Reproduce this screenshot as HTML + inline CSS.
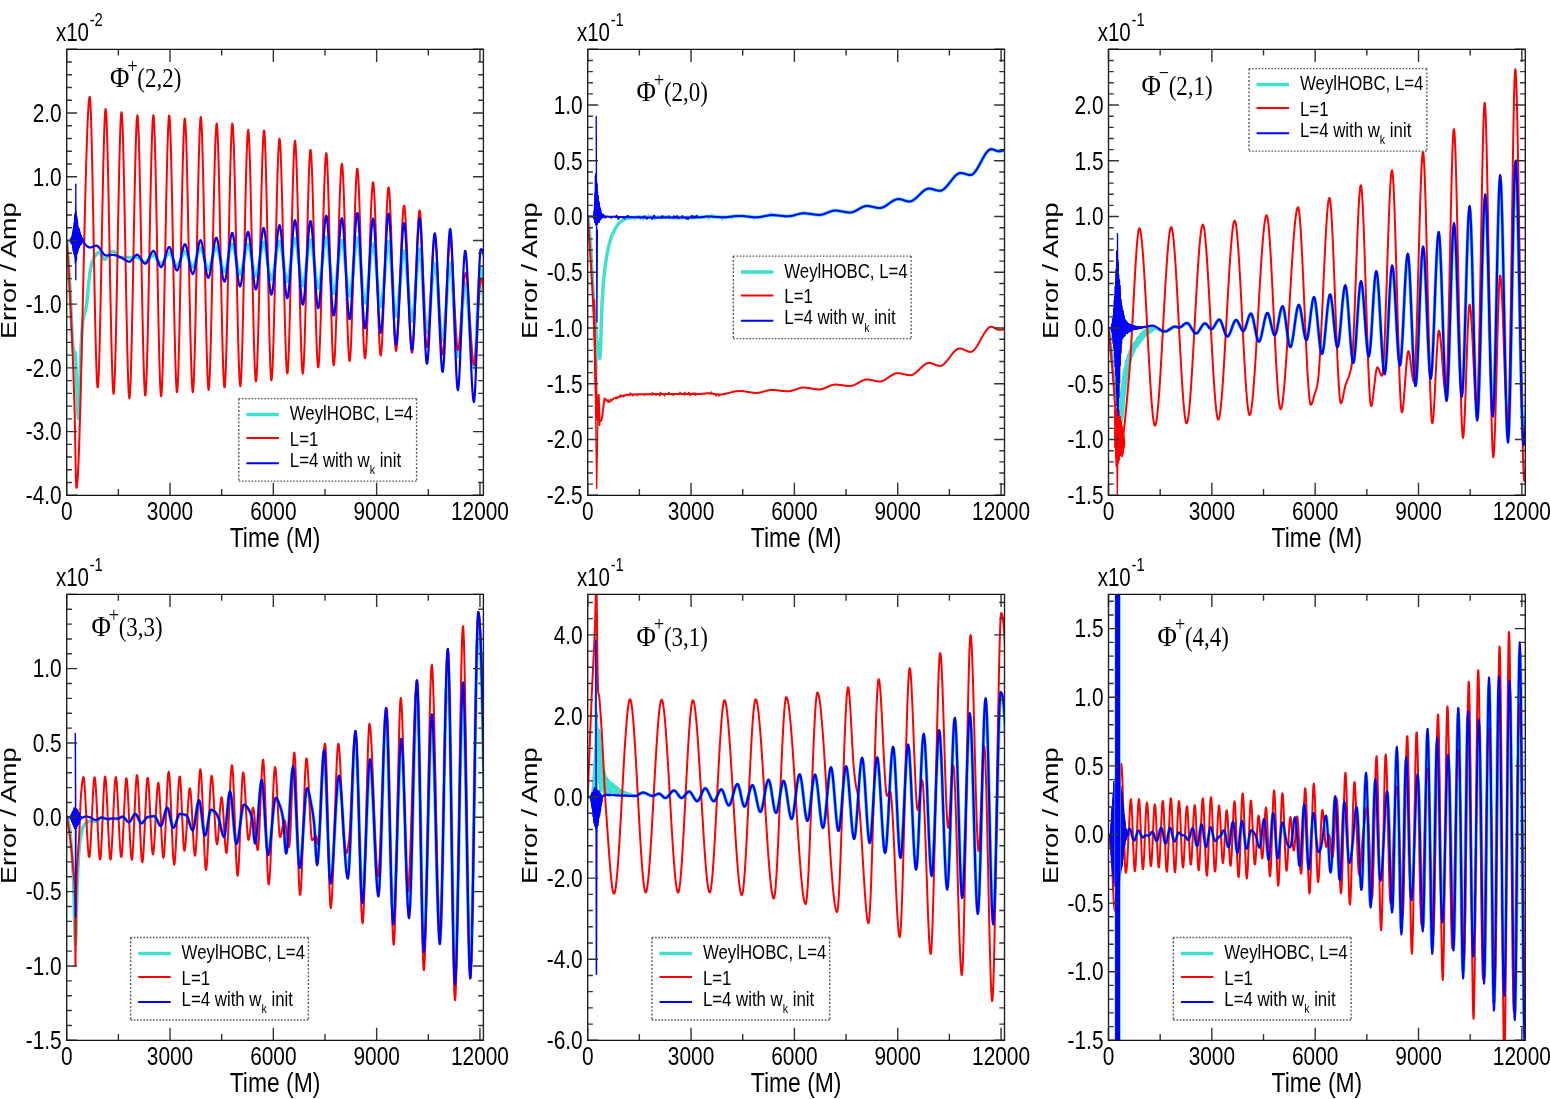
<!DOCTYPE html><html><head><meta charset="utf-8"><title>Error / Amp plots</title><style>html,body{margin:0;padding:0;background:#fff;width:1550px;height:1099px;overflow:hidden}svg{display:block}</style></head><body><svg width="1550" height="1099" viewBox="0 0 1550 1099">
<rect width="1550" height="1099" fill="#fff"/>
<clipPath id="c0"><rect x="66.7" y="49.3" width="416.7" height="446"/></clipPath>
<clipPath id="c1"><rect x="587.7" y="49.3" width="416.8" height="446"/></clipPath>
<clipPath id="c2"><rect x="1108.5" y="49.3" width="416.8" height="446"/></clipPath>
<clipPath id="c3"><rect x="66.7" y="594.35" width="416.7" height="445.95"/></clipPath>
<clipPath id="c4"><rect x="587.7" y="594.35" width="416.8" height="445.95"/></clipPath>
<clipPath id="c5"><rect x="1108.5" y="594.35" width="416.8" height="445.95"/></clipPath>
<g clip-path="url(#c0)" fill="none" stroke-linejoin="round" stroke-linecap="round"><path d="M66.7 240.4L67.1 245.4L67.5 250.8L67.9 256.4L68.3 262.4L68.7 268.5L69.1 274.9L69.5 281.5L69.9 288.3L70.3 295.6L70.7 303.9L71.1 312.8L71.5 321.7L71.9 329.9L72.3 337L72.7 342.8L73.1 348.6L73.5 353.4L73.9 355.9L74.3 355.4L74.7 353.5L75.1 352.1L75.5 354.7L75.9 364L76.3 375.3L76.7 384.4L77.1 394.5L77.5 404.6L77.9 413.2L78.3 418.3L78.7 417.7L79.1 409.2L79.5 396.1L79.9 382.8L80.3 371.3L80.7 358.7L81.1 346.9L81.5 338L81.9 331.7L82.3 326.5L82.7 322.3L83.1 319.4L83.5 317.2L83.9 315.5L84.3 314.1L84.7 312.8L85.1 311.5L85.5 310.1L85.9 308.3L86.3 306.1L86.7 303.2L87.1 299.8L87.5 295.9L87.9 291.8L88.3 287.5L88.7 283.3L89.1 279.3L89.5 275.7L89.9 272.5L90.3 270L90.7 268.1L91.1 266.5L91.5 265L91.9 263.5L92.3 262.2L92.7 260.9L93.1 259.8L93.5 258.8L93.9 257.9L94.3 257.1L94.7 256.4L95.1 255.9L95.5 255.3L95.9 254.8L96.3 254.4L96.7 253.9L97.1 253.5L97.5 253.2L97.9 252.9L98.3 252.6L98.7 252.5L99.1 252.4L99.5 252.5L99.9 252.7L100.3 253.1L100.7 253.7L101.1 254.3L101.5 255L101.9 255.8L102.3 256.6L102.7 257.3L103.1 258L103.5 258.5L103.9 259L104.3 259.3L104.7 259.4L105.1 259.3L105.5 259.1L105.9 258.7L106.3 258.2L106.7 257.6L107.1 257L107.5 256.4L107.9 255.7L108.3 255L108.7 254.4L109.1 253.9L109.5 253.4L109.9 253.1L110.3 252.8L110.7 252.6L111.1 252.3L111.5 252.1L111.9 251.9L112.3 251.8L112.7 251.7L113.1 251.6L113.5 251.6L113.9 251.8L114.3 252L114.7 252.3L115.1 252.7L115.5 253.2L115.9 253.7L116.3 254.2L116.7 254.7L117.1 255.2L117.5 255.7L117.9 256.2L118.3 256.6L118.7 256.9L119.1 257.2L119.5 257.4L119.9 257.5L120.3 257.5L120.7 257.5L121.1 257.5L121.5 257.5L121.9 257.5L122.3 257.5L122.7 257.5L123.1 257.5L123.5 257.5L123.9 257.5L124.3 257.5L124.7 257.5L125.1 257.5L125.5 257.5L125.9 257.5L126.3 257.5L126.7 257.5L127.1 257.5L127.5 257.5L127.9 257.5L128.3 257.5L128.7 257.5L129.1 257.5L129.5 257.5L129.9 257.5L130.3 257.5L130.7 257.5L131.1 257.5L131.5 257.5L131.9 257.5L132.3 257.5L132.7 257.5L133.1 257.5L133.5 257.5L133.9 257.5L134.3 257.5L134.7 257.5L135.1 257.5L135.5 257.5L135.9 257.5L136.3 257.5L136.7 257.5L137.1 257.5L137.5 257.5L137.9 257.7L138.3 257.8L138.7 258L139.1 258.3L139.5 258.5L139.9 258.8L140.3 259.2L140.7 259.5L141.1 259.8L141.5 260.2L141.9 260.5L142.3 260.8L142.7 261.1L143.1 261.4L143.5 261.7L143.9 261.9L144.3 262.1L144.7 262.2L145.1 262.2L145.5 262.2L145.9 262.1L146.3 262L146.7 261.7L147.1 261.4L147.5 261L147.9 260.5L148.3 260.1L148.7 259.6L149.1 259L149.5 258.5L149.9 258L150.3 257.5L150.7 257L151.1 256.6L151.5 256.1L151.9 255.8L152.3 255.5L152.7 255.3L153.1 255.2L153.5 255.2L153.9 255.3L154.3 255.5L154.7 255.8L155.1 256.3L155.5 256.8L155.9 257.4L156.3 258L156.7 258.6L157.1 259.3L157.5 260L157.9 260.7L158.3 261.4L158.7 262L159.1 262.5L159.5 263L159.9 263.4L160.3 263.7L160.7 263.9L161.1 264L161.5 263.9L161.9 263.7L162.3 263.4L162.7 262.9L163.1 262.4L163.5 261.7L163.9 261L164.3 260.3L164.7 259.5L165.1 258.7L165.5 257.9L165.9 257.1L166.3 256.3L166.7 255.5L167.1 254.9L167.5 254.3L167.9 253.8L168.3 253.4L168.7 253.1L169.1 252.9L169.5 252.9L169.9 253.1L170.3 253.5L170.7 254L171.1 254.7L171.5 255.5L171.9 256.3L172.3 257.3L172.7 258.3L173.1 259.3L173.5 260.3L173.9 261.3L174.3 262.2L174.7 263.1L175.1 263.9L175.5 264.6L175.9 265.2L176.3 265.6L176.7 265.8L177.1 265.9L177.5 265.7L177.9 265.4L178.3 264.9L178.7 264.2L179.1 263.4L179.5 262.6L179.9 261.6L180.3 260.6L180.7 259.5L181.1 258.4L181.5 257.4L181.9 256.3L182.3 255.3L182.7 254.4L183.1 253.6L183.5 252.8L183.9 252.3L184.3 251.8L184.7 251.6L185.1 251.5L185.5 251.7L185.9 252.1L186.3 252.7L186.7 253.4L187.1 254.3L187.5 255.3L187.9 256.3L188.3 257.5L188.7 258.6L189.1 259.8L189.5 261L189.9 262.1L190.3 263.2L190.7 264.2L191.1 265L191.5 265.8L191.9 266.3L192.3 266.7L192.7 266.9L193.1 266.8L193.5 266.5L193.9 265.9L194.3 265.1L194.7 264.1L195.1 262.9L195.5 261.6L195.9 260.2L196.3 258.8L196.7 257.4L197.1 255.9L197.5 254.5L197.9 253.1L198.3 251.9L198.7 250.8L199.1 249.8L199.5 249L199.9 248.5L200.3 248.2L200.7 248.2L201.1 248.5L201.5 249.1L201.9 250L202.3 251L202.7 252.2L203.1 253.6L203.5 255.1L203.9 256.6L204.3 258.2L204.7 259.9L205.1 261.4L205.5 263L205.9 264.4L206.3 265.7L206.7 266.8L207.1 267.8L207.5 268.5L207.9 269L208.3 269.1L208.7 269L209.1 268.5L209.5 267.8L209.9 266.8L210.3 265.7L210.7 264.4L211.1 262.9L211.5 261.4L211.9 259.8L212.3 258.2L212.7 256.5L213.1 254.9L213.5 253.4L213.9 251.9L214.3 250.6L214.7 249.5L215.1 248.5L215.5 247.8L215.9 247.3L216.3 247.2L216.7 247.4L217.1 247.8L217.5 248.6L217.9 249.6L218.3 250.8L218.7 252.2L219.1 253.7L219.5 255.3L219.9 257.1L220.3 258.8L220.7 260.6L221.1 262.3L221.5 264L221.9 265.6L222.3 267L222.7 268.3L223.1 269.5L223.5 270.3L223.9 271L224.3 271.3L224.7 271.3L225.1 270.9L225.5 270.1L225.9 269L226.3 267.6L226.7 266L227.1 264.2L227.5 262.2L227.9 260.2L228.3 258.1L228.7 256L229.1 253.9L229.5 252L229.9 250.1L230.3 248.5L230.7 247L231.1 245.8L231.5 245L231.9 244.5L232.3 244.4L232.7 244.7L233.1 245.4L233.5 246.6L233.9 248L234.3 249.7L234.7 251.6L235.1 253.7L235.5 255.9L235.9 258.1L236.3 260.4L236.7 262.7L237.1 264.9L237.5 267L237.9 268.9L238.3 270.6L238.7 272L239.1 273.1L239.5 273.9L239.9 274.2L240.3 274.1L240.7 273.6L241.1 272.7L241.5 271.5L241.9 270L242.3 268.3L242.7 266.4L243.1 264.3L243.5 262.1L243.9 259.9L244.3 257.7L244.7 255.5L245.1 253.4L245.5 251.4L245.9 249.6L246.3 248L246.7 246.6L247.1 245.6L247.5 244.8L247.9 244.5L248.3 244.6L248.7 245.2L249.1 246.2L249.5 247.5L249.9 249.1L250.3 251L250.7 253.1L251.1 255.3L251.5 257.6L251.9 260L252.3 262.4L252.7 264.8L253.1 267L253.5 269.1L253.9 271.1L254.3 272.7L254.7 274.1L255.1 275.2L255.5 275.9L255.9 276.1L256.3 275.8L256.7 275.1L257.1 273.9L257.5 272.3L257.9 270.5L258.3 268.3L258.7 266L259.1 263.5L259.5 260.9L259.9 258.3L260.3 255.7L260.7 253.1L261.1 250.8L261.5 248.6L261.9 246.6L262.3 245L262.7 243.7L263.1 242.8L263.5 242.4L263.9 242.6L264.3 243.2L264.7 244.4L265.1 246L265.5 247.9L265.9 250.1L266.3 252.6L266.7 255.3L267.1 258L267.5 260.9L267.9 263.7L268.3 266.5L268.7 269.1L269.1 271.6L269.5 273.8L269.9 275.7L270.3 277.3L270.7 278.5L271.1 279.1L271.5 279.3L271.9 278.9L272.3 278L272.7 276.7L273.1 275L273.5 273L273.9 270.7L274.3 268.2L274.7 265.5L275.1 262.7L275.5 259.9L275.9 257.1L276.3 254.4L276.7 251.7L277.1 249.3L277.5 247L277.9 245.1L278.3 243.5L278.7 242.3L279.1 241.5L279.5 241.2L279.9 241.5L280.3 242.4L280.7 243.8L281.1 245.6L281.5 247.8L281.9 250.3L282.3 253L282.7 255.9L283.1 258.9L283.5 262L283.9 265.1L284.3 268.1L284.7 270.9L285.1 273.5L285.5 275.9L285.9 277.9L286.3 279.5L286.7 280.6L287.1 281.2L287.5 281.2L287.9 280.5L288.3 279.3L288.7 277.5L289.1 275.3L289.5 272.8L289.9 269.9L290.3 266.8L290.7 263.6L291.1 260.3L291.5 256.9L291.9 253.7L292.3 250.5L292.7 247.6L293.1 245L293.5 242.7L293.9 240.8L294.3 239.4L294.7 238.6L295.1 238.4L295.5 239L295.9 240.2L296.3 241.9L296.7 244.2L297.1 246.9L297.5 249.9L297.9 253.2L298.3 256.7L298.7 260.3L299.1 263.9L299.5 267.5L299.9 271L300.3 274.3L300.7 277.3L301.1 280L301.5 282.2L301.9 284L302.3 285.2L302.7 285.7L303.1 285.5L303.5 284.7L303.9 283.2L304.3 281.2L304.7 278.8L305.1 276L305.5 272.8L305.9 269.5L306.3 266L306.7 262.5L307.1 258.9L307.5 255.5L307.9 252.2L308.3 249.1L308.7 246.4L309.1 244.1L309.5 242.2L309.9 240.9L310.3 240.2L310.7 240.2L311.1 240.9L311.5 242.3L311.9 244.3L312.3 246.7L312.7 249.6L313.1 252.8L313.5 256.2L313.9 259.9L314.3 263.6L314.7 267.3L315.1 271L315.5 274.5L315.9 277.8L316.3 280.7L316.7 283.3L317.1 285.4L317.5 286.9L317.9 287.8L318.3 288L318.7 287.5L319.1 286.3L319.5 284.5L319.9 282.3L320.3 279.6L320.7 276.5L321.1 273.2L321.5 269.7L321.9 266L322.3 262.2L322.7 258.5L323.1 254.8L323.5 251.3L323.9 248.1L324.3 245.1L324.7 242.5L325.1 240.4L325.5 238.7L325.9 237.7L326.3 237.4L326.7 237.8L327.1 239.2L327.5 241.3L327.9 244.1L328.3 247.4L328.7 251.2L329.1 255.4L329.5 259.7L329.9 264.2L330.3 268.8L330.7 273.2L331.1 277.5L331.5 281.5L331.9 285.1L332.3 288.1L332.7 290.6L333.1 292.4L333.5 293.3L333.9 293.3L334.3 292.6L334.7 291.2L335.1 289.3L335.5 286.9L335.9 284L336.3 280.8L336.7 277.3L337.1 273.7L337.5 269.9L337.9 266L338.3 262.1L338.7 258.4L339.1 254.8L339.5 251.5L339.9 248.4L340.3 245.8L340.7 243.6L341.1 241.9L341.5 240.9L341.9 240.5L342.3 241L342.7 242.2L343.1 244.1L343.5 246.7L343.9 249.8L344.3 253.3L344.7 257.2L345.1 261.3L345.5 265.5L345.9 269.8L346.3 274.1L346.7 278.2L347.1 282.2L347.5 285.8L347.9 289L348.3 291.7L348.7 293.8L349.1 295.2L349.5 295.8L349.9 295.6L350.3 294.5L350.7 292.6L351.1 290.1L351.5 287L351.9 283.4L352.3 279.4L352.7 275.2L353.1 270.8L353.5 266.2L353.9 261.7L354.3 257.4L354.7 253.2L355.1 249.3L355.5 245.8L355.9 242.8L356.3 240.4L356.7 238.8L357.1 237.9L357.5 237.9L357.9 238.9L358.3 240.8L358.7 243.4L359.1 246.8L359.5 250.7L359.9 255L360.3 259.7L360.7 264.7L361.1 269.7L361.5 274.8L361.9 279.8L362.3 284.5L362.7 289L363.1 293L363.5 296.5L363.9 299.4L364.3 301.4L364.7 302.7L365.1 302.9L365.5 302.3L365.9 300.9L366.3 298.9L366.7 296.2L367.1 293.1L367.5 289.5L367.9 285.6L368.3 281.5L368.7 277.2L369.1 272.8L369.5 268.5L369.9 264.2L370.3 260.1L370.7 256.3L371.1 252.8L371.5 249.8L371.9 247.3L372.3 245.4L372.7 244.2L373.1 243.8L373.5 244.3L373.9 245.7L374.3 248L374.7 251L375.1 254.6L375.5 258.6L375.9 263.1L376.3 267.8L376.7 272.7L377.1 277.7L377.5 282.6L377.9 287.3L378.3 291.8L378.7 295.8L379.1 299.4L379.5 302.4L379.9 304.7L380.3 306.1L380.7 306.6L381.1 306.1L381.5 304.7L381.9 302.6L382.3 299.7L382.7 296.2L383.1 292.3L383.5 287.9L383.9 283.3L384.3 278.5L384.7 273.5L385.1 268.6L385.5 263.8L385.9 259.3L386.3 255L386.7 251.2L387.1 247.8L387.5 245.1L387.9 243.1L388.3 242L388.7 241.7L389.1 242.7L389.5 244.7L389.9 247.8L390.3 251.7L390.7 256.3L391.1 261.5L391.5 267.1L391.9 272.9L392.3 279L392.7 285L393.1 290.9L393.5 296.5L393.9 301.6L394.3 306.3L394.7 310.2L395.1 313.2L395.5 315.3L395.9 316.2L396.3 316L396.7 314.9L397.1 313L397.5 310.4L397.9 307.2L398.3 303.5L398.7 299.3L399.1 294.9L399.5 290.2L399.9 285.4L400.3 280.6L400.7 275.8L401.1 271.2L401.5 266.9L401.9 262.8L402.3 259.2L402.7 256.2L403.1 253.7L403.5 252L403.9 251.1L404.3 251.1L404.7 252.2L405.1 254.1L405.5 256.8L405.9 260.2L406.3 264.3L406.7 268.8L407.1 273.6L407.5 278.7L407.9 284L408.3 289.3L408.7 294.6L409.1 299.6L409.5 304.4L409.9 308.8L410.3 312.7L410.7 315.9L411.1 318.5L411.5 320.2L411.9 321L412.3 320.7L412.7 319.3L413.1 316.9L413.5 313.7L413.9 309.8L414.3 305.3L414.7 300.3L415.1 294.9L415.5 289.3L415.9 283.7L416.3 278.1L416.7 272.6L417.1 267.4L417.5 262.6L417.9 258.4L418.3 254.8L418.7 252L419.1 250.1L419.5 249.2L419.9 249.6L420.3 251.4L420.7 254.3L421.1 258.3L421.5 263.2L421.9 268.8L422.3 275L422.7 281.6L423.1 288.4L423.5 295.2L423.9 302L424.3 308.5L424.7 314.5L425.1 320L425.5 324.7L425.9 328.4L426.3 331.1L426.7 332.5L427.1 332.6L427.5 331.6L427.9 329.6L428.3 326.9L428.7 323.6L429.1 319.6L429.5 315.1L429.9 310.3L430.3 305.3L430.7 300.1L431.1 294.8L431.5 289.6L431.9 284.6L432.3 279.9L432.7 275.6L433.1 271.7L433.5 268.5L433.9 266L434.3 264.3L434.7 263.5L435.1 263.8L435.5 265.3L435.9 267.7L436.3 270.9L436.7 275L437.1 279.6L437.5 284.7L437.9 290.2L438.3 296L438.7 301.9L439.1 307.8L439.5 313.5L439.9 319L440.3 324.2L440.7 328.8L441.1 332.8L441.5 336.1L441.9 338.5L442.3 339.9L442.7 340.2L443.1 339.3L443.5 337.3L443.9 334.3L444.3 330.4L444.7 325.8L445.1 320.7L445.5 315.1L445.9 309.2L446.3 303.2L446.7 297.1L447.1 291.1L447.5 285.4L447.9 280L448.3 275.1L448.7 270.9L449.1 267.5L449.5 264.9L449.9 263.4L450.3 263.1L450.7 264.2L451.1 266.6L451.5 270.1L451.9 274.7L452.3 280.1L452.7 286.2L453.1 292.8L453.5 299.8L453.9 307L454.3 314.2L454.7 321.4L455.1 328.3L455.5 334.8L455.9 340.7L456.3 345.9L456.7 350.3L457.1 353.5L457.5 355.6L457.9 356.3L458.3 355.7L458.7 353.9L459.1 351.1L459.5 347.4L459.9 342.9L460.3 337.9L460.7 332.4L461.1 326.6L461.5 320.6L461.9 314.7L462.3 308.8L462.7 303.2L463.1 298L463.5 293.4L463.9 289.5L464.3 286.5L464.7 284.4L465.1 283.5L465.5 283.7L465.9 285L466.3 287.1L466.7 290.1L467.1 293.7L467.5 298L467.9 302.8L468.3 307.9L468.7 313.4L469.1 319.1L469.5 324.9L469.9 330.7L470.3 336.4L470.7 341.9L471.1 347.2L471.5 352.1L471.9 356.5L472.3 360.3L472.7 363.4L473.1 365.8L473.5 367.3L473.9 367.8L474.3 366.8L474.7 364.1L475.1 359.8L475.5 354.2L475.9 347.5L476.3 339.9L476.7 331.8L477.1 323.2L477.5 314.6L477.9 306L478.3 297.7L478.7 290L479.1 283L479.5 277.1L479.9 272.5L480.3 269.3L480.7 267.9L481.1 268.3L481.5 270.2L481.9 273.6L482.3 278.4L482.7 284.2L483.1 291.2L483.5 299.1L483.9 307.7L484.3 317.1L484.5 322" stroke="#40e0d0" stroke-width="3.5"/><path d="M66.7 240.4L67.1 245.4L67.5 250.9L67.9 256.8L68.3 263.2L68.7 270L69.1 277.2L69.5 284.8L69.9 292.7L70.3 300.9L70.7 309.3L71.1 318L71.5 326.9L71.9 336L72.3 345.3L72.7 354.8L73.1 364.8L73.5 375.7L73.9 387.3L74.3 399.9L74.7 413.8L75.1 433.8L75.5 457L75.9 477L76.3 487.8L76.7 487.7L77.1 485.2L77.5 480.7L77.9 474.5L78.3 466.6L78.7 457.2L79.1 446.4L79.5 434.4L79.9 421.2L80.3 407L80.7 391.9L81.1 376.1L81.5 359.7L81.9 342.7L82.3 325.4L82.7 307.9L83.1 290.2L83.5 272.6L83.9 255.1L84.3 237.9L84.7 221.1L85.1 204.8L85.5 189.1L85.9 174.3L86.3 160.3L86.7 147.4L87.1 135.7L87.5 125.2L87.9 116.2L88.3 108.7L88.7 102.9L89.1 98.9L89.5 96.9L89.9 97.1L90.3 101.3L90.7 109.1L91.1 120.2L91.5 134.2L91.9 150.5L92.3 168.9L92.7 188.7L93.1 209.6L93.5 231.2L93.9 253.1L94.3 274.7L94.7 295.6L95.1 315.4L95.5 333.8L95.9 350.1L96.3 364.1L96.7 375.2L97.1 383L97.5 387.2L97.9 387.2L98.3 383.1L98.7 375.4L99.1 364.5L99.5 350.9L99.9 334.9L100.3 317L100.7 297.7L101.1 277.3L101.5 256.3L101.9 235.1L102.3 214.3L102.7 194.1L103.1 175.1L103.5 157.6L103.9 142.2L104.3 129.2L104.7 119L105.1 112.2L105.5 109.1L105.9 110.2L106.3 115.2L106.7 123.7L107.1 135.3L107.5 149.6L107.9 166.1L108.3 184.5L108.7 204.2L109.1 224.9L109.5 246.1L109.9 267.4L110.3 288.5L110.7 308.7L111.1 327.8L111.5 345.3L111.9 360.8L112.3 373.8L112.7 383.9L113.1 390.7L113.5 393.8L113.9 392.7L114.3 387.7L114.7 379L115.1 367.3L115.5 352.9L115.9 336.2L116.3 317.7L116.7 297.8L117.1 277L117.5 255.7L117.9 234.4L118.3 213.4L118.7 193.3L119.1 174.4L119.5 157.2L119.9 142.2L120.3 129.7L120.7 120.3L121.1 114.3L121.5 112.2L121.9 114.3L122.3 120.4L122.7 130L123.1 142.7L123.5 158L123.9 175.4L124.3 194.6L124.7 215.1L125.1 236.4L125.5 258.1L125.9 279.7L126.3 300.8L126.7 321L127.1 339.8L127.5 356.8L127.9 371.5L128.3 383.4L128.7 392.2L129.1 397.3L129.5 398.4L129.9 395.3L130.3 388.6L130.7 378.5L131.1 365.6L131.5 350.2L131.9 332.8L132.3 313.8L132.7 293.7L133.1 272.8L133.5 251.6L133.9 230.5L134.3 209.9L134.7 190.3L135.1 172.1L135.5 155.6L135.9 141.4L136.3 129.9L136.7 121.4L137.1 116.5L137.5 115.4L137.9 118.5L138.3 125.4L138.7 135.6L139.1 148.7L139.5 164.2L139.9 181.8L140.3 200.9L140.7 221.2L141.1 242.3L141.5 263.5L141.9 284.7L142.3 305.2L142.7 324.7L143.1 342.7L143.5 358.7L143.9 372.5L144.3 383.5L144.7 391.2L145.1 395.3L145.5 395.3L145.9 391.4L146.3 384L146.7 373.5L147.1 360.4L147.5 344.9L147.9 327.6L148.3 308.8L148.7 288.9L149.1 268.4L149.5 247.7L149.9 227L150.3 207L150.7 187.9L151.1 170.1L151.5 154.2L151.9 140.4L152.3 129.2L152.7 121L153.1 116.2L153.5 115.2L153.9 118.5L154.3 125.7L154.7 136.4L155.1 150.2L155.5 166.4L155.9 184.8L156.3 204.7L156.7 225.7L157.1 247.4L157.5 269.3L157.9 290.9L158.3 311.7L158.7 331.3L159.1 349.2L159.5 364.8L159.9 377.8L160.3 387.7L160.7 394L161.1 396.2L161.5 394.2L161.9 388.5L162.3 379.5L162.7 367.6L163.1 353.3L163.5 336.8L163.9 318.7L164.3 299.3L164.7 279.1L165.1 258.4L165.5 237.6L165.9 217.2L166.3 197.5L166.7 179.1L167.1 162.2L167.5 147.2L167.9 134.7L168.3 124.9L168.7 118.4L169.1 115.4L169.5 116.5L169.9 121.6L170.3 130.3L170.7 142.1L171.1 156.6L171.5 173.4L171.9 191.9L172.3 211.8L172.7 232.6L173.1 253.8L173.5 275L173.9 295.8L174.3 315.7L174.7 334.2L175.1 351L175.5 365.5L175.9 377.3L176.3 386L176.7 391.1L177.1 392.2L177.5 389.1L177.9 382.2L178.3 372L178.7 358.9L179.1 343.4L179.5 325.9L179.9 306.8L180.3 286.7L180.7 265.8L181.1 244.8L181.5 223.9L181.9 203.8L182.3 184.7L182.7 167.2L183.1 151.7L183.5 138.6L183.9 128.4L184.3 121.5L184.7 118.4L185.1 119.4L185.5 124.2L185.9 132.4L186.3 143.6L186.7 157.3L187.1 173.2L187.5 190.9L187.9 209.8L188.3 229.7L188.7 250.2L189.1 270.7L189.5 290.9L189.9 310.4L190.3 328.8L190.7 345.6L191.1 360.4L191.5 372.9L191.9 382.7L192.3 389.2L192.7 392.2L193.1 391.2L193.5 386.3L193.9 378.1L194.3 366.9L194.7 353.1L195.1 337.1L195.5 319.4L195.9 300.3L196.3 280.3L196.7 259.8L197.1 239.1L197.5 218.8L197.9 199.2L198.3 180.8L198.7 163.9L199.1 148.9L199.5 136.4L199.9 126.6L200.3 120L200.7 117L201.1 118.1L201.5 123.1L201.9 131.7L202.3 143.3L202.7 157.6L203.1 174.1L203.5 192.4L203.9 212L204.3 232.5L204.7 253.5L205.1 274.4L205.5 294.9L205.9 314.5L206.3 332.8L206.7 349.3L207.1 363.6L207.5 375.2L207.9 383.8L208.3 388.8L208.7 389.9L209.1 387.1L209.5 380.9L209.9 371.6L210.3 359.7L210.7 345.5L211.1 329.5L211.5 312L211.9 293.3L212.3 273.9L212.7 254.2L213.1 234.6L213.5 215.4L213.9 196.9L214.3 179.7L214.7 164.1L215.1 150.5L215.5 139.2L215.9 130.7L216.3 125.3L216.7 123.4L217.1 125.4L217.5 131.2L217.9 140.2L218.3 152.2L218.7 166.6L219.1 183.1L219.5 201.1L219.9 220.4L220.3 240.3L220.7 260.6L221.1 280.8L221.5 300.5L221.9 319.2L222.3 336.5L222.7 352L223.1 365.2L223.5 375.8L223.9 383.2L224.3 387.2L224.7 387.2L225.1 383.4L225.5 376.1L225.9 365.7L226.3 352.8L226.7 337.6L227.1 320.7L227.5 302.3L227.9 283L228.3 263.1L228.7 243L229.1 223.2L229.5 204.1L229.9 186.1L230.3 169.5L230.7 154.8L231.1 142.5L231.5 132.9L231.9 126.4L232.3 123.5L232.7 124.5L233.1 129.2L233.5 137.3L233.9 148.2L234.3 161.7L234.7 177.3L235.1 194.5L235.5 213L235.9 232.4L236.3 252.3L236.7 272.2L237.1 291.8L237.5 310.6L237.9 328.2L238.3 344.2L238.7 358.2L239.1 369.9L239.5 378.7L239.9 384.2L240.3 386.2L240.7 384.3L241.1 378.8L241.5 370.2L241.9 358.9L242.3 345.2L242.7 329.6L243.1 312.4L243.5 294.1L243.9 275L244.3 255.6L244.7 236.2L245.1 217.3L245.5 199.2L245.9 182.3L246.3 167.2L246.7 154L247.1 143.3L247.5 135.5L247.9 130.9L248.3 129.9L248.7 132.8L249.1 139.3L249.5 148.9L249.9 161.2L250.3 175.8L250.7 192.2L251.1 210L251.5 228.9L251.9 248.3L252.3 267.9L252.7 287.2L253.1 305.9L253.5 323.4L253.9 339.4L254.3 353.4L254.7 365.1L255.1 373.9L255.5 379.5L255.9 381.5L256.3 379.8L256.7 374.8L257.1 366.9L257.5 356.5L257.9 343.9L258.3 329.5L258.7 313.6L259.1 296.6L259.5 278.7L259.9 260.4L260.3 242.1L260.7 224L261.1 206.5L261.5 190L261.9 174.8L262.3 161.2L262.7 149.7L263.1 140.5L263.5 134L263.9 130.6L264.3 130.8L264.7 135L265.1 143L265.5 154.3L265.9 168.3L266.3 184.7L266.7 202.8L267.1 222.3L267.5 242.5L267.9 263.1L268.3 283.4L268.7 303.1L269.1 321.6L269.5 338.5L269.9 353.1L270.3 365.2L270.7 374L271.1 379.3L271.5 380.4L271.9 377.8L272.3 372.2L272.7 363.8L273.1 353L273.5 340.2L273.9 325.6L274.3 309.7L274.7 292.8L275.1 275.2L275.5 257.3L275.9 239.5L276.3 222L276.7 205.3L277.1 189.7L277.5 175.6L277.9 163.2L278.3 153L278.7 145.2L279.1 140.3L279.5 138.6L279.9 140.4L280.3 145.5L280.7 153.6L281.1 164.2L281.5 177.1L281.9 191.7L282.3 207.8L282.7 224.9L283.1 242.7L283.5 260.7L283.9 278.7L284.3 296.2L284.7 312.8L285.1 328.2L285.5 342L285.9 353.8L286.3 363.2L286.7 369.8L287.1 373.3L287.5 373.3L287.9 369.8L288.3 363L288.7 353.5L289.1 341.6L289.5 327.6L289.9 312L290.3 295.3L290.7 277.6L291.1 259.6L291.5 241.5L291.9 223.7L292.3 206.7L292.7 190.7L293.1 176.4L293.5 163.9L293.9 153.7L294.3 146.2L294.7 141.8L295.1 140.9L295.5 143.5L295.9 149.4L296.3 158.1L296.7 169.2L297.1 182.4L297.5 197.3L297.9 213.5L298.3 230.6L298.7 248.3L299.1 266.3L299.5 284L299.9 301.1L300.3 317.3L300.7 332.2L301.1 345.4L301.5 356.5L301.9 365.2L302.3 371.1L302.7 373.7L303.1 372.8L303.5 368.6L303.9 361.4L304.3 351.6L304.7 339.6L305.1 325.7L305.5 310.4L305.9 294L306.3 276.9L306.7 259.5L307.1 242.1L307.5 225.1L307.9 209L308.3 194L308.7 180.5L309.1 169L309.5 159.9L309.9 153.4L310.3 149.9L310.7 149.9L311.1 153.3L311.5 159.6L311.9 168.5L312.3 179.7L312.7 192.7L313.1 207.3L313.5 223L313.9 239.5L314.3 256.4L314.7 273.3L315.1 289.9L315.5 305.9L315.9 320.8L316.3 334.2L316.7 345.9L317.1 355.4L317.5 362.4L317.9 366.5L318.3 367.4L318.7 365.2L319.1 360.1L319.5 352.7L319.9 343.1L320.3 331.7L320.7 318.8L321.1 304.7L321.5 289.7L321.9 274.2L322.3 258.3L322.7 242.5L323.1 227L323.5 212.2L323.9 198.4L324.3 185.9L324.7 174.9L325.1 165.8L325.5 159L325.9 154.6L326.3 153.1L326.7 154.9L327.1 160L327.5 168.1L327.9 178.6L328.3 191.3L328.7 205.7L329.1 221.3L329.5 237.9L329.9 255L330.3 272.2L330.7 289.1L331.1 305.3L331.5 320.4L331.9 334L332.3 345.7L332.7 355L333.1 361.6L333.5 365.1L333.9 365.2L334.3 362.5L334.7 357.3L335.1 350L335.5 340.7L335.9 329.8L336.3 317.6L336.7 304.3L337.1 290.3L337.5 275.8L337.9 261L338.3 246.3L338.7 232L339.1 218.3L339.5 205.5L339.9 194L340.3 183.9L340.7 175.5L341.1 169.2L341.5 165.2L341.9 163.8L342.3 165.3L342.7 169.7L343.1 176.7L343.5 185.8L343.9 196.8L344.3 209.4L344.7 223.1L345.1 237.7L345.5 252.9L345.9 268.2L346.3 283.4L346.7 298.2L347.1 312.2L347.5 325.1L347.9 336.5L348.3 346.1L348.7 353.6L349.1 358.7L349.5 361L349.9 360.2L350.3 356.6L350.7 350.4L351.1 342L351.5 331.7L351.9 319.8L352.3 306.6L352.7 292.5L353.1 277.9L353.5 262.9L353.9 247.9L354.3 233.4L354.7 219.5L355.1 206.6L355.5 195.1L355.9 185.2L356.3 177.3L356.7 171.7L357.1 168.8L357.5 168.8L357.9 171.7L358.3 177.2L358.7 185L359.1 194.7L359.5 206.1L359.9 218.8L360.3 232.5L360.7 246.8L361.1 261.5L361.5 276.3L361.9 290.8L362.3 304.7L362.7 317.7L363.1 329.4L363.5 339.6L363.9 347.9L364.3 354L364.7 357.6L365.1 358.3L365.5 356.5L365.9 352.4L366.3 346.2L366.7 338.4L367.1 329L367.5 318.4L367.9 306.8L368.3 294.5L368.7 281.7L369.1 268.7L369.5 255.7L369.9 243L370.3 230.8L370.7 219.4L371.1 209.1L371.5 200.1L371.9 192.7L372.3 187L372.7 183.4L373.1 182.2L373.5 183.6L373.9 187.6L374.3 193.8L374.7 202L375.1 211.9L375.5 223.2L375.9 235.5L376.3 248.5L376.7 262.1L377.1 275.7L377.5 289.3L377.9 302.3L378.3 314.6L378.7 325.9L379.1 335.8L379.5 344L379.9 350.2L380.3 354.2L380.7 355.6L381.1 354.3L381.5 350.8L381.9 345.1L382.3 337.7L382.7 328.7L383.1 318.4L383.5 307.2L383.9 295.1L384.3 282.6L384.7 269.9L385.1 257.1L385.5 244.7L385.9 232.8L386.3 221.8L386.7 211.8L387.1 203.2L387.5 196.2L387.9 191L388.3 188L388.7 187.4L389.1 189.4L389.5 194L389.9 200.7L390.3 209.3L390.7 219.4L391.1 230.8L391.5 243.1L391.9 256L392.3 269.2L392.7 282.4L393.1 295.3L393.5 307.6L393.9 319L394.3 329.1L394.7 337.7L395.1 344.4L395.5 349L395.9 351L396.3 350.5L396.7 348L397.1 343.8L397.5 338L397.9 330.8L398.3 322.5L398.7 313.4L399.1 303.4L399.5 293L399.9 282.3L400.3 271.6L400.7 260.9L401.1 250.6L401.5 240.9L401.9 231.9L402.3 223.9L402.7 217L403.1 211.6L403.5 207.8L403.9 205.8L404.3 205.8L404.7 207.9L405.1 212L405.5 217.7L405.9 225L406.3 233.4L406.7 242.9L407.1 253.1L407.5 263.9L407.9 275L408.3 286.2L408.7 297.2L409.1 307.9L409.5 318L409.9 327.2L410.3 335.4L410.7 342.2L411.1 347.6L411.5 351.2L411.9 352.8L412.3 352.3L412.7 349.5L413.1 344.8L413.5 338.4L413.9 330.6L414.3 321.6L414.7 311.7L415.1 301.1L415.5 290L415.9 278.8L416.3 267.6L416.7 256.7L417.1 246.4L417.5 236.9L417.9 228.5L418.3 221.4L418.7 215.8L419.1 212.1L419.5 210.4L419.9 211L420.3 213.8L420.7 218.7L421.1 225.3L421.5 233.3L421.9 242.6L422.3 252.7L422.7 263.5L423.1 274.6L423.5 285.9L423.9 297L424.3 307.6L424.7 317.5L425.1 326.5L425.5 334.2L425.9 340.4L426.3 344.8L426.7 347.1L427.1 347.2L427.5 345.6L427.9 342.6L428.3 338.3L428.7 332.9L429.1 326.5L429.5 319.5L429.9 311.8L430.3 303.8L430.7 295.5L431.1 287.1L431.5 278.9L431.9 270.9L432.3 263.4L432.7 256.5L433.1 250.4L433.5 245.3L433.9 241.3L434.3 238.6L434.7 237.4L435.1 237.8L435.5 240L435.9 243.6L436.3 248.7L436.7 254.8L437.1 261.9L437.5 269.8L437.9 278.2L438.3 287L438.7 296L439.1 305L439.5 313.8L439.9 322.2L440.3 330.1L440.7 337.2L441.1 343.3L441.5 348.4L441.9 352L442.3 354.2L442.7 354.6L443.1 353.3L443.5 350.3L443.9 345.8L444.3 340.1L444.7 333.3L445.1 325.6L445.5 317.3L445.9 308.6L446.3 299.6L446.7 290.6L447.1 281.7L447.5 273.1L447.9 265.2L448.3 257.9L448.7 251.6L449.1 246.5L449.5 242.7L449.9 240.5L450.3 240.1L450.7 241.3L451.1 244.2L451.5 248.4L451.9 253.7L452.3 260.1L452.7 267.3L453.1 275.1L453.5 283.4L453.9 291.9L454.3 300.5L454.7 308.9L455.1 317.1L455.5 324.8L455.9 331.8L456.3 337.9L456.7 343L457.1 346.9L457.5 349.3L457.9 350.2L458.3 349.6L458.7 347.9L459.1 345.3L459.5 341.8L459.9 337.5L460.3 332.7L460.7 327.4L461.1 321.8L461.5 316L461.9 310L462.3 304.1L462.7 298.3L463.1 292.9L463.5 287.8L463.9 283.3L464.3 279.4L464.7 276.3L465.1 274.1L465.5 273L465.9 273L466.3 274.2L466.7 276.6L467.1 279.9L467.5 284.1L467.9 289.1L468.3 294.7L468.7 300.7L469.1 307.1L469.5 313.7L469.9 320.4L470.3 327.1L470.7 333.6L471.1 339.9L471.5 345.7L471.9 351L472.3 355.6L472.7 359.4L473.1 362.2L473.5 364.1L473.9 364.7L474.3 364L474.7 361.8L475.1 358.5L475.5 354.1L475.9 348.8L476.3 342.8L476.7 336.3L477.1 329.4L477.5 322.4L477.9 315.3L478.3 308.4L478.7 301.8L479.1 295.6L479.5 290.2L479.9 285.5L480.3 281.9L480.7 279.5L481.1 278.3L481.5 278.5L481.9 279.4L482.3 280.9L482.7 283.1L483.1 285.9L483.5 289.3L483.9 293.2L484.3 297.6L484.5 300" stroke="#ff0000" stroke-width="2.0"/><path d="M83.5 242L83.9 242.6L84.3 243.1L84.7 243.6L85.1 244.1L85.5 244.6L85.9 245L86.3 245.5L86.7 245.8L87.1 246.2L87.5 246.5L87.9 246.8L88.3 247L88.7 247.2L89.1 247.4L89.5 247.5L89.9 247.5L90.3 247.5L90.7 247.4L91.1 247.4L91.5 247.3L91.9 247.1L92.3 247L92.7 246.8L93.1 246.7L93.5 246.5L93.9 246.3L94.3 246.2L94.7 246L95.1 245.9L95.5 245.8L95.9 245.7L96.3 245.7L96.7 245.7L97.1 245.8L97.5 246L97.9 246.3L98.3 246.6L98.7 247L99.1 247.5L99.5 248L99.9 248.6L100.3 249.1L100.7 249.8L101.1 250.4L101.5 251L101.9 251.6L102.3 252.2L102.7 252.8L103.1 253.3L103.5 253.8L103.9 254.3L104.3 254.7L104.7 255L105.1 255.3L105.5 255.4L105.9 255.5L106.3 255.5L106.7 255.5L107.1 255.5L107.5 255.4L107.9 255.4L108.3 255.4L108.7 255.3L109.1 255.3L109.5 255.2L109.9 255.2L110.3 255.2L110.7 255.1L111.1 255.1L111.5 255.1L111.9 255L112.3 255L112.7 255L113.1 255L113.5 255L113.9 255.1L114.3 255.1L114.7 255.2L115.1 255.3L115.5 255.4L115.9 255.5L116.3 255.6L116.7 255.8L117.1 255.9L117.5 256L117.9 256.2L118.3 256.4L118.7 256.5L119.1 256.7L119.5 256.8L119.9 257L120.3 257.1L120.7 257.3L121.1 257.5L121.5 257.7L121.9 257.9L122.3 258.2L122.7 258.4L123.1 258.7L123.5 259L123.9 259.2L124.3 259.5L124.7 259.8L125.1 260L125.5 260.3L125.9 260.5L126.3 260.7L126.7 261L127.1 261.1L127.5 261.3L127.9 261.5L128.3 261.6L128.7 261.6L129.1 261.7L129.5 261.7L129.9 261.6L130.3 261.4L130.7 261.2L131.1 260.8L131.5 260.4L131.9 259.9L132.3 259.4L132.7 258.9L133.1 258.3L133.5 257.8L133.9 257.2L134.3 256.7L134.7 256.2L135.1 255.8L135.5 255.4L135.9 255.1L136.3 254.9L136.7 254.7L137.1 254.7L137.5 254.8L137.9 255L138.3 255.3L138.7 255.7L139.1 256.1L139.5 256.7L139.9 257.2L140.3 257.8L140.7 258.5L141.1 259.1L141.5 259.8L141.9 260.4L142.3 261L142.7 261.6L143.1 262.1L143.5 262.6L143.9 263L144.3 263.3L144.7 263.6L145.1 263.7L145.5 263.7L145.9 263.5L146.3 263.2L146.7 262.7L147.1 262.1L147.5 261.4L147.9 260.6L148.3 259.7L148.7 258.8L149.1 257.9L149.5 256.9L149.9 256L150.3 255.1L150.7 254.2L151.1 253.4L151.5 252.7L151.9 252.1L152.3 251.5L152.7 251.2L153.1 251L153.5 250.9L153.9 251.1L154.3 251.5L154.7 252.1L155.1 252.9L155.5 253.9L155.9 254.9L156.3 256.1L156.7 257.3L157.1 258.5L157.5 259.8L157.9 261L158.3 262.2L158.7 263.4L159.1 264.4L159.5 265.3L159.9 266L160.3 266.6L160.7 267L161.1 267.1L161.5 267L161.9 266.6L162.3 265.9L162.7 265.1L163.1 264.1L163.5 262.9L163.9 261.7L164.3 260.3L164.7 258.9L165.1 257.4L165.5 255.9L165.9 254.5L166.3 253.1L166.7 251.8L167.1 250.6L167.5 249.5L167.9 248.6L168.3 247.8L168.7 247.3L169.1 247L169.5 247L169.9 247.4L170.3 248.1L170.7 249L171.1 250.3L171.5 251.7L171.9 253.2L172.3 254.9L172.7 256.7L173.1 258.5L173.5 260.3L173.9 262.1L174.3 263.9L174.7 265.5L175.1 266.9L175.5 268.2L175.9 269.2L176.3 270L176.7 270.4L177.1 270.5L177.5 270.2L177.9 269.6L178.3 268.6L178.7 267.4L179.1 266L179.5 264.4L179.9 262.6L180.3 260.8L180.7 258.8L181.1 256.9L181.5 254.9L181.9 253L182.3 251.2L182.7 249.5L183.1 247.9L183.5 246.6L183.9 245.6L184.3 244.8L184.7 244.3L185.1 244.2L185.5 244.6L185.9 245.3L186.3 246.4L186.7 247.8L187.1 249.5L187.5 251.4L187.9 253.5L188.3 255.7L188.7 258L189.1 260.3L189.5 262.6L189.9 264.8L190.3 266.9L190.7 268.8L191.1 270.5L191.5 271.9L191.9 273L192.3 273.7L192.7 274.1L193.1 273.9L193.5 273.3L193.9 272.2L194.3 270.7L194.7 268.9L195.1 266.8L195.5 264.5L195.9 262L196.3 259.4L196.7 256.8L197.1 254.1L197.5 251.6L197.9 249.1L198.3 246.8L198.7 244.8L199.1 243.1L199.5 241.7L199.9 240.7L200.3 240.2L200.7 240.2L201.1 240.7L201.5 241.8L201.9 243.3L202.3 245.2L202.7 247.4L203.1 249.9L203.5 252.6L203.9 255.4L204.3 258.3L204.7 261.2L205.1 264L205.5 266.8L205.9 269.4L206.3 271.7L206.7 273.8L207.1 275.5L207.5 276.8L207.9 277.6L208.3 277.9L208.7 277.6L209.1 276.8L209.5 275.5L209.9 273.7L210.3 271.6L210.7 269.2L211.1 266.6L211.5 263.7L211.9 260.8L212.3 257.8L212.7 254.8L213.1 251.9L213.5 249L213.9 246.4L214.3 244L214.7 241.9L215.1 240.1L215.5 238.8L215.9 238L216.3 237.7L216.7 238L217.1 238.9L217.5 240.3L217.9 242.1L218.3 244.3L218.7 246.8L219.1 249.6L219.5 252.6L219.9 255.7L220.3 258.9L220.7 262.2L221.1 265.3L221.5 268.4L221.9 271.3L222.3 274L222.7 276.4L223.1 278.4L223.5 280L223.9 281.1L224.3 281.7L224.7 281.7L225.1 281L225.5 279.5L225.9 277.5L226.3 275L226.7 272.1L227.1 268.8L227.5 265.3L227.9 261.6L228.3 257.8L228.7 254L229.1 250.2L229.5 246.6L229.9 243.3L230.3 240.3L230.7 237.7L231.1 235.5L231.5 233.9L231.9 233L232.3 232.8L232.7 233.4L233.1 234.8L233.5 236.8L233.9 239.3L234.3 242.4L234.7 245.8L235.1 249.5L235.5 253.5L235.9 257.5L236.3 261.7L236.7 265.7L237.1 269.7L237.5 273.4L237.9 276.8L238.3 279.9L238.7 282.4L239.1 284.4L239.5 285.8L239.9 286.4L240.3 286.2L240.7 285.2L241.1 283.6L241.5 281.4L241.9 278.6L242.3 275.5L242.7 272L243.1 268.2L243.5 264.2L243.9 260.2L244.3 256.1L244.7 252.1L245.1 248.2L245.5 244.5L245.9 241.2L246.3 238.2L246.7 235.7L247.1 233.8L247.5 232.5L247.9 231.9L248.3 232.1L248.7 233.2L249.1 234.9L249.5 237.3L249.9 240.3L250.3 243.7L250.7 247.5L251.1 251.5L251.5 255.8L251.9 260.2L252.3 264.5L252.7 268.8L253.1 272.9L253.5 276.8L253.9 280.3L254.3 283.4L254.7 285.9L255.1 287.8L255.5 289.1L255.9 289.5L256.3 289L256.7 287.6L257.1 285.5L257.5 282.6L257.9 279.2L258.3 275.3L258.7 271L259.1 266.5L259.5 261.7L259.9 257L260.3 252.2L260.7 247.6L261.1 243.2L261.5 239.2L261.9 235.7L262.3 232.7L262.7 230.3L263.1 228.7L263.5 228L263.9 228.3L264.3 229.5L264.7 231.6L265.1 234.4L265.5 237.9L265.9 242L266.3 246.4L266.7 251.2L267.1 256.2L267.5 261.3L267.9 266.4L268.3 271.4L268.7 276.2L269.1 280.6L269.5 284.7L269.9 288.2L270.3 291L270.7 293.1L271.1 294.3L271.5 294.6L271.9 293.8L272.3 292.2L272.7 289.8L273.1 286.7L273.5 283L273.9 278.8L274.3 274.3L274.7 269.4L275.1 264.4L275.5 259.3L275.9 254.1L276.3 249.1L276.7 244.3L277.1 239.9L277.5 235.8L277.9 232.3L278.3 229.3L278.7 227.1L279.1 225.7L279.5 225.2L279.9 225.8L280.3 227.3L280.7 229.9L281.1 233.2L281.5 237.2L281.9 241.7L282.3 246.7L282.7 252L283.1 257.5L283.5 263.2L283.9 268.7L284.3 274.2L284.7 279.3L285.1 284.1L285.5 288.4L285.9 292.1L286.3 295L286.7 297.1L287.1 298.2L287.5 298.1L287.9 296.9L288.3 294.7L288.7 291.5L289.1 287.5L289.5 282.8L289.9 277.6L290.3 271.9L290.7 266L291.1 260L291.5 253.9L291.9 247.9L292.3 242.2L292.7 236.9L293.1 232L293.5 227.8L293.9 224.4L294.3 221.9L294.7 220.4L295.1 220.1L295.5 221.1L295.9 223.2L296.3 226.4L296.7 230.4L297.1 235.2L297.5 240.6L297.9 246.5L298.3 252.7L298.7 259.1L299.1 265.7L299.5 272.1L299.9 278.3L300.3 284.2L300.7 289.6L301.1 294.4L301.5 298.4L301.9 301.6L302.3 303.7L302.7 304.7L303.1 304.3L303.5 302.7L303.9 300.1L304.3 296.4L304.7 291.9L305.1 286.7L305.5 281L305.9 274.9L306.3 268.5L306.7 261.9L307.1 255.4L307.5 249.1L307.9 243L308.3 237.4L308.7 232.4L309.1 228.1L309.5 224.7L309.9 222.2L310.3 221L310.7 221L311.1 222.3L311.5 224.8L311.9 228.4L312.3 232.9L312.7 238.1L313.1 244L313.5 250.3L313.9 256.9L314.3 263.7L314.7 270.5L315.1 277.2L315.5 283.6L315.9 289.5L316.3 294.9L316.7 299.6L317.1 303.5L317.5 306.3L317.9 307.9L318.3 308.3L318.7 307.3L319.1 305.1L319.5 301.9L319.9 297.8L320.3 292.9L320.7 287.3L321.1 281.2L321.5 274.7L321.9 268L322.3 261.1L322.7 254.3L323.1 247.6L323.5 241.2L323.9 235.3L324.3 229.8L324.7 225.1L325.1 221.2L325.5 218.2L325.9 216.4L326.3 215.7L326.7 216.5L327.1 219L327.5 222.7L327.9 227.7L328.3 233.6L328.7 240.4L329.1 247.8L329.5 255.6L329.9 263.6L330.3 271.7L330.7 279.7L331.1 287.3L331.5 294.4L331.9 300.7L332.3 306.2L332.7 310.6L333.1 313.7L333.5 315.4L333.9 315.4L334.3 314.1L334.7 311.6L335.1 308.1L335.5 303.6L335.9 298.3L336.3 292.4L336.7 286L337.1 279.3L337.5 272.2L337.9 265.1L338.3 258L338.7 251.1L339.1 244.5L339.5 238.3L339.9 232.8L340.3 227.9L340.7 223.8L341.1 220.8L341.5 218.9L341.9 218.2L342.3 219L342.7 221.2L343.1 224.8L343.5 229.5L343.9 235.1L344.3 241.5L344.7 248.6L345.1 256L345.5 263.8L345.9 271.6L346.3 279.4L346.7 287L347.1 294.2L347.5 300.8L347.9 306.6L348.3 311.5L348.7 315.4L349.1 318L349.5 319.1L349.9 318.7L350.3 316.7L350.7 313.3L351.1 308.7L351.5 303L351.9 296.4L352.3 289.1L352.7 281.3L353.1 273.2L353.5 265L353.9 256.7L354.3 248.7L354.7 241L355.1 233.9L355.5 227.5L355.9 222.1L356.3 217.7L356.7 214.6L357.1 213L357.5 213L357.9 214.8L358.3 218.1L358.7 222.9L359.1 228.8L359.5 235.7L359.9 243.4L360.3 251.7L360.7 260.5L361.1 269.4L361.5 278.4L361.9 287.2L362.3 295.7L362.7 303.5L363.1 310.7L363.5 316.9L363.9 321.9L364.3 325.6L364.7 327.8L365.1 328.3L365.5 327.1L365.9 324.5L366.3 320.7L366.7 315.8L367.1 310L367.5 303.4L367.9 296.2L368.3 288.5L368.7 280.5L369.1 272.4L369.5 264.3L369.9 256.4L370.3 248.9L370.7 241.8L371.1 235.4L371.5 229.7L371.9 225.1L372.3 221.6L372.7 219.4L373.1 218.6L373.5 219.5L373.9 222.1L374.3 226.2L374.7 231.7L375.1 238.2L375.5 245.6L375.9 253.7L376.3 262.3L376.7 271.2L377.1 280.3L377.5 289.2L377.9 297.8L378.3 305.9L378.7 313.3L379.1 319.8L379.5 325.3L379.9 329.4L380.3 332L380.7 332.9L381.1 332L381.5 329.5L381.9 325.5L382.3 320.2L382.7 313.8L383.1 306.5L383.5 298.5L383.9 290L384.3 281.1L384.7 272.1L385.1 263L385.5 254.2L385.9 245.8L386.3 238L386.7 230.9L387.1 224.8L387.5 219.8L387.9 216.1L388.3 214L388.7 213.6L389.1 215.2L389.5 218.9L389.9 224.2L390.3 231.1L390.7 239.2L391.1 248.3L391.5 258.2L391.9 268.5L392.3 279.1L392.7 289.7L393.1 300L393.5 309.9L393.9 319L394.3 327.1L394.7 334L395.1 339.3L395.5 343L395.9 344.6L396.3 344.2L396.7 342.1L397.1 338.6L397.5 333.7L397.9 327.8L398.3 320.8L398.7 313.1L399.1 304.9L399.5 296.2L399.9 287.2L400.3 278.2L400.7 269.3L401.1 260.7L401.5 252.6L401.9 245.1L402.3 238.4L402.7 232.7L403.1 228.1L403.5 224.9L403.9 223.2L404.3 223.2L404.7 225.1L405.1 228.6L405.5 233.6L405.9 239.8L406.3 247.1L406.7 255.3L407.1 264.1L407.5 273.4L407.9 283L408.3 292.6L408.7 302.2L409.1 311.4L409.5 320L409.9 328L410.3 335.1L410.7 341L411.1 345.6L411.5 348.7L411.9 350.1L412.3 349.6L412.7 347L413.1 342.7L413.5 336.8L413.9 329.5L414.3 321.2L414.7 312L415.1 302.1L415.5 291.9L415.9 281.4L416.3 271.1L416.7 261L417.1 251.4L417.5 242.6L417.9 234.8L418.3 228.2L418.7 223L419.1 219.5L419.5 218L419.9 218.6L420.3 221.7L420.7 226.8L421.1 233.8L421.5 242.4L421.9 252.2L422.3 263L422.7 274.5L423.1 286.4L423.5 298.3L423.9 310.1L424.3 321.5L424.7 332L425.1 341.6L425.5 349.8L425.9 356.3L426.3 361L426.7 363.5L427.1 363.6L427.5 361.7L427.9 358.1L428.3 352.9L428.7 346.5L429.1 339.1L429.5 330.7L429.9 321.6L430.3 312.1L430.7 302.2L431.1 292.3L431.5 282.5L431.9 273.1L432.3 264.2L432.7 256L433.1 248.7L433.5 242.6L433.9 237.9L434.3 234.7L434.7 233.3L435.1 233.8L435.5 236.4L435.9 240.7L436.3 246.6L436.7 253.9L437.1 262.3L437.5 271.6L437.9 281.5L438.3 292L438.7 302.6L439.1 313.2L439.5 323.7L439.9 333.6L440.3 342.9L440.7 351.3L441.1 358.6L441.5 364.5L441.9 368.8L442.3 371.4L442.7 371.9L443.1 370.2L443.5 366.5L443.9 360.9L444.3 353.7L444.7 345.2L445.1 335.7L445.5 325.4L445.9 314.5L446.3 303.2L446.7 291.9L447.1 280.8L447.5 270.2L447.9 260.2L448.3 251.2L448.7 243.3L449.1 236.9L449.5 232.2L449.9 229.5L450.3 228.9L450.7 230.8L451.1 234.9L451.5 241L451.9 248.9L452.3 258.3L452.7 268.8L453.1 280.2L453.5 292.3L453.9 304.8L454.3 317.3L454.7 329.7L455.1 341.7L455.5 352.9L455.9 363.2L456.3 372.2L456.7 379.7L457.1 385.3L457.5 388.9L457.9 390.2L458.3 389L458.7 385.5L459.1 380.1L459.5 373L459.9 364.5L460.3 354.9L460.7 344.4L461.1 333.3L461.5 321.9L461.9 310.4L462.3 299.3L462.7 288.6L463.1 278.7L463.5 269.9L463.9 262.4L464.3 256.5L464.7 252.6L465.1 250.8L465.5 251.2L465.9 253.5L466.3 257.3L466.7 262.6L467.1 269.2L467.5 276.8L467.9 285.4L468.3 294.6L468.7 304.5L469.1 314.7L469.5 325L469.9 335.5L470.3 345.7L470.7 355.7L471.1 365.1L471.5 373.8L471.9 381.7L472.3 388.5L472.7 394.2L473.1 398.4L473.5 401.1L473.9 402L474.3 400.5L474.7 396.3L475.1 389.7L475.5 381.2L475.9 370.9L476.3 359.4L476.7 346.9L477.1 333.9L477.5 320.6L477.9 307.5L478.3 294.8L478.7 283L479.1 272.5L479.5 263.4L479.9 256.3L480.3 251.5L480.7 249.3L481.1 249.2L481.5 249.3L481.9 249.5L482.3 250.1L482.7 250.9L483.1 252.3L483.5 254.2L483.9 256.7L484.3 260L484.5 262" stroke="#0000ff" stroke-width="2.2"/><path d="M70 239.5L70.2 239.1L70.5 238.6L70.8 238.2L71 237.8L71.2 237.3L71.5 236.9L71.8 236.4L72 236L72.2 234.2L72.5 232.5L72.8 230.8L73 229L73.2 227.2L73.5 225.5L73.8 223.8L74 222L74.2 219.8L74.5 217.7L74.8 215.5L75 213.3L75.2 211.2L75.5 209L75.8 210.2L76 211.5L76.2 212.8L76.5 214L76.8 215.8L77 217.7L77.2 219.5L77.5 221.3L77.8 223.2L78 225L78.2 225.9L78.5 226.8L78.8 227.6L79 228.5L79.2 229.4L79.5 230.2L79.8 231.1L80 232L80.2 232.6L80.5 233.2L80.8 233.9L81 234.5L81.2 235.1L81.5 235.8L81.8 236.4L82 237L82.2 237.4L82.5 237.8L82.8 238.1L83 238.5L83.2 238.9L83.5 239.2L83.8 239.6L83.8 241.2L83.5 241.5L83.2 241.8L83 242L82.8 242.2L82.5 242.5L82.2 242.8L82 243L81.8 243.4L81.5 243.8L81.2 244.1L81 244.5L80.8 244.9L80.5 245.2L80.2 245.6L80 246L79.8 246.5L79.5 247L79.2 247.5L79 248L78.8 248.5L78.5 249L78.2 249.5L78 250L77.8 251.3L77.5 252.7L77.2 254L77 255.3L76.8 256.7L76.5 258L76.2 258.8L76 259.5L75.8 260.2L75.5 261L75.2 260L75 259L74.8 258L74.5 257L74.2 256L74 255L73.8 253.8L73.5 252.5L73.2 251.2L73 250L72.8 248.8L72.5 247.5L72.2 246.2L72 245L71.8 244.6L71.5 244.1L71.2 243.7L71 243.2L70.8 242.8L70.5 242.4L70.2 241.9L70 241.5Z" fill="#0000ff" stroke="none"/><path d="M70 239.5L70.2 242.1L70.5 238.9L70.7 243L70.9 238.1L71.1 243.4L71.4 236.8L71.6 244.2L71.8 236.3L72 244.6L72.3 233.6L72.5 247.6L72.7 231.4L73 250.7L73.2 228.4L73.4 251.9L73.6 226.1L73.9 253.9L74.1 222.7L74.3 255L74.5 215.8L74.8 256.7L75 213.4L75.2 263.4L75.5 205.8L75.7 262.2L75.9 210.7L76.1 257.5L76.4 215.6L76.6 260.5L76.8 216.2L77 253L77.3 219L77.5 254L77.7 222.5L78 251.8L78.2 227.3L78.4 249.3L78.6 227.4L78.9 246.9L79.1 228.4L79.3 248.3L79.5 230.2L79.8 245.9L80 231.3L80.2 245.7L80.5 233.1L80.7 245.4L80.9 234.8L81.1 244.7L81.4 235.2L81.6 243.9L81.8 236.9L82 243.2L82.3 237.7L82.5 242.2L82.7 237.9L83 242.2L83.2 238.6L83.4 241.6L83.6 239.5L83.9 241" stroke="#0000ff" stroke-width="0.9"/><path d="M75.8 184.2V279.7" stroke="#0000ff" stroke-width="1.4"/></g>
<g clip-path="url(#c1)" fill="none" stroke-linejoin="round" stroke-linecap="round"><path d="M587.7 216.6L588.1 219.2L588.5 222.3L588.9 226L589.3 230.1L589.7 234.5L590.1 239.2L590.5 245L590.9 251.7L591.3 259L591.7 266.7L592.1 274.4L592.5 281.8L592.9 288.5L593.3 294.5L593.7 300.5L594.1 306.5L594.5 312.2L594.9 317.8L595.3 323L595.7 327.8L596.1 332.1L596.5 335.9L596.9 339.7L597.3 343.5L597.7 347.1L598.1 350.5L598.5 353.5L598.9 355.9L599.3 357.6L599.7 358.4L600.1 356.4L600.5 348.7L600.9 337.3L601.3 324.2L601.7 311.6L602.1 301.8L602.5 295.3L602.9 289.6L603.3 284.4L603.7 279.8L604.1 275.7L604.5 272L604.9 268.6L605.3 265.5L605.7 262.6L606.1 259.9L606.5 257.4L606.9 255.1L607.3 252.9L607.7 251L608.1 249.2L608.5 247.4L608.9 245.7L609.3 244.1L609.7 242.6L610.1 241.1L610.5 239.7L610.9 238.4L611.3 237.1L611.7 236L612.1 234.9L612.5 233.9L612.9 233L613.3 232.2L613.7 231.4L614.1 230.6L614.5 229.8L614.9 229.1L615.3 228.4L615.7 227.7L616.1 227.1L616.5 226.5L616.9 225.9L617.3 225.3L617.7 224.8L618.1 224.3L618.5 223.8L618.9 223.4L619.3 223L619.7 222.6L620.1 222.2L620.5 221.9L620.9 221.6L621.3 221.3L621.7 221.1L622.1 220.8L622.5 220.5L622.9 220.3L623.3 220L623.7 219.8L624.1 219.6L624.5 219.4L624.9 219.2L625.3 219L625.7 218.9L626.1 218.7L626.5 218.6L626.9 218.5L627.3 218.4L627.7 218.3L628.1 218.2L628.5 218.2L628.9 218.1L629.3 218.1L629.7 218L630.1 217.9L630.5 217.9L630.9 217.8L631.3 217.8L631.7 217.7L632.1 217.7L632.5 217.6L632.9 217.6L633.3 217.6L633.7 217.5L634.1 217.5L634.5 217.4L634.9 217.4L635.3 217.4L635.7 217.4L636.1 217.3L636.5 217.3L636.9 217.3L637.3 217.3L637.7 217.2L638.1 217.2L638.5 217.2L638.9 217.2L639.3 217.2L639.7 217.2L640.1 217.2L640.5 217.2L640.9 217.2L641.3 217.2L641.7 217.2L642.1 217.2L642.5 217.2L642.9 217.2L643.3 217.2L643.7 217.2L644.1 217.2L644.5 217.2L644.9 217.2L645.3 217.2L645.7 217.2L646.1 217.2L646.5 217.2L646.9 217.2L647.3 217.2L647.7 217.2L648.1 217.2L648.5 217.2L648.9 217.2L649.3 217.2L649.7 217.2L650.1 217.2L650.5 217.2L650.9 217.2L651.3 217.2L651.7 217.2L652.1 217.3L652.5 217.3L652.9 217.3L653.3 217.3L653.7 217.3L654.1 217.3L654.5 217.3L654.9 217.3L655.3 217.3L655.7 217.3L656.1 217.3L656.5 217.3L656.9 217.3L657.3 217.3L657.7 217.3L658.1 217.3L658.5 217.3L658.9 217.3L659.3 217.3L659.7 217.3L660.1 217.3L660.5 217.3L660.9 217.3L661.3 217.3L661.7 217.3L662.1 217.3L662.5 217.3L662.9 217.3L663.3 217.3L663.7 217.3L664.1 217.3L664.5 217.3L664.9 217.3L665.3 217.3L665.7 217.3L666.1 217.3L666.5 217.3L666.9 217.3L667.3 217.3L667.7 217.3L668.1 217.4L668.5 217.4L668.9 217.4L669.3 217.4L669.7 217.4L670.1 217.4L670.5 217.4L670.9 217.4L671.3 217.4L671.7 217.4L672.1 217.4L672.5 217.4L672.9 217.4L673.3 217.4L673.7 217.4L674.1 217.4L674.5 217.4L674.9 217.4L675.3 217.4L675.7 217.4L676.1 217.4L676.5 217.4L676.9 217.4L677.3 217.4L677.7 217.4L678.1 217.4L678.5 217.4L678.9 217.4L679.3 217.4L679.7 217.4L680.1 217.4L680.5 217.4L680.9 217.4L681.3 217.4L681.7 217.4L682.1 217.4L682.5 217.4L682.9 217.4L683.3 217.4L683.7 217.4L684.1 217.4L684.5 217.4L684.9 217.4L685.3 217.4L685.7 217.4L686.1 217.4L686.5 217.4L686.9 217.4L687.3 217.4L687.7 217.4L688.1 217.4L688.5 217.4L688.9 217.4L689.3 217.4L689.7 217.4L690.1 217.4L690.5 217.4L690.9 217.4L691.3 217.4L691.7 217.4L692.1 217.4L692.5 217.4L692.9 217.4L693.3 217.4L693.7 217.4L694.1 217.4L694.5 217.4L694.9 217.3L695.3 217.3L695.7 217.3L696.1 217.3L696.5 217.3L696.9 217.3L697.3 217.3L697.7 217.3L698.1 217.3L698.5 217.3L698.9 217.3L699.3 217.3L699.7 217.3L700.1 217.3L700.5 217.3L700.9 217.3L701.3 217.2L701.7 217.2L702.1 217.1L702.5 217.1L702.9 217L703.3 217L703.7 216.9L704.1 216.9L704.5 216.8L704.9 216.8L705.3 216.7L705.7 216.6L706.1 216.6L706.5 216.6L706.9 216.5L707.3 216.5L707.7 216.5L708.1 216.5L708.5 216.5L708.9 216.5L709.3 216.5L709.7 216.5L710.1 216.5L710.5 216.6L710.9 216.6L711.3 216.6L711.7 216.6L712.1 216.6L712.5 216.7L712.9 216.7L713.3 216.7L713.7 216.7L714.1 216.8L714.5 216.8L714.9 216.8L715.3 216.9L715.7 216.9L716.1 216.9L716.5 217L716.9 217L717.3 217L717.7 217L718.1 217.1L718.5 217.1L718.9 217.1L719.3 217.1L719.7 217.2L720.1 217.2L720.5 217.2L720.9 217.2L721.3 217.3L721.7 217.3L722.1 217.3L722.5 217.3L722.9 217.3L723.3 217.3L723.7 217.3L724.1 217.3L724.5 217.3L724.9 217.3L725.3 217.3L725.7 217.2L726.1 217.2L726.5 217.2L726.9 217.2L727.3 217.1L727.7 217.1L728.1 217L728.5 217L728.9 216.9L729.3 216.9L729.7 216.8L730.1 216.8L730.5 216.7L730.9 216.7L731.3 216.6L731.7 216.6L732.1 216.5L732.5 216.5L732.9 216.4L733.3 216.4L733.7 216.3L734.1 216.3L734.5 216.2L734.9 216.2L735.3 216.1L735.7 216.1L736.1 216.1L736.5 216L736.9 216L737.3 216L737.7 216L738.1 215.9L738.5 215.9L738.9 215.9L739.3 215.9L739.7 215.9L740.1 215.9L740.5 215.9L740.9 215.9L741.3 215.9L741.7 216L742.1 216L742.5 216L742.9 216L743.3 216.1L743.7 216.1L744.1 216.2L744.5 216.2L744.9 216.2L745.3 216.3L745.7 216.3L746.1 216.4L746.5 216.4L746.9 216.5L747.3 216.5L747.7 216.6L748.1 216.6L748.5 216.7L748.9 216.7L749.3 216.8L749.7 216.8L750.1 216.9L750.5 216.9L750.9 217L751.3 217L751.7 217L752.1 217.1L752.5 217.1L752.9 217.2L753.3 217.2L753.7 217.2L754.1 217.2L754.5 217.3L754.9 217.3L755.3 217.3L755.7 217.3L756.1 217.3L756.5 217.3L756.9 217.3L757.3 217.3L757.7 217.3L758.1 217.2L758.5 217.2L758.9 217.1L759.3 217.1L759.7 217L760.1 217L760.5 216.9L760.9 216.8L761.3 216.8L761.7 216.7L762.1 216.6L762.5 216.5L762.9 216.5L763.3 216.4L763.7 216.3L764.1 216.2L764.5 216.1L764.9 216.1L765.3 216L765.7 215.9L766.1 215.8L766.5 215.7L766.9 215.7L767.3 215.6L767.7 215.5L768.1 215.5L768.5 215.4L768.9 215.3L769.3 215.3L769.7 215.2L770.1 215.2L770.5 215.2L770.9 215.1L771.3 215.1L771.7 215.1L772.1 215.1L772.5 215.1L772.9 215.1L773.3 215.1L773.7 215.1L774.1 215.2L774.5 215.2L774.9 215.2L775.3 215.2L775.7 215.3L776.1 215.3L776.5 215.3L776.9 215.4L777.3 215.4L777.7 215.4L778.1 215.5L778.5 215.5L778.9 215.6L779.3 215.6L779.7 215.7L780.1 215.7L780.5 215.8L780.9 215.8L781.3 215.8L781.7 215.9L782.1 215.9L782.5 216L782.9 216L783.3 216.1L783.7 216.1L784.1 216.1L784.5 216.2L784.9 216.2L785.3 216.2L785.7 216.2L786.1 216.3L786.5 216.3L786.9 216.3L787.3 216.3L787.7 216.3L788.1 216.3L788.5 216.3L788.9 216.3L789.3 216.2L789.7 216.2L790.1 216.1L790.5 216.1L790.9 216L791.3 215.9L791.7 215.9L792.1 215.8L792.5 215.7L792.9 215.6L793.3 215.5L793.7 215.4L794.1 215.3L794.5 215.2L794.9 215.1L795.3 214.9L795.7 214.8L796.1 214.7L796.5 214.6L796.9 214.5L797.3 214.4L797.7 214.3L798.1 214.2L798.5 214.1L798.9 214L799.3 213.9L799.7 213.8L800.1 213.7L800.5 213.6L800.9 213.5L801.3 213.5L801.7 213.4L802.1 213.4L802.5 213.3L802.9 213.3L803.3 213.3L803.7 213.3L804.1 213.3L804.5 213.3L804.9 213.3L805.3 213.3L805.7 213.4L806.1 213.4L806.5 213.4L806.9 213.5L807.3 213.5L807.7 213.6L808.1 213.6L808.5 213.7L808.9 213.7L809.3 213.8L809.7 213.8L810.1 213.9L810.5 213.9L810.9 214L811.3 214.1L811.7 214.1L812.1 214.2L812.5 214.2L812.9 214.3L813.3 214.4L813.7 214.4L814.1 214.5L814.5 214.5L814.9 214.6L815.3 214.6L815.7 214.7L816.1 214.7L816.5 214.8L816.9 214.8L817.3 214.8L817.7 214.8L818.1 214.9L818.5 214.9L818.9 214.9L819.3 214.9L819.7 214.9L820.1 214.9L820.5 214.8L820.9 214.8L821.3 214.7L821.7 214.7L822.1 214.6L822.5 214.5L822.9 214.4L823.3 214.2L823.7 214.1L824.1 214L824.5 213.8L824.9 213.7L825.3 213.5L825.7 213.4L826.1 213.2L826.5 213.1L826.9 212.9L827.3 212.8L827.7 212.6L828.1 212.4L828.5 212.3L828.9 212.1L829.3 212L829.7 211.8L830.1 211.7L830.5 211.5L830.9 211.4L831.3 211.3L831.7 211.1L832.1 211L832.5 210.9L832.9 210.8L833.3 210.8L833.7 210.7L834.1 210.7L834.5 210.6L834.9 210.6L835.3 210.6L835.7 210.6L836.1 210.6L836.5 210.6L836.9 210.7L837.3 210.7L837.7 210.7L838.1 210.8L838.5 210.8L838.9 210.9L839.3 211L839.7 211L840.1 211.1L840.5 211.2L840.9 211.2L841.3 211.3L841.7 211.4L842.1 211.4L842.5 211.5L842.9 211.6L843.3 211.7L843.7 211.7L844.1 211.8L844.5 211.9L844.9 212L845.3 212L845.7 212.1L846.1 212.2L846.5 212.2L846.9 212.3L847.3 212.3L847.7 212.4L848.1 212.4L848.5 212.4L848.9 212.5L849.3 212.5L849.7 212.5L850.1 212.5L850.5 212.5L850.9 212.5L851.3 212.4L851.7 212.3L852.1 212.2L852.5 212.1L852.9 212L853.3 211.9L853.7 211.7L854.1 211.6L854.5 211.4L854.9 211.2L855.3 211L855.7 210.8L856.1 210.6L856.5 210.4L856.9 210.1L857.3 209.9L857.7 209.7L858.1 209.5L858.5 209.2L858.9 209L859.3 208.8L859.7 208.5L860.1 208.3L860.5 208.1L860.9 207.9L861.3 207.7L861.7 207.4L862.1 207.3L862.5 207.1L862.9 206.9L863.3 206.7L863.7 206.6L864.1 206.5L864.5 206.3L864.9 206.2L865.3 206.1L865.7 206.1L866.1 206L866.5 206L866.9 206L867.3 206L867.7 206L868.1 206.1L868.5 206.1L868.9 206.1L869.3 206.2L869.7 206.3L870.1 206.3L870.5 206.4L870.9 206.5L871.3 206.6L871.7 206.6L872.1 206.7L872.5 206.8L872.9 206.9L873.3 207L873.7 207.1L874.1 207.2L874.5 207.3L874.9 207.4L875.3 207.5L875.7 207.5L876.1 207.6L876.5 207.7L876.9 207.8L877.3 207.8L877.7 207.9L878.1 207.9L878.5 208L878.9 208L879.3 208L879.7 208L880.1 208L880.5 208L880.9 207.9L881.3 207.8L881.7 207.7L882.1 207.6L882.5 207.5L882.9 207.3L883.3 207.1L883.7 207L884.1 206.8L884.5 206.5L884.9 206.3L885.3 206.1L885.7 205.8L886.1 205.6L886.5 205.3L886.9 205.1L887.3 204.8L887.7 204.5L888.1 204.2L888.5 203.9L888.9 203.7L889.3 203.4L889.7 203.1L890.1 202.8L890.5 202.5L890.9 202.2L891.3 202L891.7 201.7L892.1 201.4L892.5 201.2L892.9 201L893.3 200.7L893.7 200.5L894.1 200.3L894.5 200.1L894.9 199.9L895.3 199.8L895.7 199.6L896.1 199.5L896.5 199.4L896.9 199.3L897.3 199.2L897.7 199.1L898.1 199.1L898.5 199.1L898.9 199.1L899.3 199.1L899.7 199.2L900.1 199.3L900.5 199.3L900.9 199.4L901.3 199.5L901.7 199.6L902.1 199.7L902.5 199.9L902.9 200L903.3 200.1L903.7 200.3L904.1 200.4L904.5 200.5L904.9 200.6L905.3 200.8L905.7 200.9L906.1 201L906.5 201.1L906.9 201.2L907.3 201.3L907.7 201.4L908.1 201.4L908.5 201.5L908.9 201.5L909.3 201.5L909.7 201.5L910.1 201.4L910.5 201.4L910.9 201.3L911.3 201.1L911.7 201L912.1 200.8L912.5 200.6L912.9 200.4L913.3 200.1L913.7 199.9L914.1 199.6L914.5 199.3L914.9 199L915.3 198.6L915.7 198.3L916.1 198L916.5 197.6L916.9 197.2L917.3 196.8L917.7 196.5L918.1 196.1L918.5 195.7L918.9 195.3L919.3 194.9L919.7 194.5L920.1 194.1L920.5 193.7L920.9 193.3L921.3 193L921.7 192.6L922.1 192.2L922.5 191.9L922.9 191.5L923.3 191.2L923.7 190.9L924.1 190.6L924.5 190.3L924.9 190L925.3 189.8L925.7 189.6L926.1 189.4L926.5 189.2L926.9 189L927.3 188.9L927.7 188.8L928.1 188.7L928.5 188.6L928.9 188.6L929.3 188.6L929.7 188.6L930.1 188.7L930.5 188.7L930.9 188.8L931.3 188.9L931.7 188.9L932.1 189L932.5 189.1L932.9 189.2L933.3 189.4L933.7 189.5L934.1 189.6L934.5 189.7L934.9 189.8L935.3 190L935.7 190.1L936.1 190.2L936.5 190.3L936.9 190.4L937.3 190.5L937.7 190.6L938.1 190.6L938.5 190.7L938.9 190.7L939.3 190.8L939.7 190.8L940.1 190.8L940.5 190.8L940.9 190.7L941.3 190.6L941.7 190.4L942.1 190.2L942.5 190L942.9 189.8L943.3 189.5L943.7 189.2L944.1 188.9L944.5 188.6L944.9 188.2L945.3 187.8L945.7 187.4L946.1 187L946.5 186.5L946.9 186.1L947.3 185.6L947.7 185.1L948.1 184.6L948.5 184.1L948.9 183.6L949.3 183.1L949.7 182.6L950.1 182.1L950.5 181.6L950.9 181.1L951.3 180.6L951.7 180L952.1 179.5L952.5 179L952.9 178.6L953.3 178.1L953.7 177.6L954.1 177.2L954.5 176.7L954.9 176.3L955.3 175.9L955.7 175.5L956.1 175.2L956.5 174.8L956.9 174.5L957.3 174.2L957.7 174L958.1 173.7L958.5 173.5L958.9 173.3L959.3 173.2L959.7 173.1L960.1 173L960.5 173L960.9 173L961.3 173L961.7 173.1L962.1 173.1L962.5 173.2L962.9 173.3L963.3 173.4L963.7 173.5L964.1 173.6L964.5 173.7L964.9 173.8L965.3 173.9L965.7 174L966.1 174.2L966.5 174.3L966.9 174.4L967.3 174.5L967.7 174.6L968.1 174.7L968.5 174.8L968.9 174.9L969.3 174.9L969.7 175L970.1 175L970.5 175L970.9 175L971.3 174.9L971.7 174.7L972.1 174.6L972.5 174.3L972.9 174L973.3 173.7L973.7 173.3L974.1 172.9L974.5 172.5L974.9 172L975.3 171.5L975.7 170.9L976.1 170.4L976.5 169.8L976.9 169.1L977.3 168.5L977.7 167.8L978.1 167.1L978.5 166.4L978.9 165.7L979.3 165L979.7 164.2L980.1 163.5L980.5 162.8L980.9 162L981.3 161.3L981.7 160.5L982.1 159.8L982.5 159L982.9 158.3L983.3 157.6L983.7 156.9L984.1 156.2L984.5 155.6L984.9 154.9L985.3 154.3L985.7 153.7L986.1 153.1L986.5 152.6L986.9 152.1L987.3 151.6L987.7 151.2L988.1 150.8L988.5 150.4L988.9 150.1L989.3 149.8L989.7 149.6L990.1 149.4L990.5 149.3L990.9 149.2L991.3 149.2L991.7 149.2L992.1 149.3L992.5 149.4L992.9 149.4L993.3 149.6L993.7 149.7L994.1 149.8L994.5 150L994.9 150.2L995.3 150.3L995.7 150.5L996.1 150.6L996.5 150.8L996.9 150.9L997.3 151L997.7 151.1L998.1 151.2L998.5 151.3L998.9 151.3L999.3 151.3L999.7 151.3L1000.1 151.2L1000.5 151.2L1000.9 151.1L1001.3 151L1001.7 150.9L1002.1 150.8L1002.5 150.7L1002.9 150.6L1003.3 150.4L1003.7 150.2L1004.1 150L1004.5 149.8L1004.9 149.6L1005.3 149.4L1005.7 149.2L1006 149" stroke="#40e0d0" stroke-width="3.5"/><path d="M587.7 216.6L588.1 219.2L588.5 222.3L588.9 226L589.3 230.1L589.7 234.5L590.1 239.2L590.5 245L590.9 251.7L591.3 259L591.7 266.7L592.1 274.4L592.5 281.8L592.9 288.5L593.3 294.5L593.7 300.5L594.1 306.5L594.5 312.2L594.9 317.8L595.3 323L595.7 327.8L596.1 332.1L596.5 335.9L596.9 339.7L597.3 343.5L597.7 347.1L598.1 350.5L598.5 353.5L598.9 355.9L599.3 357.6L599.7 358.4L600.1 356.4L600.5 348.7L600.9 337.3L601.3 324.2L601.7 311.6L602.1 301.8L602.5 295.3L602.9 289.6L603.3 284.4L603.7 279.8L604.1 275.7L604.5 272L604.9 268.6L605.3 265.5L605.7 262.6L606.1 259.9L606.5 257.4L606.9 255.1L607.3 252.9L607.7 251L608.1 249.2L608.5 247.4L608.9 245.7L609.3 244.1L609.7 242.6L610.1 241.1L610.5 239.7L610.9 238.4L611.3 237.1L611.7 236L612.1 234.9L612.5 233.9L612.9 233L613.3 232.2L613.7 231.4L614.1 230.6L614.5 229.8L614.9 229.1L615.3 228.4L615.7 227.7L616.1 227.1L616.5 226.5L616.9 225.9L617.3 225.3L617.7 224.8L618.1 224.3L618.5 223.8L618.9 223.4L619.3 224.5L619.7 222.6L620.1 222.2L620.5 221.9L620.9 221.6L621.3 221.3L621.7 221.1L622.1 220.8L622.5 220.5L622.9 220.3L623.3 217.1L623.7 219.8L624.1 219.6L624.5 219.4L624.9 219.2L625.3 219L625.7 218.9L626.1 218.7L626.5 215.9L626.9 218.5L627.3 218.4L627.7 218.3L628.1 218.2L628.5 218.2L628.9 215.5L629.3 218.1L629.7 218L630.1 216L630.5 217.9L630.9 217.8L631.3 217.8L631.7 217.7L632.1 217.7L632.5 217.6L632.9 217.6L633.3 217.6L633.7 217.7L634.1 217.5L634.5 217.4L634.9 220.2L635.3 217.4L635.7 217.4L636.1 217.3L636.5 217.3L636.9 217.3L637.3 217.3L637.7 217.2L638.1 217.2L638.5 217.2L638.9 217.2L639.3 217.2L639.7 217.2L640.1 217.2L640.5 217.2L640.9 219.6L641.3 217.2L641.7 217.2L642.1 217.2L642.5 217.2L642.9 217.2L643.3 220.2L643.7 217.2L644.1 217.2L644.5 217.2L644.9 217.2L645.3 218.9L645.7 217.2L646.1 217.2L646.5 217.2L646.9 217.2L647.3 217.2L647.7 218.9L648.1 217.2L648.5 217.2L648.9 214.5L649.3 217.2L649.7 217.2L650.1 217.2L650.5 217.2L650.9 217.2L651.3 217.2L651.7 217.2L652.1 217.3L652.5 217.3L652.9 217.3L653.3 216.5L653.7 217.3L654.1 217.3L654.5 220L654.9 215.5L655.3 219.5L655.7 217.3L656.1 217.3L656.5 217.3L656.9 217.3L657.3 217.3L657.7 217.3L658.1 217.3L658.5 217.3L658.9 217.3L659.3 217.3L659.7 217.3L660.1 217.3L660.5 219.2L660.9 217.3L661.3 217.3L661.7 217.3L662.1 217.3L662.5 217.3L662.9 217.3L663.3 217.3L663.7 217.3L664.1 217.3L664.5 217.3L664.9 217.3L665.3 217.3L665.7 217.3L666.1 217.3L666.5 217.3L666.9 217.3L667.3 217.3L667.7 217.3L668.1 217.4L668.5 217.4L668.9 217.4L669.3 218.6L669.7 217.4L670.1 217.4L670.5 217.4L670.9 217.4L671.3 217.4L671.7 217.4L672.1 217.4L672.5 217.4L672.9 217.4L673.3 217.4L673.7 217.4L674.1 217.4L674.5 217.4L674.9 217.4L675.3 217.4L675.7 217.4L676.1 217.4L676.5 217.4L676.9 217.4L677.3 219.6L677.7 217.4L678.1 217.4L678.5 217.4L678.9 217.4L679.3 217.4L679.7 218.4L680.1 217.4L680.5 218.2L680.9 217.4L681.3 217.4L681.7 217.4L682.1 217.4L682.5 218.3L682.9 218.4L683.3 216.4L683.7 217.4L684.1 217.4L684.5 217.4L684.9 217.4L685.3 217.4L685.7 217.4L686.1 217.4L686.5 217.4L686.9 217.4L687.3 217.4L687.7 217.4L688.1 217.4L688.5 217.4L688.9 217.4L689.3 217.4L689.7 217.4L690.1 217.4L690.5 217.4L690.9 217.4L691.3 217.4L691.7 217.4L692.1 217.4L692.5 217.4L692.9 217.4L693.3 217.4L693.7 217.4L694.1 217.4L694.5 217.5L694.9 217.3L695.3 217.3L695.7 216.2L696.1 217.3L696.5 217.3L696.9 217.3L697.3 217.3L697.7 214.3L698.1 217.3L698.5 217.3L698.9 217.3L699.3 217.3L699.7 217.3L700.1 217.3L700.5 217.8L700.9 217.3L701.3 217.2L701.7 217.2L702.1 217.1L702.5 217.8L702.9 217L703.3 217L703.7 216.9L704.1 216.9L704.5 216.8L704.9 216.8L705.3 216.7L705.7 216.6L706.1 216.6L706.5 216.6L706.9 216.5L707.3 216.5L707.7 216.5L708.1 216.5L708.5 219.6L708.9 218.1L709.3 216.5L709.7 218.3L710.1 216.5L710.5 216.6L710.9 216.6L711.3 215.9L711.7 216.6L712.1 213.8L712.5 216.7L712.9 216.7L713.3 216.7L713.7 216.7L714.1 216.8L714.5 216.8L714.9 216.8L715.3 216.9L715.7 216.9L716.1 216.9L716.5 217L716.9 217L717.3 217L717.7 217L718.1 217.1L718.5 217.1L718.9 217.1L719.3 217.1L719.7 217.2L720.1 217.2L720.5 217.2L720.9 217.2L721.3 217.3L721.7 217.3L722.1 217.3L722.5 220.3L722.9 217.3L723.3 217.3L723.7 217.3L724.1 217.3L724.5 217.3L724.9 217.3L725.3 217.3L725.7 217.2L726.1 217.2L726.5 217.2L726.9 217.2L727.3 217.1L727.7 217.1L728.1 217L728.5 217L728.9 216.9L729.3 216.9L729.7 216.8L730.1 216.8L730.5 216.7L730.9 215.5L731.3 216.6L731.7 219.1L732.1 216.5L732.5 215L732.9 216.4L733.3 216.4L733.7 216.3L734.1 216.3L734.5 216.2L734.9 216.2L735.3 216.1L735.7 216.1L736.1 216.1L736.5 218.1L736.9 216L737.3 216L737.7 216L738.1 215.9L738.5 215.9L738.9 215.9L739.3 215.9L739.7 215.9L740.1 215.9L740.5 214.8L740.9 215.9L741.3 215.9L741.7 216L742.1 216L742.5 216L742.9 216L743.3 216.1L743.7 216.1L744.1 216.2L744.5 216.2L744.9 216.2L745.3 216.3L745.7 216.3L746.1 216.4L746.5 216.4L746.9 216.5L747.3 216.5L747.7 216.6L748.1 216.6L748.5 216.7L748.9 215.3L749.3 216.8L749.7 216.8L750.1 214.5L750.5 216.9L750.9 217L751.3 217L751.7 217L752.1 217.1L752.5 217.1L752.9 217.2L753.3 217.2L753.7 219.6L754.1 217.2L754.5 217.3L754.9 217.3L755.3 217.3L755.7 217.3L756.1 217.3L756.5 217.3L756.9 217.3L757.3 217.3L757.7 217.3L758.1 217.2L758.5 218.7L758.9 217.1L759.3 217.1L759.7 217L760.1 217L760.5 216.9L760.9 216.8L761.3 216.8L761.7 216.7L762.1 216.6L762.5 216.5L762.9 218.2L763.3 215.3L763.7 216.3L764.1 216.2L764.5 216.1L764.9 216.1L765.3 216L765.7 216.4L766.1 215.8L766.5 215.7L766.9 215.7L767.3 215.6L767.7 215.5L768.1 215.5L768.5 215.4L768.9 215.3L769.3 215.3L769.7 215.2L770.1 215.2L770.5 215.2L770.9 212.3L771.3 215.1L771.7 214L772.1 215.1L772.5 217.2L772.9 215.1L773.3 215.1L773.7 215.1L774.1 215.2L774.5 214.1L774.9 215.2L775.3 215.2L775.7 215.3L776.1 215.3L776.5 215.3L776.9 215.4L777.3 215.4L777.7 215.4L778.1 215.5L778.5 215.5L778.9 215.6L779.3 215.6L779.7 215.7L780.1 215.7L780.5 215.8L780.9 215.8L781.3 215.8L781.7 215.9L782.1 215.9L782.5 216L782.9 216L783.3 216.1L783.7 216.1L784.1 216.1L784.5 216.2L784.9 216.2L785.3 216.2L785.7 216.2L786.1 216.3L786.5 216.3L786.9 216.3L787.3 216.3L787.7 216.3L788.1 216.3L788.5 216.3L788.9 216.3L789.3 216.2L789.7 216.2L790.1 216.1L790.5 216.1L790.9 216L791.3 215.9L791.7 215.9L792.1 215.8L792.5 215.7L792.9 215.6L793.3 215.5L793.7 215.4L794.1 215.3L794.5 215.2L794.9 215.1L795.3 214.9L795.7 214.8L796.1 214.7L796.5 214.6L796.9 214.5L797.3 214.4L797.7 214.3L798.1 214.2L798.5 214.1L798.9 214L799.3 213.9L799.7 213.8L800.1 213.7L800.5 213.6L800.9 213.5L801.3 213.5L801.7 213.4L802.1 213.4L802.5 213.3L802.9 213.3L803.3 213.3L803.7 213.3L804.1 213.3L804.5 213.3L804.9 213.3L805.3 213.3L805.7 213.4L806.1 213.4L806.5 213.4L806.9 213.5L807.3 213.5L807.7 213.6L808.1 213.6L808.5 213.7L808.9 213.7L809.3 213.8L809.7 213.8L810.1 213.9L810.5 213.9L810.9 214L811.3 214.1L811.7 214.1L812.1 214.2L812.5 214.2L812.9 214.3L813.3 214.4L813.7 214.4L814.1 214.5L814.5 214.5L814.9 214.6L815.3 214.6L815.7 214.7L816.1 214.7L816.5 214.8L816.9 214.8L817.3 214.8L817.7 214.8L818.1 214.9L818.5 214.9L818.9 214.9L819.3 214.9L819.7 214.9L820.1 214.9L820.5 214.8L820.9 214.8L821.3 214.7L821.7 214.7L822.1 214.6L822.5 214.5L822.9 214.4L823.3 214.2L823.7 214.1L824.1 214L824.5 213.8L824.9 213.7L825.3 213.5L825.7 213.4L826.1 213.2L826.5 213.1L826.9 212.9L827.3 212.8L827.7 212.6L828.1 212.4L828.5 212.3L828.9 212.1L829.3 212L829.7 211.8L830.1 211.7L830.5 211.5L830.9 211.4L831.3 211.3L831.7 211.1L832.1 211L832.5 210.9L832.9 210.8L833.3 210.8L833.7 210.7L834.1 210.7L834.5 210.6L834.9 210.6L835.3 210.6L835.7 210.6L836.1 210.6L836.5 210.6L836.9 210.7L837.3 210.7L837.7 210.7L838.1 210.8L838.5 210.8L838.9 210.9L839.3 211L839.7 211L840.1 211.1L840.5 211.2L840.9 211.2L841.3 211.3L841.7 211.4L842.1 211.4L842.5 211.5L842.9 211.6L843.3 211.7L843.7 211.7L844.1 211.8L844.5 211.9L844.9 212L845.3 212L845.7 212.1L846.1 212.2L846.5 212.2L846.9 212.3L847.3 212.3L847.7 212.4L848.1 212.4L848.5 212.4L848.9 212.5L849.3 212.5L849.7 212.5L850.1 212.5L850.5 212.5L850.9 212.5L851.3 212.4L851.7 212.3L852.1 212.2L852.5 212.1L852.9 212L853.3 211.9L853.7 211.7L854.1 211.6L854.5 211.4L854.9 211.2L855.3 211L855.7 210.8L856.1 210.6L856.5 210.4L856.9 210.1L857.3 209.9L857.7 209.7L858.1 209.5L858.5 209.2L858.9 209L859.3 208.8L859.7 208.5L860.1 208.3L860.5 208.1L860.9 207.9L861.3 207.7L861.7 207.4L862.1 207.3L862.5 207.1L862.9 206.9L863.3 206.7L863.7 206.6L864.1 206.5L864.5 206.3L864.9 206.2L865.3 206.1L865.7 206.1L866.1 206L866.5 206L866.9 206L867.3 206L867.7 206L868.1 206.1L868.5 206.1L868.9 206.1L869.3 206.2L869.7 206.3L870.1 206.3L870.5 206.4L870.9 206.5L871.3 206.6L871.7 206.6L872.1 206.7L872.5 206.8L872.9 206.9L873.3 207L873.7 207.1L874.1 207.2L874.5 207.3L874.9 207.4L875.3 207.5L875.7 207.5L876.1 207.6L876.5 207.7L876.9 207.8L877.3 207.8L877.7 207.9L878.1 207.9L878.5 208L878.9 208L879.3 208L879.7 208L880.1 208L880.5 208L880.9 207.9L881.3 207.8L881.7 207.7L882.1 207.6L882.5 207.5L882.9 207.3L883.3 207.1L883.7 207L884.1 206.8L884.5 206.5L884.9 206.3L885.3 206.1L885.7 205.8L886.1 205.6L886.5 205.3L886.9 205.1L887.3 204.8L887.7 204.5L888.1 204.2L888.5 203.9L888.9 203.7L889.3 203.4L889.7 203.1L890.1 202.8L890.5 202.5L890.9 202.2L891.3 202L891.7 201.7L892.1 201.4L892.5 201.2L892.9 201L893.3 200.7L893.7 200.5L894.1 200.3L894.5 200.1L894.9 199.9L895.3 199.8L895.7 199.6L896.1 199.5L896.5 199.4L896.9 199.3L897.3 199.2L897.7 199.1L898.1 199.1L898.5 199.1L898.9 199.1L899.3 199.1L899.7 199.2L900.1 199.3L900.5 199.3L900.9 199.4L901.3 199.5L901.7 199.6L902.1 199.7L902.5 199.9L902.9 200L903.3 200.1L903.7 200.3L904.1 200.4L904.5 200.5L904.9 200.6L905.3 200.8L905.7 200.9L906.1 201L906.5 201.1L906.9 201.2L907.3 201.3L907.7 201.4L908.1 201.4L908.5 201.5L908.9 201.5L909.3 201.5L909.7 201.5L910.1 201.4L910.5 201.4L910.9 201.3L911.3 201.1L911.7 201L912.1 200.8L912.5 200.6L912.9 200.4L913.3 200.1L913.7 199.9L914.1 199.6L914.5 199.3L914.9 199L915.3 198.6L915.7 198.3L916.1 198L916.5 197.6L916.9 197.2L917.3 196.8L917.7 196.5L918.1 196.1L918.5 195.7L918.9 195.3L919.3 194.9L919.7 194.5L920.1 194.1L920.5 193.7L920.9 193.3L921.3 193L921.7 192.6L922.1 192.2L922.5 191.9L922.9 191.5L923.3 191.2L923.7 190.9L924.1 190.6L924.5 190.3L924.9 190L925.3 189.8L925.7 189.6L926.1 189.4L926.5 189.2L926.9 189L927.3 188.9L927.7 188.8L928.1 188.7L928.5 188.6L928.9 188.6L929.3 188.6L929.7 188.6L930.1 188.7L930.5 188.7L930.9 188.8L931.3 188.9L931.7 188.9L932.1 189L932.5 189.1L932.9 189.2L933.3 189.4L933.7 189.5L934.1 189.6L934.5 189.7L934.9 189.8L935.3 190L935.7 190.1L936.1 190.2L936.5 190.3L936.9 190.4L937.3 190.5L937.7 190.6L938.1 190.6L938.5 190.7L938.9 190.7L939.3 190.8L939.7 190.8L940.1 190.8L940.5 190.8L940.9 190.7L941.3 190.6L941.7 190.4L942.1 190.2L942.5 190L942.9 189.8L943.3 189.5L943.7 189.2L944.1 188.9L944.5 188.6L944.9 188.2L945.3 187.8L945.7 187.4L946.1 187L946.5 186.5L946.9 186.1L947.3 185.6L947.7 185.1L948.1 184.6L948.5 184.1L948.9 183.6L949.3 183.1L949.7 182.6L950.1 182.1L950.5 181.6L950.9 181.1L951.3 180.6L951.7 180L952.1 179.5L952.5 179L952.9 178.6L953.3 178.1L953.7 177.6L954.1 177.2L954.5 176.7L954.9 176.3L955.3 175.9L955.7 175.5L956.1 175.2L956.5 174.8L956.9 174.5L957.3 174.2L957.7 174L958.1 173.7L958.5 173.5L958.9 173.3L959.3 173.2L959.7 173.1L960.1 173L960.5 173L960.9 173L961.3 173L961.7 173.1L962.1 173.1L962.5 173.2L962.9 173.3L963.3 173.4L963.7 173.5L964.1 173.6L964.5 173.7L964.9 173.8L965.3 173.9L965.7 174L966.1 174.2L966.5 174.3L966.9 174.4L967.3 174.5L967.7 174.6L968.1 174.7L968.5 174.8L968.9 174.9L969.3 174.9L969.7 175L970.1 175L970.5 175L970.9 175L971.3 174.9L971.7 174.7L972.1 174.6L972.5 174.3L972.9 174L973.3 173.7L973.7 173.3L974.1 172.9L974.5 172.5L974.9 172L975.3 171.5L975.7 170.9L976.1 170.4L976.5 169.8L976.9 169.1L977.3 168.5L977.7 167.8L978.1 167.1L978.5 166.4L978.9 165.7L979.3 165L979.7 164.2L980.1 163.5L980.5 162.8L980.9 162L981.3 161.3L981.7 160.5L982.1 159.8L982.5 159L982.9 158.3L983.3 157.6L983.7 156.9L984.1 156.2L984.5 155.6L984.9 154.9L985.3 154.3L985.7 153.7L986.1 153.1L986.5 152.6L986.9 152.1L987.3 151.6L987.7 151.2L988.1 150.8L988.5 150.4L988.9 150.1L989.3 149.8L989.7 149.6L990.1 149.4L990.5 149.3L990.9 149.2L991.3 149.2L991.7 149.2L992.1 149.3L992.5 149.4L992.9 149.4L993.3 149.6L993.7 149.7L994.1 149.8L994.5 150L994.9 150.2L995.3 150.3L995.7 150.5L996.1 150.6L996.5 150.8L996.9 150.9L997.3 151L997.7 151.1L998.1 151.2L998.5 151.3L998.9 151.3L999.3 151.3L999.7 151.3L1000.1 151.2L1000.5 151.2L1000.9 151.1L1001.3 151L1001.7 150.9L1002.1 150.8L1002.5 150.7L1002.9 150.6L1003.3 150.4L1003.7 150.2L1004.1 150L1004.5 149.8L1004.9 149.6L1005.3 149.4L1005.7 149.2L1006 149" stroke="#40e0d0" stroke-width="1.2"/><path d="M595.6 330L596.4 460L597.2 340" stroke="#40e0d0" stroke-width="1.3"/><path d="M587.7 216.6L588.1 222.1L588.5 227.7L588.9 233.5L589.3 239.4L589.7 245.4L590.1 251.5L590.5 257.6L590.9 263.7L591.3 269.9L591.7 276.3L592.1 283L592.5 290.2L592.9 298L593.3 306.6L593.7 316.4L594.1 327L594.5 338.1L594.9 349.3L595.3 360.6L595.7 373.2L596.1 385.8L596.5 396.2L596.9 403.2L597.3 409.3L597.7 414.5L598.1 418.3L598.5 420L598.9 420.5L599.3 420.8L599.7 421L600.1 421L600.5 420.8L600.9 420.5L601.3 420.1L601.7 419.1L602.1 417L602.5 414.2L602.9 410.9L603.3 407.5L603.7 404.4L604.1 401.7L604.5 398.4L604.9 399.2L605.3 399.3L605.7 399.5L606.1 399.9L606.5 400.3L606.9 400.7L607.3 401.1L607.7 401.5L608.1 400.3L608.5 401.9L608.9 401.9L609.3 401.8L609.7 401.6L610.1 401.4L610.5 401.1L610.9 399.6L611.3 400.5L611.7 400.1L612.1 399.8L612.5 399.5L612.9 399.2L613.3 398.7L613.7 398.6L614.1 398.5L614.5 398.3L614.9 398.1L615.3 398L615.7 397.8L616.1 397.7L616.5 397.6L616.9 398.3L617.3 397.3L617.7 397.2L618.1 397.1L618.5 397L618.9 396.9L619.3 396.8L619.7 396.7L620.1 396.6L620.5 395.2L620.9 396.4L621.3 396.3L621.7 396.2L622.1 396.1L622.5 395.9L622.9 395.8L623.3 395.7L623.7 396.4L624.1 395.5L624.5 395.4L624.9 395.3L625.3 395.2L625.7 395.2L626.1 395.1L626.5 395L626.9 394.9L627.3 394.8L627.7 394.8L628.1 394.7L628.5 394.7L628.9 395.2L629.3 394.6L629.7 394.6L630.1 394.6L630.5 393.4L630.9 394.5L631.3 394.5L631.7 394.5L632.1 394.5L632.5 394.5L632.9 395.5L633.3 394.4L633.7 394.4L634.1 394.4L634.5 394.4L634.9 394.4L635.3 394.4L635.7 394.4L636.1 394.3L636.5 394.3L636.9 394.3L637.3 395.3L637.7 394.3L638.1 394.3L638.5 394.3L638.9 394.3L639.3 394.3L639.7 394.3L640.1 394.3L640.5 394.3L640.9 394.3L641.3 394.3L641.7 394.3L642.1 394.2L642.5 394.2L642.9 394.2L643.3 394.2L643.7 394.2L644.1 394.2L644.5 395.1L644.9 394.2L645.3 394L645.7 394.2L646.1 394.2L646.5 394.2L646.9 394.2L647.3 394.2L647.7 394.2L648.1 394.2L648.5 394.2L648.9 394.2L649.3 394.2L649.7 394.2L650.1 394.2L650.5 394.2L650.9 394.2L651.3 394.2L651.7 394.1L652.1 394.7L652.5 393.1L652.9 394.1L653.3 394.1L653.7 394.1L654.1 394.1L654.5 394.1L654.9 394.1L655.3 394.1L655.7 394.1L656.1 395L656.5 394.1L656.9 394.1L657.3 394.1L657.7 394.1L658.1 394.1L658.5 394.1L658.9 394.1L659.3 394.1L659.7 395.6L660.1 394.1L660.5 392.7L660.9 394.1L661.3 393.6L661.7 394.1L662.1 394.1L662.5 394.1L662.9 394.1L663.3 394L663.7 394.1L664.1 394.1L664.5 395.4L664.9 394.1L665.3 394.1L665.7 394.1L666.1 394.1L666.5 394.1L666.9 394.1L667.3 394.1L667.7 394.1L668.1 394.1L668.5 394L668.9 392.7L669.3 394L669.7 393.8L670.1 394L670.5 394L670.9 394L671.3 394L671.7 394L672.1 394L672.5 394L672.9 394L673.3 394.9L673.7 394L674.1 394.3L674.5 394L674.9 394L675.3 394L675.7 394L676.1 394L676.5 394L676.9 394L677.3 394L677.7 394L678.1 394L678.5 394L678.9 394L679.3 394L679.7 394L680.1 392.6L680.5 394L680.9 394L681.3 394L681.7 394L682.1 394L682.5 394L682.9 394L683.3 394L683.7 394L684.1 394L684.5 394.7L684.9 392.7L685.3 394L685.7 394L686.1 394L686.5 394L686.9 394L687.3 394L687.7 394L688.1 394L688.5 394L688.9 392.7L689.3 394L689.7 394L690.1 395.2L690.5 394L690.9 393.7L691.3 394L691.7 394L692.1 394L692.5 394L692.9 393.3L693.3 394L693.7 393.9L694.1 394.3L694.5 393.9L694.9 393.4L695.3 393.9L695.7 394.9L696.1 393.9L696.5 394.3L696.9 393.9L697.3 393.9L697.7 393.9L698.1 393.9L698.5 393.9L698.9 393.9L699.3 393.9L699.7 393.9L700.1 393.9L700.5 393.9L700.9 393.9L701.3 393.8L701.7 393.8L702.1 393.8L702.5 393.7L702.9 393.7L703.3 393.7L703.7 393.6L704.1 393.6L704.5 393.9L704.9 393.5L705.3 393.4L705.7 393.4L706.1 393.4L706.5 393.3L706.9 393.3L707.3 393.3L707.7 393.3L708.1 393.3L708.5 393.3L708.9 393.3L709.3 393.3L709.7 393.4L710.1 393.4L710.5 393.4L710.9 393.5L711.3 392.4L711.7 393.6L712.1 393.6L712.5 393.7L712.9 393.8L713.3 393.8L713.7 393.9L714.1 393.9L714.5 394L714.9 394.1L715.3 394.1L715.7 394.2L716.1 395.5L716.5 394.3L716.9 394.3L717.3 394.4L717.7 394.4L718.1 394.4L718.5 394.5L718.9 395.6L719.3 394.5L719.7 394.5L720.1 394.5L720.5 394.5L720.9 394.5L721.3 394.4L721.7 394.4L722.1 394.4L722.5 394.3L722.9 394.3L723.3 394.2L723.7 394.1L724.1 394.1L724.5 394L724.9 393.9L725.3 393.8L725.7 393.7L726.1 393.6L726.5 393.5L726.9 393.4L727.3 393.3L727.7 393.2L728.1 393.1L728.5 393L728.9 392.9L729.3 392.8L729.7 392.7L730.1 392.6L730.5 392.5L730.9 392.4L731.3 392.3L731.7 392.2L732.1 392.1L732.5 392L732.9 391.9L733.3 391.8L733.7 391.7L734.1 391.6L734.5 391.6L734.9 391.5L735.3 391.4L735.7 391.3L736.1 391.3L736.5 391.2L736.9 391.2L737.3 391.1L737.7 391.1L738.1 391.1L738.5 391L738.9 391L739.3 391L739.7 391L740.1 391L740.5 391L740.9 391L741.3 391.1L741.7 391.1L742.1 391.1L742.5 391.2L742.9 391.2L743.3 391.2L743.7 391.3L744.1 391.3L744.5 391.4L744.9 391.5L745.3 391.5L745.7 391.6L746.1 391.6L746.5 391.7L746.9 391.8L747.3 391.8L747.7 391.9L748.1 392L748.5 392.1L748.9 392.1L749.3 392.2L749.7 392.3L750.1 392.3L750.5 392.4L750.9 392.4L751.3 392.5L751.7 392.6L752.1 392.6L752.5 392.7L752.9 392.7L753.3 392.7L753.7 392.8L754.1 392.8L754.5 392.8L754.9 392.9L755.3 392.9L755.7 392.9L756.1 392.9L756.5 392.9L756.9 392.9L757.3 392.9L757.7 392.8L758.1 392.8L758.5 392.7L758.9 392.7L759.3 392.6L759.7 392.6L760.1 392.5L760.5 392.4L760.9 392.3L761.3 392.2L761.7 392.1L762.1 392L762.5 391.9L762.9 391.8L763.3 391.7L763.7 391.6L764.1 391.5L764.5 391.4L764.9 391.3L765.3 391.1L765.7 391L766.1 390.9L766.5 390.8L766.9 390.7L767.3 390.6L767.7 390.5L768.1 390.5L768.5 390.4L768.9 390.3L769.3 390.2L769.7 390.2L770.1 390.1L770.5 390.1L770.9 390L771.3 390L771.7 390L772.1 390L772.5 390L772.9 390L773.3 390L773.7 390L774.1 390.1L774.5 390.1L774.9 390.1L775.3 390.1L775.7 390.2L776.1 390.2L776.5 390.2L776.9 390.3L777.3 390.3L777.7 390.4L778.1 390.4L778.5 390.5L778.9 390.5L779.3 390.6L779.7 390.6L780.1 390.7L780.5 390.7L780.9 390.8L781.3 390.8L781.7 390.9L782.1 390.9L782.5 390.9L782.9 391L783.3 391L783.7 391.1L784.1 391.1L784.5 391.1L784.9 391.2L785.3 391.2L785.7 391.2L786.1 391.3L786.5 391.3L786.9 391.3L787.3 391.3L787.7 391.3L788.1 391.3L788.5 391.3L788.9 391.3L789.3 391.2L789.7 391.2L790.1 391.1L790.5 391L790.9 391L791.3 390.9L791.7 390.8L792.1 390.7L792.5 390.5L792.9 390.4L793.3 390.3L793.7 390.2L794.1 390L794.5 389.9L794.9 389.8L795.3 389.6L795.7 389.5L796.1 389.3L796.5 389.2L796.9 389.1L797.3 388.9L797.7 388.8L798.1 388.7L798.5 388.5L798.9 388.4L799.3 388.3L799.7 388.2L800.1 388.1L800.5 388L800.9 387.9L801.3 387.8L801.7 387.8L802.1 387.7L802.5 387.7L802.9 387.6L803.3 387.6L803.7 387.6L804.1 387.6L804.5 387.6L804.9 387.6L805.3 387.7L805.7 387.7L806.1 387.7L806.5 387.8L806.9 387.8L807.3 387.8L807.7 387.9L808.1 387.9L808.5 388L808.9 388.1L809.3 388.1L809.7 388.2L810.1 388.3L810.5 388.3L810.9 388.4L811.3 388.5L811.7 388.5L812.1 388.6L812.5 388.7L812.9 388.7L813.3 388.8L813.7 388.9L814.1 388.9L814.5 389L814.9 389L815.3 389.1L815.7 389.1L816.1 389.2L816.5 389.2L816.9 389.3L817.3 389.3L817.7 389.3L818.1 389.4L818.5 389.4L818.9 389.4L819.3 389.4L819.7 389.4L820.1 389.4L820.5 389.3L820.9 389.3L821.3 389.2L821.7 389.1L822.1 389L822.5 388.9L822.9 388.8L823.3 388.7L823.7 388.5L824.1 388.4L824.5 388.2L824.9 388.1L825.3 387.9L825.7 387.7L826.1 387.5L826.5 387.4L826.9 387.2L827.3 387L827.7 386.8L828.1 386.6L828.5 386.5L828.9 386.3L829.3 386.1L829.7 385.9L830.1 385.8L830.5 385.6L830.9 385.5L831.3 385.3L831.7 385.2L832.1 385.1L832.5 385L832.9 384.9L833.3 384.8L833.7 384.7L834.1 384.7L834.5 384.6L834.9 384.6L835.3 384.6L835.7 384.6L836.1 384.6L836.5 384.6L836.9 384.7L837.3 384.7L837.7 384.7L838.1 384.7L838.5 384.8L838.9 384.8L839.3 384.9L839.7 384.9L840.1 385L840.5 385L840.9 385.1L841.3 385.1L841.7 385.2L842.1 385.2L842.5 385.3L842.9 385.3L843.3 385.4L843.7 385.4L844.1 385.5L844.5 385.6L844.9 385.6L845.3 385.7L845.7 385.7L846.1 385.8L846.5 385.8L846.9 385.8L847.3 385.9L847.7 385.9L848.1 385.9L848.5 386L848.9 386L849.3 386L849.7 386L850.1 386L850.5 386L850.9 386L851.3 385.9L851.7 385.8L852.1 385.7L852.5 385.6L852.9 385.5L853.3 385.4L853.7 385.2L854.1 385.1L854.5 384.9L854.9 384.7L855.3 384.5L855.7 384.3L856.1 384.1L856.5 383.9L856.9 383.6L857.3 383.4L857.7 383.2L858.1 383L858.5 382.7L858.9 382.5L859.3 382.3L859.7 382L860.1 381.8L860.5 381.6L860.9 381.4L861.3 381.2L861.7 380.9L862.1 380.8L862.5 380.6L862.9 380.4L863.3 380.2L863.7 380.1L864.1 380L864.5 379.8L864.9 379.7L865.3 379.6L865.7 379.6L866.1 379.5L866.5 379.5L866.9 379.5L867.3 379.5L867.7 379.5L868.1 379.6L868.5 379.6L868.9 379.6L869.3 379.7L869.7 379.8L870.1 379.8L870.5 379.9L870.9 380L871.3 380.1L871.7 380.1L872.1 380.2L872.5 380.3L872.9 380.4L873.3 380.5L873.7 380.6L874.1 380.7L874.5 380.8L874.9 380.9L875.3 381L875.7 381L876.1 381.1L876.5 381.2L876.9 381.3L877.3 381.3L877.7 381.4L878.1 381.4L878.5 381.5L878.9 381.5L879.3 381.5L879.7 381.5L880.1 381.5L880.5 381.5L880.9 381.4L881.3 381.3L881.7 381.2L882.1 381.1L882.5 380.9L882.9 380.8L883.3 380.6L883.7 380.4L884.1 380.2L884.5 380L884.9 379.8L885.3 379.5L885.7 379.3L886.1 379L886.5 378.8L886.9 378.5L887.3 378.2L887.7 377.9L888.1 377.7L888.5 377.4L888.9 377.1L889.3 376.8L889.7 376.5L890.1 376.3L890.5 376L890.9 375.7L891.3 375.5L891.7 375.2L892.1 375L892.5 374.8L892.9 374.5L893.3 374.3L893.7 374.1L894.1 374L894.5 373.8L894.9 373.6L895.3 373.5L895.7 373.4L896.1 373.3L896.5 373.3L896.9 373.2L897.3 373.2L897.7 373.2L898.1 373.2L898.5 373.2L898.9 373.3L899.3 373.3L899.7 373.4L900.1 373.4L900.5 373.5L900.9 373.6L901.3 373.6L901.7 373.7L902.1 373.8L902.5 373.9L902.9 374L903.3 374.1L903.7 374.2L904.1 374.3L904.5 374.4L904.9 374.4L905.3 374.5L905.7 374.6L906.1 374.7L906.5 374.8L906.9 374.9L907.3 374.9L907.7 375L908.1 375L908.5 375.1L908.9 375.1L909.3 375.2L909.7 375.2L910.1 375.2L910.5 375.2L910.9 375.2L911.3 375.1L911.7 375L912.1 374.9L912.5 374.7L912.9 374.6L913.3 374.4L913.7 374.1L914.1 373.9L914.5 373.6L914.9 373.3L915.3 373L915.7 372.7L916.1 372.4L916.5 372L916.9 371.7L917.3 371.3L917.7 370.9L918.1 370.6L918.5 370.2L918.9 369.8L919.3 369.4L919.7 369L920.1 368.6L920.5 368.2L920.9 367.8L921.3 367.4L921.7 367.1L922.1 366.7L922.5 366.3L922.9 366L923.3 365.6L923.7 365.3L924.1 365L924.5 364.7L924.9 364.4L925.3 364.2L925.7 363.9L926.1 363.7L926.5 363.5L926.9 363.3L927.3 363.2L927.7 363.1L928.1 363L928.5 362.9L928.9 362.9L929.3 362.9L929.7 362.9L930.1 363L930.5 363.1L930.9 363.1L931.3 363.2L931.7 363.4L932.1 363.5L932.5 363.6L932.9 363.8L933.3 363.9L933.7 364.1L934.1 364.3L934.5 364.4L934.9 364.6L935.3 364.7L935.7 364.9L936.1 365.1L936.5 365.2L936.9 365.3L937.3 365.5L937.7 365.6L938.1 365.7L938.5 365.8L938.9 365.8L939.3 365.9L939.7 365.9L940.1 365.9L940.5 365.9L940.9 365.8L941.3 365.6L941.7 365.5L942.1 365.3L942.5 365.1L942.9 364.8L943.3 364.5L943.7 364.2L944.1 363.9L944.5 363.5L944.9 363.1L945.3 362.7L945.7 362.3L946.1 361.8L946.5 361.3L946.9 360.9L947.3 360.4L947.7 359.9L948.1 359.4L948.5 358.8L948.9 358.3L949.3 357.8L949.7 357.3L950.1 356.7L950.5 356.2L950.9 355.7L951.3 355.2L951.7 354.7L952.1 354.1L952.5 353.7L952.9 353.2L953.3 352.7L953.7 352.2L954.1 351.8L954.5 351.4L954.9 351L955.3 350.6L955.7 350.3L956.1 350L956.5 349.7L956.9 349.4L957.3 349.2L957.7 349L958.1 348.8L958.5 348.7L958.9 348.6L959.3 348.5L959.7 348.5L960.1 348.5L960.5 348.6L960.9 348.6L961.3 348.7L961.7 348.8L962.1 349L962.5 349.1L962.9 349.2L963.3 349.4L963.7 349.6L964.1 349.8L964.5 349.9L964.9 350.1L965.3 350.3L965.7 350.5L966.1 350.7L966.5 350.9L966.9 351L967.3 351.2L967.7 351.3L968.1 351.5L968.5 351.6L968.9 351.7L969.3 351.8L969.7 351.8L970.1 351.9L970.5 351.9L970.9 351.9L971.3 351.8L971.7 351.7L972.1 351.5L972.5 351.2L972.9 351L973.3 350.6L973.7 350.3L974.1 349.9L974.5 349.5L974.9 349L975.3 348.5L975.7 347.9L976.1 347.4L976.5 346.8L976.9 346.2L977.3 345.6L977.7 344.9L978.1 344.2L978.5 343.6L978.9 342.9L979.3 342.1L979.7 341.4L980.1 340.7L980.5 340L980.9 339.3L981.3 338.5L981.7 337.8L982.1 337.1L982.5 336.4L982.9 335.7L983.3 335L983.7 334.3L984.1 333.6L984.5 333L984.9 332.4L985.3 331.8L985.7 331.2L986.1 330.6L986.5 330.1L986.9 329.6L987.3 329.1L987.7 328.7L988.1 328.3L988.5 328L988.9 327.7L989.3 327.4L989.7 327.2L990.1 327L990.5 326.9L990.9 326.8L991.3 326.8L991.7 326.8L992.1 326.9L992.5 327L992.9 327.1L993.3 327.3L993.7 327.5L994.1 327.7L994.5 327.9L994.9 328.1L995.3 328.3L995.7 328.6L996.1 328.8L996.5 329L996.9 329.2L997.3 329.3L997.7 329.5L998.1 329.6L998.5 329.7L998.9 329.7L999.3 329.7L999.7 329.7L1000.1 329.7L1000.5 329.7L1000.9 329.7L1001.3 329.7L1001.7 329.7L1002.1 329.6L1002.5 329.6L1002.9 329.6L1003.3 329.5L1003.7 329.5L1004.1 329.4L1004.5 329.4L1004.9 329.3L1005.3 329.2L1005.7 329.1L1006 329" stroke="#ff0000" stroke-width="2.0"/><path d="M594.5 330L596.7 488.4L598.2 400" stroke="#ff0000" stroke-width="1.3"/><path d="M594 300L595.5 380L597 420L598.6 395L599.5 425" stroke="#ff0000" stroke-width="2.2"/><path d="M587.7 216.6L588.1 216.6L588.5 216.6L588.9 216.6L589.3 216.6L589.7 216.6L590.1 216.6L590.5 216.6L590.9 216.6L591.3 216.6L591.7 216.6L592.1 216.6L592.5 216.6L592.9 216.6L593.3 216.6L593.7 216.6L594.1 216.6L594.5 216.6L594.9 216.6L595.3 216.6L595.7 216.6L596.1 216.6L596.5 216.6L596.9 216.6L597.3 216.6L597.7 216.6L598.1 216.6L598.5 216.6L598.9 216.6L599.3 216.6L599.7 216.6L600.1 216.6L600.5 216.6L600.9 216.6L601.3 216.6L601.7 216.6L602.1 216.6L602.5 216.6L602.9 216.6L603.3 214.8L603.7 216.6L604.1 216.6L604.5 216.6L604.9 216.6L605.3 217.5L605.7 216.6L606.1 216.9L606.5 216.6L606.9 216.6L607.3 216.6L607.7 216.6L608.1 216.6L608.5 216.7L608.9 216.7L609.3 216.7L609.7 216.7L610.1 216.7L610.5 216.7L610.9 216.7L611.3 217.8L611.7 216.8L612.1 216.8L612.5 216.8L612.9 216.8L613.3 216.8L613.7 216.8L614.1 216.8L614.5 216.8L614.9 216.9L615.3 216.9L615.7 216.9L616.1 216.7L616.5 215.6L616.9 216.9L617.3 216.9L617.7 217.9L618.1 217L618.5 218.7L618.9 217.9L619.3 217L619.7 217L620.1 217L620.5 217L620.9 217L621.3 217L621.7 217L622.1 217L622.5 217L622.9 217.1L623.3 217.1L623.7 217.7L624.1 217.1L624.5 218.4L624.9 217.1L625.3 217.1L625.7 217.1L626.1 217.1L626.5 217.1L626.9 217.1L627.3 217.1L627.7 215.9L628.1 217.1L628.5 216.5L628.9 217.1L629.3 217.1L629.7 217.2L630.1 217.2L630.5 217.2L630.9 217.2L631.3 217.2L631.7 216.8L632.1 217.2L632.5 217.2L632.9 217.2L633.3 217.2L633.7 217.2L634.1 217.2L634.5 217.2L634.9 217.2L635.3 217.2L635.7 217.2L636.1 217.2L636.5 217.2L636.9 217.3L637.3 217.3L637.7 217.3L638.1 217.3L638.5 217.3L638.9 216.6L639.3 217.3L639.7 217.3L640.1 217.8L640.5 217.3L640.9 217.3L641.3 217.3L641.7 217.5L642.1 217.3L642.5 217.3L642.9 217.3L643.3 217.4L643.7 217.4L644.1 217.4L644.5 216.3L644.9 217.4L645.3 217.4L645.7 217.4L646.1 217.4L646.5 217.4L646.9 218.7L647.3 217.4L647.7 217.4L648.1 217.5L648.5 217.5L648.9 217.5L649.3 217.5L649.7 217.5L650.1 217.5L650.5 217.5L650.9 217.5L651.3 217.5L651.7 217.5L652.1 219L652.5 217.5L652.9 217.5L653.3 217.4L653.7 217.5L654.1 215.8L654.5 217.6L654.9 217.6L655.3 217.6L655.7 217.6L656.1 217.7L656.5 217.6L656.9 217.6L657.3 217.6L657.7 217.6L658.1 217.6L658.5 217.6L658.9 217.6L659.3 217.6L659.7 217.6L660.1 217.6L660.5 217.6L660.9 217.6L661.3 217.6L661.7 216.7L662.1 217.6L662.5 216.1L662.9 217.6L663.3 217.6L663.7 217.6L664.1 217.6L664.5 217.6L664.9 217.6L665.3 217.6L665.7 216.8L666.1 217.6L666.5 217.6L666.9 217.6L667.3 217.6L667.7 217.6L668.1 217.6L668.5 217.6L668.9 216.3L669.3 217.6L669.7 217.6L670.1 217.6L670.5 217.6L670.9 217.6L671.3 217.6L671.7 217.6L672.1 217.6L672.5 217.6L672.9 217.5L673.3 217.5L673.7 217.9L674.1 216.3L674.5 217.5L674.9 217.5L675.3 217.5L675.7 217L676.1 217.5L676.5 217.5L676.9 217.5L677.3 216.1L677.7 217.5L678.1 217.5L678.5 217.5L678.9 218.1L679.3 217.5L679.7 217.5L680.1 217.5L680.5 217.5L680.9 217.5L681.3 217.5L681.7 217.5L682.1 217.5L682.5 216.1L682.9 217.5L683.3 217.5L683.7 217.5L684.1 217.5L684.5 217.5L684.9 217.5L685.3 217.5L685.7 217.5L686.1 217.5L686.5 218.8L686.9 217.5L687.3 217.5L687.7 217.5L688.1 219L688.5 217.4L688.9 217.4L689.3 217.4L689.7 217.4L690.1 217.4L690.5 217.4L690.9 217.4L691.3 217.4L691.7 215.7L692.1 216.4L692.5 217.4L692.9 217.4L693.3 217.4L693.7 216.5L694.1 217.4L694.5 216.8L694.9 217.8L695.3 217.4L695.7 217.4L696.1 217.4L696.5 215.9L696.9 217.4L697.3 217.3L697.7 217.1L698.1 217.3L698.5 217.3L698.9 217.3L699.3 217.3L699.7 217.3L700.1 217.3L700.5 217.3L700.9 217.3L701.3 217.2L701.7 217.2L702.1 217.1L702.5 217.1L702.9 217L703.3 217L703.7 216.9L704.1 216.9L704.5 216.8L704.9 216.7L705.3 216.7L705.7 216.6L706.1 216.6L706.5 216.6L706.9 216.5L707.3 216.5L707.7 216.5L708.1 216.5L708.5 216.5L708.9 216.5L709.3 216.5L709.7 216.5L710.1 216.5L710.5 216.6L710.9 216.6L711.3 216.6L711.7 216.6L712.1 216.6L712.5 216.7L712.9 216.7L713.3 216.7L713.7 216.7L714.1 216.8L714.5 216.8L714.9 216.8L715.3 216.9L715.7 216.9L716.1 216.9L716.5 217L716.9 217L717.3 217L717.7 217L718.1 217.1L718.5 217.1L718.9 217.1L719.3 217.1L719.7 217.2L720.1 217.2L720.5 217.2L720.9 217.2L721.3 217.3L721.7 217.3L722.1 217.3L722.5 217.3L722.9 217.3L723.3 217.3L723.7 217.3L724.1 217.3L724.5 217.3L724.9 217.3L725.3 217.3L725.7 217.2L726.1 217.2L726.5 217.2L726.9 217.2L727.3 217.1L727.7 217.1L728.1 217L728.5 217L728.9 216.9L729.3 216.9L729.7 216.8L730.1 216.8L730.5 216.7L730.9 216.7L731.3 216.6L731.7 216.6L732.1 216.5L732.5 216.5L732.9 216.4L733.3 216.4L733.7 216.3L734.1 216.3L734.5 216.2L734.9 216.2L735.3 216.1L735.7 216.1L736.1 216.1L736.5 216L736.9 216L737.3 216L737.7 216L738.1 215.9L738.5 215.9L738.9 215.9L739.3 215.9L739.7 215.9L740.1 215.9L740.5 215.9L740.9 215.9L741.3 215.9L741.7 216L742.1 216L742.5 216L742.9 216L743.3 216.1L743.7 216.1L744.1 216.2L744.5 216.2L744.9 216.2L745.3 216.3L745.7 216.3L746.1 216.4L746.5 216.4L746.9 216.5L747.3 216.5L747.7 216.6L748.1 216.6L748.5 216.7L748.9 216.7L749.3 216.8L749.7 216.8L750.1 216.9L750.5 216.9L750.9 217L751.3 217L751.7 217L752.1 217.1L752.5 217.1L752.9 217.2L753.3 217.2L753.7 217.2L754.1 217.2L754.5 217.3L754.9 217.3L755.3 217.3L755.7 217.3L756.1 217.3L756.5 217.3L756.9 217.3L757.3 217.3L757.7 217.3L758.1 217.2L758.5 217.2L758.9 217.1L759.3 217.1L759.7 217L760.1 217L760.5 216.9L760.9 216.8L761.3 216.8L761.7 216.7L762.1 216.6L762.5 216.5L762.9 216.5L763.3 216.4L763.7 216.3L764.1 216.2L764.5 216.1L764.9 216.1L765.3 216L765.7 215.9L766.1 215.8L766.5 215.7L766.9 215.7L767.3 215.6L767.7 215.5L768.1 215.5L768.5 215.4L768.9 215.3L769.3 215.3L769.7 215.2L770.1 215.2L770.5 215.2L770.9 215.1L771.3 215.1L771.7 215.1L772.1 215.1L772.5 215.1L772.9 215.1L773.3 215.1L773.7 215.1L774.1 215.2L774.5 215.2L774.9 215.2L775.3 215.2L775.7 215.3L776.1 215.3L776.5 215.3L776.9 215.4L777.3 215.4L777.7 215.4L778.1 215.5L778.5 215.5L778.9 215.6L779.3 215.6L779.7 215.7L780.1 215.7L780.5 215.8L780.9 215.8L781.3 215.8L781.7 215.9L782.1 215.9L782.5 216L782.9 216L783.3 216.1L783.7 216.1L784.1 216.1L784.5 216.2L784.9 216.2L785.3 216.2L785.7 216.2L786.1 216.3L786.5 216.3L786.9 216.3L787.3 216.3L787.7 216.3L788.1 216.3L788.5 216.3L788.9 216.3L789.3 216.2L789.7 216.2L790.1 216.1L790.5 216.1L790.9 216L791.3 215.9L791.7 215.9L792.1 215.8L792.5 215.7L792.9 215.6L793.3 215.5L793.7 215.4L794.1 215.3L794.5 215.2L794.9 215.1L795.3 214.9L795.7 214.8L796.1 214.7L796.5 214.6L796.9 214.5L797.3 214.4L797.7 214.3L798.1 214.2L798.5 214.1L798.9 214L799.3 213.9L799.7 213.8L800.1 213.7L800.5 213.6L800.9 213.5L801.3 213.5L801.7 213.4L802.1 213.4L802.5 213.3L802.9 213.3L803.3 213.3L803.7 213.3L804.1 213.3L804.5 213.3L804.9 213.3L805.3 213.3L805.7 213.4L806.1 213.4L806.5 213.4L806.9 213.5L807.3 213.5L807.7 213.6L808.1 213.6L808.5 213.7L808.9 213.7L809.3 213.8L809.7 213.8L810.1 213.9L810.5 213.9L810.9 214L811.3 214.1L811.7 214.1L812.1 214.2L812.5 214.2L812.9 214.3L813.3 214.4L813.7 214.4L814.1 214.5L814.5 214.5L814.9 214.6L815.3 214.6L815.7 214.7L816.1 214.7L816.5 214.8L816.9 214.8L817.3 214.8L817.7 214.8L818.1 214.9L818.5 214.9L818.9 214.9L819.3 214.9L819.7 214.9L820.1 214.9L820.5 214.8L820.9 214.8L821.3 214.7L821.7 214.7L822.1 214.6L822.5 214.5L822.9 214.4L823.3 214.2L823.7 214.1L824.1 214L824.5 213.8L824.9 213.7L825.3 213.5L825.7 213.4L826.1 213.2L826.5 213.1L826.9 212.9L827.3 212.8L827.7 212.6L828.1 212.4L828.5 212.3L828.9 212.1L829.3 212L829.7 211.8L830.1 211.7L830.5 211.5L830.9 211.4L831.3 211.3L831.7 211.1L832.1 211L832.5 210.9L832.9 210.8L833.3 210.8L833.7 210.7L834.1 210.7L834.5 210.6L834.9 210.6L835.3 210.6L835.7 210.6L836.1 210.6L836.5 210.6L836.9 210.7L837.3 210.7L837.7 210.7L838.1 210.8L838.5 210.8L838.9 210.9L839.3 211L839.7 211L840.1 211.1L840.5 211.2L840.9 211.2L841.3 211.3L841.7 211.4L842.1 211.4L842.5 211.5L842.9 211.6L843.3 211.7L843.7 211.7L844.1 211.8L844.5 211.9L844.9 212L845.3 212L845.7 212.1L846.1 212.2L846.5 212.2L846.9 212.3L847.3 212.3L847.7 212.4L848.1 212.4L848.5 212.4L848.9 212.5L849.3 212.5L849.7 212.5L850.1 212.5L850.5 212.5L850.9 212.5L851.3 212.4L851.7 212.3L852.1 212.2L852.5 212.1L852.9 212L853.3 211.9L853.7 211.7L854.1 211.6L854.5 211.4L854.9 211.2L855.3 211L855.7 210.8L856.1 210.6L856.5 210.4L856.9 210.1L857.3 209.9L857.7 209.7L858.1 209.5L858.5 209.2L858.9 209L859.3 208.8L859.7 208.5L860.1 208.3L860.5 208.1L860.9 207.9L861.3 207.7L861.7 207.4L862.1 207.3L862.5 207.1L862.9 206.9L863.3 206.7L863.7 206.6L864.1 206.5L864.5 206.3L864.9 206.2L865.3 206.1L865.7 206.1L866.1 206L866.5 206L866.9 206L867.3 206L867.7 206L868.1 206.1L868.5 206.1L868.9 206.1L869.3 206.2L869.7 206.3L870.1 206.3L870.5 206.4L870.9 206.5L871.3 206.6L871.7 206.6L872.1 206.7L872.5 206.8L872.9 206.9L873.3 207L873.7 207.1L874.1 207.2L874.5 207.3L874.9 207.4L875.3 207.5L875.7 207.5L876.1 207.6L876.5 207.7L876.9 207.8L877.3 207.8L877.7 207.9L878.1 207.9L878.5 208L878.9 208L879.3 208L879.7 208L880.1 208L880.5 208L880.9 207.9L881.3 207.8L881.7 207.7L882.1 207.6L882.5 207.5L882.9 207.3L883.3 207.1L883.7 207L884.1 206.8L884.5 206.5L884.9 206.3L885.3 206.1L885.7 205.8L886.1 205.6L886.5 205.3L886.9 205.1L887.3 204.8L887.7 204.5L888.1 204.2L888.5 203.9L888.9 203.7L889.3 203.4L889.7 203.1L890.1 202.8L890.5 202.5L890.9 202.2L891.3 202L891.7 201.7L892.1 201.4L892.5 201.2L892.9 201L893.3 200.7L893.7 200.5L894.1 200.3L894.5 200.1L894.9 199.9L895.3 199.8L895.7 199.6L896.1 199.5L896.5 199.4L896.9 199.3L897.3 199.2L897.7 199.1L898.1 199.1L898.5 199.1L898.9 199.1L899.3 199.1L899.7 199.2L900.1 199.3L900.5 199.3L900.9 199.4L901.3 199.5L901.7 199.6L902.1 199.7L902.5 199.9L902.9 200L903.3 200.1L903.7 200.3L904.1 200.4L904.5 200.5L904.9 200.6L905.3 200.8L905.7 200.9L906.1 201L906.5 201.1L906.9 201.2L907.3 201.3L907.7 201.4L908.1 201.4L908.5 201.5L908.9 201.5L909.3 201.5L909.7 201.5L910.1 201.4L910.5 201.4L910.9 201.3L911.3 201.1L911.7 201L912.1 200.8L912.5 200.6L912.9 200.4L913.3 200.1L913.7 199.9L914.1 199.6L914.5 199.3L914.9 199L915.3 198.6L915.7 198.3L916.1 198L916.5 197.6L916.9 197.2L917.3 196.8L917.7 196.5L918.1 196.1L918.5 195.7L918.9 195.3L919.3 194.9L919.7 194.5L920.1 194.1L920.5 193.7L920.9 193.3L921.3 193L921.7 192.6L922.1 192.2L922.5 191.9L922.9 191.5L923.3 191.2L923.7 190.9L924.1 190.6L924.5 190.3L924.9 190L925.3 189.8L925.7 189.6L926.1 189.4L926.5 189.2L926.9 189L927.3 188.9L927.7 188.8L928.1 188.7L928.5 188.6L928.9 188.6L929.3 188.6L929.7 188.6L930.1 188.7L930.5 188.7L930.9 188.8L931.3 188.9L931.7 188.9L932.1 189L932.5 189.1L932.9 189.2L933.3 189.4L933.7 189.5L934.1 189.6L934.5 189.7L934.9 189.8L935.3 190L935.7 190.1L936.1 190.2L936.5 190.3L936.9 190.4L937.3 190.5L937.7 190.6L938.1 190.6L938.5 190.7L938.9 190.7L939.3 190.8L939.7 190.8L940.1 190.8L940.5 190.8L940.9 190.7L941.3 190.6L941.7 190.4L942.1 190.2L942.5 190L942.9 189.8L943.3 189.5L943.7 189.2L944.1 188.9L944.5 188.6L944.9 188.2L945.3 187.8L945.7 187.4L946.1 187L946.5 186.5L946.9 186.1L947.3 185.6L947.7 185.1L948.1 184.6L948.5 184.1L948.9 183.6L949.3 183.1L949.7 182.6L950.1 182.1L950.5 181.6L950.9 181.1L951.3 180.6L951.7 180L952.1 179.5L952.5 179L952.9 178.6L953.3 178.1L953.7 177.6L954.1 177.2L954.5 176.7L954.9 176.3L955.3 175.9L955.7 175.5L956.1 175.2L956.5 174.8L956.9 174.5L957.3 174.2L957.7 174L958.1 173.7L958.5 173.5L958.9 173.3L959.3 173.2L959.7 173.1L960.1 173L960.5 173L960.9 173L961.3 173L961.7 173.1L962.1 173.1L962.5 173.2L962.9 173.3L963.3 173.4L963.7 173.5L964.1 173.6L964.5 173.7L964.9 173.8L965.3 173.9L965.7 174L966.1 174.2L966.5 174.3L966.9 174.4L967.3 174.5L967.7 174.6L968.1 174.7L968.5 174.8L968.9 174.9L969.3 174.9L969.7 175L970.1 175L970.5 175L970.9 175L971.3 174.9L971.7 174.7L972.1 174.6L972.5 174.3L972.9 174L973.3 173.7L973.7 173.3L974.1 172.9L974.5 172.5L974.9 172L975.3 171.5L975.7 170.9L976.1 170.4L976.5 169.8L976.9 169.1L977.3 168.5L977.7 167.8L978.1 167.1L978.5 166.4L978.9 165.7L979.3 165L979.7 164.2L980.1 163.5L980.5 162.8L980.9 162L981.3 161.3L981.7 160.5L982.1 159.8L982.5 159L982.9 158.3L983.3 157.6L983.7 156.9L984.1 156.2L984.5 155.6L984.9 154.9L985.3 154.3L985.7 153.7L986.1 153.1L986.5 152.6L986.9 152.1L987.3 151.6L987.7 151.2L988.1 150.8L988.5 150.4L988.9 150.1L989.3 149.8L989.7 149.6L990.1 149.4L990.5 149.3L990.9 149.2L991.3 149.2L991.7 149.2L992.1 149.3L992.5 149.4L992.9 149.4L993.3 149.6L993.7 149.7L994.1 149.8L994.5 150L994.9 150.2L995.3 150.3L995.7 150.5L996.1 150.6L996.5 150.8L996.9 150.9L997.3 151L997.7 151.1L998.1 151.2L998.5 151.3L998.9 151.3L999.3 151.3L999.7 151.3L1000.1 151.2L1000.5 151.2L1000.9 151.1L1001.3 151L1001.7 150.9L1002.1 150.8L1002.5 150.7L1002.9 150.6L1003.3 150.4L1003.7 150.2L1004.1 150L1004.5 149.8L1004.9 149.6L1005.3 149.4L1005.7 149.2L1006 149" stroke="#0000ff" stroke-width="2.0"/><path d="M593.5 216L593.8 213.2L594 210.5L594.2 207.8L594.5 205L594.8 195.6L595 186.1L595.2 176.7L595.5 171.8L595.8 173.9L596 175.9L596.2 178L596.5 180L596.8 182.5L597 185L597.2 187.5L597.5 190L597.8 192L598 194L598.2 196L598.5 198L598.8 199.5L599 201L599.2 202.5L599.5 204L599.8 205.2L600 206.5L600.2 207.8L600.5 209L600.8 210L601 211L601.2 212L601.5 213L601.8 213.4L602 213.8L602.2 214.2L602.5 214.7L602.8 215.1L603 215.5L603.2 215.6L603.5 215.6L603.8 215.7L604 215.8L604.2 215.8L604.5 215.9L604.8 215.9L604.8 217.1L604.5 217.1L604.2 217.2L604 217.2L603.8 217.3L603.5 217.4L603.2 217.4L603 217.5L602.8 217.7L602.5 217.9L602.2 218.1L602 218.2L601.8 218.4L601.5 218.6L601.2 218.8L601 219L600.8 219.3L600.5 219.6L600.2 219.9L600 220.2L599.8 220.6L599.5 220.9L599.2 221.2L599 221.5L598.8 221.8L598.5 222.1L598.2 222.4L598 222.8L597.8 223.1L597.5 223.4L597.2 223.7L597 224L596.8 224L596.5 224L596.2 224L596 224L595.8 224L595.5 224L595.2 223.5L595 223L594.8 222.5L594.5 222L594.2 220.9L594 219.8L593.8 218.6L593.5 217.5Z" fill="#0000ff" stroke="none"/><path d="M593.5 216.1L593.7 218.4L594 210.6L594.2 219.8L594.4 205.8L594.6 223L594.9 192.7L595.1 220.5L595.3 175.8L595.5 225.2L595.8 173.6L596 221.5L596.2 178.2L596.5 225.1L596.7 182.3L596.9 224.8L597.1 183.7L597.4 224.5L597.6 191.3L597.8 221.5L598 195L598.3 222.5L598.5 196.6L598.7 222.8L599 201.3L599.2 222.5L599.4 203.5L599.6 221.2L599.9 206.7L600.1 219.4L600.3 208.6L600.5 220.2L600.8 209.8L601 219.4L601.2 211.8L601.5 218.6L601.7 213.3L601.9 218.4L602.1 213.8L602.4 217.9L602.6 214.6L602.8 217.7L603 215.4L603.3 217.4L603.5 215.6L603.7 217.3L604 215.7L604.2 217.1L604.4 215.9L604.6 217L604.9 215.9" stroke="#0000ff" stroke-width="0.9"/><path d="M596.2 116.4L596.5 200L596.9 322L597.3 230" stroke="#0000ff" stroke-width="1.4"/></g>
<g clip-path="url(#c2)" fill="none" stroke-linejoin="round" stroke-linecap="round"><path d="M1108.5 328.1L1108.9 331.6L1109.3 335.1L1109.7 338.7L1110.1 342.3L1110.5 346L1110.9 349.7L1111.3 353.4L1111.7 357.1L1112.1 361L1112.5 365L1112.9 369.2L1113.3 373.5L1113.7 377.8L1114.1 382.2L1114.5 386.4L1114.9 390.4L1115.3 394.2L1115.7 397.7L1116.1 400.7L1116.5 403.8L1116.9 407L1117.3 410.1L1117.7 413.1L1118.1 415.8L1118.5 418.1L1118.9 419.9L1119.3 421.1L1119.7 421.5L1120.1 420.7L1120.5 418.6L1120.9 415.3L1121.3 411.4L1121.7 407L1122.1 402.5L1122.5 398.3L1122.9 394.5L1123.3 391.3L1123.7 388L1124.1 384.6L1124.5 381.3L1124.9 378.1L1125.3 375.1L1125.7 372.4L1126.1 370.1L1126.5 368.2L1126.9 366.4L1127.3 364.7L1127.7 363.2L1128.1 361.7L1128.5 360.3L1128.9 359L1129.3 357.8L1129.7 356.6L1130.1 355.5L1130.5 354.5L1130.9 353.5L1131.3 352.6L1131.7 351.7L1132.1 350.8L1132.5 350L1132.9 349.2L1133.3 348.4L1133.7 347.7L1134.1 346.9L1134.5 346.3L1134.9 345.6L1135.3 344.9L1135.7 344.3L1136.1 343.7L1136.5 343.1L1136.9 342.5L1137.3 342L1137.7 341.4L1138.1 340.9L1138.5 340.4L1138.9 339.8L1139.3 339.3L1139.7 338.8L1140.1 338.3L1140.5 337.8L1140.9 337.3L1141.3 336.8L1141.7 336.3L1142.1 335.9L1142.5 335.5L1142.9 335L1143.3 334.6L1143.7 334.2L1144.1 333.8L1144.5 333.5L1144.9 333.1L1145.3 332.8L1145.7 332.5L1146.1 332.2L1146.5 332L1146.9 331.7L1147.3 331.4L1147.7 331.1L1148.1 330.8L1148.5 330.5L1148.9 330.3L1149.3 330L1149.7 329.8L1150.1 329.5L1150.5 329.3L1150.9 329.1L1151.3 328.9L1151.7 328.7L1152.1 328.6L1152.5 328.4L1152.9 328.3L1153.3 328.3L1153.7 328.2L1154.1 328.2L1154.5 328.2L1154.9 328.3L1155.3 328.3L1155.7 328.4L1156.1 328.5L1156.5 328.6L1156.9 328.7L1157.3 328.9L1157.7 329L1158.1 329.2L1158.5 329.4L1158.9 329.6L1159.3 329.7L1159.7 329.9L1160.1 330.1L1160.5 330.3L1160.9 330.4L1161.3 330.6L1161.7 330.8L1162.1 330.9L1162.5 331L1162.9 331.1L1163.3 331.2L1163.7 331.3L1164.1 331.4L1164.5 331.4L1164.9 331.4L1165.3 331.4L1165.7 331.3L1166.1 331.2L1166.5 331.1L1166.9 330.9L1167.3 330.7L1167.7 330.5L1168.1 330.3L1168.5 330.1L1168.9 329.8L1169.3 329.6L1169.7 329.3L1170.1 329L1170.5 328.8L1170.9 328.5L1171.3 328.2L1171.7 328L1172.1 327.8L1172.5 327.5L1172.9 327.3L1173.3 327.1L1173.7 327L1174.1 326.9L1174.5 326.8L1174.9 326.7L1175.3 326.7L1175.7 326.7L1176.1 326.8L1176.5 326.9L1176.9 327L1177.3 327.2L1177.7 327.3L1178.1 327.4L1178.5 327.5L1178.9 327.5L1179.3 327.5L1179.7 327.4L1180.1 327.3L1180.5 327.1L1180.9 326.9L1181.3 326.6L1181.7 326.3L1182.1 326L1182.5 325.7L1182.9 325.4L1183.3 325.1L1183.7 324.7L1184.1 324.4L1184.5 324.1L1184.9 323.9L1185.3 323.7L1185.7 323.5L1186.1 323.3L1186.5 323.2L1186.9 323.2L1187.3 323.2L1187.7 323.3L1188.1 323.6L1188.5 323.9L1188.9 324.3L1189.3 324.8L1189.7 325.3L1190.1 325.9L1190.5 326.6L1190.9 327.2L1191.3 327.9L1191.7 328.6L1192.1 329.2L1192.5 329.9L1192.9 330.5L1193.3 331.1L1193.7 331.6L1194.1 332.1L1194.5 332.5L1194.9 332.9L1195.3 333.1L1195.7 333.3L1196.1 333.3L1196.5 333.2L1196.9 333L1197.3 332.7L1197.7 332.4L1198.1 332L1198.5 331.5L1198.9 330.9L1199.3 330.3L1199.7 329.7L1200.1 329.1L1200.5 328.4L1200.9 327.8L1201.3 327.1L1201.7 326.5L1202.1 325.9L1202.5 325.4L1202.9 324.9L1203.3 324.5L1203.7 324.1L1204.1 323.8L1204.5 323.6L1204.9 323.6L1205.3 323.6L1205.7 323.7L1206.1 324L1206.5 324.3L1206.9 324.7L1207.3 325.2L1207.7 325.7L1208.1 326.2L1208.5 326.7L1208.9 327.2L1209.3 327.7L1209.7 328.1L1210.1 328.5L1210.5 328.8L1210.9 328.9L1211.3 329L1211.7 329L1212.1 328.8L1212.5 328.6L1212.9 328.2L1213.3 327.7L1213.7 327.1L1214.1 326.5L1214.5 325.9L1214.9 325.2L1215.3 324.5L1215.7 323.8L1216.1 323.1L1216.5 322.4L1216.9 321.8L1217.3 321.3L1217.7 320.8L1218.1 320.3L1218.5 320L1218.9 319.8L1219.3 319.8L1219.7 319.9L1220.1 320.2L1220.5 320.7L1220.9 321.4L1221.3 322.3L1221.7 323.3L1222.1 324.3L1222.5 325.5L1222.9 326.6L1223.3 327.9L1223.7 329.1L1224.1 330.3L1224.5 331.4L1224.9 332.5L1225.3 333.5L1225.7 334.4L1226.1 335.1L1226.5 335.7L1226.9 336.1L1227.3 336.3L1227.7 336.2L1228.1 336L1228.5 335.6L1228.9 335L1229.3 334.3L1229.7 333.5L1230.1 332.6L1230.5 331.6L1230.9 330.6L1231.3 329.5L1231.7 328.4L1232.1 327.3L1232.5 326.2L1232.9 325.2L1233.3 324.2L1233.7 323.3L1234.1 322.4L1234.5 321.7L1234.9 321.1L1235.3 320.7L1235.7 320.4L1236.1 320.3L1236.5 320.4L1236.9 320.6L1237.3 321L1237.7 321.6L1238.1 322.2L1238.5 323L1238.9 323.8L1239.3 324.6L1239.7 325.5L1240.1 326.4L1240.5 327.2L1240.9 328L1241.3 328.7L1241.7 329.4L1242.1 329.9L1242.5 330.4L1242.9 330.6L1243.3 330.7L1243.7 330.6L1244.1 330.2L1244.5 329.6L1244.9 328.8L1245.3 327.8L1245.7 326.8L1246.1 325.6L1246.5 324.3L1246.9 323L1247.3 321.7L1247.7 320.4L1248.1 319.1L1248.5 317.9L1248.9 316.8L1249.3 315.9L1249.7 315.1L1250.1 314.5L1250.5 314.1L1250.9 314L1251.3 314.2L1251.7 314.7L1252.1 315.6L1252.5 316.8L1252.9 318.2L1253.3 319.8L1253.7 321.6L1254.1 323.6L1254.5 325.6L1254.9 327.6L1255.3 329.6L1255.7 331.6L1256.1 333.5L1256.5 335.3L1256.9 337L1257.3 338.4L1257.7 339.6L1258.1 340.5L1258.5 341L1258.9 341.2L1259.3 341L1259.7 340.5L1260.1 339.7L1260.5 338.6L1260.9 337.3L1261.3 335.8L1261.7 334.2L1262.1 332.4L1262.5 330.5L1262.9 328.5L1263.3 326.6L1263.7 324.6L1264.1 322.7L1264.5 320.9L1264.9 319.2L1265.3 317.7L1265.7 316.3L1266.1 315.2L1266.5 314.3L1266.9 313.7L1267.3 313.4L1267.7 313.5L1268.1 314L1268.5 314.7L1268.9 315.7L1269.3 317L1269.7 318.4L1270.1 320L1270.5 321.7L1270.9 323.4L1271.3 325.2L1271.7 326.9L1272.1 328.6L1272.5 330.1L1272.9 331.5L1273.3 332.7L1273.7 333.7L1274.1 334.4L1274.5 334.7L1274.9 334.7L1275.3 334.3L1275.7 333.6L1276.1 332.5L1276.5 331.1L1276.9 329.5L1277.3 327.7L1277.7 325.8L1278.1 323.7L1278.5 321.6L1278.9 319.5L1279.3 317.4L1279.7 315.4L1280.1 313.5L1280.5 311.8L1280.9 310.2L1281.3 308.9L1281.7 307.9L1282.1 307.2L1282.5 306.9L1282.9 307.1L1283.3 307.8L1283.7 309.1L1284.1 310.8L1284.5 312.9L1284.9 315.4L1285.3 318.1L1285.7 321L1286.1 324L1286.5 327.1L1286.9 330.1L1287.3 333.1L1287.7 336L1288.1 338.6L1288.5 341L1288.9 343L1289.3 344.6L1289.7 345.8L1290.1 346.4L1290.5 346.4L1290.9 345.9L1291.3 344.9L1291.7 343.5L1292.1 341.7L1292.5 339.6L1292.9 337.3L1293.3 334.8L1293.7 332L1294.1 329.2L1294.5 326.3L1294.9 323.4L1295.3 320.6L1295.7 317.9L1296.1 315.3L1296.5 312.9L1296.9 310.7L1297.3 308.9L1297.7 307.4L1298.1 306.3L1298.5 305.6L1298.9 305.5L1299.3 305.9L1299.7 306.8L1300.1 308.1L1300.5 309.8L1300.9 311.8L1301.3 314.1L1301.7 316.6L1302.1 319.2L1302.5 321.8L1302.9 324.5L1303.3 327.1L1303.7 329.7L1304.1 332L1304.5 334.2L1304.9 336.1L1305.3 337.6L1305.7 338.7L1306.1 339.4L1306.5 339.5L1306.9 339L1307.3 337.9L1307.7 336.3L1308.1 334.2L1308.5 331.8L1308.9 329L1309.3 326L1309.7 322.8L1310.1 319.6L1310.5 316.3L1310.9 313.1L1311.3 310L1311.7 307.1L1312.1 304.5L1312.5 302.2L1312.9 300.4L1313.3 299L1313.7 298.2L1314.1 298L1314.5 298.6L1314.9 300L1315.3 302L1315.7 304.6L1316.1 307.6L1316.5 311L1316.9 314.8L1317.3 318.8L1317.7 322.9L1318.1 327.1L1318.5 331.2L1318.9 335.3L1319.3 339.1L1319.7 342.6L1320.1 345.8L1320.5 348.5L1320.9 350.6L1321.3 352.1L1321.7 352.9L1322.1 352.9L1322.5 352.1L1322.9 350.7L1323.3 348.6L1323.7 345.9L1324.1 342.8L1324.5 339.3L1324.9 335.5L1325.3 331.5L1325.7 327.4L1326.1 323.2L1326.5 319L1326.9 314.9L1327.3 311L1327.7 307.3L1328.1 304L1328.5 301.2L1328.9 298.8L1329.3 297L1329.7 295.8L1330.1 295.4L1330.5 295.9L1330.9 297.1L1331.3 299.1L1331.7 301.7L1332.1 304.8L1332.5 308.3L1332.9 312.1L1333.3 316.1L1333.7 320.3L1334.1 324.4L1334.5 328.5L1334.9 332.4L1335.3 336L1335.7 339.2L1336.1 341.9L1336.5 344L1336.9 345.5L1337.3 346.1L1337.7 345.9L1338.1 344.8L1338.5 343L1338.9 340.5L1339.3 337.5L1339.7 333.9L1340.1 330L1340.5 325.8L1340.9 321.4L1341.3 316.9L1341.7 312.4L1342.1 308L1342.5 303.7L1342.9 299.7L1343.3 296.1L1343.7 292.9L1344.1 290.3L1344.5 288.3L1344.9 287L1345.3 286.6L1345.7 287.1L1346.1 288.7L1346.5 291.1L1346.9 294.4L1347.3 298.3L1347.7 302.8L1348.1 307.7L1348.5 312.9L1348.9 318.4L1349.3 324L1349.7 329.6L1350.1 335.1L1350.5 340.3L1350.9 345.2L1351.3 349.7L1351.7 353.6L1352.1 356.9L1352.5 359.3L1352.9 360.9L1353.3 361.4L1353.7 360.8L1354.1 359L1354.5 356.3L1354.9 352.6L1355.3 348.2L1355.7 343.2L1356.1 337.7L1356.5 331.9L1356.9 325.9L1357.3 319.7L1357.7 313.7L1358.1 307.8L1358.5 302.2L1358.9 297L1359.3 292.5L1359.7 288.6L1360.1 285.6L1360.5 283.6L1360.9 282.7L1361.3 283L1361.7 284.3L1362.1 286.6L1362.5 289.7L1362.9 293.4L1363.3 297.8L1363.7 302.6L1364.1 307.8L1364.5 313.2L1364.9 318.8L1365.3 324.3L1365.7 329.7L1366.1 334.9L1366.5 339.8L1366.9 344.1L1367.3 347.9L1367.7 351L1368.1 353.2L1368.5 354.6L1368.9 354.8L1369.3 353.8L1369.7 351.6L1370.1 348.3L1370.5 344.1L1370.9 339.2L1371.3 333.6L1371.7 327.5L1372.1 321.2L1372.5 314.6L1372.9 308.1L1373.3 301.6L1373.7 295.5L1374.1 289.8L1374.5 284.6L1374.9 280.2L1375.3 276.7L1375.7 274.2L1376.1 272.9L1376.5 272.9L1376.9 274.2L1377.3 276.7L1377.7 280.2L1378.1 284.7L1378.5 290L1378.9 295.9L1379.3 302.3L1379.7 309.1L1380.1 316.2L1380.5 323.3L1380.9 330.5L1381.3 337.5L1381.7 344.2L1382.1 350.5L1382.5 356.3L1382.9 361.4L1383.3 365.6L1383.7 368.9L1384.1 371.1L1384.5 372.1L1384.9 371.7L1385.3 369.7L1385.7 366.2L1386.1 361.6L1386.5 355.8L1386.9 349.2L1387.3 341.9L1387.7 334.1L1388.1 326L1388.5 317.8L1388.9 309.6L1389.3 301.6L1389.7 294L1390.1 287.1L1390.5 280.9L1390.9 275.6L1391.3 271.6L1391.7 268.8L1392.1 267.5L1392.5 267.9L1392.9 269.7L1393.3 272.8L1393.7 277L1394.1 282.2L1394.5 288.1L1394.9 294.7L1395.3 301.7L1395.7 309.1L1396.1 316.6L1396.5 324L1396.9 331.3L1397.3 338.3L1397.7 344.7L1398.1 350.4L1398.5 355.4L1398.9 359.3L1399.3 362.1L1399.7 363.6L1400.1 363.6L1400.5 362L1400.9 359L1401.3 354.8L1401.7 349.5L1402.1 343.3L1402.5 336.4L1402.9 328.9L1403.3 321L1403.7 312.9L1404.1 304.8L1404.5 296.7L1404.9 288.9L1405.3 281.5L1405.7 274.8L1406.1 268.8L1406.5 263.7L1406.9 259.8L1407.3 257.2L1407.7 256L1408.1 256.5L1408.5 258.9L1408.9 263L1409.3 268.6L1409.7 275.4L1410.1 283.3L1410.5 292L1410.9 301.4L1411.3 311.1L1411.7 321L1412.1 330.9L1412.5 340.6L1412.9 349.7L1413.3 358.3L1413.7 365.9L1414.1 372.4L1414.5 377.7L1414.9 381.4L1415.3 383.3L1415.7 383.3L1416.1 381.2L1416.5 377.2L1416.9 371.6L1417.3 364.5L1417.7 356.3L1418.1 347.1L1418.5 337.2L1418.9 326.9L1419.3 316.3L1419.7 305.7L1420.1 295.4L1420.5 285.5L1420.9 276.3L1421.3 268.1L1421.7 261L1422.1 255.4L1422.5 251.4L1422.9 249.3L1423.3 249.3L1423.7 251.3L1424.1 255.1L1424.5 260.4L1424.9 267L1425.3 274.8L1425.7 283.5L1426.1 292.8L1426.5 302.6L1426.9 312.6L1427.3 322.6L1427.7 332.4L1428.1 341.7L1428.5 350.4L1428.9 358.2L1429.3 364.8L1429.7 370.2L1430.1 373.9L1430.5 375.9L1430.9 375.9L1431.3 373.9L1431.7 370.1L1432.1 364.7L1432.5 358L1432.9 350L1433.3 341.1L1433.7 331.5L1434.1 321.3L1434.5 310.8L1434.9 300.2L1435.3 289.8L1435.7 279.6L1436.1 269.9L1436.5 261.1L1436.9 253.1L1437.3 246.3L1437.7 240.9L1438.1 237.1L1438.5 235.1L1438.9 235.2L1439.3 237.5L1439.7 242L1440.1 248.4L1440.5 256.4L1440.9 265.7L1441.3 276.2L1441.7 287.5L1442.1 299.4L1442.5 311.6L1442.9 324L1443.3 336.2L1443.7 347.9L1444.1 359L1444.5 369.2L1444.9 378.3L1445.3 385.9L1445.7 391.8L1446.1 395.8L1446.5 397.5L1446.9 396.8L1447.3 393.3L1447.7 387.4L1448.1 379.4L1448.5 369.6L1448.9 358.3L1449.3 345.9L1449.7 332.7L1450.1 319L1450.5 305.1L1450.9 291.4L1451.3 278.2L1451.7 265.8L1452.1 254.6L1452.5 244.8L1452.9 236.7L1453.3 230.8L1453.7 227.3L1454.1 226.6L1454.5 228.5L1454.9 232.7L1455.3 238.9L1455.7 246.8L1456.1 256.3L1456.5 266.9L1456.9 278.6L1457.3 290.8L1457.7 303.5L1458.1 316.3L1458.5 329L1458.9 341.3L1459.3 352.9L1459.7 363.6L1460.1 373L1460.5 381L1460.9 387.2L1461.3 391.4L1461.7 393.3L1462.1 392.6L1462.5 389.2L1462.9 383.4L1463.3 375.6L1463.7 366L1464.1 354.9L1464.5 342.6L1464.9 329.5L1465.3 315.7L1465.7 301.7L1466.1 287.6L1466.5 273.8L1466.9 260.7L1467.3 248.4L1467.7 237.3L1468.1 227.7L1468.5 219.9L1468.9 214.1L1469.3 210.8L1469.7 210.1L1470.1 212.5L1470.5 218L1470.9 226L1471.3 236.3L1471.7 248.5L1472.1 262.2L1472.5 277.2L1472.9 292.9L1473.3 309.1L1473.7 325.3L1474.1 341.3L1474.5 356.7L1474.9 371L1475.3 384L1475.7 395.3L1476.1 404.6L1476.5 411.4L1476.9 415.3L1477.3 416.2L1477.7 413.8L1478.1 408.7L1478.5 400.9L1478.9 391L1479.3 379.2L1479.7 365.9L1480.1 351.3L1480.5 335.8L1480.9 319.8L1481.3 303.5L1481.7 287.3L1482.1 271.5L1482.5 256.5L1482.9 242.5L1483.3 229.8L1483.7 218.9L1484.1 210.1L1484.5 203.6L1484.9 199.8L1485.3 199L1485.7 201.5L1486.1 207.1L1486.5 215.5L1486.9 226.1L1487.3 238.7L1487.7 252.9L1488.1 268.3L1488.5 284.5L1488.9 301.2L1489.3 318L1489.7 334.5L1490.1 350.4L1490.5 365.2L1490.9 378.7L1491.3 390.3L1491.7 399.9L1492.1 406.9L1492.5 411L1492.9 411.8L1493.3 408.9L1493.7 402.5L1494.1 393L1494.5 380.9L1494.9 366.5L1495.3 350.5L1495.7 333L1496.1 314.8L1496.5 296L1496.9 277.3L1497.3 259L1497.7 241.6L1498.1 225.5L1498.5 211.2L1498.9 199L1499.3 189.5L1499.7 183.1L1500.1 180.2L1500.5 181.2L1500.9 185.9L1501.3 194L1501.7 205L1502.1 218.4L1502.5 234L1502.9 251.2L1503.3 269.7L1503.7 289L1504.1 308.7L1504.5 328.4L1504.9 347.7L1505.3 366.2L1505.7 383.4L1506.1 398.9L1506.5 412.4L1506.9 423.4L1507.3 431.5L1507.7 436.2L1508.1 437.2L1508.5 433.9L1508.9 426.8L1509.3 416.2L1509.7 402.7L1510.1 386.6L1510.5 368.6L1510.9 349L1511.3 328.3L1511.7 307.1L1512.1 285.7L1512.5 264.7L1512.9 244.5L1513.3 225.6L1513.7 208.5L1514.1 193.7L1514.5 181.6L1514.9 172.6L1515.3 167.4L1515.7 166.3L1516.1 169.3L1516.5 175.8L1516.9 185.6L1517.3 198.2L1517.7 213.1L1518.1 230L1518.5 248.5L1518.9 268.1L1519.3 288.4L1519.7 309L1520.1 329.5L1520.5 349.5L1520.9 368.6L1521.3 386.3L1521.7 402.3L1522.1 416.1L1522.5 427.3L1522.9 435.5L1523.3 440.4L1523.7 441.4L1524.1 440.1L1524.5 436.9L1524.9 432L1525.3 425.5L1525.7 417.5L1526.1 407.9L1526.5 396.9L1526.9 384.6L1527 381.3" stroke="#40e0d0" stroke-width="3.5"/><path d="M1118.1 415.2L1118.5 419.2L1118.9 419.1L1119.3 420.3L1119.7 421.1L1120.1 420L1120.5 419L1120.9 414.4L1121.3 412.4L1121.7 407.9L1122.1 401.3L1122.5 398.4L1122.9 393.5L1123.3 390.7L1123.7 387.8L1124.1 384.5L1124.5 381.2L1124.9 379.2L1125.3 374.5L1125.7 371.7L1126.1 370.5L1126.5 369.3L1126.9 367.5L1127.3 365.7L1127.7 362.1L1128.1 362.8L1128.5 360.7L1128.9 359.9L1129.3 357.5L1129.7 355.9L1130.1 356.3L1130.5 354.9L1130.9 354.2L1131.3 351.8L1131.7 350.8L1132.1 351.5L1132.5 348.8L1132.9 350.3L1133.3 347.5L1133.7 347.9L1134.1 346.7L1134.5 345.8L1134.9 344.8L1135.3 345.6L1135.7 345.4L1136.1 344.3L1136.5 343.4L1136.9 343.1L1137.3 342.1L1137.7 341.6L1138.1 341.9L1138.5 339.8L1138.9 339.1L1139.3 340.4L1139.7 339.9L1140.1 338.2L1140.5 338.5L1140.9 337.9L1141.3 337.9L1141.7 335.3L1142.1 336.9L1142.5 335.5L1142.9 334.9L1143.3 335.1L1143.7 334.5L1144.1 333.7L1144.5 333L1144.9 334.2L1145.3 333.6L1145.7 331.5L1146.1 332L1146.5 332.6L1146.9 332.6L1147.3 332.5L1147.7 330.5L1148.1 331.8L1148.5 331L1148.9 329.2L1149.3 329.3L1149.7 329L1150.1 328.5L1150.5 329.8L1150.9 328.6L1151.3 329.4L1151.7 327.7" stroke="#40e0d0" stroke-width="6.0"/><path d="M1108.5 328.1L1108.9 331.6L1109.3 335.2L1109.7 339.1L1110.1 343.2L1110.5 347.3L1110.9 351.7L1111.3 356.1L1111.7 360.7L1112.1 365.4L1112.5 370.2L1112.9 375.2L1113.3 380.4L1113.7 385.8L1114.1 391.5L1114.5 397.4L1114.9 403.5L1115.3 410.7L1115.7 418.7L1116.1 426.6L1116.5 433.6L1116.9 439L1117.3 442.7L1117.7 446.1L1118.1 449.3L1118.5 451.9L1118.9 453.8L1119.3 454.9L1119.7 454.9L1120.1 454.1L1120.5 452.8L1120.9 450.9L1121.3 448.9L1121.7 446.6L1122.1 444.4L1122.5 441.9L1122.9 439L1123.3 435.8L1123.7 432.2L1124.1 428.5L1124.5 424.8L1124.9 420.9L1125.3 417.1L1125.7 413.2L1126.1 409.1L1126.5 404.9L1126.9 400.6L1127.3 396.2L1127.7 391.6L1128.1 387L1128.5 382.3L1128.9 377.5L1129.3 372.7L1129.7 367.7L1130.1 362.4L1130.5 356.5L1130.9 350.2L1131.3 343.5L1131.7 336.4L1132.1 329.1L1132.5 321.6L1132.9 314L1133.3 306.3L1133.7 298.6L1134.1 291L1134.5 283.6L1134.9 276.3L1135.3 269.3L1135.7 262.6L1136.1 256.3L1136.5 250.5L1136.9 245.2L1137.3 240.6L1137.7 236.5L1138.1 233.2L1138.5 230.7L1138.9 229.1L1139.3 228.3L1139.7 228.5L1140.1 229.5L1140.5 231.1L1140.9 233.4L1141.3 236.4L1141.7 239.9L1142.1 244L1142.5 248.6L1142.9 253.6L1143.3 259.1L1143.7 265L1144.1 271.2L1144.5 277.8L1144.9 284.6L1145.3 291.6L1145.7 298.8L1146.1 306.2L1146.5 313.7L1146.9 321.3L1147.3 328.8L1147.7 336.4L1148.1 343.9L1148.5 351.4L1148.9 358.7L1149.3 365.8L1149.7 372.8L1150.1 379.4L1150.5 385.8L1150.9 391.9L1151.3 397.6L1151.7 402.8L1152.1 407.7L1152.5 412L1152.9 415.8L1153.3 419.1L1153.7 421.7L1154.1 423.7L1154.5 425L1154.9 425.6L1155.3 425.4L1155.7 424.5L1156.1 423L1156.5 420.8L1156.9 418L1157.3 414.7L1157.7 410.9L1158.1 406.6L1158.5 401.8L1158.9 396.6L1159.3 391.1L1159.7 385.2L1160.1 379L1160.5 372.5L1160.9 365.8L1161.3 358.9L1161.7 351.8L1162.1 344.6L1162.5 337.4L1162.9 330L1163.3 322.7L1163.7 315.3L1164.1 308.1L1164.5 300.9L1164.9 293.8L1165.3 286.9L1165.7 280.2L1166.1 273.7L1166.5 267.5L1166.9 261.6L1167.3 256.1L1167.7 250.9L1168.1 246.1L1168.5 241.8L1168.9 238L1169.3 234.7L1169.7 231.9L1170.1 229.7L1170.5 228.2L1170.9 227.3L1171.3 227.1L1171.7 227.7L1172.1 229L1172.5 231.1L1172.9 233.7L1173.3 237L1173.7 240.9L1174.1 245.3L1174.5 250.3L1174.9 255.6L1175.3 261.4L1175.7 267.5L1176.1 274L1176.5 280.8L1176.9 287.8L1177.3 295L1177.7 302.4L1178.1 309.9L1178.5 317.5L1178.9 325.2L1179.3 332.8L1179.7 340.4L1180.1 347.9L1180.5 355.3L1180.9 362.5L1181.3 369.5L1181.7 376.3L1182.1 382.8L1182.5 388.9L1182.9 394.7L1183.3 400L1183.7 405L1184.1 409.4L1184.5 413.3L1184.9 416.6L1185.3 419.2L1185.7 421.3L1186.1 422.6L1186.5 423.2L1186.9 423L1187.3 422.1L1187.7 420.6L1188.1 418.4L1188.5 415.6L1188.9 412.3L1189.3 408.5L1189.7 404.2L1190.1 399.4L1190.5 394.2L1190.9 388.7L1191.3 382.8L1191.7 376.5L1192.1 370.1L1192.5 363.4L1192.9 356.5L1193.3 349.4L1193.7 342.2L1194.1 334.9L1194.5 327.6L1194.9 320.2L1195.3 312.9L1195.7 305.6L1196.1 298.4L1196.5 291.3L1196.9 284.4L1197.3 277.7L1197.7 271.3L1198.1 265L1198.5 259.1L1198.9 253.6L1199.3 248.4L1199.7 243.6L1200.1 239.3L1200.5 235.5L1200.9 232.2L1201.3 229.4L1201.7 227.2L1202.1 225.7L1202.5 224.8L1202.9 224.6L1203.3 225.2L1203.7 226.5L1204.1 228.5L1204.5 231.1L1204.9 234.4L1205.3 238.2L1205.7 242.5L1206.1 247.4L1206.5 252.6L1206.9 258.3L1207.3 264.4L1207.7 270.7L1208.1 277.4L1208.5 284.3L1208.9 291.4L1209.3 298.7L1209.7 306.1L1210.1 313.6L1210.5 321.2L1210.9 328.7L1211.3 336.2L1211.7 343.6L1212.1 351L1212.5 358.1L1212.9 365.1L1213.3 371.8L1213.7 378.3L1214.1 384.4L1214.5 390.2L1214.9 395.6L1215.3 400.5L1215.7 405L1216.1 408.9L1216.5 412.3L1216.9 415.1L1217.3 417.3L1217.7 418.7L1218.1 419.5L1218.5 419.5L1218.9 418.8L1219.3 417.5L1219.7 415.5L1220.1 412.9L1220.5 409.8L1220.9 406.2L1221.3 402.1L1221.7 397.5L1222.1 392.5L1222.5 387.1L1222.9 381.4L1223.3 375.4L1223.7 369.1L1224.1 362.5L1224.5 355.8L1224.9 348.9L1225.3 341.8L1225.7 334.6L1226.1 327.4L1226.5 320.1L1226.9 312.8L1227.3 305.6L1227.7 298.4L1228.1 291.3L1228.5 284.4L1228.9 277.7L1229.3 271.1L1229.7 264.8L1230.1 258.8L1230.5 253.1L1230.9 247.7L1231.3 242.7L1231.7 238.1L1232.1 234L1232.5 230.4L1232.9 227.3L1233.3 224.7L1233.7 222.7L1234.1 221.4L1234.5 220.7L1234.9 220.7L1235.3 221.5L1235.7 223.1L1236.1 225.4L1236.5 228.4L1236.9 232.1L1237.3 236.3L1237.7 241.1L1238.1 246.3L1238.5 252.1L1238.9 258.2L1239.3 264.7L1239.7 271.6L1240.1 278.7L1240.5 286L1240.9 293.6L1241.3 301.2L1241.7 309L1242.1 316.8L1242.5 324.6L1242.9 332.4L1243.3 340.1L1243.7 347.7L1244.1 355.1L1244.5 362.3L1244.9 369.2L1245.3 375.8L1245.7 382L1246.1 387.9L1246.5 393.3L1246.9 398.2L1247.3 402.5L1247.7 406.3L1248.1 409.5L1248.5 412L1248.9 413.8L1249.3 414.8L1249.7 415L1250.1 414.5L1250.5 413.4L1250.9 411.7L1251.3 409.4L1251.7 406.6L1252.1 403.3L1252.5 399.5L1252.9 395.3L1253.3 390.7L1253.7 385.8L1254.1 380.4L1254.5 374.8L1254.9 368.9L1255.3 362.7L1255.7 356.3L1256.1 349.7L1256.5 343L1256.9 336.2L1257.3 329.2L1257.7 322.2L1258.1 315.1L1258.5 308.1L1258.9 301.1L1259.3 294.1L1259.7 287.3L1260.1 280.6L1260.5 274L1260.9 267.6L1261.3 261.4L1261.7 255.5L1262.1 249.9L1262.5 244.5L1262.9 239.6L1263.3 235L1263.7 230.8L1264.1 227L1264.5 223.7L1264.9 220.9L1265.3 218.6L1265.7 216.9L1266.1 215.8L1266.5 215.3L1266.9 215.6L1267.3 216.7L1267.7 218.7L1268.1 221.5L1268.5 225L1268.9 229.3L1269.3 234.2L1269.7 239.6L1270.1 245.6L1270.5 252.1L1270.9 258.9L1271.3 266.2L1271.7 273.7L1272.1 281.6L1272.5 289.6L1272.9 297.8L1273.3 306L1273.7 314.3L1274.1 322.6L1274.5 330.8L1274.9 338.9L1275.3 346.9L1275.7 354.6L1276.1 362L1276.5 369.1L1276.9 375.7L1277.3 382L1277.7 387.7L1278.1 392.9L1278.5 397.4L1278.9 401.3L1279.3 404.5L1279.7 406.9L1280.1 408.5L1280.5 409.2L1280.9 409L1281.3 408.2L1281.7 406.9L1282.1 405L1282.5 402.5L1282.9 399.5L1283.3 396.1L1283.7 392.3L1284.1 388L1284.5 383.3L1284.9 378.3L1285.3 373L1285.7 367.3L1286.1 361.4L1286.5 355.3L1286.9 349L1287.3 342.4L1287.7 335.8L1288.1 329L1288.5 322.1L1288.9 315.2L1289.3 308.2L1289.7 301.3L1290.1 294.4L1290.5 287.5L1290.9 280.7L1291.3 274.1L1291.7 267.5L1292.1 261.2L1292.5 255.1L1292.9 249.2L1293.3 243.5L1293.7 238.2L1294.1 233.2L1294.5 228.5L1294.9 224.2L1295.3 220.4L1295.7 217L1296.1 214L1296.5 211.5L1296.9 209.6L1297.3 208.3L1297.7 207.5L1298.1 207.3L1298.5 208.2L1298.9 210.1L1299.3 213L1299.7 216.8L1300.1 221.5L1300.5 227L1300.9 233.1L1301.3 239.9L1301.7 247.3L1302.1 255.1L1302.5 263.4L1302.9 272L1303.3 280.8L1303.7 289.9L1304.1 299.1L1304.5 308.4L1304.9 317.6L1305.3 326.7L1305.7 335.7L1306.1 344.5L1306.5 352.9L1306.9 361L1307.3 368.6L1307.7 375.7L1308.1 382.1L1308.5 388L1308.9 393L1309.3 397.3L1309.7 400.7L1310.1 403.1L1310.5 404.5L1310.9 404.8L1311.3 404.5L1311.7 403.9L1312.1 403L1312.5 401.9L1312.9 400.6L1313.3 399.2L1313.7 397.7L1314.1 396.2L1314.5 394.7L1314.9 393.3L1315.3 392.1L1315.7 390.8L1316.1 389.6L1316.5 388.3L1316.9 386.7L1317.3 385L1317.7 382.8L1318.1 379.8L1318.5 376L1318.9 371.3L1319.3 365.8L1319.7 359.7L1320.1 353L1320.5 345.8L1320.9 338.1L1321.3 330.1L1321.7 321.7L1322.1 313.1L1322.5 304.3L1322.9 295.5L1323.3 286.6L1323.7 277.7L1324.1 269L1324.5 260.4L1324.9 252.1L1325.3 244.1L1325.7 236.5L1326.1 229.4L1326.5 222.8L1326.9 216.9L1327.3 211.6L1327.7 207L1328.1 203.3L1328.5 200.5L1328.9 198.7L1329.3 197.8L1329.7 198.2L1330.1 200L1330.5 203.1L1330.9 207.4L1331.3 212.8L1331.7 219.2L1332.1 226.5L1332.5 234.5L1332.9 243.3L1333.3 252.7L1333.7 262.5L1334.1 272.7L1334.5 283.2L1334.9 293.9L1335.3 304.6L1335.7 315.2L1336.1 325.8L1336.5 336.1L1336.9 346L1337.3 355.5L1337.7 364.4L1338.1 372.7L1338.5 380.2L1338.9 386.8L1339.3 392.5L1339.7 397.1L1340.1 400.5L1340.5 402.6L1340.9 403.3L1341.3 403L1341.7 402.2L1342.1 400.9L1342.5 399.3L1342.9 397.5L1343.3 395.4L1343.7 393.3L1344.1 391.1L1344.5 389.1L1344.9 387.3L1345.3 385.7L1345.7 384.4L1346.1 383.3L1346.5 382.3L1346.9 381.3L1347.3 380.4L1347.7 379.5L1348.1 378.5L1348.5 377.5L1348.9 376.3L1349.3 375.1L1349.7 373.8L1350.1 372.4L1350.5 370.9L1350.9 369.1L1351.3 367.1L1351.7 364.6L1352.1 360.7L1352.5 355.5L1352.9 349L1353.3 341.4L1353.7 332.9L1354.1 323.6L1354.5 313.6L1354.9 303.1L1355.3 292.3L1355.7 281.2L1356.1 270.1L1356.5 259.1L1356.9 248.3L1357.3 237.9L1357.7 228L1358.1 218.8L1358.5 210.4L1358.9 202.9L1359.3 196.6L1359.7 191.5L1360.1 187.8L1360.5 185.7L1360.9 185.3L1361.3 186.7L1361.7 190L1362.1 194.9L1362.5 201.3L1362.9 209L1363.3 217.9L1363.7 227.9L1364.1 238.7L1364.5 250.2L1364.9 262.3L1365.3 274.9L1365.7 287.6L1366.1 300.5L1366.5 313.3L1366.9 325.9L1367.3 338.1L1367.7 349.8L1368.1 360.8L1368.5 371L1368.9 380.2L1369.3 388.2L1369.7 395L1370.1 400.3L1370.5 403.9L1370.9 405.9L1371.3 406L1371.7 405.1L1372.1 403.4L1372.5 401.1L1372.9 398.2L1373.3 394.9L1373.7 391.4L1374.1 387.7L1374.5 383.9L1374.9 380.3L1375.3 376.9L1375.7 373.8L1376.1 371.2L1376.5 369.2L1376.9 367.9L1377.3 367.4L1377.7 367.6L1378.1 368.1L1378.5 368.8L1378.9 369.7L1379.3 370.7L1379.7 371.8L1380.1 372.9L1380.5 373.9L1380.9 374.7L1381.3 375.4L1381.7 375.8L1382.1 375.8L1382.5 374.4L1382.9 371.2L1383.3 366.4L1383.7 360.1L1384.1 352.5L1384.5 343.8L1384.9 334L1385.3 323.5L1385.7 312.3L1386.1 300.5L1386.5 288.4L1386.9 276.1L1387.3 263.8L1387.7 251.6L1388.1 239.7L1388.5 228.2L1388.9 217.2L1389.3 207.1L1389.7 197.8L1390.1 189.7L1390.5 182.7L1390.9 177.1L1391.3 173.1L1391.7 170.7L1392.1 170.3L1392.5 172L1392.9 175.8L1393.3 181.6L1393.7 189.2L1394.1 198.3L1394.5 208.8L1394.9 220.4L1395.3 233L1395.7 246.4L1396.1 260.5L1396.5 274.9L1396.9 289.5L1397.3 304.2L1397.7 318.7L1398.1 332.8L1398.5 346.4L1398.9 359.2L1399.3 371.1L1399.7 381.9L1400.1 391.4L1400.5 399.3L1400.9 405.6L1401.3 409.9L1401.7 412.2L1402.1 412.3L1402.5 411L1402.9 408.6L1403.3 405.2L1403.7 401L1404.1 396.2L1404.5 390.9L1404.9 385.3L1405.3 379.7L1405.7 374.1L1406.1 368.7L1406.5 363.8L1406.9 359.4L1407.3 355.8L1407.7 353.1L1408.1 351.5L1408.5 351.1L1408.9 351.8L1409.3 353.3L1409.7 355.5L1410.1 358.2L1410.5 361.3L1410.9 364.6L1411.3 367.9L1411.7 371.2L1412.1 374.3L1412.5 377L1412.9 379.2L1413.3 380.7L1413.7 381.4L1414.1 380.7L1414.5 377.6L1414.9 372.3L1415.3 365.1L1415.7 356.1L1416.1 345.6L1416.5 333.7L1416.9 320.8L1417.3 307.1L1417.7 292.7L1418.1 277.9L1418.5 263L1418.9 248.1L1419.3 233.5L1419.7 219.4L1420.1 206L1420.5 193.6L1420.9 182.4L1421.3 172.6L1421.7 164.4L1422.1 158.2L1422.5 154L1422.9 152.1L1423.3 152.8L1423.7 156.4L1424.1 162.5L1424.5 170.9L1424.9 181.3L1425.3 193.6L1425.7 207.3L1426.1 222.3L1426.5 238.3L1426.9 255.1L1427.3 272.3L1427.7 289.8L1428.1 307.2L1428.5 324.4L1428.9 341L1429.3 356.7L1429.7 371.5L1430.1 384.9L1430.5 396.7L1430.9 406.6L1431.3 414.5L1431.7 420L1432.1 422.8L1432.5 423L1432.9 421L1433.3 417.5L1433.7 412.5L1434.1 406.3L1434.5 399.2L1434.9 391.4L1435.3 383.2L1435.7 374.8L1436.1 366.5L1436.5 358.4L1436.9 351L1437.3 344.3L1437.7 338.7L1438.1 334.4L1438.5 331.6L1438.9 330.6L1439.3 331.2L1439.7 332.9L1440.1 335.6L1440.5 339.1L1440.9 343.3L1441.3 348L1441.7 353.1L1442.1 358.4L1442.5 363.8L1442.9 369.1L1443.3 374.3L1443.7 379.1L1444.1 383.4L1444.5 387.1L1444.9 390L1445.3 392L1445.7 392.9L1446.1 391.8L1446.5 387.3L1446.9 379.6L1447.3 369.1L1447.7 356.1L1448.1 341.1L1448.5 324.5L1448.9 306.5L1449.3 287.6L1449.7 268.2L1450.1 248.7L1450.5 229.4L1450.9 210.7L1451.3 193L1451.7 176.7L1452.1 162.2L1452.5 149.8L1452.9 140L1453.3 133L1453.7 129.4L1454.1 129.3L1454.5 132.8L1454.9 139.3L1455.3 148.6L1455.7 160.4L1456.1 174.3L1456.5 190.2L1456.9 207.5L1457.3 226.1L1457.7 245.5L1458.1 265.6L1458.5 285.9L1458.9 306.2L1459.3 326.2L1459.7 345.5L1460.1 363.8L1460.5 380.7L1460.9 396.1L1461.3 409.6L1461.7 420.8L1462.1 429.4L1462.5 435.2L1462.9 437.8L1463.3 437.1L1463.7 433.7L1464.1 428L1464.5 420.4L1464.9 411.1L1465.3 400.6L1465.7 389.2L1466.1 377.3L1466.5 365.1L1466.9 353.2L1467.3 341.8L1467.7 331.3L1468.1 322L1468.5 314.4L1468.9 308.7L1469.3 305.3L1469.7 304.6L1470.1 305.9L1470.5 308.8L1470.9 313.1L1471.3 318.6L1471.7 325L1472.1 332.3L1472.5 340.1L1472.9 348.3L1473.3 356.7L1473.7 365.1L1474.1 373.2L1474.5 380.9L1474.9 388L1475.3 394.2L1475.7 399.4L1476.1 403.4L1476.5 405.9L1476.9 406.8L1477.3 404.5L1477.7 397.9L1478.1 387.4L1478.5 373.6L1478.9 357L1479.3 338.1L1479.7 317.3L1480.1 295.2L1480.5 272.2L1480.9 248.8L1481.3 225.6L1481.7 202.9L1482.1 181.4L1482.5 161.5L1482.9 143.6L1483.3 128.4L1483.7 116.2L1484.1 107.6L1484.5 103.1L1484.9 103.1L1485.3 107.4L1485.7 115.8L1486.1 127.6L1486.5 142.6L1486.9 160.3L1487.3 180.2L1487.7 201.9L1488.1 225L1488.5 249.1L1488.9 273.7L1489.3 298.4L1489.7 322.8L1490.1 346.4L1490.5 368.9L1490.9 389.7L1491.3 408.6L1491.7 424.9L1492.1 438.4L1492.5 448.6L1492.9 455L1493.3 457.2L1493.7 455.4L1494.1 450.2L1494.5 442.2L1494.9 431.7L1495.3 419.3L1495.7 405.2L1496.1 390.1L1496.5 374.3L1496.9 358.3L1497.3 342.5L1497.7 327.4L1498.1 313.3L1498.5 300.9L1498.9 290.4L1499.3 282.4L1499.7 277.2L1500.1 275.4L1500.5 276.5L1500.9 279.7L1501.3 284.7L1501.7 291.3L1502.1 299.3L1502.5 308.4L1502.9 318.4L1503.3 329.1L1503.7 340.2L1504.1 351.5L1504.5 362.8L1504.9 373.8L1505.3 384.4L1505.7 394.2L1506.1 403L1506.5 410.7L1506.9 416.9L1507.3 421.5L1507.7 424.2L1508.1 424.6L1508.5 420L1508.9 409.9L1509.3 395L1509.7 375.9L1510.1 353.4L1510.5 328.2L1510.9 301L1511.3 272.5L1511.7 243.3L1512.1 214.3L1512.5 186L1512.9 159.2L1513.3 134.6L1513.7 113L1514.1 94.9L1514.5 81.1L1514.9 72.3L1515.3 69.2L1515.7 71.5L1516.1 78.2L1516.5 88.8L1516.9 102.9L1517.3 120.2L1517.7 140.1L1518.1 162.2L1518.5 186.2L1518.9 211.7L1519.3 238.1L1519.7 265.1L1520.1 292.2L1520.5 319.1L1520.9 345.3L1521.3 370.4L1521.7 394L1522.1 415.6L1522.5 434.9L1522.9 451.4L1523.3 464.7L1523.7 474.4L1524.1 480L1524.5 481.2L1524.9 479.6L1525.3 475.9L1525.7 470.2L1526.1 462.8L1526.5 453.6L1526.9 442.9L1527 440" stroke="#ff0000" stroke-width="2.0"/><path d="M1114.6 412L1114.8 411.3L1115.1 410.6L1115.3 409.9L1115.6 409.1L1115.8 408.4L1116.1 408.1L1116.3 408.3L1116.6 408.6L1116.8 408.8L1117.1 409.1L1117.3 409.3L1117.6 409.6L1117.8 409.8L1118.1 410.3L1118.3 411L1118.6 411.8L1118.8 412.5L1119.1 413.3L1119.3 414L1119.6 414.8L1119.8 415.5L1120.1 416.5L1120.3 417.7L1120.6 419L1120.8 420.2L1121.1 421.5L1121.3 422.7L1121.6 424L1121.8 425.2L1122.1 426.5L1122.3 427.7L1122.6 429L1122.8 430.2L1123.1 431.5L1123.3 432.7L1123.6 434L1123.8 435.2L1124.1 436.6L1124.3 438.1L1124.6 439.6L1124.8 441.1L1124.8 444.9L1124.6 446.4L1124.3 447.9L1124.1 449.4L1123.8 450.5L1123.6 451.4L1123.3 452.3L1123.1 453.2L1122.8 454L1122.6 454.9L1122.3 455.8L1122.1 456.7L1121.8 456.9L1121.6 456.8L1121.3 456.7L1121.1 456.5L1120.8 456.4L1120.6 456.3L1120.3 456.2L1120.1 456L1119.8 456.5L1119.6 457.2L1119.3 458L1119.1 458.7L1118.8 459.5L1118.6 460.2L1118.3 461L1118.1 461.7L1117.8 462.5L1117.6 463.2L1117.3 464L1117.1 464.7L1116.8 465.5L1116.6 466.2L1116.3 467L1116.1 467.7L1115.8 465L1115.6 460L1115.3 455L1115.1 450L1114.8 445L1114.6 440Z" fill="#ff0000" stroke="none"/><path d="M1114.6 410.7L1114.9 447.9L1115.2 410.1L1115.5 457.2L1115.8 412.2L1116.2 466.5L1116.5 409.3L1116.8 461.8L1117.1 412.9L1117.4 467.8L1117.7 408.5L1118 459.8L1118.3 411.5L1118.7 463.4L1119 410.2L1119.3 460.4L1119.6 415.5L1119.9 456.2L1120.2 416.1L1120.5 453.8L1120.8 419.9L1121.2 455.4L1121.5 421.5L1121.8 454.8L1122.1 425.7L1122.4 457.1L1122.7 430.6L1123 454.7L1123.3 431.7L1123.7 450L1124 435.4L1124.3 447.5L1124.6 439.6L1124.9 444.5" stroke="#ff0000" stroke-width="0.9"/><path d="M1116.3 420L1117.3 494.4L1118.3 430" stroke="#ff0000" stroke-width="1.3"/><path d="M1108.5 328.1L1108.9 328.1L1109.3 328.1L1109.7 328.1L1110.1 328.1L1110.5 328.1L1110.9 328.1L1111.3 328.1L1111.7 328.1L1112.1 328L1112.5 328L1112.9 328L1113.3 328L1113.7 328L1114.1 328L1114.5 328L1114.9 328L1115.3 328L1115.7 328L1116.1 328L1116.5 328L1116.9 328L1117.3 328L1117.7 328L1118.1 328L1118.5 328L1118.9 328L1119.3 328L1119.7 328L1120.1 328L1120.5 328L1120.9 328L1121.3 328L1121.7 328L1122.1 328L1122.5 328L1122.9 328L1123.3 328L1123.7 328L1124.1 328L1124.5 328L1124.9 328L1125.3 328L1125.7 328L1126.1 327.9L1126.5 327.9L1126.9 327.8L1127.3 327.8L1127.7 327.7L1128.1 327.7L1128.5 327.6L1128.9 327.5L1129.3 327.5L1129.7 327.4L1130.1 327.3L1130.5 327.3L1130.9 327.3L1131.3 327.2L1131.7 327.2L1132.1 327.2L1132.5 327.2L1132.9 327.2L1133.3 327.2L1133.7 327.2L1134.1 327.3L1134.5 327.3L1134.9 327.3L1135.3 327.3L1135.7 327.3L1136.1 327.4L1136.5 327.4L1136.9 327.4L1137.3 327.4L1137.7 327.4L1138.1 327.5L1138.5 327.5L1138.9 327.5L1139.3 327.5L1139.7 327.5L1140.1 327.5L1140.5 327.5L1140.9 327.5L1141.3 327.4L1141.7 327.4L1142.1 327.4L1142.5 327.3L1142.9 327.3L1143.3 327.2L1143.7 327.1L1144.1 327L1144.5 327L1144.9 326.9L1145.3 326.8L1145.7 326.7L1146.1 326.6L1146.5 326.5L1146.9 326.5L1147.3 326.4L1147.7 326.3L1148.1 326.2L1148.5 326.1L1148.9 326.1L1149.3 326L1149.7 325.9L1150.1 325.9L1150.5 325.8L1150.9 325.8L1151.3 325.7L1151.7 325.7L1152.1 325.7L1152.5 325.7L1152.9 325.7L1153.3 325.8L1153.7 325.9L1154.1 326L1154.5 326.1L1154.9 326.3L1155.3 326.5L1155.7 326.7L1156.1 326.9L1156.5 327.1L1156.9 327.4L1157.3 327.7L1157.7 327.9L1158.1 328.2L1158.5 328.5L1158.9 328.8L1159.3 329.1L1159.7 329.3L1160.1 329.6L1160.5 329.9L1160.9 330.1L1161.3 330.4L1161.7 330.6L1162.1 330.8L1162.5 331L1162.9 331.1L1163.3 331.3L1163.7 331.4L1164.1 331.4L1164.5 331.5L1164.9 331.5L1165.3 331.5L1165.7 331.4L1166.1 331.3L1166.5 331.2L1166.9 331L1167.3 330.8L1167.7 330.6L1168.1 330.4L1168.5 330.1L1168.9 329.9L1169.3 329.6L1169.7 329.3L1170.1 329L1170.5 328.8L1170.9 328.5L1171.3 328.2L1171.7 328L1172.1 327.7L1172.5 327.5L1172.9 327.3L1173.3 327.1L1173.7 326.9L1174.1 326.8L1174.5 326.7L1174.9 326.6L1175.3 326.6L1175.7 326.6L1176.1 326.7L1176.5 326.8L1176.9 327L1177.3 327.2L1177.7 327.3L1178.1 327.5L1178.5 327.6L1178.9 327.6L1179.3 327.6L1179.7 327.5L1180.1 327.3L1180.5 327.1L1180.9 326.9L1181.3 326.6L1181.7 326.3L1182.1 326L1182.5 325.7L1182.9 325.3L1183.3 325L1183.7 324.7L1184.1 324.3L1184.5 324L1184.9 323.8L1185.3 323.5L1185.7 323.3L1186.1 323.2L1186.5 323.1L1186.9 323L1187.3 323L1187.7 323.2L1188.1 323.4L1188.5 323.8L1188.9 324.2L1189.3 324.7L1189.7 325.3L1190.1 325.9L1190.5 326.5L1190.9 327.2L1191.3 327.9L1191.7 328.6L1192.1 329.3L1192.5 330L1192.9 330.6L1193.3 331.2L1193.7 331.8L1194.1 332.3L1194.5 332.7L1194.9 333.1L1195.3 333.3L1195.7 333.5L1196.1 333.5L1196.5 333.4L1196.9 333.2L1197.3 332.9L1197.7 332.6L1198.1 332.1L1198.5 331.6L1198.9 331L1199.3 330.4L1199.7 329.8L1200.1 329.1L1200.5 328.4L1200.9 327.8L1201.3 327.1L1201.7 326.5L1202.1 325.9L1202.5 325.3L1202.9 324.8L1203.3 324.3L1203.7 324L1204.1 323.7L1204.5 323.5L1204.9 323.4L1205.3 323.4L1205.7 323.6L1206.1 323.9L1206.5 324.2L1206.9 324.6L1207.3 325.1L1207.7 325.6L1208.1 326.2L1208.5 326.7L1208.9 327.2L1209.3 327.7L1209.7 328.2L1210.1 328.6L1210.5 328.9L1210.9 329.1L1211.3 329.2L1211.7 329.2L1212.1 329L1212.5 328.7L1212.9 328.3L1213.3 327.8L1213.7 327.2L1214.1 326.6L1214.5 325.9L1214.9 325.2L1215.3 324.4L1215.7 323.7L1216.1 323L1216.5 322.3L1216.9 321.6L1217.3 321.1L1217.7 320.5L1218.1 320.1L1218.5 319.8L1218.9 319.6L1219.3 319.5L1219.7 319.6L1220.1 320L1220.5 320.5L1220.9 321.2L1221.3 322.1L1221.7 323.1L1222.1 324.2L1222.5 325.4L1222.9 326.6L1223.3 327.9L1223.7 329.2L1224.1 330.4L1224.5 331.6L1224.9 332.7L1225.3 333.7L1225.7 334.7L1226.1 335.4L1226.5 336L1226.9 336.4L1227.3 336.6L1227.7 336.5L1228.1 336.3L1228.5 335.9L1228.9 335.3L1229.3 334.6L1229.7 333.7L1230.1 332.8L1230.5 331.8L1230.9 330.7L1231.3 329.6L1231.7 328.4L1232.1 327.3L1232.5 326.2L1232.9 325.1L1233.3 324.1L1233.7 323.1L1234.1 322.2L1234.5 321.5L1234.9 320.9L1235.3 320.4L1235.7 320.1L1236.1 320L1236.5 320.1L1236.9 320.4L1237.3 320.8L1237.7 321.4L1238.1 322.1L1238.5 322.9L1238.9 323.7L1239.3 324.6L1239.7 325.5L1240.1 326.4L1240.5 327.3L1240.9 328.1L1241.3 328.9L1241.7 329.6L1242.1 330.2L1242.5 330.6L1242.9 330.9L1243.3 331L1243.7 330.9L1244.1 330.5L1244.5 329.8L1244.9 329L1245.3 328L1245.7 326.9L1246.1 325.6L1246.5 324.3L1246.9 322.9L1247.3 321.6L1247.7 320.2L1248.1 318.9L1248.5 317.6L1248.9 316.5L1249.3 315.5L1249.7 314.7L1250.1 314L1250.5 313.6L1250.9 313.5L1251.3 313.7L1251.7 314.3L1252.1 315.2L1252.5 316.4L1252.9 317.9L1253.3 319.6L1253.7 321.5L1254.1 323.5L1254.5 325.5L1254.9 327.7L1255.3 329.8L1255.7 331.8L1256.1 333.8L1256.5 335.7L1256.9 337.4L1257.3 338.9L1257.7 340.1L1258.1 341L1258.5 341.6L1258.9 341.8L1259.3 341.6L1259.7 341.1L1260.1 340.2L1260.5 339.1L1260.9 337.8L1261.3 336.2L1261.7 334.5L1262.1 332.6L1262.5 330.6L1262.9 328.6L1263.3 326.6L1263.7 324.6L1264.1 322.6L1264.5 320.7L1264.9 318.9L1265.3 317.3L1265.7 315.9L1266.1 314.7L1266.5 313.8L1266.9 313.2L1267.3 312.9L1267.7 313L1268.1 313.5L1268.5 314.3L1268.9 315.3L1269.3 316.7L1269.7 318.2L1270.1 319.8L1270.5 321.6L1270.9 323.4L1271.3 325.2L1271.7 327.1L1272.1 328.8L1272.5 330.4L1272.9 331.9L1273.3 333.1L1273.7 334.2L1274.1 334.9L1274.5 335.3L1274.9 335.2L1275.3 334.8L1275.7 334L1276.1 332.9L1276.5 331.5L1276.9 329.8L1277.3 327.9L1277.7 325.9L1278.1 323.8L1278.5 321.6L1278.9 319.4L1279.3 317.2L1279.7 315.1L1280.1 313.1L1280.5 311.3L1280.9 309.7L1281.3 308.3L1281.7 307.2L1282.1 306.5L1282.5 306.2L1282.9 306.4L1283.3 307.2L1283.7 308.5L1284.1 310.3L1284.5 312.5L1284.9 315L1285.3 317.8L1285.7 320.8L1286.1 324L1286.5 327.2L1286.9 330.3L1287.3 333.4L1287.7 336.4L1288.1 339.2L1288.5 341.6L1288.9 343.7L1289.3 345.4L1289.7 346.6L1290.1 347.2L1290.5 347.2L1290.9 346.7L1291.3 345.7L1291.7 344.2L1292.1 342.4L1292.5 340.2L1292.9 337.8L1293.3 335.1L1293.7 332.3L1294.1 329.4L1294.5 326.4L1294.9 323.4L1295.3 320.4L1295.7 317.6L1296.1 314.9L1296.5 312.4L1296.9 310.1L1297.3 308.2L1297.7 306.7L1298.1 305.5L1298.5 304.9L1298.9 304.7L1299.3 305.1L1299.7 306.1L1300.1 307.5L1300.5 309.2L1300.9 311.4L1301.3 313.7L1301.7 316.3L1302.1 319L1302.5 321.8L1302.9 324.6L1303.3 327.4L1303.7 330L1304.1 332.5L1304.5 334.7L1304.9 336.7L1305.3 338.3L1305.7 339.4L1306.1 340.1L1306.5 340.3L1306.9 339.8L1307.3 338.6L1307.7 336.9L1308.1 334.8L1308.5 332.2L1308.9 329.3L1309.3 326.2L1309.7 322.9L1310.1 319.5L1310.5 316.1L1310.9 312.7L1311.3 309.5L1311.7 306.5L1312.1 303.8L1312.5 301.4L1312.9 299.5L1313.3 298L1313.7 297.2L1314.1 297L1314.5 297.7L1314.9 299.1L1315.3 301.1L1315.7 303.8L1316.1 307L1316.5 310.6L1316.9 314.5L1317.3 318.6L1317.7 322.9L1318.1 327.2L1318.5 331.5L1318.9 335.7L1319.3 339.7L1319.7 343.4L1320.1 346.6L1320.5 349.4L1320.9 351.7L1321.3 353.3L1321.7 354.1L1322.1 354.1L1322.5 353.3L1322.9 351.7L1323.3 349.6L1323.7 346.8L1324.1 343.6L1324.5 340L1324.9 336L1325.3 331.8L1325.7 327.5L1326.1 323.2L1326.5 318.8L1326.9 314.5L1327.3 310.5L1327.7 306.7L1328.1 303.3L1328.5 300.3L1328.9 297.8L1329.3 295.9L1329.7 294.7L1330.1 294.3L1330.5 294.8L1330.9 296.1L1331.3 298.1L1331.7 300.8L1332.1 304.1L1332.5 307.7L1332.9 311.7L1333.3 315.9L1333.7 320.3L1334.1 324.6L1334.5 328.9L1334.9 332.9L1335.3 336.7L1335.7 340L1336.1 342.9L1336.5 345.1L1336.9 346.6L1337.3 347.3L1337.7 347L1338.1 345.9L1338.5 344L1338.9 341.4L1339.3 338.3L1339.7 334.6L1340.1 330.5L1340.5 326.1L1340.9 321.5L1341.3 316.8L1341.7 312.1L1342.1 307.5L1342.5 303.1L1342.9 298.9L1343.3 295.1L1343.7 291.8L1344.1 289.1L1344.5 287L1344.9 285.7L1345.3 285.2L1345.7 285.8L1346.1 287.4L1346.5 289.9L1346.9 293.3L1347.3 297.4L1347.7 302L1348.1 307.1L1348.5 312.6L1348.9 318.3L1349.3 324.1L1349.7 329.9L1350.1 335.6L1350.5 341.1L1350.9 346.2L1351.3 350.8L1351.7 354.9L1352.1 358.3L1352.5 360.8L1352.9 362.4L1353.3 363L1353.7 362.4L1354.1 360.5L1354.5 357.7L1354.9 353.9L1355.3 349.3L1355.7 344.1L1356.1 338.4L1356.5 332.3L1356.9 326L1357.3 319.7L1357.7 313.3L1358.1 307.2L1358.5 301.4L1358.9 296.1L1359.3 291.3L1359.7 287.3L1360.1 284.2L1360.5 282.1L1360.9 281.1L1361.3 281.4L1361.7 282.8L1362.1 285.2L1362.5 288.4L1362.9 292.3L1363.3 296.9L1363.7 301.9L1364.1 307.4L1364.5 313L1364.9 318.8L1365.3 324.6L1365.7 330.2L1366.1 335.7L1366.5 340.7L1366.9 345.3L1367.3 349.2L1367.7 352.4L1368.1 354.8L1368.5 356.2L1368.9 356.5L1369.3 355.4L1369.7 353.1L1370.1 349.7L1370.5 345.3L1370.9 340.1L1371.3 334.3L1371.7 328L1372.1 321.3L1372.5 314.5L1372.9 307.7L1373.3 301L1373.7 294.6L1374.1 288.6L1374.5 283.2L1374.9 278.6L1375.3 275L1375.7 272.4L1376.1 271L1376.5 271L1376.9 272.3L1377.3 274.9L1377.7 278.6L1378.1 283.3L1378.5 288.8L1378.9 294.9L1379.3 301.6L1379.7 308.7L1380.1 316L1380.5 323.5L1380.9 330.9L1381.3 338.2L1381.7 345.2L1382.1 351.8L1382.5 357.8L1382.9 363.1L1383.3 367.5L1383.7 370.9L1384.1 373.2L1384.5 374.3L1384.9 373.8L1385.3 371.7L1385.7 368.1L1386.1 363.2L1386.5 357.3L1386.9 350.4L1387.3 342.8L1387.7 334.7L1388.1 326.3L1388.5 317.7L1388.9 309.2L1389.3 300.9L1389.7 293L1390.1 285.7L1390.5 279.3L1390.9 273.9L1391.3 269.6L1391.7 266.8L1392.1 265.5L1392.5 265.8L1392.9 267.7L1393.3 271L1393.7 275.4L1394.1 280.7L1394.5 286.9L1394.9 293.8L1395.3 301.2L1395.7 308.8L1396.1 316.6L1396.5 324.4L1396.9 332L1397.3 339.3L1397.7 346L1398.1 352L1398.5 357.1L1398.9 361.3L1399.3 364.2L1399.7 365.7L1400.1 365.7L1400.5 364.1L1400.9 361L1401.3 356.6L1401.7 351.1L1402.1 344.6L1402.5 337.4L1402.9 329.6L1403.3 321.4L1403.7 312.9L1404.1 304.4L1404.5 296L1404.9 287.8L1405.3 280.1L1405.7 273.1L1406.1 266.9L1406.5 261.6L1406.9 257.5L1407.3 254.8L1407.7 253.6L1408.1 254.1L1408.5 256.6L1408.9 260.9L1409.3 266.7L1409.7 273.8L1410.1 282L1410.5 291L1410.9 300.7L1411.3 310.9L1411.7 321.2L1412.1 331.5L1412.5 341.5L1412.9 351.1L1413.3 360L1413.7 367.9L1414.1 374.7L1414.5 380.2L1414.9 384L1415.3 386L1415.7 386L1416.1 383.8L1416.5 379.7L1416.9 373.8L1417.3 366.5L1417.7 357.9L1418.1 348.4L1418.5 338.1L1418.9 327.3L1419.3 316.3L1419.7 305.3L1420.1 294.5L1420.5 284.2L1420.9 274.7L1421.3 266.1L1421.7 258.8L1422.1 252.9L1422.5 248.8L1422.9 246.6L1423.3 246.6L1423.7 248.7L1424.1 252.6L1424.5 258.1L1424.9 265.1L1425.3 273.2L1425.7 282.3L1426.1 292L1426.5 302.2L1426.9 312.7L1427.3 323.1L1427.7 333.3L1428.1 343L1428.5 352.1L1428.9 360.2L1429.3 367.2L1429.7 372.7L1430.1 376.6L1430.5 378.7L1430.9 378.7L1431.3 376.6L1431.7 372.7L1432.1 367L1432.5 360L1432.9 351.7L1433.3 342.4L1433.7 332.4L1434.1 321.8L1434.5 310.9L1434.9 299.8L1435.3 288.9L1435.7 278.3L1436.1 268.3L1436.5 259L1436.9 250.7L1437.3 243.7L1437.7 238L1438.1 234.1L1438.5 232L1438.9 232L1439.3 234.5L1439.7 239.2L1440.1 245.8L1440.5 254.1L1440.9 263.8L1441.3 274.7L1441.7 286.4L1442.1 298.8L1442.5 311.6L1442.9 324.4L1443.3 337.1L1443.7 349.4L1444.1 360.9L1444.5 371.6L1444.9 380.9L1445.3 388.8L1445.7 395L1446.1 399.2L1446.5 401L1446.9 400.2L1447.3 396.6L1447.7 390.5L1448.1 382.1L1448.5 371.9L1448.9 360.2L1449.3 347.3L1449.7 333.5L1450.1 319.3L1450.5 304.8L1450.9 290.6L1451.3 276.8L1451.7 263.9L1452.1 252.2L1452.5 242L1452.9 233.6L1453.3 227.5L1453.7 223.9L1454.1 223.1L1454.5 225.1L1454.9 229.4L1455.3 235.9L1455.7 244.2L1456.1 254L1456.5 265.2L1456.9 277.3L1457.3 290.1L1457.7 303.3L1458.1 316.7L1458.5 329.9L1458.9 342.7L1459.3 354.8L1459.7 366L1460.1 375.8L1460.5 384.1L1460.9 390.6L1461.3 394.9L1461.7 396.9L1462.1 396.2L1462.5 392.7L1462.9 386.7L1463.3 378.5L1463.7 368.5L1464.1 357L1464.5 344.2L1464.9 330.4L1465.3 316.1L1465.7 301.4L1466.1 286.8L1466.5 272.5L1466.9 258.7L1467.3 245.9L1467.7 234.4L1468.1 224.4L1468.5 216.2L1468.9 210.2L1469.3 206.7L1469.7 206L1470.1 208.6L1470.5 214.2L1470.9 222.6L1471.3 233.3L1471.7 246L1472.1 260.3L1472.5 275.9L1472.9 292.2L1473.3 309.1L1473.7 326L1474.1 342.6L1474.5 358.6L1474.9 373.6L1475.3 387.1L1475.7 398.9L1476.1 408.5L1476.5 415.6L1476.9 419.7L1477.3 420.6L1477.7 418.2L1478.1 412.8L1478.5 404.7L1478.9 394.4L1479.3 382.1L1479.7 368.2L1480.1 353L1480.5 336.9L1480.9 320.3L1481.3 303.3L1481.7 286.4L1482.1 270L1482.5 254.3L1482.9 239.8L1483.3 226.6L1483.7 215.3L1484.1 206.1L1484.5 199.3L1484.9 195.3L1485.3 194.5L1485.7 197.2L1486.1 203L1486.5 211.7L1486.9 222.8L1487.3 235.9L1487.7 250.7L1488.1 266.8L1488.5 283.7L1488.9 301.1L1489.3 318.6L1489.7 335.9L1490.1 352.4L1490.5 367.9L1490.9 381.9L1491.3 394L1491.7 404L1492.1 411.3L1492.5 415.6L1492.9 416.5L1493.3 413.4L1493.7 406.7L1494.1 396.9L1494.5 384.2L1494.9 369.3L1495.3 352.5L1495.7 334.4L1496.1 315.3L1496.5 295.8L1496.9 276.3L1497.3 257.2L1497.7 239.1L1498.1 222.3L1498.5 207.4L1498.9 194.7L1499.3 184.9L1499.7 178.2L1500.1 175.1L1500.5 176.2L1500.9 181.1L1501.3 189.5L1501.7 200.9L1502.1 214.9L1502.5 231.1L1502.9 249.1L1503.3 268.3L1503.7 288.4L1504.1 308.9L1504.5 329.4L1504.9 349.5L1505.3 368.7L1505.7 386.7L1506.1 402.9L1506.5 416.9L1506.9 428.3L1507.3 436.7L1507.7 441.6L1508.1 442.7L1508.5 439.3L1508.9 431.9L1509.3 420.8L1509.7 406.7L1510.1 390.1L1510.5 371.3L1510.9 350.9L1511.3 329.3L1511.7 307.2L1512.1 285L1512.5 263.1L1512.9 242.1L1513.3 222.4L1513.7 204.6L1514.1 189.1L1514.5 176.5L1514.9 167.2L1515.3 161.8L1515.7 160.6L1516.1 163.7L1516.5 170.5L1516.9 180.6L1517.3 193.6L1517.7 209L1518.1 226.5L1518.5 245.6L1518.9 265.8L1519.3 286.8L1519.7 308.1L1520.1 329.3L1520.5 349.9L1520.9 369.7L1521.3 388L1521.7 404.5L1522.1 418.7L1522.5 430.3L1522.9 438.8L1523.3 443.8L1523.7 444.9L1524.1 443.4L1524.5 440L1524.9 434.6L1525.3 427.6L1525.7 418.8L1526.1 408.5L1526.5 396.7L1526.9 383.5L1527 380" stroke="#0000ff" stroke-width="2.2"/><path d="M1111 327L1111.2 325.9L1111.5 324.8L1111.8 323.6L1112 322.5L1112.2 321.4L1112.5 320.2L1112.8 319.1L1113 318L1113.2 314.5L1113.5 311L1113.8 307.5L1114 304L1114.2 300.5L1114.5 297L1114.8 293.5L1115 290L1115.2 284.2L1115.5 278.3L1115.8 272.5L1116 266.7L1116.2 260.8L1116.5 255L1116.8 254.5L1117 254L1117.2 253.5L1117.5 253L1117.8 256.7L1118 260.3L1118.2 264L1118.5 267.7L1118.8 271.3L1119 275L1119.2 278L1119.5 280.9L1119.8 283.9L1120 286.8L1120.2 289.8L1120.5 292.7L1120.8 295.7L1121 298.6L1121.2 301.6L1121.5 304.5L1121.8 306.3L1122 307.3L1122.2 308.3L1122.5 309.3L1122.8 310.3L1123 311.3L1123.2 312.3L1123.5 313.4L1123.8 314.4L1124 315.4L1124.2 316.4L1124.5 317.4L1124.8 318.4L1125 319.4L1125.2 320.4L1125.5 321.1L1125.8 321.2L1126 321.4L1126.2 321.6L1126.5 321.8L1126.8 321.9L1127 322.1L1127.2 322.3L1127.5 322.4L1127.8 322.6L1128 322.8L1128.2 323L1128.5 323.1L1128.8 323.3L1129 323.5L1129.2 323.6L1129.5 323.8L1129.8 324L1130 324.2L1130.2 324.3L1130.5 324.5L1130.8 324.6L1131 324.6L1131.2 324.7L1131.5 324.8L1131.8 324.8L1132 324.9L1132.2 325L1132.5 325L1132.8 325.1L1133 325.2L1133.2 325.2L1133.5 325.3L1133.8 325.4L1134 325.5L1134.2 325.5L1134.5 325.6L1134.8 325.7L1135 325.7L1135.2 325.8L1135.5 325.9L1135.8 325.9L1136 326L1136.2 326L1136.5 326.1L1136.8 326.1L1137 326.2L1137.2 326.2L1137.5 326.2L1137.8 326.3L1138 326.3L1138.2 326.4L1138.5 326.4L1138.8 326.5L1139 326.5L1139.2 326.5L1139.5 326.6L1139.8 326.6L1140 326.7L1140.2 326.7L1140.5 326.8L1140.8 326.8L1141 326.8L1141.2 326.9L1141.5 326.9L1141.8 327L1141.8 328.5L1141.5 328.6L1141.2 328.6L1141 328.7L1140.8 328.7L1140.5 328.8L1140.2 328.8L1140 328.8L1139.8 328.9L1139.5 328.9L1139.2 329L1139 329L1138.8 329L1138.5 329.1L1138.2 329.1L1138 329.2L1137.8 329.2L1137.5 329.2L1137.2 329.3L1137 329.3L1136.8 329.4L1136.5 329.4L1136.2 329.5L1136 329.5L1135.8 329.6L1135.5 329.6L1135.2 329.7L1135 329.8L1134.8 329.9L1134.5 329.9L1134.2 330L1134 330.1L1133.8 330.2L1133.5 330.2L1133.2 330.3L1133 330.4L1132.8 330.5L1132.5 330.6L1132.2 330.6L1132 330.7L1131.8 330.8L1131.5 330.9L1131.2 330.9L1131 331L1130.8 331.1L1130.5 331.3L1130.2 331.4L1130 331.6L1129.8 331.8L1129.5 331.9L1129.2 332.1L1129 332.2L1128.8 332.4L1128.5 332.5L1128.2 332.6L1128 332.8L1127.8 332.9L1127.5 333.1L1127.2 333.2L1127 333.4L1126.8 333.6L1126.5 333.7L1126.2 333.9L1126 334L1125.8 334.4L1125.5 334.8L1125.2 335.1L1125 335.5L1124.8 335.9L1124.5 336.2L1124.2 336.6L1124 337L1123.8 337.4L1123.5 337.8L1123.2 338.1L1123 338.5L1122.8 338.9L1122.5 339.2L1122.2 339.6L1122 340L1121.8 340.7L1121.5 341.3L1121.2 342L1121 342.7L1120.8 343.3L1120.5 344L1120.2 344.7L1120 345.3L1119.8 346L1119.5 346.7L1119.2 347.3L1119 348L1118.8 348.2L1118.5 348.5L1118.2 348.8L1118 349L1117.8 349.2L1117.5 349.5L1117.2 349.8L1117 350L1116.8 349.4L1116.5 348.8L1116.2 348.1L1116 347.5L1115.8 346.9L1115.5 346.2L1115.2 345.6L1115 345L1114.8 343.9L1114.5 342.8L1114.2 341.6L1114 340.5L1113.8 339.4L1113.5 338.2L1113.2 337.1L1113 336L1112.8 335.1L1112.5 334.2L1112.2 333.4L1112 332.5L1111.8 331.6L1111.5 330.8L1111.2 329.9L1111 329Z" fill="#0000ff" stroke="none"/><path d="M1111 327.1L1111.2 329.6L1111.5 324.7L1111.7 331.5L1111.9 323.5L1112.1 332.9L1112.4 320.9L1112.6 333.8L1112.8 318.2L1113 335.1L1113.3 314.6L1113.5 338.3L1113.7 308.1L1114 340.8L1114.2 300L1114.4 345.4L1114.6 296.7L1114.9 345.6L1115.1 286.2L1115.3 343.8L1115.5 282.4L1115.8 352.3L1116 269.1L1116.2 345.6L1116.5 250.6L1116.7 350.4L1116.9 254.6L1117.1 353.8L1117.4 260.1L1117.6 352.4L1117.8 259.4L1118 343.6L1118.3 262.3L1118.5 353.7L1118.7 274.4L1119 349.5L1119.2 279.3L1119.4 349.3L1119.6 280.4L1119.9 343.1L1120.1 285.1L1120.3 345.8L1120.5 291.9L1120.8 345.5L1121 299.1L1121.2 343.6L1121.5 301.9L1121.7 338.8L1121.9 305.2L1122.1 339.3L1122.4 308.9L1122.6 337.6L1122.8 309.8L1123 337.6L1123.3 311L1123.5 336.9L1123.7 314.1L1124 336.7L1124.2 315.7L1124.4 335.5L1124.6 318.8L1124.9 336.3L1125.1 319.2L1125.3 335.2L1125.5 320.2L1125.8 333.8L1126 320.7L1126.2 333.3L1126.5 320.9L1126.7 333.8L1126.9 321.9L1127.1 334.1L1127.4 321.9L1127.6 333.5L1127.8 323.3L1128 332.6L1128.3 323.6L1128.5 332.1L1128.7 323.7L1129 332.7L1129.2 324.1L1129.4 331.7L1129.6 323.9L1129.9 332.1L1130.1 323.7L1130.3 331.6L1130.5 324.8L1130.8 331.2L1131 324.4L1131.2 330.5L1131.5 324.6L1131.7 330.7L1131.9 324.8L1132.1 330.8L1132.4 324.9L1132.6 330.5L1132.8 325.1L1133 330.2L1133.3 325.3L1133.5 330L1133.7 325.4L1134 330.1L1134.2 325.3L1134.4 329.9L1134.6 325.9L1134.9 329.9L1135.1 325.9L1135.3 329.8L1135.5 325.9L1135.8 329.5L1136 325.8L1136.2 329.4L1136.5 326.2L1136.7 329.3L1136.9 326.2L1137.1 329.1L1137.4 326.2L1137.6 329.4L1137.8 326.3L1138 329.3L1138.3 326.2L1138.5 329.2L1138.7 326.4L1139 329.1L1139.2 326.4L1139.4 328.8L1139.6 326.6L1139.9 328.8L1140.1 326.8L1140.3 328.8L1140.5 326.8L1140.8 328.7L1141 326.8L1141.2 328.5L1141.5 326.9L1141.7 328.5L1141.9 326.9" stroke="#0000ff" stroke-width="0.9"/><path d="M1117.5 233.8L1117.9 330L1118.1 415L1118.5 340" stroke="#0000ff" stroke-width="1.4"/><path d="M1112 329L1112.2 329L1112.5 329L1112.8 329L1113 329L1113.2 329L1113.5 329L1113.8 329L1114 329L1114.2 329L1114.5 329L1114.8 329L1115 329L1115.2 329L1115.5 329L1115.8 329L1116 329L1116.2 329L1116.5 329L1116.8 329L1117 329L1117.2 329L1117.5 329L1117.8 329L1118 329L1118.2 329L1118.5 329L1118.8 329L1119 329L1119.2 329L1119.5 329L1119.8 329L1120 329L1120.2 329L1120.5 329L1120.8 329L1121 329L1121.2 329L1121.5 329L1121.8 329L1122 329L1122.2 329L1122.5 329L1122.8 329L1123 329L1123.2 329L1123.5 329L1123.8 329L1123.8 332.1L1123.5 333.2L1123.2 334.4L1123 335.5L1122.8 336.6L1122.5 337.8L1122.2 338.9L1122 340L1121.8 343.3L1121.5 346.7L1121.2 350L1121 353.3L1120.8 356.7L1120.5 360L1120.2 365.8L1120 371.7L1119.8 377.5L1119.5 383.3L1119.2 389.2L1119 395L1118.8 398.4L1118.5 401.8L1118.2 405.2L1118 408.6L1117.8 412L1117.5 412.2L1117.2 407.7L1117 403.1L1116.8 398.6L1116.5 394.1L1116.2 389.5L1116 385L1115.8 380.6L1115.5 376.2L1115.2 371.9L1115 367.5L1114.8 363.1L1114.5 358.8L1114.2 354.4L1114 350L1113.8 348.2L1113.5 346.5L1113.2 344.8L1113 343L1112.8 341.2L1112.5 339.5L1112.2 337.8L1112 336Z" fill="#0000ff" stroke="none"/><path d="M1112 328.6L1112.3 338L1112.7 328.8L1113 343.6L1113.3 328.5L1113.7 348.8L1114 327.9L1114.3 357.5L1114.7 331.3L1115 367.1L1115.3 329.1L1115.7 375.9L1116 333.2L1116.3 394.1L1116.7 324.1L1117 406.3L1117.3 331.2L1117.7 415.7L1118 331.4L1118.3 406.8L1118.7 331.3L1119 397.8L1119.3 324.7L1119.7 383.1L1120 326.5L1120.3 366L1120.7 328.1L1121 353.5L1121.3 327.7L1121.7 343.5L1122 329.2L1122.3 338.7L1122.7 329L1123 335.8L1123.3 329.2L1123.7 332.3" stroke="#0000ff" stroke-width="0.9"/><path d="M1120 324.7L1120.3 331.8L1120.6 324.1L1120.9 330.7L1121.2 325.2L1121.5 332L1121.8 325.5L1122.1 330.5L1122.4 324.4L1122.7 331L1123 325.4L1123.3 330.7L1123.6 325.2L1123.9 330.2L1124.2 326.1L1124.5 330.6L1124.8 325.6L1125.1 330.2L1125.4 325.6L1125.7 330L1126 325.6L1126.3 329.6L1126.6 326.1L1126.9 329.7L1127.2 326.4L1127.5 329.7L1127.8 326.6L1128.1 329.8L1128.4 326.2L1128.7 329.2L1129 326.6L1129.3 329.2L1129.6 327L1129.9 329.5L1130.2 326.8L1130.5 329L1130.8 326.7L1131.1 329L1131.4 326.7L1131.7 328.9L1132 327.2L1132.3 328.9L1132.6 327.1L1132.9 329L1133.2 326.9L1133.5 329L1133.8 327.2L1134.1 328.7L1134.4 327.3L1134.7 329L1135 327.2L1135.3 328.9L1135.6 327.4L1135.9 328.6L1136.2 327.1L1136.5 328.8L1136.8 327.3L1137.1 328.6L1137.4 327.4L1137.7 328.6L1138 327.5L1138.3 328.8L1138.6 327.4L1138.9 328.5L1139.2 327.3L1139.5 328.5L1139.8 327.5L1140.1 328.6L1140.4 327.3L1140.7 328.4L1141 327.3L1141.3 328.5L1141.6 327.6L1141.9 328.4" stroke="#0000ff" stroke-width="0.9"/></g>
<g clip-path="url(#c3)" fill="none" stroke-linejoin="round" stroke-linecap="round"><path d="M66.7 817.3L67.1 817.7L67.5 818.7L67.9 820L68.3 821.7L68.7 823.5L69.1 825.5L69.5 828.1L69.9 831.3L70.3 835.2L70.7 839.5L71.1 844.1L71.5 849L71.9 854L72.3 859.3L72.7 865.3L73.1 872.1L73.5 880L73.9 892.2L74.3 908.9L74.7 926.1L75.1 939.4L75.5 944.8L75.9 938.2L76.3 922.5L76.7 903.7L77.1 887.8L77.5 877.6L77.9 868.5L78.3 860.4L78.7 853.8L79.1 848.9L79.5 845.1L79.9 841.8L80.3 839L80.7 836.6L81.1 834.5L81.5 832.4L81.9 830.5L82.3 828.8L82.7 827.5L83.1 826.6L83.5 826L83.9 825.5L84.3 824.9L84.7 824.5L85.1 824L85.5 823.6L85.9 823.2L86.3 822.9L86.7 822.5L87.1 822.3L87.5 822L87.9 821.8L88.3 821.7L88.7 821.6L89.1 821.5L89.5 821.5L89.9 821.5L90.3 821.5L90.7 821.5L91.1 821.5L91.5 821.5L91.9 821.5L92.3 821.5L92.7 821.5L93.1 821.5L93.5 821.5L93.9 821.5L94.3 821.5L94.7 821.5L95.1 821.5L95.5 821.5L95.9 821.5L96.3 821.4L96.7 821.2L97.1 821L97.5 820.7L97.9 820.3L98.3 819.9L98.7 819.5L99.1 819.1L99.5 818.7L99.9 818.4L100.3 818.1L100.7 817.8L101.1 817.6L101.5 817.6L101.9 817.6L102.3 817.6L102.7 817.7L103.1 817.8L103.5 817.9L103.9 818L104.3 818.2L104.7 818.3L105.1 818.5L105.5 818.6L105.9 818.8L106.3 818.9L106.7 819L107.1 819.1L107.5 819.1L107.9 819.2L108.3 819.1L108.7 819.1L109.1 819L109.5 819L109.9 818.9L110.3 818.8L110.7 818.7L111.1 818.6L111.5 818.5L111.9 818.5L112.3 818.5L112.7 818.5L113.1 818.5L113.5 818.5L113.9 818.6L114.3 818.6L114.7 818.6L115.1 818.6L115.5 818.6L115.9 818.6L116.3 818.6L116.7 818.7L117.1 818.7L117.5 818.7L117.9 818.6L118.3 818.5L118.7 818.4L119.1 818.2L119.5 818L119.9 817.8L120.3 817.6L120.7 817.4L121.1 817.2L121.5 817L121.9 816.9L122.3 816.8L122.7 816.8L123.1 816.9L123.5 817.1L123.9 817.4L124.3 817.7L124.7 818.1L125.1 818.6L125.5 819L125.9 819.5L126.3 820L126.7 820.4L127.1 820.9L127.5 821.2L127.9 821.6L128.3 821.8L128.7 821.9L129.1 822L129.5 821.8L129.9 821.5L130.3 821.1L130.7 820.6L131.1 820L131.5 819.3L131.9 818.5L132.3 817.8L132.7 817.1L133.1 816.4L133.5 815.7L133.9 815.2L134.3 814.7L134.7 814.4L135.1 814.2L135.5 814.2L135.9 814.4L136.3 814.8L136.7 815.4L137.1 816L137.5 816.8L137.9 817.6L138.3 818.5L138.7 819.3L139.1 820.2L139.5 820.9L139.9 821.6L140.3 822.3L140.7 822.7L141.1 823L141.5 823.1L141.9 823.1L142.3 822.8L142.7 822.5L143.1 822.1L143.5 821.6L143.9 821.1L144.3 820.5L144.7 820L145.1 819.4L145.5 818.8L145.9 818.3L146.3 817.9L146.7 817.5L147.1 817.3L147.5 817.2L147.9 817.1L148.3 817L148.7 816.9L149.1 816.9L149.5 816.8L149.9 816.7L150.3 816.7L150.7 816.6L151.1 816.6L151.5 816.5L151.9 816.5L152.3 816.5L152.7 816.4L153.1 816.4L153.5 816.4L153.9 816.4L154.3 816.4L154.7 816.4L155.1 816.7L155.5 817.1L155.9 817.7L156.3 818.3L156.7 819.1L157.1 819.9L157.5 820.7L157.9 821.6L158.3 822.4L158.7 823.2L159.1 823.9L159.5 824.5L159.9 825L160.3 825.3L160.7 825.5L161.1 825.4L161.5 824.9L161.9 824.1L162.3 823.1L162.7 821.8L163.1 820.4L163.5 818.9L163.9 817.2L164.3 815.6L164.7 814L165.1 812.6L165.5 811.2L165.9 810L166.3 809.1L166.7 808.5L167.1 808.2L167.5 808.3L167.9 808.9L168.3 809.8L168.7 811.1L169.1 812.6L169.5 814.3L169.9 816.1L170.3 818L170.7 819.8L171.1 821.6L171.5 823.3L171.9 824.7L172.3 825.9L172.7 826.8L173.1 827.2L173.5 827.3L173.9 827L174.3 826.5L174.7 825.8L175.1 824.9L175.5 823.9L175.9 822.8L176.3 821.6L176.7 820.4L177.1 819.3L177.5 818.1L177.9 817.1L178.3 816.1L178.7 815.3L179.1 814.7L179.5 814.3L179.9 814.2L180.3 814.2L180.7 814.2L181.1 814.2L181.5 814.3L181.9 814.3L182.3 814.4L182.7 814.4L183.1 814.5L183.5 814.6L183.9 814.7L184.3 814.8L184.7 814.9L185.1 815L185.5 815.2L185.9 815.3L186.3 815.4L186.7 815.7L187.1 816.3L187.5 817L187.9 818L188.3 819.1L188.7 820.3L189.1 821.5L189.5 822.8L189.9 824.1L190.3 825.3L190.7 826.5L191.1 827.5L191.5 828.4L191.9 829L192.3 829.5L192.7 829.6L193.1 829.3L193.5 828.3L193.9 826.9L194.3 825L194.7 822.8L195.1 820.4L195.5 817.8L195.9 815.1L196.3 812.4L196.7 809.8L197.1 807.4L197.5 805.3L197.9 803.5L198.3 802.2L198.7 801.4L199.1 801.3L199.5 801.9L199.9 803.3L200.3 805.3L200.7 807.8L201.1 810.7L201.5 813.8L201.9 817.1L202.3 820.4L202.7 823.7L203.1 826.7L203.5 829.4L203.9 831.7L204.3 833.4L204.7 834.4L205.1 834.6L205.5 834.1L205.9 833.1L206.3 831.7L206.7 829.9L207.1 827.7L207.5 825.4L207.9 823L208.3 820.6L208.7 818.2L209.1 816L209.5 814L209.9 812.4L210.3 811.1L210.7 810.4L211.1 810.2L211.5 810.2L211.9 810.3L212.3 810.5L212.7 810.6L213.1 810.8L213.5 811L213.9 811.3L214.3 811.6L214.7 811.9L215.1 812.2L215.5 812.5L215.9 813L216.3 813.5L216.7 814.2L217.1 815L217.5 815.9L217.9 816.8L218.3 817.8L218.7 818.7L219.1 819.9L219.5 821.3L219.9 822.9L220.3 824.6L220.7 826.3L221.1 828.1L221.5 829.7L221.9 831.3L222.3 832.8L222.7 834L223.1 835L223.5 835.6L223.9 835.9L224.3 835.6L224.7 834.3L225.1 832.1L225.5 829.2L225.9 825.7L226.3 821.8L226.7 817.6L227.1 813.3L227.5 809.1L227.9 805L228.3 801.3L228.7 798L229.1 795.5L229.5 793.7L229.9 792.9L230.3 793.1L230.7 794.5L231.1 796.7L231.5 799.7L231.9 803.4L232.3 807.5L232.7 811.9L233.1 816.5L233.5 821.1L233.9 825.7L234.3 830L234.7 833.8L235.1 837.2L235.5 839.8L235.9 841.6L236.3 842.4L236.7 842.3L237.1 841.6L237.5 840.4L237.9 838.7L238.3 836.7L238.7 834.3L239.1 831.7L239.5 829L239.9 826.1L240.3 823.2L240.7 820.2L241.1 817.4L241.5 814.7L241.9 812.2L242.3 810L242.7 808.2L243.1 806.7L243.5 805.8L243.9 805.3L244.3 805.3L244.7 805.4L245.1 805.6L245.5 805.9L245.9 806.2L246.3 806.5L246.7 807L247.1 807.4L247.5 807.9L247.9 808.5L248.3 809L248.7 809.6L249.1 810.2L249.5 810.9L249.9 811.7L250.3 812.7L250.7 813.8L251.1 815L251.5 816.4L251.9 817.9L252.3 819.9L252.7 823.1L253.1 827L253.5 831.3L253.9 835.3L254.3 838.8L254.7 841.2L255.1 842.1L255.5 841.5L255.9 839.7L256.3 836.9L256.7 833.3L257.1 828.9L257.5 824.1L257.9 818.9L258.3 813.5L258.7 808.1L259.1 802.7L259.5 797.7L259.9 793.1L260.3 789.1L260.7 785.9L261.1 783.5L261.5 782.3L261.9 782.3L262.3 783.9L262.7 786.8L263.1 790.8L263.5 795.8L263.9 801.5L264.3 807.7L264.7 814.2L265.1 820.8L265.5 827.3L265.9 833.5L266.3 839.2L266.7 844.2L267.1 848.2L267.5 851.1L267.9 852.7L268.3 852.8L268.7 851.9L269.1 850.3L269.5 848L269.9 845.2L270.3 841.9L270.7 838.2L271.1 834.3L271.5 830.1L271.9 825.9L272.3 821.6L272.7 817.5L273.1 813.5L273.5 809.8L273.9 806.5L274.3 803.7L274.7 801.4L275.1 799.8L275.5 799L275.9 798.9L276.3 799.1L276.7 799.4L277.1 799.9L277.5 800.5L277.9 801.2L278.3 802.1L278.7 802.9L279.1 803.9L279.5 804.8L279.9 805.8L280.3 806.8L280.7 808L281.1 809.4L281.5 810.9L281.9 812.7L282.3 814.6L282.7 816.7L283.1 819.1L283.5 822.8L283.9 827.9L284.3 833.6L284.7 839.5L285.1 844.8L285.5 848.9L285.9 851.3L286.3 851.4L286.7 849.9L287.1 847.1L287.5 843.1L287.9 838.1L288.3 832.4L288.7 826L289.1 819.3L289.5 812.3L289.9 805.3L290.3 798.4L290.7 791.8L291.1 785.7L291.5 780.3L291.9 775.8L292.3 772.4L292.7 770.2L293.1 769.4L293.5 770.4L293.9 773.3L294.3 777.8L294.7 783.6L295.1 790.4L295.5 798.1L295.9 806.4L296.3 815L296.7 823.7L297.1 832.2L297.5 840.2L297.9 847.6L298.3 853.9L298.7 859.1L299.1 862.8L299.5 864.8L299.9 864.8L300.3 863.6L300.7 861.3L301.1 858L301.5 853.8L301.9 849L302.3 843.7L302.7 838L303.1 832L303.5 825.9L303.9 819.8L304.3 814L304.7 808.4L305.1 803.3L305.5 798.8L305.9 795.1L306.3 792.3L306.7 790.5L307.1 789.8L307.5 790L307.9 790.6L308.3 791.6L308.7 792.9L309.1 794.4L309.5 796.1L309.9 798L310.3 799.9L310.7 802L311.1 804L311.5 806L311.9 808L312.3 810.2L312.7 812.7L313.1 815.4L313.5 818.4L313.9 821.6L314.3 825.6L314.7 831.3L315.1 837.9L315.5 844.9L315.9 851.6L316.3 857.1L316.7 861L317.1 862.4L317.5 861.4L317.9 858.5L318.3 854L318.7 848L319.1 840.9L319.5 832.9L319.9 824.2L320.3 815.2L320.7 805.9L321.1 796.7L321.5 787.7L321.9 779.4L322.3 771.8L322.7 765.3L323.1 760L323.5 756.2L323.9 754.2L324.3 754.3L324.7 757.1L325.1 762.2L325.5 769.4L325.9 778.2L326.3 788.3L326.7 799.3L327.1 810.9L327.5 822.6L327.9 834.2L328.3 845.2L328.7 855.3L329.1 864.2L329.5 871.3L329.9 876.5L330.3 879.2L330.7 879.4L331.1 878.1L331.5 875.6L331.9 872.1L332.3 867.7L332.7 862.5L333.1 856.7L333.5 850.3L333.9 843.5L334.3 836.5L334.7 829.4L335.1 822.2L335.5 815.2L335.9 808.5L336.3 802.1L336.7 796.2L337.1 791.1L337.5 786.6L337.9 783.1L338.3 780.7L338.7 779.4L339.1 779.3L339.5 780.4L339.9 782.5L340.3 785.5L340.7 789.3L341.1 793.8L341.5 798.8L341.9 804.3L342.3 810.2L342.7 816.4L343.1 822.8L343.5 829.2L343.9 835.5L344.3 841.8L344.7 847.7L345.1 853.4L345.5 858.5L345.9 863.2L346.3 867.1L346.7 870.3L347.1 872.6L347.5 874L347.9 874.2L348.3 872.6L348.7 869.1L349.1 863.9L349.5 857.1L349.9 849.2L350.3 840.2L350.7 830.4L351.1 820.1L351.5 809.5L351.9 798.8L352.3 788.2L352.7 778L353.1 768.4L353.5 759.6L353.9 752L354.3 745.6L354.7 740.7L355.1 737.7L355.5 736.6L355.9 738.2L356.3 742.6L356.7 749.5L357.1 758.5L357.5 769.3L357.9 781.4L358.3 794.5L358.7 808.3L359.1 822.2L359.5 836L359.9 849.3L360.3 861.8L360.7 872.9L361.1 882.4L361.5 889.9L361.9 895L362.3 897.3L362.7 896.8L363.1 894.2L363.5 889.8L363.9 883.8L364.3 876.5L364.7 868.1L365.1 858.8L365.5 848.9L365.9 838.5L366.3 828L366.7 817.6L367.1 807.4L367.5 797.7L367.9 788.9L368.3 781L368.7 774.3L369.1 769.1L369.5 765.6L369.9 764L370.3 764.4L370.7 766.4L371.1 769.9L371.5 774.6L371.9 780.5L372.3 787.3L372.7 794.8L373.1 803L373.5 811.7L373.9 820.6L374.3 829.7L374.7 838.7L375.1 847.5L375.5 855.9L375.9 863.8L376.3 871.1L376.7 877.4L377.1 882.7L377.5 886.8L377.9 889.6L378.3 890.8L378.7 890.1L379.1 886.7L379.5 880.9L379.9 873.1L380.3 863.4L380.7 852.3L381.1 840.1L381.5 827L381.9 813.4L382.3 799.5L382.7 785.7L383.1 772.3L383.5 759.6L383.9 747.9L384.3 737.5L384.7 728.8L385.1 721.9L385.5 717.3L385.9 715.2L386.3 716.1L386.7 720.5L387.1 727.8L387.5 737.8L387.9 749.9L388.3 763.9L388.7 779.2L389.1 795.4L389.5 812.1L389.9 828.9L390.3 845.5L390.7 861.3L391.1 875.9L391.5 889L391.9 900.1L392.3 908.9L392.7 914.8L393.1 917.4L393.5 916.9L393.9 913.9L394.3 908.9L394.7 902L395.1 893.5L395.5 883.7L395.9 872.8L396.3 861.1L396.7 848.7L397.1 836.1L397.5 823.3L397.9 810.7L398.3 798.5L398.7 786.9L399.1 776.3L399.5 766.8L399.9 758.7L400.3 752.2L400.7 747.7L401.1 745.3L401.5 745.3L401.9 747.9L402.3 752.7L402.7 759.5L403.1 768L403.5 777.9L403.9 789L404.3 801L404.7 813.5L405.1 826.4L405.5 839.3L405.9 851.9L406.3 864.1L406.7 875.4L407.1 885.7L407.5 894.5L407.9 901.8L408.3 907.1L408.7 910.3L409.1 910.9L409.5 908.5L409.9 903.2L410.3 895.3L410.7 885.2L411.1 873.1L411.5 859.5L411.9 844.6L412.3 828.8L412.7 812.5L413.1 795.8L413.5 779.3L413.9 763.2L414.3 747.8L414.7 733.5L415.1 720.6L415.5 709.5L415.9 700.5L416.3 693.8L416.7 689.9L417.1 689.2L417.5 693L417.9 701.2L418.3 713.4L418.7 728.8L419.1 746.8L419.5 766.9L419.9 788.4L420.3 810.6L420.7 833L421.1 854.9L421.5 875.8L421.9 894.9L422.3 911.7L422.7 925.6L423.1 935.8L423.5 941.9L423.9 943.3L424.3 940.9L424.7 935.6L425.1 927.8L425.5 917.7L425.9 905.7L426.3 892.1L426.7 877.3L427.1 861.6L427.5 845.2L427.9 828.7L428.3 812.2L428.7 796.2L429.1 780.8L429.5 766.6L429.9 753.8L430.3 742.7L430.7 733.7L431.1 727.1L431.5 723.2L431.9 722.4L432.3 724.7L432.7 729.8L433.1 737.3L433.5 747L433.9 758.6L434.3 771.7L434.7 785.9L435.1 801.1L435.5 816.8L435.9 832.7L436.3 848.5L436.7 864L437.1 878.7L437.5 892.4L437.9 904.8L438.3 915.5L438.7 924.1L439.1 930.5L439.5 934.2L439.9 935L440.3 932L440.7 925.4L441.1 915.7L441.5 903.1L441.9 888.2L442.3 871.3L442.7 852.8L443.1 833.2L443.5 812.9L443.9 792.3L444.3 771.8L444.7 751.8L445.1 732.7L445.5 715L445.9 699L446.3 685.2L446.7 674L447.1 665.8L447.5 661L447.9 660L448.3 664.2L448.7 673.3L449.1 686.8L449.5 704L449.9 724.3L450.3 746.9L450.7 771.4L451.1 797L451.5 823L451.9 848.9L452.3 874L452.7 897.7L453.1 919.2L453.5 938L453.9 953.4L454.3 964.8L454.7 971.6L455.1 973L455.5 970L455.9 963.3L456.3 953.3L456.7 940.5L457.1 925.3L457.5 908.1L457.9 889.3L458.3 869.3L458.7 848.6L459.1 827.6L459.5 806.7L459.9 786.3L460.3 766.9L460.7 748.8L461.1 732.5L461.5 718.5L461.9 707L462.3 698.6L462.7 693.7L463.1 692.7L463.5 696.3L463.9 704L464.3 715.6L464.7 730.2L465.1 747.6L465.5 767L465.9 788L466.3 810L466.7 832.5L467.1 854.9L467.5 876.7L467.9 897.3L468.3 916.3L468.7 933L469.1 946.9L469.5 957.6L469.9 964.3L470.3 966.7L470.7 964.2L471.1 957.1L471.5 945.9L471.9 931L472.3 913.1L472.7 892.6L473.1 870L473.5 845.9L473.9 820.7L474.3 795.1L474.7 769.4L475.1 744.3L475.5 720.2L475.9 697.6L476.3 677.1L476.7 659.1L477.1 644.3L477.5 633.1L477.9 625.9L478.3 623.5L478.7 624.3L479.1 626.7L479.5 630.7L479.9 636.4L480.3 643.7L480.7 652.6L481.1 663.2L481.5 675.4L481.9 689.3L482.3 704.9L482.7 722.1L483.1 741L483.5 761.6L483.9 783.8L484.3 807.8L484.7 833.5L485.1 860.8L485.5 889.9" stroke="#40e0d0" stroke-width="3.5"/><path d="M66.7 817.3L67.1 818.9L67.5 820.8L67.9 822.9L68.3 825.3L68.7 827.8L69.1 830.5L69.5 833.4L69.9 836.4L70.3 839.5L70.7 842.7L71.1 846.3L71.5 850.2L71.9 854.4L72.3 858.9L72.7 863.6L73.1 868.3L73.5 872.6L73.9 875.9L74.3 879.9L74.7 886.3L75.1 903L75.5 965.5L75.9 925.7L76.3 890L76.7 877.4L77.1 867.9L77.5 860.6L77.9 854.7L78.3 849.3L78.7 843.7L79.1 837.1L79.5 828.7L79.9 818.6L80.3 808.3L80.7 799.6L81.1 793.8L81.5 789.3L81.9 785.2L82.3 781.6L82.7 778.9L83.1 777.3L83.5 777L83.9 778.6L84.3 782.1L84.7 787.2L85.1 793.6L85.5 800.9L85.9 808.8L86.3 817.1L86.7 825.3L87.1 833.2L87.5 840.5L87.9 846.9L88.3 852L88.7 855.5L89.1 857.1L89.5 856.5L89.9 853.5L90.3 848.6L90.7 842.1L91.1 834.5L91.5 826L91.9 817.2L92.3 808.4L92.7 799.9L93.1 792.3L93.5 785.8L93.9 780.9L94.3 777.9L94.7 777.3L95.1 779.1L95.5 783.1L95.9 788.8L96.3 796L96.7 804.1L97.1 812.8L97.5 821.8L97.9 830.7L98.3 839L98.7 846.4L99.1 852.5L99.5 857L99.9 859.4L100.3 859.3L100.7 856.4L101.1 851.1L101.5 843.8L101.9 835.1L102.3 825.6L102.7 815.7L103.1 805.9L103.5 796.7L103.9 788.7L104.3 782.3L104.7 778.1L105.1 776.6L105.5 777.9L105.9 781.5L106.3 787.1L106.7 794.2L107.1 802.4L107.5 811.3L107.9 820.5L108.3 829.6L108.7 838.2L109.1 845.8L109.5 852.2L109.9 856.9L110.3 859.4L110.7 859.4L111.1 856.8L111.5 852L111.9 845.4L112.3 837.5L112.7 828.7L113.1 819.5L113.5 810.1L113.9 801.2L114.3 793L114.7 786.1L115.1 780.9L115.5 777.7L115.9 777L116.3 778.8L116.7 782.6L117.1 788.2L117.5 795.2L117.9 803.1L118.3 811.6L118.7 820.3L119.1 828.9L119.5 837L119.9 844.2L120.3 850.2L120.7 854.5L121.1 856.9L121.5 856.8L121.9 854.2L122.3 849.3L122.7 842.6L123.1 834.6L123.5 825.8L123.9 816.5L124.3 807.4L124.7 798.7L125.1 791L125.5 784.7L125.9 780.3L126.3 778.3L126.7 778.9L127.1 782L127.5 787L127.9 793.6L128.3 801.4L128.7 810L129.1 819L129.5 827.9L129.9 836.5L130.3 844.3L130.7 850.9L131.1 855.9L131.5 859L131.9 859.6L132.3 857.5L132.7 853L133.1 846.5L133.5 838.5L133.9 829.4L134.3 819.8L134.7 810.1L135.1 800.7L135.5 792.1L135.9 784.8L136.3 779.2L136.7 775.8L137.1 775.1L137.5 777.2L137.9 781.7L138.3 788.2L138.7 796.2L139.1 805.3L139.5 814.9L139.9 824.8L140.3 834.4L140.7 843.2L141.1 850.9L141.5 856.9L141.9 860.9L142.3 862.3L142.7 861L143.1 857.3L143.5 851.6L143.9 844.4L144.3 836.1L144.7 827L145.1 817.6L145.5 808.3L145.9 799.6L146.3 791.7L146.7 785.2L147.1 780.5L147.5 777.9L147.9 777.9L148.3 780.4L148.7 785L149.1 791.3L149.5 798.9L149.9 807.3L150.3 816.1L150.7 824.9L151.1 833.3L151.5 840.9L151.9 847.2L152.3 851.8L152.7 854.3L153.1 854.3L153.5 852.1L153.9 848.1L154.3 842.6L154.7 836L155.1 828.5L155.5 820.6L155.9 812.7L156.3 805L156.7 797.9L157.1 791.8L157.5 787L157.9 783.8L158.3 782.7L158.7 784L159.1 787.7L159.5 793.2L159.9 800.2L160.3 808.3L160.7 816.9L161.1 825.8L161.5 834.3L161.9 842.1L162.3 848.8L162.7 853.9L163.1 857.1L163.5 857.7L163.9 855.6L164.3 851.2L164.7 844.8L165.1 836.9L165.5 828L165.9 818.4L166.3 808.7L166.7 799.3L167.1 790.6L167.5 783L167.9 777.1L168.3 773.2L168.7 771.8L169.1 773.2L169.5 777.1L169.9 783.1L170.3 790.8L170.7 799.7L171.1 809.5L171.5 819.6L171.9 829.6L172.3 839.2L172.7 847.8L173.1 855.1L173.5 860.7L173.9 864L174.3 864.7L174.7 862.7L175.1 858.5L175.5 852.3L175.9 844.7L176.3 835.9L176.7 826.6L177.1 816.9L177.5 807.5L177.9 798.5L178.3 790.6L178.7 784L179.1 779.2L179.5 776.6L179.9 776.7L180.3 779.6L180.7 785L181.1 792.2L181.5 800.7L181.9 810L182.3 819.5L182.7 828.6L183.1 836.9L183.5 843.7L183.9 848.4L184.3 850.7L184.7 850.3L185.1 848L185.5 844.3L185.9 839.4L186.3 833.5L186.7 827.1L187.1 820.4L187.5 813.6L187.9 807L188.3 801L188.7 795.8L189.1 791.8L189.5 789.1L189.9 788.2L190.3 789.4L190.7 792.7L191.1 797.7L191.5 804L191.9 811.3L192.3 819.1L192.7 827L193.1 834.7L193.5 841.8L193.9 847.8L194.3 852.4L194.7 855.2L195.1 855.8L195.5 853.8L195.9 849.5L196.3 843.2L196.7 835.5L197.1 826.7L197.5 817.3L197.9 807.7L198.3 798.3L198.7 789.5L199.1 781.8L199.5 775.5L199.9 771.2L200.3 769.2L200.7 769.9L201.1 773.4L201.5 779.3L201.9 787L202.3 796.1L202.7 806.3L203.1 816.9L203.5 827.7L203.9 838.2L204.3 847.9L204.7 856.4L205.1 863.2L205.5 867.9L205.9 870.1L206.3 869.4L206.7 866.1L207.1 860.7L207.5 853.5L207.9 844.9L208.3 835.5L208.7 825.5L209.1 815.4L209.5 805.6L209.9 796.5L210.3 788.6L210.7 782.2L211.1 777.8L211.5 775.8L211.9 776.3L212.3 778.9L212.7 783.1L213.1 788.7L213.5 795.3L213.9 802.5L214.3 810.1L214.7 817.7L215.1 824.9L215.5 831.5L215.9 837.1L216.3 841.3L216.7 843.9L217.1 844.4L217.5 842.9L217.9 839.8L218.3 835.3L218.7 829.9L219.1 823.9L219.5 817.7L219.9 811.7L220.3 806.3L220.7 801.8L221.1 798.7L221.5 797.2L221.9 797.7L222.3 800.3L222.7 804.6L223.1 810.1L223.5 816.5L223.9 823.4L224.3 830.4L224.7 837.1L225.1 843.1L225.5 848L225.9 851.5L226.3 853.1L226.7 852.5L227.1 849.4L227.5 844.3L227.9 837.6L228.3 829.7L228.7 820.8L229.1 811.5L229.5 802.1L229.9 793L230.3 784.5L230.7 777.1L231.1 771.2L231.5 767.1L231.9 765.2L232.3 766L232.7 769.9L233.1 776.2L233.5 784.7L233.9 794.7L234.3 805.8L234.7 817.5L235.1 829.3L235.5 840.8L235.9 851.4L236.3 860.7L236.7 868.1L237.1 873.3L237.5 875.7L237.9 874.9L238.3 871.4L238.7 865.4L239.1 857.5L239.5 848.2L239.9 837.8L240.3 826.9L240.7 815.9L241.1 805.2L241.5 795.3L241.9 786.6L242.3 779.6L242.7 774.8L243.1 772.6L243.5 773.1L243.9 775.7L244.3 780L244.7 785.7L245.1 792.3L245.5 799.6L245.9 807.3L246.3 814.8L246.7 822L247.1 828.4L247.5 833.8L247.9 837.7L248.3 839.8L248.7 839.9L249.1 838.6L249.5 836.1L249.9 832.9L250.3 829L250.7 824.9L251.1 820.6L251.5 816.6L251.9 813L252.3 810.1L252.7 808.2L253.1 807.5L253.5 808.4L253.9 810.9L254.3 814.7L254.7 819.4L255.1 824.7L255.5 830.2L255.9 835.7L256.3 840.7L256.7 845L257.1 848.2L257.5 850L257.9 849.8L258.3 847.1L258.7 842L259.1 835.1L259.5 826.7L259.9 817.4L260.3 807.5L260.7 797.4L261.1 787.7L261.5 778.8L261.9 771.1L262.3 765.1L262.7 761.1L263.1 759.7L263.5 761.5L263.9 766.6L264.3 774.4L264.7 784.5L265.1 796.1L265.5 808.9L265.9 822.2L266.3 835.4L266.7 848.2L267.1 859.8L267.5 869.9L267.9 877.7L268.3 882.8L268.7 884.6L269.1 883.3L269.5 879.6L269.9 873.8L270.3 866.2L270.7 857.3L271.1 847.4L271.5 836.8L271.9 825.8L272.3 814.9L272.7 804.3L273.1 794.4L273.5 785.5L273.9 777.9L274.3 772.1L274.7 768.4L275.1 767.1L275.5 768.4L275.9 771.9L276.3 777.3L276.7 784L277.1 791.7L277.5 800L277.9 808.4L278.3 816.4L278.7 823.7L279.1 829.8L279.5 834.3L279.9 836.8L280.3 837L280.7 836.2L281.1 834.9L281.5 833L281.9 830.9L282.3 828.6L282.7 826.3L283.1 824.2L283.5 822.3L283.9 821L284.3 820.2L284.7 820.2L285.1 821.4L285.5 823.4L285.9 826.1L286.3 829.3L286.7 832.7L287.1 836.2L287.5 839.6L287.9 842.5L288.3 844.9L288.7 846.5L289.1 847.1L289.5 845.5L289.9 841.1L290.3 834.3L290.7 825.7L291.1 815.9L291.5 805.2L291.9 794.4L292.3 783.7L292.7 773.9L293.1 765.3L293.5 758.5L293.9 754.1L294.3 752.5L294.7 754.4L295.1 759.9L295.5 768.3L295.9 779.1L296.3 791.7L296.7 805.6L297.1 820.2L297.5 834.9L297.9 849.2L298.3 862.5L298.7 874.3L299.1 883.9L299.5 890.9L299.9 894.7L300.3 894.8L300.7 891.8L301.1 886.2L301.5 878.4L301.9 868.8L302.3 857.7L302.7 845.7L303.1 833.1L303.5 820.2L303.9 807.6L304.3 795.6L304.7 784.5L305.1 774.9L305.5 767.1L305.9 761.5L306.3 758.5L306.7 758.4L307.1 760.7L307.5 765L307.9 770.9L308.3 778.1L308.7 786.1L309.1 794.7L309.5 803.5L309.9 812.1L310.3 820.1L310.7 827.3L311.1 833.2L311.5 837.5L311.9 839.8L312.3 840.1L312.7 839.9L313.1 839.5L313.5 839L313.9 838.4L314.3 837.8L314.7 837.2L315.1 836.7L315.5 836.3L315.9 836.1L316.3 836.3L316.7 837.8L317.1 840.1L317.5 842.4L317.9 843.9L318.3 843.9L318.7 842L319.1 838.5L319.5 833.6L319.9 827.6L320.3 820.6L320.7 812.8L321.1 804.5L321.5 796L321.9 787.4L322.3 779L322.7 770.9L323.1 763.5L323.5 757L323.9 751.4L324.3 747.2L324.7 744.5L325.1 743.6L325.5 746L325.9 752.7L326.3 763L326.7 776.2L327.1 791.6L327.5 808.4L327.9 825.9L328.3 843.4L328.7 860.2L329.1 875.6L329.5 888.8L329.9 899.1L330.3 905.8L330.7 908.2L331.1 906.9L331.5 903.2L331.9 897.5L332.3 889.8L332.7 880.7L333.1 870.2L333.5 858.8L333.9 846.6L334.3 834L334.7 821.1L335.1 808.4L335.5 796.1L335.9 784.5L336.3 773.7L336.7 764.2L337.1 756.2L337.5 749.9L337.9 745.7L338.3 743.8L338.7 744.4L339.1 747.3L339.5 752.1L339.9 758.6L340.3 766.3L340.7 775L341.1 784.3L341.5 793.9L341.9 803.5L342.3 812.7L342.7 821.2L343.1 828.7L343.5 834.8L343.9 839.2L344.3 842.2L344.7 845.1L345.1 847.8L345.5 850.1L345.9 851.9L346.3 852.9L346.7 853.2L347.1 852.4L347.5 850.6L347.9 848.3L348.3 845.4L348.7 842.3L349.1 839.2L349.5 834.9L349.9 829.2L350.3 822.3L350.7 814.4L351.1 805.8L351.5 796.8L351.9 787.4L352.3 778.1L352.7 769L353.1 760.3L353.5 752.3L353.9 745.3L354.3 739.4L354.7 734.9L355.1 732L355.5 731L355.9 732.8L356.3 737.8L356.7 745.6L357.1 755.9L357.5 768.2L357.9 782.1L358.3 797.1L358.7 813L359.1 829.2L359.5 845.3L359.9 861L360.3 875.8L360.7 889.4L361.1 901.2L361.5 910.9L361.9 918.1L362.3 922.3L362.7 923.2L363.1 920.3L363.5 914L363.9 904.7L364.3 892.9L364.7 879.1L365.1 863.7L365.5 847.2L365.9 830.1L366.3 812.7L366.7 795.7L367.1 779.4L367.5 764.4L367.9 751L368.3 739.8L368.7 731.2L369.1 725.7L369.5 723.8L369.9 724.8L370.3 727.7L370.7 732.2L371.1 738.3L371.5 745.6L371.9 754L372.3 763.3L372.7 773.3L373.1 783.8L373.5 794.6L373.9 805.4L374.3 816.2L374.7 826.7L375.1 836.7L375.5 846L375.9 854.4L376.3 861.7L376.7 867.8L377.1 872.3L377.5 875.2L377.9 876.2L378.3 875.2L378.7 872.2L379.1 867.5L379.5 861.2L379.9 853.6L380.3 844.9L380.7 835.1L381.1 824.7L381.5 813.6L381.9 802.2L382.3 790.7L382.7 779.1L383.1 767.8L383.5 756.8L383.9 746.5L384.3 737.1L384.7 728.6L385.1 721.3L385.5 715.4L385.9 711.1L386.3 708.6L386.7 708.1L387.1 711.4L387.5 718.5L387.9 728.9L388.3 742.3L388.7 757.9L389.1 775.5L389.5 794.3L389.9 814L390.3 834L390.7 853.8L391.1 872.9L391.5 890.8L391.9 907L392.3 921L392.7 932.2L393.1 940.2L393.5 944.4L393.9 944.4L394.3 940L394.7 931.7L395.1 920L395.5 905.4L395.9 888.5L396.3 869.8L396.7 849.9L397.1 829.2L397.5 808.4L397.9 787.8L398.3 768.2L398.7 749.9L399.1 733.5L399.5 719.6L399.9 708.7L400.3 701.3L400.7 697.9L401.1 698.9L401.5 703.4L401.9 711L402.3 721.3L402.7 733.8L403.1 748L403.5 763.6L403.9 780L404.3 796.8L404.7 813.5L405.1 829.7L405.5 845L405.9 858.8L406.3 870.8L406.7 880.5L407.1 887.4L407.5 891L407.9 891.2L408.3 889L408.7 884.7L409.1 878.6L409.5 870.8L409.9 861.6L410.3 851.2L410.7 839.7L411.1 827.4L411.5 814.5L411.9 801.1L412.3 787.5L412.7 773.9L413.1 760.4L413.5 747.4L413.9 734.9L414.3 723.2L414.7 712.5L415.1 703L415.5 694.8L415.9 688.3L416.3 683.5L416.7 680.7L417.1 680.3L417.5 684.6L417.9 694L418.3 707.9L418.7 725.4L419.1 746L419.5 768.9L419.9 793.4L420.3 818.8L420.7 844.4L421.1 869.4L421.5 893.2L421.9 915L422.3 934.2L422.7 950L423.1 961.7L423.5 968.7L423.9 970.2L424.3 966.9L424.7 959.6L425.1 948.7L425.5 934.8L425.9 918.2L426.3 899.5L426.7 879L427.1 857.3L427.5 834.7L427.9 811.9L428.3 789.1L428.7 766.9L429.1 745.8L429.5 726.1L429.9 708.4L430.3 693.1L430.7 680.6L431.1 671.5L431.5 666.2L431.9 665L432.3 667.9L432.7 674.4L433.1 683.9L433.5 696.2L433.9 710.8L434.3 727.4L434.7 745.4L435.1 764.6L435.5 784.5L435.9 804.7L436.3 824.7L436.7 844.3L437.1 863L437.5 880.3L437.9 895.9L438.3 909.4L438.7 920.4L439.1 928.5L439.5 933.2L439.9 934.2L440.3 931.1L440.7 924.3L441.1 914.1L441.5 901.1L441.9 885.6L442.3 868.1L442.7 848.9L443.1 828.6L443.5 807.6L443.9 786.2L444.3 764.9L444.7 744.2L445.1 724.4L445.5 706L445.9 689.5L446.3 675.1L446.7 663.5L447.1 655L447.5 650L447.9 649L448.3 653.7L448.7 663.9L449.1 679L449.5 698.3L449.9 721.1L450.3 746.5L450.7 774L451.1 802.7L451.5 831.9L451.9 861L452.3 889.2L452.7 915.7L453.1 939.9L453.5 961L453.9 978.3L454.3 991.1L454.7 998.6L455.1 1000.2L455.5 996.2L455.9 987.3L456.3 974L456.7 956.9L457.1 936.5L457.5 913.6L457.9 888.5L458.3 861.8L458.7 834.2L459.1 806.2L459.5 778.3L459.9 751.1L460.3 725.2L460.7 701L461.1 679.3L461.5 660.6L461.9 645.3L462.3 634.1L462.7 627.5L463.1 626.2L463.5 630.7L463.9 640.7L464.3 655.5L464.7 674.4L465.1 696.7L465.5 721.7L465.9 748.6L466.3 776.9L466.7 805.8L467.1 834.6L467.5 862.6L467.9 889.1L468.3 913.5L468.7 934.9L469.1 952.9L469.5 966.5L469.9 975.2L470.3 978.3L470.7 975.6L471.1 968L471.5 956L471.9 940.2L472.3 921.1L472.7 899.2L473.1 875.1L473.5 849.4L473.9 822.5L474.3 795.1L474.7 767.8L475.1 740.9L475.5 715.2L475.9 691.1L476.3 669.2L476.7 650.1L477.1 634.3L477.5 622.3L477.9 614.7L478.3 612L478.7 612.8L479.1 615.1L479.5 618.9L479.9 624.4L480.3 631.4L480.7 640.1L481.1 650.3L481.5 662.3L481.9 675.8L482.3 691.1L482.7 708.1L483.1 726.8L483.5 747.2L483.9 769.4L484.3 793.3L484.7 819.1L485.1 846.6L485.5 876" stroke="#ff0000" stroke-width="2.0"/><path d="M66.7 817.3L67.1 817.3L67.5 817.3L67.9 817.3L68.3 817.3L68.7 817.3L69.1 817.3L69.5 817.3L69.9 817.3L70.3 817.3L70.7 817.3L71.1 817.3L71.5 817.3L71.9 817.3L72.3 817.3L72.7 817.3L73.1 817.3L73.5 817.3L73.9 817.3L74.3 817.3L74.7 817.3L75.1 817.3L75.5 817.3L75.9 817.3L76.3 817.3L76.7 817.3L77.1 817.3L77.5 817.3L77.9 817.3L78.3 817.3L78.7 817.3L79.1 817.4L79.5 817.4L79.9 817.5L80.3 817.6L80.7 817.6L81.1 817.7L81.5 817.7L81.9 817.7L82.3 817.7L82.7 817.6L83.1 817.4L83.5 817.3L83.9 817.1L84.3 816.9L84.7 816.8L85.1 816.6L85.5 816.5L85.9 816.5L86.3 816.5L86.7 816.5L87.1 816.6L87.5 816.6L87.9 816.7L88.3 816.8L88.7 816.9L89.1 817L89.5 817.1L89.9 817.2L90.3 817.4L90.7 817.6L91.1 817.8L91.5 818L91.9 818.3L92.3 818.5L92.7 818.8L93.1 819L93.5 819.3L93.9 819.5L94.3 819.7L94.7 819.8L95.1 819.9L95.5 820L95.9 820L96.3 819.9L96.7 819.8L97.1 819.7L97.5 819.5L97.9 819.3L98.3 819L98.7 818.7L99.1 818.5L99.5 818.2L99.9 818L100.3 817.8L100.7 817.7L101.1 817.6L101.5 817.5L101.9 817.5L102.3 817.6L102.7 817.6L103.1 817.7L103.5 817.9L103.9 818L104.3 818.2L104.7 818.3L105.1 818.5L105.5 818.6L105.9 818.8L106.3 818.9L106.7 819L107.1 819.1L107.5 819.2L107.9 819.2L108.3 819.2L108.7 819.1L109.1 819.1L109.5 819L109.9 818.9L110.3 818.8L110.7 818.7L111.1 818.6L111.5 818.5L111.9 818.5L112.3 818.5L112.7 818.5L113.1 818.5L113.5 818.5L113.9 818.6L114.3 818.6L114.7 818.6L115.1 818.6L115.5 818.6L115.9 818.7L116.3 818.7L116.7 818.7L117.1 818.7L117.5 818.7L117.9 818.7L118.3 818.6L118.7 818.4L119.1 818.2L119.5 818L119.9 817.8L120.3 817.6L120.7 817.3L121.1 817.1L121.5 816.9L121.9 816.8L122.3 816.7L122.7 816.7L123.1 816.8L123.5 817L123.9 817.3L124.3 817.7L124.7 818.1L125.1 818.6L125.5 819.1L125.9 819.6L126.3 820.1L126.7 820.6L127.1 821L127.5 821.4L127.9 821.8L128.3 822L128.7 822.2L129.1 822.2L129.5 822.1L129.9 821.7L130.3 821.3L130.7 820.7L131.1 820L131.5 819.3L131.9 818.5L132.3 817.8L132.7 817L133.1 816.2L133.5 815.5L133.9 814.9L134.3 814.5L134.7 814.1L135.1 813.9L135.5 813.9L135.9 814.1L136.3 814.6L136.7 815.1L137.1 815.8L137.5 816.6L137.9 817.5L138.3 818.4L138.7 819.3L139.1 820.2L139.5 821.1L139.9 821.8L140.3 822.5L140.7 823L141.1 823.3L141.5 823.4L141.9 823.3L142.3 823.1L142.7 822.8L143.1 822.3L143.5 821.8L143.9 821.3L144.3 820.7L144.7 820L145.1 819.4L145.5 818.8L145.9 818.3L146.3 817.8L146.7 817.5L147.1 817.2L147.5 817.1L147.9 817L148.3 816.9L148.7 816.8L149.1 816.7L149.5 816.7L149.9 816.6L150.3 816.5L150.7 816.5L151.1 816.4L151.5 816.4L151.9 816.3L152.3 816.3L152.7 816.3L153.1 816.2L153.5 816.2L153.9 816.2L154.3 816.2L154.7 816.3L155.1 816.5L155.5 817L155.9 817.6L156.3 818.3L156.7 819.1L157.1 820L157.5 820.9L157.9 821.8L158.3 822.7L158.7 823.5L159.1 824.3L159.5 825L159.9 825.5L160.3 825.8L160.7 826L161.1 825.9L161.5 825.4L161.9 824.5L162.3 823.4L162.7 822.1L163.1 820.5L163.5 818.9L163.9 817.2L164.3 815.5L164.7 813.8L165.1 812.2L165.5 810.7L165.9 809.5L166.3 808.5L166.7 807.8L167.1 807.5L167.5 807.6L167.9 808.2L168.3 809.3L168.7 810.6L169.1 812.2L169.5 814L169.9 816L170.3 818L170.7 819.9L171.1 821.9L171.5 823.6L171.9 825.2L172.3 826.4L172.7 827.3L173.1 827.8L173.5 827.9L173.9 827.6L174.3 827L174.7 826.3L175.1 825.3L175.5 824.3L175.9 823.1L176.3 821.9L176.7 820.6L177.1 819.3L177.5 818.1L177.9 817L178.3 816L178.7 815.1L179.1 814.5L179.5 814L179.9 813.9L180.3 813.9L180.7 813.9L181.1 814L181.5 814L181.9 814L182.3 814.1L182.7 814.2L183.1 814.3L183.5 814.3L183.9 814.4L184.3 814.5L184.7 814.7L185.1 814.8L185.5 814.9L185.9 815.1L186.3 815.2L186.7 815.5L187.1 816.1L187.5 816.9L187.9 817.9L188.3 819.1L188.7 820.4L189.1 821.7L189.5 823.1L189.9 824.5L190.3 825.8L190.7 827L191.1 828.1L191.5 829.1L191.9 829.8L192.3 830.2L192.7 830.4L193.1 830L193.5 829.1L193.9 827.5L194.3 825.5L194.7 823.2L195.1 820.6L195.5 817.8L195.9 814.9L196.3 812L196.7 809.3L197.1 806.7L197.5 804.4L197.9 802.5L198.3 801.1L198.7 800.3L199.1 800.1L199.5 800.8L199.9 802.3L200.3 804.4L200.7 807.1L201.1 810.1L201.5 813.5L201.9 817L202.3 820.6L202.7 824L203.1 827.3L203.5 830.1L203.9 832.5L204.3 834.4L204.7 835.4L205.1 835.7L205.5 835.2L205.9 834.1L206.3 832.6L206.7 830.6L207.1 828.4L207.5 825.9L207.9 823.3L208.3 820.8L208.7 818.2L209.1 815.9L209.5 813.8L209.9 812L210.3 810.7L210.7 809.9L211.1 809.7L211.5 809.7L211.9 809.9L212.3 810L212.7 810.2L213.1 810.5L213.5 810.7L213.9 811.1L214.3 811.4L214.7 811.7L215.1 812.1L215.5 812.5L215.9 812.9L216.3 813.5L216.7 814.2L217.1 814.9L217.5 815.8L217.9 816.6L218.3 817.5L218.7 818.5L219.1 819.7L219.5 821.2L219.9 822.9L220.3 824.7L220.7 826.6L221.1 828.5L221.5 830.3L221.9 832L222.3 833.6L222.7 834.9L223.1 836L223.5 836.8L223.9 837.1L224.3 836.8L224.7 835.4L225.1 833L225.5 829.9L225.9 826.2L226.3 822L226.7 817.5L227.1 813L227.5 808.4L227.9 804.1L228.3 800.1L228.7 796.6L229.1 793.9L229.5 792L229.9 791.1L230.3 791.4L230.7 792.9L231.1 795.3L231.5 798.5L231.9 802.3L232.3 806.7L232.7 811.4L233.1 816.4L233.5 821.3L233.9 826.2L234.3 830.7L234.7 834.9L235.1 838.4L235.5 841.3L235.9 843.2L236.3 844.1L236.7 843.9L237.1 843.2L237.5 841.9L237.9 840.1L238.3 837.9L238.7 835.4L239.1 832.7L239.5 829.7L239.9 826.6L240.3 823.5L240.7 820.4L241.1 817.4L241.5 814.5L241.9 811.9L242.3 809.6L242.7 807.6L243.1 806L243.5 805L243.9 804.5L244.3 804.5L244.7 804.7L245.1 804.9L245.5 805.2L245.9 805.6L246.3 806L246.7 806.5L247.1 807L247.5 807.6L247.9 808.2L248.3 808.9L248.7 809.5L249.1 810.2L249.5 810.9L249.9 811.7L250.3 812.6L250.7 813.6L251.1 814.8L251.5 816.1L251.9 817.6L252.3 819.7L252.7 823L253.1 827.3L253.5 831.8L253.9 836.3L254.3 840.1L254.7 842.7L255.1 843.7L255.5 843L255.9 841.1L256.3 838.1L256.7 834.2L257.1 829.6L257.5 824.5L257.9 818.9L258.3 813.2L258.7 807.3L259.1 801.7L259.5 796.3L259.9 791.4L260.3 787.1L260.7 783.7L261.1 781.2L261.5 779.9L261.9 779.9L262.3 781.6L262.7 784.7L263.1 789L263.5 794.3L263.9 800.3L264.3 807L264.7 813.9L265.1 821L265.5 827.9L265.9 834.6L266.3 840.6L266.7 845.9L267.1 850.2L267.5 853.3L267.9 855L268.3 855.1L268.7 854.2L269.1 852.5L269.5 850.1L269.9 847.1L270.3 843.5L270.7 839.6L271.1 835.4L271.5 831L271.9 826.4L272.3 821.9L272.7 817.5L273.1 813.3L273.5 809.4L273.9 805.8L274.3 802.8L274.7 800.4L275.1 798.7L275.5 797.8L275.9 797.7L276.3 797.9L276.7 798.4L277.1 798.9L277.5 799.7L277.9 800.5L278.3 801.5L278.7 802.5L279.1 803.6L279.5 804.7L279.9 805.7L280.3 806.8L280.7 808L281.1 809.3L281.5 810.8L281.9 812.4L282.3 814.2L282.7 816.3L283.1 818.7L283.5 822.6L283.9 828L284.3 834.2L284.7 840.5L285.1 846.3L285.5 850.9L285.9 853.4L286.3 853.6L286.7 852L287.1 848.9L287.5 844.7L287.9 839.4L288.3 833.3L288.7 826.5L289.1 819.3L289.5 811.8L289.9 804.3L290.3 797L290.7 790L291.1 783.5L291.5 777.8L291.9 772.9L292.3 769.3L292.7 766.9L293.1 766.1L293.5 767.2L293.9 770.2L294.3 775L294.7 781.2L295.1 788.5L295.5 796.8L295.9 805.6L296.3 814.8L296.7 824.1L297.1 833.1L297.5 841.7L297.9 849.6L298.3 856.4L298.7 861.9L299.1 865.8L299.5 867.9L299.9 868L300.3 866.7L300.7 864.2L301.1 860.7L301.5 856.3L301.9 851.2L302.3 845.5L302.7 839.4L303.1 833L303.5 826.5L303.9 820.1L304.3 813.8L304.7 807.9L305.1 802.5L305.5 797.7L305.9 793.7L306.3 790.7L306.7 788.8L307.1 788.1L307.5 788.3L307.9 789.1L308.3 790.2L308.7 791.6L309.1 793.3L309.5 795.2L309.9 797.3L310.3 799.5L310.7 801.7L311.1 803.9L311.5 806L311.9 808.1L312.3 810.2L312.7 812.6L313.1 815.1L313.5 818L313.9 821.1L314.3 825.3L314.7 831.2L315.1 838.4L315.5 846L315.9 853.3L316.3 859.4L316.7 863.6L317.1 865.2L317.5 864.1L317.9 861L318.3 856.2L318.7 849.8L319.1 842.3L319.5 833.8L319.9 824.5L320.3 814.8L320.7 804.9L321.1 795.1L321.5 785.6L321.9 776.7L322.3 768.6L322.7 761.6L323.1 756L323.5 752L323.9 749.9L324.3 750L324.7 752.9L325.1 758.4L325.5 766.1L325.9 775.5L326.3 786.3L326.7 798L327.1 810.4L327.5 823L327.9 835.4L328.3 847.1L328.7 857.9L329.1 867.3L329.5 875L329.9 880.5L330.3 883.4L330.7 883.6L331.1 882.2L331.5 879.6L331.9 875.8L332.3 871L332.7 865.4L333.1 859.1L333.5 852.2L333.9 844.9L334.3 837.4L334.7 829.6L335.1 821.9L335.5 814.4L335.9 807.1L336.3 800.2L336.7 793.9L337.1 788.3L337.5 783.5L337.9 779.7L338.3 777.1L338.7 775.7L339.1 775.7L339.5 776.8L339.9 779.1L340.3 782.4L340.7 786.5L341.1 791.3L341.5 796.8L341.9 802.8L342.3 809.2L342.7 815.9L343.1 822.8L343.5 829.7L343.9 836.6L344.3 843.4L344.7 849.9L345.1 856L345.5 861.6L345.9 866.6L346.3 870.9L346.7 874.4L347.1 876.9L347.5 878.4L347.9 878.6L348.3 876.9L348.7 873.1L349.1 867.5L349.5 860.3L349.9 851.7L350.3 842.1L350.7 831.6L351.1 820.6L351.5 809.2L351.9 797.7L352.3 786.3L352.7 775.4L353.1 765.1L353.5 755.7L353.9 747.5L354.3 740.6L354.7 735.5L355.1 732.2L355.5 731L355.9 732.7L356.3 737.4L356.7 744.8L357.1 754.4L357.5 766L357.9 778.9L358.3 792.9L358.7 807.6L359.1 822.6L359.5 837.3L359.9 851.6L360.3 864.8L360.7 876.7L361.1 886.9L361.5 894.9L361.9 900.3L362.3 902.8L362.7 902.2L363.1 899.5L363.5 894.7L363.9 888.3L364.3 880.4L364.7 871.3L365.1 861.3L365.5 850.6L365.9 839.5L366.3 828.1L366.7 816.8L367.1 805.9L367.5 795.5L367.9 785.9L368.3 777.4L368.7 770.2L369.1 764.6L369.5 760.8L369.9 759.1L370.3 759.5L370.7 761.7L371.1 765.5L371.5 770.6L371.9 776.9L372.3 784.3L372.7 792.5L373.1 801.4L373.5 810.8L373.9 820.4L374.3 830.3L374.7 840L375.1 849.6L375.5 858.7L375.9 867.3L376.3 875.1L376.7 882L377.1 887.7L377.5 892.2L377.9 895.2L378.3 896.5L378.7 895.7L379.1 892.1L379.5 885.9L379.9 877.5L380.3 867.1L380.7 855.2L381.1 842.1L381.5 828.1L381.9 813.4L382.3 798.6L382.7 783.8L383.1 769.4L383.5 755.8L383.9 743.2L384.3 732.1L384.7 722.7L385.1 715.3L385.5 710.3L385.9 708.1L386.3 709.1L386.7 713.7L387.1 721.6L387.5 732.3L387.9 745.3L388.3 760.2L388.7 776.5L389.1 793.9L389.5 811.8L389.9 829.8L390.3 847.5L390.7 864.4L391.1 880.1L391.5 894.1L391.9 906L392.3 915.3L392.7 921.6L393.1 924.5L393.5 923.9L393.9 920.7L394.3 915.2L394.7 907.8L395.1 898.7L395.5 888.1L395.9 876.4L396.3 863.7L396.7 850.4L397.1 836.8L397.5 823L397.9 809.4L398.3 796.2L398.7 783.8L399.1 772.3L399.5 762.1L399.9 753.3L400.3 746.4L400.7 741.5L401.1 738.9L401.5 739L401.9 741.7L402.3 746.9L402.7 754.3L403.1 763.5L403.5 774.2L403.9 786.2L404.3 799.2L404.7 812.8L405.1 826.7L405.5 840.7L405.9 854.4L406.3 867.5L406.7 879.8L407.1 890.9L407.5 900.5L407.9 908.3L408.3 914.1L408.7 917.5L409.1 918.2L409.5 915.6L409.9 909.9L410.3 901.5L410.7 890.6L411.1 877.7L411.5 863.1L411.9 847.1L412.3 830.1L412.7 812.6L413.1 794.7L413.5 777L413.9 759.7L414.3 743.2L414.7 727.8L415.1 714L415.5 702.1L415.9 692.4L416.3 685.3L416.7 681.1L417.1 680.3L417.5 684.3L417.9 693.1L418.3 706.1L418.7 722.6L419.1 741.9L419.5 763.4L419.9 786.4L420.3 810.2L420.7 834.2L421.1 857.6L421.5 879.9L421.9 900.4L422.3 918.4L422.7 933.2L423.1 944.2L423.5 950.8L423.9 952.2L424.3 949.6L424.7 943.9L425.1 935.5L425.5 924.6L425.9 911.7L426.3 897.1L426.7 881.1L427.1 864.1L427.5 846.6L427.9 828.7L428.3 811L428.7 793.7L429.1 777.2L429.5 761.8L429.9 748L430.3 736.1L430.7 726.4L431.1 719.3L431.5 715.1L431.9 714.2L432.3 716.7L432.7 722.2L433.1 730.4L433.5 740.9L433.9 753.4L434.3 767.5L434.7 782.9L435.1 799.3L435.5 816.3L435.9 833.5L436.3 850.7L436.7 867.4L437.1 883.3L437.5 898.2L437.9 911.5L438.3 923.1L438.7 932.4L439.1 939.3L439.5 943.4L439.9 944.2L440.3 941L440.7 933.9L441.1 923.4L441.5 909.9L441.9 893.9L442.3 875.8L442.7 856L443.1 834.9L443.5 813.1L443.9 791L444.3 769L444.7 747.5L445.1 727.1L445.5 708L445.9 690.9L446.3 676.1L446.7 664L447.1 655.2L447.5 650L447.9 649L448.3 653.4L448.7 663.2L449.1 677.7L449.5 696.1L449.9 717.8L450.3 742.1L450.7 768.2L451.1 795.6L451.5 823.5L451.9 851.3L452.3 878.1L452.7 903.5L453.1 926.5L453.5 946.7L453.9 963.2L454.3 975.4L454.7 982.6L455.1 984.2L455.5 980.9L455.9 973.7L456.3 963L456.7 949.2L457.1 932.8L457.5 914.2L457.9 894L458.3 872.5L458.7 850.2L459.1 827.5L459.5 805L459.9 783.1L460.3 762.1L460.7 742.7L461.1 725.1L461.5 710L461.9 697.7L462.3 688.6L462.7 683.3L463.1 682.3L463.5 686.1L463.9 694.5L464.3 706.9L464.7 722.8L465.1 741.5L465.5 762.5L465.9 785.2L466.3 809L466.7 833.2L467.1 857.4L467.5 881L467.9 903.3L468.3 923.8L468.7 941.8L469.1 956.9L469.5 968.4L469.9 975.7L470.3 978.3L470.7 975.6L471.1 968L471.5 956L471.9 940.2L472.3 921.1L472.7 899.2L473.1 875.1L473.5 849.4L473.9 822.5L474.3 795.1L474.7 767.8L475.1 740.9L475.5 715.2L475.9 691.1L476.3 669.2L476.7 650.1L477.1 634.3L477.5 622.3L477.9 614.7L478.3 612L478.7 612.9L479.1 615.5L479.5 619.9L479.9 626L480.3 634L480.7 643.7L481.1 655.1L481.5 668.4L481.9 683.4L482.3 700.3L482.7 718.9L483.1 739.3L483.5 761.6L483.9 785.6L484.3 811.5L484.7 839.2L485.1 868.7L485.5 900" stroke="#0000ff" stroke-width="2.2"/><path d="M70.5 816L70.8 815.5L71 815L71.2 814.5L71.5 814L71.8 813.5L72 813L72.2 812.5L72.5 812L72.8 811.5L73 811L73.2 810.5L73.5 810L73.8 809.5L74 809L74.2 808.5L74.5 808L74.8 808L75 808L75.2 808L75.5 808L75.8 808L76 808L76.2 808L76.5 808L76.8 808.5L77 809L77.2 809.5L77.5 810L77.8 810.5L78 811L78.2 811.5L78.5 812L78.8 812.5L79 813L79.2 813.5L79.5 814L79.8 814.5L80 815L80.2 815.5L80.5 816L80.8 816.2L81 816.3L81.2 816.5L81.5 816.7L81.8 816.8L81.8 818.3L81.5 818.7L81.2 819L81 819.3L80.8 819.7L80.5 820L80.2 820.5L80 821L79.8 821.5L79.5 822L79.2 822.5L79 823L78.8 823.5L78.5 824L78.2 824.5L78 825L77.8 825.5L77.5 826L77.2 826.5L77 827L76.8 827.5L76.5 828L76.2 828L76 828L75.8 828L75.5 828L75.2 828L75 828L74.8 828L74.5 828L74.2 827.5L74 827L73.8 826.5L73.5 826L73.2 825.5L73 825L72.8 824.5L72.5 824L72.2 823.4L72 822.8L71.8 822.1L71.5 821.5L71.2 820.9L71 820.2L70.8 819.6L70.5 819Z" fill="#0000ff" stroke="none"/><path d="M70.5 815.8L70.7 819.6L71 814.7L71.2 820.3L71.4 814.1L71.6 821.7L71.9 812.9L72.1 822.5L72.3 811.7L72.5 824.2L72.8 810.7L73 825L73.2 810.7L73.5 826.6L73.7 808.4L73.9 826.5L74.1 807.4L74.4 829L74.6 809L74.8 828.3L75 807.4L75.3 829.3L75.5 807.5L75.7 826.9L76 808L76.2 828L76.4 808L76.6 829.1L76.9 809.1L77.1 826.1L77.3 809.6L77.5 826.2L77.8 809.6L78 825.2L78.2 811.9L78.5 824.9L78.7 812.4L78.9 823.5L79.1 813.3L79.4 821.9L79.6 814L79.8 821.6L80 815.4L80.3 820.4L80.5 816.1L80.7 819.5L81 816.4L81.2 819.3L81.4 816.5L81.6 818.5L81.9 816.9" stroke="#0000ff" stroke-width="0.9"/><path d="M75.3 733.5L75.6 800L75.5 916.6L75.9 830" stroke="#0000ff" stroke-width="1.5"/></g>
<g clip-path="url(#c4)" fill="none" stroke-linejoin="round" stroke-linecap="round"><path d="M587.7 797.1L588.1 797.1L588.5 797.1L588.9 797.1L589.3 797.1L589.7 797.1L590.1 797.1L590.5 797.1L590.9 797.1L591.3 797.1L591.7 797.1L592.1 797L592.5 795.9L592.9 793.3L593.3 789.5L593.7 784.7L594.1 779.2L594.5 773.1L594.9 766.7L595.3 760.2L595.7 753.8L596.1 747.7L596.5 742.2L596.9 737.4L597.3 733.6L597.7 731L598.1 729.9L598.5 730.4L598.9 732.7L599.3 736.3L599.7 740.8L600.1 745.8L600.5 750.8L600.9 755.3L601.3 759L601.7 761.4L602.1 763.7L602.5 765.8L602.9 767.8L603.3 769.7L603.7 771.5L604.1 773.1L604.5 774.5L604.9 775.7L605.3 776.8L605.7 777.6L606.1 778.3L606.5 778.9L606.9 779.4L607.3 779.9L607.7 780.4L608.1 780.8L608.5 781.2L608.9 781.6L609.3 781.9L609.7 782.3L610.1 782.6L610.5 782.9L610.9 783.2L611.3 783.5L611.7 783.8L612.1 784.1L612.5 784.5L612.9 784.8L613.3 785.2L613.7 785.5L614.1 785.8L614.5 786.2L614.9 786.5L615.3 786.8L615.7 787.2L616.1 787.5L616.5 787.8L616.9 788.1L617.3 788.4L617.7 788.7L618.1 789L618.5 789.3L618.9 789.5L619.3 789.8L619.7 790.1L620.1 790.3L620.5 790.6L620.9 790.8L621.3 791L621.7 791.2L622.1 791.4L622.5 791.7L622.9 791.9L623.3 792.1L623.7 792.2L624.1 792.4L624.5 792.6L624.9 792.8L625.3 793L625.7 793.1L626.1 793.3L626.5 793.5L626.9 793.6L627.3 793.8L627.7 793.9L628.1 794L628.5 794.2L628.9 794.3L629.3 794.4L629.7 794.6L630.1 794.7L630.5 794.9L630.9 795L631.3 795.1L631.7 795.3L632.1 795.4L632.5 795.5L632.9 795.6L633.3 795.7L633.7 795.7L634.1 795.8L634.5 795.9L634.9 795.9L635.3 795.9L635.7 795.9L636.1 795.8L636.5 795.7L636.9 795.6L637.3 795.4L637.7 795.2L638.1 794.9L638.5 794.7L638.9 794.4L639.3 794.2L639.7 793.9L640.1 793.7L640.5 793.4L640.9 793.2L641.3 793L641.7 792.9L642.1 792.8L642.5 792.7L642.9 792.6L643.3 792.7L643.7 792.7L644.1 792.8L644.5 792.9L644.9 793L645.3 793.1L645.7 793.3L646.1 793.5L646.5 793.6L646.9 793.8L647.3 794L647.7 794.2L648.1 794.4L648.5 794.6L648.9 794.8L649.3 795L649.7 795.2L650.1 795.3L650.5 795.5L650.9 795.6L651.3 795.7L651.7 795.8L652.1 795.8L652.5 795.9L652.9 795.8L653.3 795.8L653.7 795.7L654.1 795.6L654.5 795.4L654.9 795.2L655.3 795L655.7 794.9L656.1 794.7L656.5 794.5L656.9 794.3L657.3 794.1L657.7 794L658.1 793.9L658.5 793.8L658.9 793.8L659.3 793.8L659.7 793.9L660.1 794.1L660.5 794.3L660.9 794.6L661.3 795L661.7 795.3L662.1 795.7L662.5 796.1L662.9 796.5L663.3 796.9L663.7 797.2L664.1 797.5L664.5 797.7L664.9 797.8L665.3 797.9L665.7 797.9L666.1 797.8L666.5 797.6L666.9 797.3L667.3 797L667.7 796.6L668.1 796.2L668.5 795.8L668.9 795.3L669.3 794.8L669.7 794.3L670.1 793.8L670.5 793.3L670.9 792.8L671.3 792.3L671.7 791.9L672.1 791.5L672.5 791.2L672.9 790.9L673.3 790.7L673.7 790.6L674.1 790.6L674.5 790.7L674.9 790.9L675.3 791.2L675.7 791.5L676.1 792L676.5 792.5L676.9 793L677.3 793.5L677.7 794.1L678.1 794.7L678.5 795.2L678.9 795.8L679.3 796.3L679.7 796.8L680.1 797.2L680.5 797.5L680.9 797.7L681.3 797.9L681.7 797.9L682.1 797.8L682.5 797.6L682.9 797.4L683.3 797.1L683.7 796.7L684.1 796.3L684.5 795.8L684.9 795.3L685.3 794.8L685.7 794.3L686.1 793.8L686.5 793.4L686.9 792.9L687.3 792.5L687.7 792.2L688.1 791.9L688.5 791.7L688.9 791.6L689.3 791.6L689.7 791.8L690.1 792L690.5 792.4L690.9 792.8L691.3 793.3L691.7 793.9L692.1 794.5L692.5 795.2L692.9 795.9L693.3 796.6L693.7 797.3L694.1 798L694.5 798.6L694.9 799.2L695.3 799.7L695.7 800.2L696.1 800.6L696.5 800.8L696.9 801L697.3 801L697.7 800.9L698.1 800.6L698.5 800.1L698.9 799.6L699.3 798.9L699.7 798.1L700.1 797.3L700.5 796.4L700.9 795.5L701.3 794.5L701.7 793.6L702.1 792.7L702.5 791.8L702.9 791L703.3 790.3L703.7 789.7L704.1 789.1L704.5 788.8L704.9 788.5L705.3 788.5L705.7 788.6L706.1 788.9L706.5 789.3L706.9 789.8L707.3 790.4L707.7 791.1L708.1 791.8L708.5 792.6L708.9 793.5L709.3 794.3L709.7 795.2L710.1 796.1L710.5 796.9L710.9 797.7L711.3 798.5L711.7 799.1L712.1 799.7L712.5 800.2L712.9 800.6L713.3 800.9L713.7 801L714.1 801L714.5 800.7L714.9 800.4L715.3 799.8L715.7 799.2L716.1 798.5L716.5 797.6L716.9 796.8L717.3 795.9L717.7 795L718.1 794.1L718.5 793.2L718.9 792.4L719.3 791.6L719.7 790.9L720.1 790.4L720.5 790L720.9 789.7L721.3 789.6L721.7 789.7L722.1 790.1L722.5 790.7L722.9 791.4L723.3 792.3L723.7 793.4L724.1 794.5L724.5 795.7L724.9 796.9L725.3 798.2L725.7 799.4L726.1 800.6L726.5 801.7L726.9 802.7L727.3 803.6L727.7 804.3L728.1 804.8L728.5 805.1L728.9 805.2L729.3 805L729.7 804.6L730.1 803.9L730.5 803.1L730.9 802.1L731.3 800.9L731.7 799.7L732.1 798.4L732.5 796.9L732.9 795.5L733.3 794L733.7 792.6L734.1 791.2L734.5 789.9L734.9 788.6L735.3 787.5L735.7 786.5L736.1 785.6L736.5 785L736.9 784.5L737.3 784.3L737.7 784.4L738.1 784.9L738.5 785.7L738.9 786.9L739.3 788.2L739.7 789.7L740.1 791.4L740.5 793.2L740.9 795.1L741.3 796.9L741.7 798.7L742.1 800.4L742.5 802L742.9 803.4L743.3 804.6L743.7 805.5L744.1 806.1L744.5 806.3L744.9 806.1L745.3 805.7L745.7 805L746.1 804.1L746.5 802.9L746.9 801.7L747.3 800.3L747.7 798.8L748.1 797.2L748.5 795.7L748.9 794.1L749.3 792.6L749.7 791.1L750.1 789.7L750.5 788.5L750.9 787.4L751.3 786.6L751.7 785.9L752.1 785.6L752.5 785.5L752.9 785.8L753.3 786.4L753.7 787.3L754.1 788.5L754.5 789.9L754.9 791.5L755.3 793.3L755.7 795.1L756.1 797L756.5 799L756.9 800.9L757.3 802.8L757.7 804.6L758.1 806.3L758.5 807.8L758.9 809.1L759.3 810.2L759.7 811L760.1 811.4L760.5 811.5L760.9 811.2L761.3 810.5L761.7 809.4L762.1 808L762.5 806.3L762.9 804.4L763.3 802.4L763.7 800.2L764.1 797.9L764.5 795.6L764.9 793.3L765.3 791L765.7 788.8L766.1 786.8L766.5 785L766.9 783.4L767.3 782.1L767.7 781L768.1 780.4L768.5 780.2L768.9 780.5L769.3 781.2L769.7 782.4L770.1 784L770.5 785.9L770.9 788L771.3 790.3L771.7 792.8L772.1 795.4L772.5 798L772.9 800.5L773.3 803L773.7 805.3L774.1 807.3L774.5 809.1L774.9 810.6L775.3 811.7L775.7 812.4L776.1 812.5L776.5 812.1L776.9 811.3L777.3 810.1L777.7 808.5L778.1 806.7L778.5 804.6L778.9 802.4L779.3 800L779.7 797.5L780.1 795.1L780.5 792.7L780.9 790.3L781.3 788.2L781.7 786.2L782.1 784.5L782.5 783.1L782.9 782.1L783.3 781.5L783.7 781.3L784.1 781.7L784.5 782.6L784.9 783.9L785.3 785.6L785.7 787.6L786.1 789.9L786.5 792.4L786.9 795L787.3 797.8L787.7 800.5L788.1 803.3L788.5 806L788.9 808.6L789.3 811L789.7 813.1L790.1 815L790.5 816.5L790.9 817.6L791.3 818.2L791.7 818.4L792.1 817.9L792.5 816.9L792.9 815.3L793.3 813.3L793.7 811L794.1 808.3L794.5 805.4L794.9 802.3L795.3 799.1L795.7 795.8L796.1 792.6L796.5 789.4L796.9 786.4L797.3 783.6L797.7 781.1L798.1 778.9L798.5 777.1L798.9 775.8L799.3 775.1L799.7 774.9L800.1 775.4L800.5 776.6L800.9 778.3L801.3 780.4L801.7 783L802.1 785.9L802.5 789.1L802.9 792.4L803.3 795.8L803.7 799.3L804.1 802.8L804.5 806.1L804.9 809.3L805.3 812.2L805.7 814.8L806.1 816.9L806.5 818.6L806.9 819.8L807.3 820.3L807.7 820.1L808.1 819.2L808.5 817.7L808.9 815.7L809.3 813.3L809.7 810.4L810.1 807.3L810.5 804L810.9 800.5L811.3 796.9L811.7 793.4L812.1 790L812.5 786.7L812.9 783.7L813.3 781.1L813.7 778.8L814.1 777.1L814.5 775.9L814.9 775.4L815.3 775.6L815.7 776.5L816.1 778L816.5 780.1L816.9 782.7L817.3 785.7L817.7 789.1L818.1 792.7L818.5 796.4L818.9 800.3L819.3 804.2L819.7 808L820.1 811.7L820.5 815.1L820.9 818.3L821.3 821.1L821.7 823.5L822.1 825.3L822.5 826.6L822.9 827.1L823.3 826.9L823.7 825.9L824.1 824.1L824.5 821.7L824.9 818.7L825.3 815.3L825.7 811.5L826.1 807.4L826.5 803.1L826.9 798.7L827.3 794.3L827.7 790L828.1 785.8L828.5 781.8L828.9 778.2L829.3 775L829.7 772.3L830.1 770.2L830.5 768.8L830.9 768.2L831.3 768.4L831.7 769.7L832.1 771.7L832.5 774.6L832.9 778L833.3 782L833.7 786.4L834.1 791.1L834.5 796L834.9 800.9L835.3 805.8L835.7 810.6L836.1 815.1L836.5 819.2L836.9 822.8L837.3 825.8L837.7 828.1L838.1 829.5L838.5 830L838.9 829.5L839.3 828.1L839.7 825.8L840.1 822.9L840.5 819.3L840.9 815.2L841.3 810.7L841.7 806L842.1 801.1L842.5 796.2L842.9 791.3L843.3 786.5L843.7 782.1L844.1 778L844.5 774.4L844.9 771.4L845.3 769.2L845.7 767.7L846.1 767.2L846.5 767.7L846.9 769.2L847.3 771.5L847.7 774.6L848.1 778.3L848.5 782.5L848.9 787.1L849.3 792.1L849.7 797.3L850.1 802.5L850.5 807.8L850.9 813L851.3 817.9L851.7 822.6L852.1 826.8L852.5 830.5L852.9 833.6L853.3 835.9L853.7 837.3L854.1 837.8L854.5 837.3L854.9 835.6L855.3 833.1L855.7 829.6L856.1 825.5L856.5 820.8L856.9 815.6L857.3 810.1L857.7 804.3L858.1 798.4L858.5 792.5L858.9 786.7L859.3 781.2L859.7 776L860.1 771.3L860.5 767.2L860.9 763.7L861.3 761.2L861.7 759.5L862.1 759L862.5 759.6L862.9 761.5L863.3 764.5L863.7 768.4L864.1 773.1L864.5 778.5L864.9 784.4L865.3 790.7L865.7 797.1L866.1 803.7L866.5 810.1L866.9 816.4L867.3 822.2L867.7 827.6L868.1 832.3L868.5 836.3L868.9 839.3L869.3 841.2L869.7 841.8L870.1 841.1L870.5 839.1L870.9 835.9L871.3 831.8L871.7 826.8L872.1 821.2L872.5 815L872.9 808.5L873.3 801.8L873.7 795.1L874.1 788.5L874.5 782.1L874.9 776.2L875.3 770.9L875.7 766.3L876.1 762.6L876.5 760L876.9 758.6L877.3 758.6L877.7 760L878.1 762.5L878.5 766L878.9 770.5L879.3 775.7L879.7 781.6L880.1 787.9L880.5 794.6L880.9 801.5L881.3 808.5L881.7 815.4L882.1 822.1L882.5 828.5L882.9 834.3L883.3 839.6L883.7 844L884.1 847.6L884.5 850.1L884.9 851.4L885.3 851.4L885.7 849.9L886.1 847.1L886.5 843.2L886.9 838.3L887.3 832.5L887.7 826L888.1 818.9L888.5 811.5L888.9 803.8L889.3 796.1L889.7 788.4L890.1 781L890.5 774L890.9 767.5L891.3 761.7L891.7 756.7L892.1 752.8L892.5 750L892.9 748.5L893.3 748.6L893.7 750.3L894.1 753.7L894.5 758.5L894.9 764.4L895.3 771.3L895.7 779L896.1 787.2L896.5 795.8L896.9 804.6L897.3 813.3L897.7 821.7L898.1 829.7L898.5 837L898.9 843.4L899.3 848.8L899.7 852.9L900.1 855.5L900.5 856.4L900.9 855.5L901.3 853L901.7 849L902.1 843.8L902.5 837.5L902.9 830.4L903.3 822.6L903.7 814.3L904.1 805.7L904.5 797L904.9 788.4L905.3 780.1L905.7 772.3L906.1 765.2L906.5 758.9L906.9 753.7L907.3 749.7L907.7 747.2L908.1 746.3L908.5 747.2L908.9 749.7L909.3 753.7L909.7 758.9L910.1 765.3L910.5 772.5L910.9 780.5L911.3 789L911.7 797.9L912.1 807L912.5 816.1L912.9 825L913.3 833.5L913.7 841.5L914.1 848.8L914.5 855.1L914.9 860.4L915.3 864.3L915.7 866.9L916.1 867.7L916.5 866.7L916.9 863.7L917.3 858.9L917.7 852.7L918.1 845.1L918.5 836.6L918.9 827.2L919.3 817.3L919.7 807L920.1 796.6L920.5 786.3L920.9 776.3L921.3 767L921.7 758.4L922.1 750.9L922.5 744.6L922.9 739.9L923.3 736.8L923.7 735.8L924.1 736.8L924.5 739.7L924.9 744.2L925.3 750.2L925.7 757.4L926.1 765.6L926.5 774.7L926.9 784.4L927.3 794.5L927.7 804.9L928.1 815.2L928.5 825.3L928.9 835L929.3 844.1L929.7 852.4L930.1 859.6L930.5 865.5L930.9 870.1L931.3 872.9L931.7 873.9L932.1 872.8L932.5 869.4L932.9 864.2L933.3 857.4L933.7 849.1L934.1 839.7L934.5 829.5L934.9 818.6L935.3 807.4L935.7 796.1L936.1 784.9L936.5 774.2L936.9 764.2L937.3 755L937.7 747.1L938.1 740.6L938.5 735.9L938.9 733.1L939.3 732.5L939.7 734.1L940.1 737.8L940.5 743.3L940.9 750.4L941.3 758.8L941.7 768.3L942.1 778.7L942.5 789.7L942.9 801.1L943.3 812.7L943.7 824.2L944.1 835.5L944.5 846.2L944.9 856.2L945.3 865.2L945.7 872.9L946.1 879.2L946.5 883.9L946.9 886.6L947.3 887.1L947.7 885.1L948.1 880.7L948.5 874.2L948.9 865.9L949.3 856L949.7 844.9L950.1 832.9L950.5 820.2L950.9 807.1L951.3 793.9L951.7 781L952.1 768.6L952.5 756.9L952.9 746.4L953.3 737.3L953.7 729.8L954.1 724.3L954.5 721.1L954.9 720.4L955.3 722.6L955.7 727.5L956.1 734.6L956.5 743.8L956.9 754.6L957.3 766.8L957.7 779.9L958.1 793.7L958.5 807.9L958.9 822L959.3 835.8L959.7 848.9L960.1 861.1L960.5 871.9L960.9 881.1L961.3 888.2L961.7 893.1L962.1 895.3L962.5 894.5L962.9 891.1L963.3 885.2L963.7 877.2L964.1 867.3L964.5 856L964.9 843.5L965.3 830.2L965.7 816.3L966.1 802.1L966.5 788.1L966.9 774.4L967.3 761.5L967.7 749.5L968.1 738.9L968.5 729.9L968.9 722.9L969.3 718.2L969.7 716.1L970.1 716.8L970.5 720.2L970.9 726L971.3 734L971.7 743.8L972.1 755.1L972.5 767.6L972.9 781.1L973.3 795.3L973.7 809.8L974.1 824.4L974.5 838.8L974.9 852.7L975.3 865.8L975.7 877.7L976.1 888.3L976.5 897.2L976.9 904.1L977.3 908.8L977.7 910.9L978.1 910.1L978.5 906.2L978.9 899.6L979.3 890.7L979.7 879.7L980.1 867.1L980.5 853L980.9 838L981.3 822.3L981.7 806.2L982.1 790.1L982.5 774.4L982.9 759.4L983.3 745.3L983.7 732.7L984.1 721.7L984.5 712.7L984.9 706.2L985.3 702.3L985.7 701.5L986.1 704.1L986.5 709.9L986.9 718.5L987.3 729.5L987.7 742.5L988.1 757.1L988.5 773L988.9 789.7L989.3 806.9L989.7 824.2L990.1 841.2L990.5 857.6L990.9 872.9L991.3 886.7L991.7 898.8L992.1 908.6L992.5 915.8L992.9 920.1L993.3 920.9L993.7 918.1L994.1 911.8L994.5 902.5L994.9 890.7L995.3 876.6L995.7 860.9L996.1 843.9L996.5 826L996.9 807.7L997.3 789.4L997.7 771.5L998.1 754.5L998.5 738.8L998.9 724.7L999.3 712.9L999.7 703.6L1000.1 697.3L1000.5 694.5L1000.9 694.4L1001.3 694.7L1001.7 695.3L1002.1 696.4L1002.5 697.9L1002.9 700.1L1003.3 702.9L1003.7 706.4L1004.1 710.8L1004.5 716L1004.9 722.3L1005.3 729.7L1005.7 738.2L1006.1 747.9L1006.5 759" stroke="#40e0d0" stroke-width="3.5"/><path d="M596.5 700L596.9 776.7L597.2 712.3L597.6 792.7L597.9 724.5L598.3 782.5L598.6 733.5L599 784.7L599.3 740L599.7 790.8L600 746.4L600.4 793.8L600.7 752.9L601.1 792.5L601.4 759.4L601.8 792.1L602.1 762.7L602.5 790.6L602.8 765.6L603.2 789.7L603.5 768.4L603.9 796L604.2 771.3L604.6 796.8L604.9 774.1L605.3 794.3L605.6 777L606 792.7L606.3 778.3L606.7 794.7L607 779L607.4 796L607.7 779.7L608.1 796.3L608.4 780.4L608.8 796.3L609.1 781.1L609.5 797.1L609.8 781.8L610.2 796.5L610.5 782.5L610.9 794L611.2 783.2L611.6 794.2L611.9 783.9L612.3 794.7L612.6 784.5L613 795.4L613.3 785.1L613.7 794.5L614 785.6L614.4 795.4L614.7 786.1L615.1 796.1L615.4 786.6L615.8 796.7L616.1 787.2L616.5 796.2L616.8 787.7L617.2 795.8L617.5 788.2L617.9 795.7L618.2 788.7L618.6 796.8L618.9 789.3L619.3 796.6L619.6 789.8L620 796.9L620.3 790.3L620.7 796.7L621 790.8L621.4 796.6L621.7 791.2L622.1 796.1L622.4 791.5L622.8 795.9L623.1 791.8L623.5 795.9L623.8 792.1L624.2 796.9L624.5 792.4L624.9 796.1L625.2 792.7L625.6 796.9L625.9 793.1L626.3 796.5L626.6 793.4L627 796.8L627.3 793.7L627.7 796.9L628 794L628.4 796.4L628.7 794.2L629.1 796.7L629.4 794.4L629.8 796.6L630.1 794.6L630.5 796.9L630.8 794.8L631.2 797L631.5 795L631.9 796.8L632.2 795.1L632.6 796.9L632.9 795.3L633.3 797L633.6 795.5L634 796.8L634.3 795.7L634.7 796.9" stroke="#40e0d0" stroke-width="1.0"/><path d="M595.2 760L595.7 594L596.3 760" stroke="#40e0d0" stroke-width="1.6"/><path d="M587.7 797.1L588.1 786.5L588.5 776.1L588.9 765.7L589.3 755.5L589.7 745.3L590.1 735.3L590.5 725.3L590.9 715.5L591.3 705.8L591.7 696.3L592.1 687.5L592.5 679.3L592.9 671.4L593.3 663.6L593.7 655.6L594.1 647L594.5 637.8L594.9 627.7L595.3 616.2L595.7 600.9L596.1 579.3L596.5 580.8L596.9 615.4L597.3 653.6L597.7 676.3L598.1 691.8L598.5 693.9L598.9 694.8L599.3 697.3L599.7 701.5L600.1 706.8L600.5 712.7L600.9 718.6L601.3 724.4L601.7 730.9L602.1 738L602.5 745.5L602.9 753.3L603.3 761.3L603.7 769.3L604.1 777.3L604.5 785L604.9 792.5L605.3 799.4L605.7 805.7L606.1 811.4L606.5 816.9L606.9 822.5L607.3 828.2L607.7 834L608.1 839.7L608.5 845.4L608.9 850.9L609.3 856.4L609.7 861.6L610.1 866.6L610.5 871.3L610.9 875.7L611.3 879.7L611.7 883.3L612.1 886.4L612.5 889.1L612.9 891.2L613.3 892.6L613.7 893.5L614.1 893.7L614.5 893.1L614.9 891.9L615.3 890.1L615.7 887.6L616.1 884.5L616.5 880.9L616.9 876.8L617.3 872.3L617.7 867.3L618.1 861.9L618.5 856.2L618.9 850.1L619.3 843.8L619.7 837.2L620.1 830.4L620.5 823.5L620.9 816.4L621.3 809.2L621.7 801.9L622.1 794.6L622.5 787.3L622.9 780.1L623.3 773L623.7 765.9L624.1 759L624.5 752.3L624.9 745.9L625.3 739.7L625.7 733.8L626.1 728.2L626.5 723L626.9 718.3L627.3 713.9L627.7 710.1L628.1 706.8L628.5 704L628.9 701.8L629.3 700.3L629.7 699.4L630.1 699.2L630.5 699.8L630.9 701L631.3 703L631.7 705.5L632.1 708.6L632.5 712.3L632.9 716.5L633.3 721.2L633.7 726.3L634.1 731.9L634.5 737.7L634.9 743.9L635.3 750.4L635.7 757.1L636.1 764.1L636.5 771.2L636.9 778.4L637.3 785.7L637.7 793.1L638.1 800.5L638.5 807.8L638.9 815.1L639.3 822.3L639.7 829.4L640.1 836.3L640.5 842.9L640.9 849.3L641.3 855.5L641.7 861.3L642.1 866.7L642.5 871.7L642.9 876.2L643.3 880.3L643.7 883.9L644.1 886.9L644.5 889.3L644.9 891L645.3 892.1L645.7 892.5L646.1 892.1L646.5 891.1L646.9 889.4L647.3 887L647.7 884.1L648.1 880.6L648.5 876.7L648.9 872.2L649.3 867.3L649.7 862L650.1 856.4L650.5 850.4L650.9 844.1L651.3 837.6L651.7 830.8L652.1 823.9L652.5 816.8L652.9 809.7L653.3 802.4L653.7 795.1L654.1 787.9L654.5 780.6L654.9 773.5L655.3 766.5L655.7 759.6L656.1 752.9L656.5 746.4L656.9 740.2L657.3 734.3L657.7 728.7L658.1 723.5L658.5 718.7L658.9 714.4L659.3 710.5L659.7 707.2L660.1 704.4L660.5 702.2L660.9 700.7L661.3 699.8L661.7 699.6L662.1 700.1L662.5 701.3L662.9 703L663.3 705.3L663.7 708.2L664.1 711.5L664.5 715.4L664.9 719.7L665.3 724.3L665.7 729.4L666.1 734.8L666.5 740.5L666.9 746.5L667.3 752.8L667.7 759.2L668.1 765.8L668.5 772.6L668.9 779.5L669.3 786.4L669.7 793.4L670.1 800.4L670.5 807.4L670.9 814.4L671.3 821.2L671.7 827.9L672.1 834.5L672.5 840.9L672.9 847.1L673.3 853L673.7 858.7L674.1 864L674.5 869L674.9 873.5L675.3 877.7L675.7 881.4L676.1 884.7L676.5 887.4L676.9 889.6L677.3 891.2L677.7 892.2L678.1 892.5L678.5 892.1L678.9 890.9L679.3 888.9L679.7 886.2L680.1 882.9L680.5 879L680.9 874.5L681.3 869.4L681.7 863.9L682.1 858L682.5 851.6L682.9 845L683.3 838L683.7 830.8L684.1 823.3L684.5 815.8L684.9 808.1L685.3 800.3L685.7 792.5L686.1 784.7L686.5 777L686.9 769.5L687.3 762L687.7 754.8L688.1 747.8L688.5 741.2L688.9 734.8L689.3 728.9L689.7 723.4L690.1 718.3L690.5 713.8L690.9 709.9L691.3 706.6L691.7 703.9L692.1 701.9L692.5 700.7L692.9 700.3L693.3 700.6L693.7 701.6L694.1 703.1L694.5 705.2L694.9 707.8L695.3 710.9L695.7 714.5L696.1 718.6L696.5 723L696.9 727.8L697.3 732.9L697.7 738.4L698.1 744.1L698.5 750.1L698.9 756.3L699.3 762.7L699.7 769.3L700.1 775.9L700.5 782.7L700.9 789.5L701.3 796.4L701.7 803.3L702.1 810.1L702.5 816.9L702.9 823.5L703.3 830.1L703.7 836.5L704.1 842.7L704.5 848.7L704.9 854.4L705.3 859.9L705.7 865L706.1 869.8L706.5 874.2L706.9 878.3L707.3 881.9L707.7 885L708.1 887.6L708.5 889.7L708.9 891.2L709.3 892.2L709.7 892.5L710.1 892.1L710.5 890.9L710.9 888.9L711.3 886.2L711.7 882.9L712.1 879L712.5 874.5L712.9 869.4L713.3 863.9L713.7 858L714.1 851.6L714.5 845L714.9 838L715.3 830.8L715.7 823.3L716.1 815.8L716.5 808.1L716.9 800.3L717.3 792.5L717.7 784.7L718.1 777L718.5 769.5L718.9 762L719.3 754.8L719.7 747.8L720.1 741.2L720.5 734.8L720.9 728.9L721.3 723.4L721.7 718.3L722.1 713.8L722.5 709.9L722.9 706.6L723.3 703.9L723.7 701.9L724.1 700.7L724.5 700.3L724.9 700.6L725.3 701.5L725.7 703L726.1 705L726.5 707.5L726.9 710.5L727.3 714L727.7 717.8L728.1 722.1L728.5 726.7L728.9 731.7L729.3 737L729.7 742.5L730.1 748.3L730.5 754.3L730.9 760.6L731.3 766.9L731.7 773.4L732.1 780.1L732.5 786.7L732.9 793.5L733.3 800.2L733.7 807L734.1 813.7L734.5 820.3L734.9 826.9L735.3 833.3L735.7 839.5L736.1 845.6L736.5 851.5L736.9 857.1L737.3 862.4L737.7 867.5L738.1 872.2L738.5 876.5L738.9 880.5L739.3 884.1L739.7 887.2L740.1 889.8L740.5 892L740.9 893.6L741.3 894.6L741.7 895.1L742.1 894.8L742.5 893.6L742.9 891.6L743.3 888.7L743.7 885L744.1 880.6L744.5 875.5L744.9 869.9L745.3 863.7L745.7 857L746.1 849.9L746.5 842.4L746.9 834.6L747.3 826.6L747.7 818.3L748.1 809.9L748.5 801.4L748.9 792.9L749.3 784.4L749.7 776L750.1 767.7L750.5 759.7L750.9 751.9L751.3 744.4L751.7 737.3L752.1 730.6L752.5 724.4L752.9 718.8L753.3 713.7L753.7 709.3L754.1 705.6L754.5 702.7L754.9 700.7L755.3 699.5L755.7 699.2L756.1 699.6L756.5 700.6L756.9 702.1L757.3 704.1L757.7 706.5L758.1 709.4L758.5 712.8L758.9 716.5L759.3 720.6L759.7 725L760.1 729.7L760.5 734.8L760.9 740.1L761.3 745.6L761.7 751.4L762.1 757.3L762.5 763.4L762.9 769.7L763.3 776L763.7 782.5L764.1 789L764.5 795.6L764.9 802.1L765.3 808.7L765.7 815.2L766.1 821.7L766.5 828L766.9 834.3L767.3 840.4L767.7 846.3L768.1 852.1L768.5 857.6L768.9 862.9L769.3 868L769.7 872.7L770.1 877.1L770.5 881.2L770.9 884.9L771.3 888.3L771.7 891.2L772.1 893.6L772.5 895.6L772.9 897.1L773.3 898.1L773.7 898.5L774.1 898.2L774.5 896.7L774.9 894.1L775.3 890.5L775.7 886L776.1 880.6L776.5 874.4L776.9 867.5L777.3 860L777.7 851.9L778.1 843.4L778.5 834.5L778.9 825.3L779.3 815.8L779.7 806.2L780.1 796.6L780.5 786.9L780.9 777.4L781.3 768L781.7 758.8L782.1 750L782.5 741.6L782.9 733.7L783.3 726.3L783.7 719.6L784.1 713.6L784.5 708.4L784.9 704.1L785.3 700.8L785.7 698.4L786.1 697.3L786.5 697.2L786.9 697.7L787.3 698.7L787.7 700.2L788.1 702.2L788.5 704.6L788.9 707.4L789.3 710.5L789.7 714.1L790.1 718L790.5 722.2L790.9 726.8L791.3 731.6L791.7 736.6L792.1 741.9L792.5 747.5L792.9 753.2L793.3 759L793.7 765.1L794.1 771.2L794.5 777.4L794.9 783.8L795.3 790.2L795.7 796.6L796.1 803L796.5 809.4L796.9 815.8L797.3 822.2L797.7 828.4L798.1 834.6L798.5 840.7L798.9 846.6L799.3 852.3L799.7 857.9L800.1 863.2L800.5 868.4L800.9 873.3L801.3 877.9L801.7 882.2L802.1 886.1L802.5 889.8L802.9 893.1L803.3 896L803.7 898.5L804.1 900.5L804.5 902.2L804.9 903.3L805.3 904L805.7 904.1L806.1 903L806.5 900.6L806.9 897L807.3 892.2L807.7 886.4L808.1 879.6L808.5 872L808.9 863.7L809.3 854.7L809.7 845.2L810.1 835.3L810.5 824.9L810.9 814.4L811.3 803.7L811.7 792.9L812.1 782.2L812.5 771.7L812.9 761.3L813.3 751.4L813.7 741.9L814.1 732.9L814.5 724.6L814.9 717L815.3 710.2L815.7 704.4L816.1 699.6L816.5 696L816.9 693.6L817.3 692.5L817.7 692.7L818.1 693.3L818.5 694.5L818.9 696.2L819.3 698.3L819.7 700.9L820.1 703.9L820.5 707.2L820.9 711L821.3 715.1L821.7 719.6L822.1 724.3L822.5 729.4L822.9 734.7L823.3 740.2L823.7 746L824.1 751.9L824.5 758.1L824.9 764.4L825.3 770.8L825.7 777.3L826.1 783.9L826.5 790.6L826.9 797.3L827.3 804L827.7 810.7L828.1 817.4L828.5 824L828.9 830.6L829.3 837.1L829.7 843.4L830.1 849.6L830.5 855.7L830.9 861.5L831.3 867.2L831.7 872.6L832.1 877.8L832.5 882.7L832.9 887.3L833.3 891.6L833.7 895.5L834.1 899.1L834.5 902.3L834.9 905.1L835.3 907.4L835.7 909.3L836.1 910.8L836.5 911.7L836.9 912.1L837.3 911.6L837.7 909.5L838.1 905.9L838.5 900.9L838.9 894.6L839.3 887.1L839.7 878.6L840.1 869.3L840.5 859.1L840.9 848.3L841.3 837L841.7 825.2L842.1 813.3L842.5 801.1L842.9 789L843.3 776.9L843.7 765.1L844.1 753.7L844.5 742.7L844.9 732.4L845.3 722.8L845.7 714.1L846.1 706.4L846.5 699.8L846.9 694.4L847.3 690.4L847.7 688L848.1 687.1L848.5 687.9L848.9 690.3L849.3 694.1L849.7 699L850.1 704.8L850.5 711.4L850.9 718.6L851.3 726.1L851.7 733.7L852.1 741.2L852.5 748.5L852.9 755.3L853.3 761.5L853.7 766.7L854.1 771L854.5 774.7L854.9 778.2L855.3 781.3L855.7 784.2L856.1 786.6L856.5 788.5L856.9 790.1L857.3 791.6L857.7 793.4L858.1 795.6L858.5 798.5L858.9 802.1L859.3 806.3L859.7 811.1L860.1 816.3L860.5 822L860.9 828L861.3 834.2L861.7 840.7L862.1 847.4L862.5 854.2L862.9 861L863.3 867.7L863.7 874.4L864.1 880.8L864.5 887.1L864.9 893.1L865.3 898.7L865.7 903.9L866.1 908.6L866.5 912.8L866.9 916.3L867.3 919.2L867.7 921.3L868.1 922.6L868.5 923.1L868.9 922L869.3 918.8L869.7 913.8L870.1 907L870.5 898.6L870.9 888.9L871.3 878L871.7 866.1L872.1 853.4L872.5 840L872.9 826.1L873.3 811.9L873.7 797.5L874.1 783.2L874.5 769.1L874.9 755.5L875.3 742.4L875.7 730L876.1 718.6L876.5 708.3L876.9 699.2L877.3 691.6L877.7 685.7L878.1 681.5L878.5 679.4L878.9 679.3L879.3 680.8L879.7 683.7L880.1 687.8L880.5 692.9L880.9 699L881.3 705.8L881.7 713.2L882.1 721.1L882.5 729.2L882.9 737.5L883.3 745.9L883.7 754L884.1 761.9L884.5 769.3L884.9 776.1L885.3 782.2L885.7 787.3L886.1 791.4L886.5 794.3L886.9 795.8L887.3 795.9L887.7 795.5L888.1 794.8L888.5 793.8L888.9 792.9L889.3 792L889.7 791.4L890.1 791.2L890.5 791.9L890.9 794.1L891.3 797.5L891.7 802L892.1 807.6L892.5 814L892.9 821.2L893.3 829L893.7 837.4L894.1 846.1L894.5 855.1L894.9 864.1L895.3 873.2L895.7 882.2L896.1 890.9L896.5 899.3L896.9 907.1L897.3 914.3L897.7 920.7L898.1 926.3L898.5 930.8L898.9 934.2L899.3 936.4L899.7 937.1L900.1 935.8L900.5 932.2L900.9 926.4L901.3 918.6L901.7 909.1L902.1 898.1L902.5 885.6L902.9 872.1L903.3 857.6L903.7 842.4L904.1 826.7L904.5 810.7L904.9 794.5L905.3 778.5L905.7 762.8L906.1 747.6L906.5 733.1L906.9 719.6L907.3 707.1L907.7 696.1L908.1 686.6L908.5 678.8L908.9 673L909.3 669.4L909.7 668.1L910.1 669.1L910.5 672.1L910.9 676.7L911.3 682.9L911.7 690.3L912.1 698.8L912.5 708.1L912.9 718L913.3 728.4L913.7 739L914.1 749.7L914.5 760.1L914.9 770L915.3 779.3L915.7 787.8L916.1 795.2L916.5 801.4L916.9 806L917.3 809L917.7 810L918.1 809.3L918.5 807.4L918.9 804.6L919.3 801L919.7 797.1L920.1 793.1L920.5 789.2L920.9 785.6L921.3 782.8L921.7 780.9L922.1 780.2L922.5 781.3L922.9 784.4L923.3 789.4L923.7 796L924.1 804.1L924.5 813.3L924.9 823.5L925.3 834.5L925.7 846.1L926.1 858.1L926.5 870.2L926.9 882.3L927.3 894.1L927.7 905.5L928.1 916.1L928.5 925.9L928.9 934.5L929.3 941.9L929.7 947.7L930.1 951.8L930.5 953.9L930.9 953.8L931.3 950.7L931.7 944.9L932.1 936.5L932.5 925.9L932.9 913.2L933.3 898.9L933.7 883.1L934.1 866.1L934.5 848.2L934.9 829.6L935.3 810.7L935.7 791.7L936.1 772.9L936.5 754.5L936.9 736.8L937.3 720.1L937.7 704.6L938.1 690.6L938.5 678.5L938.9 668.4L939.3 660.6L939.7 655.4L940.1 653.1L940.5 653.7L940.9 656.8L941.3 662L941.7 669.1L942.1 677.9L942.5 688.1L942.9 699.3L943.3 711.5L943.7 724.2L944.1 737.2L944.5 750.3L944.9 763.2L945.3 775.7L945.7 787.4L946.1 798.2L946.5 807.7L946.9 815.6L947.3 821.9L947.7 826L948.1 827.9L948.5 827.3L948.9 824.7L949.3 820.2L949.7 814.4L950.1 807.7L950.5 800.4L950.9 792.8L951.3 785.5L951.7 778.8L952.1 773L952.5 768.5L952.9 765.9L953.3 765.3L953.7 767.2L954.1 771.6L954.5 778.1L954.9 786.6L955.3 796.6L955.7 808.1L956.1 820.7L956.5 834.2L956.9 848.4L957.3 862.9L957.7 877.5L958.1 892L958.5 906.2L958.9 919.7L959.3 932.3L959.7 943.8L960.1 953.8L960.5 962.3L960.9 968.8L961.3 973.2L961.7 975.1L962.1 974L962.5 969.1L962.9 960.6L963.3 948.9L963.7 934.5L964.1 917.6L964.5 898.8L964.9 878.3L965.3 856.6L965.7 834L966.1 810.9L966.5 787.7L966.9 764.9L967.3 742.6L967.7 721.5L968.1 701.8L968.5 683.9L968.9 668.2L969.3 655.1L969.7 644.9L970.1 638.2L970.5 635.1L970.9 635.9L971.3 639.7L971.7 646.1L972.1 654.9L972.5 665.8L972.9 678.3L973.3 692.2L973.7 707.2L974.1 722.9L974.5 739L974.9 755.2L975.3 771.1L975.7 786.5L976.1 801L976.5 814.2L976.9 826L977.3 835.8L977.7 843.5L978.1 848.7L978.5 851L978.9 850.2L979.3 846.6L979.7 840.5L980.1 832.5L980.5 823L980.9 812.5L981.3 801.4L981.7 790.2L982.1 779.3L982.5 769.3L982.9 760.4L983.3 753.4L983.7 748.5L984.1 746.2L984.5 747.1L984.9 751.6L985.3 759.2L985.7 769.6L986.1 782.4L986.5 797.2L986.9 813.7L987.3 831.3L987.7 849.9L988.1 868.9L988.5 888L988.9 906.8L989.3 924.9L989.7 942L990.1 957.7L990.5 971.5L990.9 983.2L991.3 992.2L991.7 998.3L992.1 1001.1L992.5 999.9L992.9 994.5L993.3 985.2L993.7 972.4L994.1 956.6L994.5 938.1L994.9 917.3L995.3 894.8L995.7 870.7L996.1 845.7L996.5 820L996.9 794.2L997.3 768.5L997.7 743.5L998.1 719.4L998.5 696.9L998.9 676.1L999.3 657.6L999.7 641.8L1000.1 629L1000.5 619.7L1000.9 614.3L1001.3 613L1001.7 613.4L1002.1 614.4L1002.5 616L1002.9 618.4L1003.3 621.7L1003.7 625.9L1004.1 631.1L1004.5 637.5L1004.9 645.2L1005.3 654.2L1005.7 664.6L1006.1 676.5L1006.5 690" stroke="#ff0000" stroke-width="2.0"/><path d="M587.7 797.1L588.1 797.1L588.5 797.1L588.9 797.1L589.3 797.1L589.7 797.1L590.1 797.1L590.5 797.1L590.9 797.1L591.3 797.1L591.7 797.1L592.1 797.1L592.5 797.1L592.9 797.1L593.3 797.2L593.7 797.2L594.1 797.3L594.5 797.3L594.9 797.4L595.3 797.5L595.7 797.5L596.1 797.6L596.5 797.7L596.9 797.8L597.3 797.8L597.7 797.9L598.1 798L598.5 798L598.9 798L599.3 798.1L599.7 798.1L600.1 798.1L600.5 798L600.9 797.8L601.3 797.5L601.7 797.2L602.1 796.9L602.5 796.5L602.9 796.2L603.3 795.9L603.7 795.6L604.1 795.5L604.5 795.4L604.9 795.2L605.3 795.1L605.7 795L606.1 794.9L606.5 794.9L606.9 794.8L607.3 794.8L607.7 794.8L608.1 794.8L608.5 794.8L608.9 794.8L609.3 794.8L609.7 794.8L610.1 794.9L610.5 794.9L610.9 794.9L611.3 794.9L611.7 795L612.1 795L612.5 795L612.9 795L613.3 795.1L613.7 795.1L614.1 795.1L614.5 795.2L614.9 795.2L615.3 795.2L615.7 795.2L616.1 795.3L616.5 795.3L616.9 795.3L617.3 795.4L617.7 795.4L618.1 795.4L618.5 795.4L618.9 795.5L619.3 795.5L619.7 795.5L620.1 795.5L620.5 795.5L620.9 795.5L621.3 795.5L621.7 795.6L622.1 795.6L622.5 795.6L622.9 795.6L623.3 795.6L623.7 795.6L624.1 795.6L624.5 795.7L624.9 795.7L625.3 795.7L625.7 795.7L626.1 795.7L626.5 795.7L626.9 795.7L627.3 795.8L627.7 795.8L628.1 795.8L628.5 795.8L628.9 795.8L629.3 795.8L629.7 795.8L630.1 795.8L630.5 795.8L630.9 795.9L631.3 795.9L631.7 795.9L632.1 795.9L632.5 795.9L632.9 795.9L633.3 795.9L633.7 795.9L634.1 795.9L634.5 795.9L634.9 795.9L635.3 795.9L635.7 795.9L636.1 795.8L636.5 795.7L636.9 795.6L637.3 795.4L637.7 795.2L638.1 794.9L638.5 794.7L638.9 794.4L639.3 794.2L639.7 793.9L640.1 793.6L640.5 793.4L640.9 793.2L641.3 793L641.7 792.8L642.1 792.7L642.5 792.6L642.9 792.6L643.3 792.6L643.7 792.7L644.1 792.7L644.5 792.8L644.9 793L645.3 793.1L645.7 793.3L646.1 793.4L646.5 793.6L646.9 793.8L647.3 794L647.7 794.2L648.1 794.4L648.5 794.6L648.9 794.8L649.3 795L649.7 795.2L650.1 795.4L650.5 795.5L650.9 795.6L651.3 795.7L651.7 795.8L652.1 795.9L652.5 795.9L652.9 795.9L653.3 795.8L653.7 795.7L654.1 795.6L654.5 795.4L654.9 795.3L655.3 795.1L655.7 794.9L656.1 794.6L656.5 794.4L656.9 794.3L657.3 794.1L657.7 793.9L658.1 793.8L658.5 793.7L658.9 793.7L659.3 793.7L659.7 793.8L660.1 794L660.5 794.3L660.9 794.6L661.3 795L661.7 795.4L662.1 795.7L662.5 796.2L662.9 796.5L663.3 796.9L663.7 797.3L664.1 797.5L664.5 797.8L664.9 797.9L665.3 798L665.7 798L666.1 797.9L666.5 797.7L666.9 797.4L667.3 797.1L667.7 796.7L668.1 796.2L668.5 795.8L668.9 795.3L669.3 794.8L669.7 794.3L670.1 793.7L670.5 793.2L670.9 792.7L671.3 792.3L671.7 791.8L672.1 791.4L672.5 791.1L672.9 790.8L673.3 790.6L673.7 790.5L674.1 790.5L674.5 790.6L674.9 790.8L675.3 791.1L675.7 791.5L676.1 791.9L676.5 792.4L676.9 792.9L677.3 793.5L677.7 794.1L678.1 794.7L678.5 795.3L678.9 795.8L679.3 796.4L679.7 796.8L680.1 797.2L680.5 797.6L680.9 797.8L681.3 798L681.7 798L682.1 797.9L682.5 797.7L682.9 797.5L683.3 797.1L683.7 796.8L684.1 796.3L684.5 795.8L684.9 795.3L685.3 794.8L685.7 794.3L686.1 793.8L686.5 793.3L686.9 792.8L687.3 792.4L687.7 792.1L688.1 791.8L688.5 791.6L688.9 791.5L689.3 791.5L689.7 791.7L690.1 791.9L690.5 792.3L690.9 792.7L691.3 793.3L691.7 793.9L692.1 794.5L692.5 795.2L692.9 795.9L693.3 796.6L693.7 797.3L694.1 798L694.5 798.7L694.9 799.3L695.3 799.8L695.7 800.3L696.1 800.7L696.5 801L696.9 801.2L697.3 801.2L697.7 801.1L698.1 800.7L698.5 800.3L698.9 799.7L699.3 799L699.7 798.2L700.1 797.3L700.5 796.4L700.9 795.5L701.3 794.5L701.7 793.5L702.1 792.6L702.5 791.7L702.9 790.9L703.3 790.1L703.7 789.5L704.1 789L704.5 788.6L704.9 788.4L705.3 788.3L705.7 788.4L706.1 788.7L706.5 789.1L706.9 789.6L707.3 790.2L707.7 790.9L708.1 791.7L708.5 792.5L708.9 793.4L709.3 794.3L709.7 795.2L710.1 796.1L710.5 797L710.9 797.8L711.3 798.6L711.7 799.3L712.1 799.9L712.5 800.4L712.9 800.8L713.3 801.1L713.7 801.2L714.1 801.1L714.5 800.9L714.9 800.5L715.3 800L715.7 799.3L716.1 798.6L716.5 797.7L716.9 796.8L717.3 795.9L717.7 794.9L718.1 794L718.5 793.1L718.9 792.3L719.3 791.5L719.7 790.8L720.1 790.2L720.5 789.8L720.9 789.5L721.3 789.4L721.7 789.5L722.1 789.9L722.5 790.5L722.9 791.3L723.3 792.2L723.7 793.3L724.1 794.5L724.5 795.7L724.9 797L725.3 798.3L725.7 799.5L726.1 800.7L726.5 801.9L726.9 802.9L727.3 803.8L727.7 804.6L728.1 805.1L728.5 805.4L728.9 805.5L729.3 805.3L729.7 804.8L730.1 804.2L730.5 803.3L730.9 802.3L731.3 801.1L731.7 799.8L732.1 798.4L732.5 797L732.9 795.5L733.3 794L733.7 792.5L734.1 791.1L734.5 789.7L734.9 788.4L735.3 787.2L735.7 786.2L736.1 785.3L736.5 784.7L736.9 784.2L737.3 784L737.7 784.1L738.1 784.6L738.5 785.5L738.9 786.6L739.3 788L739.7 789.6L740.1 791.3L740.5 793.2L740.9 795.1L741.3 797L741.7 798.8L742.1 800.6L742.5 802.2L742.9 803.7L743.3 804.9L743.7 805.8L744.1 806.4L744.5 806.6L744.9 806.4L745.3 806L745.7 805.3L746.1 804.3L746.5 803.2L746.9 801.9L747.3 800.4L747.7 798.9L748.1 797.3L748.5 795.6L748.9 794L749.3 792.4L749.7 790.9L750.1 789.5L750.5 788.2L750.9 787.1L751.3 786.2L751.7 785.6L752.1 785.2L752.5 785.1L752.9 785.4L753.3 786L753.7 787L754.1 788.2L754.5 789.7L754.9 791.3L755.3 793.1L755.7 795.1L756.1 797L756.5 799.1L756.9 801.1L757.3 803L757.7 804.9L758.1 806.6L758.5 808.2L758.9 809.5L759.3 810.6L759.7 811.4L760.1 811.9L760.5 812L760.9 811.6L761.3 810.9L761.7 809.8L762.1 808.3L762.5 806.6L762.9 804.7L763.3 802.5L763.7 800.3L764.1 797.9L764.5 795.6L764.9 793.2L765.3 790.8L765.7 788.6L766.1 786.5L766.5 784.6L766.9 783L767.3 781.6L767.7 780.6L768.1 779.9L768.5 779.7L768.9 780L769.3 780.8L769.7 782L770.1 783.6L770.5 785.5L770.9 787.7L771.3 790.2L771.7 792.7L772.1 795.4L772.5 798L772.9 800.6L773.3 803.2L773.7 805.5L774.1 807.7L774.5 809.5L774.9 811.1L775.3 812.2L775.7 812.8L776.1 813L776.5 812.6L776.9 811.8L777.3 810.5L777.7 808.9L778.1 807L778.5 804.8L778.9 802.5L779.3 800.1L779.7 797.5L780.1 795L780.5 792.5L780.9 790.1L781.3 787.9L781.7 785.8L782.1 784.1L782.5 782.6L782.9 781.6L783.3 780.9L783.7 780.8L784.1 781.2L784.5 782.1L784.9 783.5L785.3 785.2L785.7 787.3L786.1 789.7L786.5 792.2L786.9 794.9L787.3 797.8L787.7 800.6L788.1 803.5L788.5 806.2L788.9 808.9L789.3 811.3L789.7 813.6L790.1 815.5L790.5 817L790.9 818.2L791.3 818.8L791.7 819L792.1 818.5L792.5 817.4L792.9 815.8L793.3 813.8L793.7 811.4L794.1 808.6L794.5 805.6L794.9 802.4L795.3 799.1L795.7 795.8L796.1 792.4L796.5 789.2L796.9 786.1L797.3 783.2L797.7 780.6L798.1 778.3L798.5 776.5L798.9 775.2L799.3 774.4L799.7 774.2L800.1 774.8L800.5 775.9L800.9 777.7L801.3 779.9L801.7 782.6L802.1 785.5L802.5 788.8L802.9 792.2L803.3 795.8L803.7 799.4L804.1 803L804.5 806.4L804.9 809.7L805.3 812.6L805.7 815.3L806.1 817.5L806.5 819.3L806.9 820.4L807.3 821L807.7 820.8L808.1 819.9L808.5 818.4L808.9 816.3L809.3 813.8L809.7 810.8L810.1 807.6L810.5 804.1L810.9 800.5L811.3 796.9L811.7 793.2L812.1 789.7L812.5 786.4L812.9 783.3L813.3 780.5L813.7 778.2L814.1 776.4L814.5 775.2L814.9 774.6L815.3 774.8L815.7 775.8L816.1 777.4L816.5 779.5L816.9 782.2L817.3 785.3L817.7 788.7L818.1 792.4L818.5 796.3L818.9 800.3L819.3 804.3L819.7 808.2L820.1 812L820.5 815.6L820.9 818.9L821.3 821.8L821.7 824.2L822.1 826.1L822.5 827.4L822.9 828L823.3 827.7L823.7 826.7L824.1 824.9L824.5 822.4L824.9 819.3L825.3 815.8L825.7 811.9L826.1 807.7L826.5 803.3L826.9 798.7L827.3 794.2L827.7 789.7L828.1 785.4L828.5 781.3L828.9 777.6L829.3 774.3L829.7 771.5L830.1 769.3L830.5 767.9L830.9 767.2L831.3 767.5L831.7 768.8L832.1 770.9L832.5 773.8L832.9 777.4L833.3 781.5L833.7 786.1L834.1 790.9L834.5 795.9L834.9 801L835.3 806.1L835.7 811L836.1 815.6L836.5 819.8L836.9 823.5L837.3 826.6L837.7 829L838.1 830.5L838.5 831L838.9 830.5L839.3 829L839.7 826.7L840.1 823.6L840.5 819.9L840.9 815.7L841.3 811.1L841.7 806.2L842.1 801.2L842.5 796L842.9 791L843.3 786.1L843.7 781.5L844.1 777.3L844.5 773.6L844.9 770.5L845.3 768.2L845.7 766.7L846.1 766.2L846.5 766.7L846.9 768.2L847.3 770.6L847.7 773.8L848.1 777.6L848.5 781.9L848.9 786.7L849.3 791.8L849.7 797.2L850.1 802.6L850.5 808L850.9 813.4L851.3 818.5L851.7 823.3L852.1 827.6L852.5 831.4L852.9 834.6L853.3 837L853.7 838.5L854.1 839L854.5 838.4L854.9 836.7L855.3 834.1L855.7 830.5L856.1 826.3L856.5 821.4L856.9 816.1L857.3 810.4L857.7 804.4L858.1 798.4L858.5 792.3L858.9 786.3L859.3 780.6L859.7 775.3L860.1 770.4L860.5 766.2L860.9 762.6L861.3 760L861.7 758.3L862.1 757.7L862.5 758.4L862.9 760.3L863.3 763.4L863.7 767.5L864.1 772.3L864.5 777.9L864.9 783.9L865.3 790.4L865.7 797L866.1 803.8L866.5 810.4L866.9 816.9L867.3 822.9L867.7 828.5L868.1 833.3L868.5 837.4L868.9 840.5L869.3 842.4L869.7 843.1L870.1 842.4L870.5 840.3L870.9 837L871.3 832.8L871.7 827.6L872.1 821.8L872.5 815.5L872.9 808.8L873.3 801.8L873.7 794.9L874.1 788L874.5 781.5L874.9 775.4L875.3 769.9L875.7 765.2L876.1 761.4L876.5 758.7L876.9 757.3L877.3 757.3L877.7 758.6L878.1 761.2L878.5 764.9L878.9 769.5L879.3 774.9L879.7 780.9L880.1 787.5L880.5 794.4L880.9 801.5L881.3 808.7L881.7 815.8L882.1 822.7L882.5 829.3L882.9 835.3L883.3 840.7L883.7 845.3L884.1 849L884.5 851.6L884.9 852.9L885.3 852.9L885.7 851.4L886.1 848.5L886.5 844.5L886.9 839.4L887.3 833.4L887.7 826.7L888.1 819.4L888.5 811.8L888.9 803.9L889.3 795.9L889.7 788L890.1 780.4L890.5 773.1L890.9 766.4L891.3 760.4L891.7 755.3L892.1 751.3L892.5 748.4L892.9 746.9L893.3 746.9L893.7 748.8L894.1 752.3L894.5 757.2L894.9 763.3L895.3 770.4L895.7 778.3L896.1 786.8L896.5 795.6L896.9 804.7L897.3 813.6L897.7 822.3L898.1 830.5L898.5 838.1L898.9 844.7L899.3 850.3L899.7 854.5L900.1 857.2L900.5 858.1L900.9 857.2L901.3 854.6L901.7 850.5L902.1 845.1L902.5 838.6L902.9 831.3L903.3 823.2L903.7 814.6L904.1 805.8L904.5 796.8L904.9 788L905.3 779.4L905.7 771.3L906.1 764L906.5 757.5L906.9 752.1L907.3 748L907.7 745.4L908.1 744.5L908.5 745.4L908.9 748L909.3 752.1L909.7 757.5L910.1 764.1L910.5 771.5L910.9 779.8L911.3 788.6L911.7 797.7L912.1 807.1L912.5 816.5L912.9 825.6L913.3 834.4L913.7 842.7L914.1 850.1L914.5 856.7L914.9 862.1L915.3 866.2L915.7 868.8L916.1 869.7L916.5 868.6L916.9 865.5L917.3 860.6L917.7 854.2L918.1 846.4L918.5 837.6L918.9 827.9L919.3 817.7L919.7 807.1L920.1 796.3L920.5 785.7L920.9 775.5L921.3 765.8L921.7 757L922.1 749.2L922.5 742.8L922.9 737.9L923.3 734.8L923.7 733.7L924.1 734.7L924.5 737.7L924.9 742.4L925.3 748.5L925.7 755.9L926.1 764.5L926.5 773.8L926.9 783.8L927.3 794.3L927.7 804.9L928.1 815.5L928.5 826L928.9 836L929.3 845.3L929.7 853.8L930.1 861.3L930.5 867.4L930.9 872.1L931.3 875.1L931.7 876.1L932.1 874.9L932.5 871.5L932.9 866.1L933.3 859L933.7 850.5L934.1 840.8L934.5 830.2L934.9 819L935.3 807.5L935.7 795.8L936.1 784.3L936.5 773.2L936.9 762.9L937.3 753.5L937.7 745.3L938.1 738.6L938.5 733.7L938.9 730.8L939.3 730.2L939.7 731.9L940.1 735.7L940.5 741.4L940.9 748.7L941.3 757.3L941.7 767.1L942.1 777.8L942.5 789.2L942.9 800.9L943.3 812.9L943.7 824.8L944.1 836.4L944.5 847.4L944.9 857.7L945.3 867L945.7 875L946.1 881.5L946.5 886.2L946.9 889L947.3 889.6L947.7 887.6L948.1 883L948.5 876.3L948.9 867.7L949.3 857.6L949.7 846.1L950.1 833.7L950.5 820.6L950.9 807.1L951.3 793.5L951.7 780.2L952.1 767.4L952.5 755.4L952.9 744.6L953.3 735.2L953.7 727.5L954.1 721.8L954.5 718.5L954.9 717.8L955.3 720.1L955.7 725.1L956.1 732.4L956.5 741.9L956.9 753L957.3 765.6L957.7 779.1L958.1 793.3L958.5 807.9L958.9 822.5L959.3 836.7L959.7 850.2L960.1 862.8L960.5 873.9L960.9 883.4L961.3 890.7L961.7 895.7L962.1 898L962.5 897.3L962.9 893.7L963.3 887.6L963.7 879.3L964.1 869.2L964.5 857.5L964.9 844.6L965.3 830.9L965.7 816.5L966.1 801.9L966.5 787.4L966.9 773.4L967.3 760L967.7 747.7L968.1 736.7L968.5 727.5L968.9 720.3L969.3 715.4L969.7 713.2L970.1 713.9L970.5 717.4L970.9 723.5L971.3 731.6L971.7 741.7L972.1 753.4L972.5 766.3L972.9 780.3L973.3 794.9L973.7 809.8L974.1 824.9L974.5 839.7L974.9 854L975.3 867.5L975.7 879.8L976.1 890.7L976.5 899.9L976.9 907L977.3 911.8L977.7 914L978.1 913.2L978.5 909.2L978.9 902.4L979.3 893.2L979.7 881.9L980.1 868.8L980.5 854.4L980.9 838.9L981.3 822.7L981.7 806.1L982.1 789.5L982.5 773.3L982.9 757.8L983.3 743.4L983.7 730.3L984.1 719L984.5 709.8L984.9 703L985.3 699L985.7 698.2L986.1 700.9L986.5 706.9L986.9 715.7L987.3 727L987.7 740.4L988.1 755.5L988.5 771.8L988.9 789.1L989.3 806.8L989.7 824.7L990.1 842.2L990.5 859.1L990.9 874.8L991.3 889.1L991.7 901.5L992.1 911.6L992.5 919.1L992.9 923.5L993.3 924.4L993.7 921.5L994.1 915L994.5 905.5L994.9 893.3L995.3 879L995.7 862.8L996.1 845.4L996.5 827.1L996.9 808.3L997.3 789.5L997.7 771.2L998.1 753.8L998.5 737.6L998.9 723.3L999.3 711.1L999.7 701.6L1000.1 695.1L1000.5 692.2L1000.9 692.2L1001.3 692.5L1001.7 693.2L1002.1 694.3L1002.5 696L1002.9 698.3L1003.3 701.3L1003.7 705L1004.1 709.6L1004.5 715.2L1004.9 721.8L1005.3 729.5L1005.7 738.3L1006.1 748.5L1006.5 760" stroke="#0000ff" stroke-width="2.2"/><path d="M590.5 796L590.8 795.5L591 795L591.2 794.5L591.5 794L591.8 793.5L592 793L592.2 792.5L592.5 792L592.8 791.6L593 791.2L593.2 790.9L593.5 790.5L593.8 790.1L594 789.8L594.2 789.4L594.5 789L594.8 789L595 789L595.2 789L595.5 789L595.8 789L596 789L596.2 789L596.5 789L596.8 789.4L597 789.8L597.2 790.1L597.5 790.5L597.8 790.9L598 791.2L598.2 791.6L598.5 792L598.8 792.2L599 792.5L599.2 792.8L599.5 793L599.8 793.2L600 793.5L600.2 793.8L600.5 794L600.8 794.2L601 794.5L601.2 794.8L601.5 795L601.8 795.2L602 795.5L602.2 795.8L602.2 801.2L602 802.5L601.8 803.8L601.5 805L601.2 806.2L601 807.5L600.8 808.8L600.5 810L600.2 811.5L600 813L599.8 814.5L599.5 816L599.2 817.5L599 819L598.8 820.5L598.5 822L598.2 823L598 824L597.8 825L597.5 826L597.2 827L597 828L596.8 829L596.5 830L596.2 829.5L596 829L595.8 828.5L595.5 828L595.2 827.5L595 827L594.8 826.5L594.5 826L594.2 824.2L594 822.5L593.8 820.8L593.5 819L593.2 817.2L593 815.5L592.8 813.8L592.5 812L592.2 810.4L592 808.8L591.8 807.1L591.5 805.5L591.2 803.9L591 802.2L590.8 800.6L590.5 799Z" fill="#0000ff" stroke="none"/><path d="M590.5 796L590.7 800.4L591 795.2L591.2 803.3L591.4 793.4L591.6 806.6L591.9 792.9L592.1 808.9L592.3 791.9L592.5 811.2L592.8 793.1L593 816.8L593.2 792.8L593.5 820.7L593.7 788.8L593.9 823.2L594.1 791.8L594.4 823.5L594.6 787L594.8 826.3L595 788.3L595.3 825.4L595.5 790.8L595.7 828.4L596 787.4L596.2 829.6L596.4 791.4L596.6 831.7L596.9 791.7L597.1 827.3L597.3 789.8L597.5 824.9L597.8 791.3L598 825.9L598.2 791.8L598.5 822.4L598.7 790.2L598.9 818.6L599.1 791.1L599.4 816.3L599.6 793.7L599.8 815.3L600 794.8L600.3 812.3L600.5 793.2L600.7 809.7L601 795.3L601.2 806.1L601.4 794.5L601.6 804.2L601.9 795.9L602.1 802.2L602.3 795.6" stroke="#0000ff" stroke-width="0.9"/><path d="M595.8 640.2L596.1 760L596.4 974.2L596.8 820" stroke="#0000ff" stroke-width="1.6"/></g>
<g clip-path="url(#c5)" fill="none" stroke-linejoin="round" stroke-linecap="round"><path d="M1108.5 834.5L1108.8 836.2L1109.2 838L1109.5 839.7L1109.9 841.3L1110.2 842.8L1110.6 844.2L1110.9 845.4L1111.3 846.5L1111.6 847.3L1112 847.8L1112.3 848.1L1112.7 848.3L1113 848.5L1113.4 848.7L1113.7 848.9L1114.1 849.1L1114.4 849.2L1114.8 849.4L1115.1 849.5L1115.5 849.6L1115.8 849.7L1116.2 849.8L1116.5 849.9L1116.9 849.9L1117.2 850L1117.6 850L1117.9 850L1118.3 849.9L1118.6 849.7L1119 849.3L1119.3 848.8L1119.7 848.1L1120 847.3L1120.4 846.5L1120.7 845.6L1121.1 844.7L1121.4 843.7L1121.8 842.8L1122.1 841.9L1122.5 841L1122.8 840.1L1123.2 839.4L1123.5 838.7L1123.9 838.1L1124.2 837.7L1124.6 837.3L1124.9 836.9L1125.3 836.5L1125.6 836.1L1126 835.8L1126.3 835.5L1126.7 835.2L1127 836.2L1127.4 834.8L1127.7 833.4L1128.1 832.1L1128.4 830.9L1128.8 829.9L1129.1 829.3L1129.5 828.9L1129.8 829L1130.2 829.3L1130.5 830L1130.9 831L1131.2 832.2L1131.6 833.6L1131.9 835L1132.3 836.4L1132.6 837.7L1133 838.8L1133.3 839.6L1133.7 840.2L1134 840.4L1134.4 840.3L1134.7 839.8L1135.1 839.1L1135.4 838.2L1135.8 837.1L1136.1 835.9L1136.5 834.7L1136.8 833.6L1137.2 832.6L1137.5 831.8L1137.9 831.2L1138.2 830.9L1138.6 830.8L1138.9 831L1139.3 831.4L1139.6 832L1140 832.7L1140.3 833.5L1140.7 834.3L1141 835.1L1141.4 835.8L1141.7 836.4L1142.1 836.8L1142.4 837L1142.8 837.1L1143.1 837.1L1143.5 836.9L1143.8 836.7L1144.2 836.4L1144.5 836.1L1144.9 835.8L1145.2 835.5L1145.6 835.3L1145.9 835.2L1146.3 835.2L1146.6 835.3L1147 835.4L1147.3 835.5L1147.7 835.6L1148 835.7L1148.4 835.7L1148.7 835.7L1149.1 835.5L1149.4 835.2L1149.8 834.8L1150.1 834.4L1150.5 833.9L1150.8 833.3L1151.2 832.8L1151.5 832.4L1151.9 832.1L1152.2 832L1152.6 832.1L1152.9 832.4L1153.3 832.9L1153.6 833.6L1154 834.5L1154.3 835.5L1154.7 836.6L1155 837.7L1155.4 838.8L1155.7 839.6L1156.1 840.3L1156.4 840.7L1156.8 840.8L1157.1 840.5L1157.5 839.9L1157.8 839L1158.2 837.8L1158.5 836.4L1158.9 834.9L1159.2 833.3L1159.6 831.8L1159.9 830.5L1160.3 829.4L1160.6 828.6L1161 828.2L1161.3 828.2L1161.7 828.7L1162 829.6L1162.4 830.8L1162.7 832.3L1163.1 834L1163.4 835.9L1163.8 837.7L1164.1 839.4L1164.5 840.9L1164.8 842.1L1165.2 842.8L1165.5 843.2L1165.9 843L1166.2 842.5L1166.6 841.5L1166.9 840.1L1167.3 838.5L1167.6 836.7L1168 834.9L1168.3 833.1L1168.7 831.5L1169 830.1L1169.4 829.1L1169.7 828.4L1170.1 828.2L1170.4 828.4L1170.8 829L1171.1 830L1171.5 831.3L1171.8 832.7L1172.2 834.3L1172.5 835.9L1172.9 837.4L1173.2 838.7L1173.6 839.7L1173.9 840.5L1174.3 841L1174.6 841.1L1175 840.9L1175.3 840.4L1175.7 839.6L1176 838.7L1176.4 837.7L1176.7 836.6L1177.1 835.6L1177.4 834.7L1177.8 833.9L1178.1 833.3L1178.5 832.9L1178.8 832.7L1179.2 832.7L1179.5 832.9L1179.9 833.1L1180.2 833.5L1180.6 833.9L1180.9 834.3L1181.3 834.6L1181.6 834.9L1182 835.1L1182.3 835.2L1182.7 835.3L1183 835.3L1183.4 835.3L1183.7 835.3L1184.1 835.3L1184.4 835.4L1184.8 835.6L1185.1 835.9L1185.5 836.4L1185.8 836.9L1186.2 837.4L1186.5 838L1186.9 838.6L1187.2 839.1L1187.6 839.5L1187.9 839.7L1188.3 839.7L1188.6 839.4L1189 838.8L1189.3 838L1189.7 837L1190 835.8L1190.4 834.4L1190.7 833.1L1191.1 831.7L1191.4 830.5L1191.8 829.5L1192.1 828.8L1192.5 828.5L1192.8 828.6L1193.2 829.2L1193.5 830.2L1193.9 831.6L1194.2 833.3L1194.6 835.3L1194.9 837.3L1195.3 839.4L1195.6 841.4L1196 843.1L1196.3 844.5L1196.7 845.3L1197 845.7L1197.4 845.5L1197.7 844.7L1198.1 843.3L1198.4 841.5L1198.8 839.4L1199.1 836.9L1199.5 834.4L1199.8 831.9L1200.2 829.6L1200.5 827.7L1200.9 826.2L1201.2 825.3L1201.6 824.9L1201.9 825.3L1202.3 826.2L1202.6 827.7L1203 829.7L1203.3 832.1L1203.7 834.7L1204 837.3L1204.4 839.8L1204.7 842.1L1205.1 844L1205.4 845.4L1205.8 846.3L1206.1 846.6L1206.5 846.2L1206.8 845.3L1207.2 843.9L1207.5 842L1207.9 839.9L1208.2 837.6L1208.6 835.4L1208.9 833.2L1209.3 831.3L1209.6 829.7L1210 828.6L1210.3 827.9L1210.7 827.8L1211 828.1L1211.4 828.8L1211.7 829.8L1212.1 831.2L1212.4 832.7L1212.8 834.3L1213.1 835.8L1213.5 837.2L1213.8 838.4L1214.2 839.4L1214.5 840.2L1214.9 840.6L1215.2 840.7L1215.6 840.7L1215.9 840.4L1216.3 840L1216.6 839.5L1217 839L1217.3 838.4L1217.7 838L1218 837.6L1218.4 837.3L1218.7 837L1219.1 836.8L1219.4 836.6L1219.8 836.4L1220.1 836.2L1220.5 835.8L1220.8 835.4L1221.2 834.9L1221.5 834.2L1221.9 833.5L1222.2 832.8L1222.6 832.1L1222.9 831.4L1223.3 831L1223.6 830.7L1224 830.7L1224.3 831.1L1224.7 831.8L1225 832.8L1225.4 834.2L1225.7 835.8L1226.1 837.7L1226.4 839.6L1226.8 841.5L1227.1 843.3L1227.5 844.8L1227.8 845.9L1228.2 846.6L1228.5 846.6L1228.9 846.1L1229.2 845L1229.6 843.3L1229.9 841L1230.3 838.4L1230.6 835.6L1231 832.6L1231.3 829.8L1231.7 827.2L1232 825L1232.4 823.5L1232.7 822.6L1233.1 822.5L1233.4 823.3L1233.8 824.8L1234.1 827.1L1234.5 830L1234.8 833.3L1235.2 836.9L1235.5 840.5L1235.9 843.9L1236.2 847L1236.6 849.5L1236.9 851.3L1237.3 852.2L1237.6 852.2L1238 851.3L1238.3 849.6L1238.7 847.1L1239 844L1239.4 840.5L1239.7 836.8L1240.1 833.1L1240.4 829.6L1240.8 826.6L1241.1 824.1L1241.5 822.5L1241.8 821.6L1242.2 821.6L1242.5 822.4L1242.9 824.1L1243.2 826.3L1243.6 829.1L1243.9 832.2L1244.3 835.4L1244.6 838.6L1245 841.5L1245.3 844L1245.7 846.1L1246 847.5L1246.4 848.2L1246.7 848.3L1247.1 847.8L1247.4 846.8L1247.8 845.3L1248.1 843.4L1248.5 841.4L1248.8 839.4L1249.2 837.4L1249.5 835.5L1249.9 833.9L1250.2 832.6L1250.6 831.6L1250.9 831L1251.3 830.6L1251.6 830.5L1252 830.6L1252.3 830.9L1252.7 831.3L1253 831.7L1253.4 832.1L1253.7 832.6L1254.1 833L1254.4 833.5L1254.8 833.9L1255.1 834.5L1255.5 835.2L1255.8 836L1256.2 836.9L1256.5 838.1L1256.9 839.4L1257.2 840.8L1257.6 842.2L1257.9 843.7L1258.3 845L1258.6 846.1L1259 846.8L1259.3 847.2L1259.7 847L1260 846.2L1260.4 844.9L1260.7 842.9L1261.1 840.5L1261.4 837.6L1261.8 834.4L1262.1 831.2L1262.5 828L1262.8 825L1263.2 822.6L1263.5 820.9L1263.9 819.9L1264.2 819.9L1264.6 820.9L1264.9 822.8L1265.3 825.6L1265.6 829.3L1266 833.5L1266.3 838.1L1266.7 842.8L1267 847.3L1267.4 851.4L1267.7 854.7L1268.1 857.2L1268.4 858.5L1268.8 858.6L1269.1 857.5L1269.5 855.2L1269.8 851.8L1270.2 847.5L1270.5 842.5L1270.9 837.2L1271.2 831.8L1271.6 826.7L1271.9 822.2L1272.3 818.5L1272.6 815.8L1273 814.4L1273.3 814.2L1273.7 815.4L1274 817.7L1274.4 821.2L1274.7 825.5L1275.1 830.3L1275.4 835.5L1275.8 840.7L1276.1 845.5L1276.5 849.8L1276.8 853.2L1277.2 855.7L1277.5 857.1L1277.9 857.4L1278.2 856.5L1278.6 854.6L1278.9 851.9L1279.3 848.5L1279.6 844.7L1280 840.6L1280.3 836.6L1280.7 832.9L1281 829.6L1281.4 826.9L1281.7 824.9L1282.1 823.6L1282.4 823.1L1282.8 823.3L1283.1 824.1L1283.5 825.4L1283.8 827.2L1284.2 829.2L1284.5 831.3L1284.9 833.4L1285.2 835.4L1285.6 837.2L1285.9 838.9L1286.3 840.3L1286.6 841.6L1287 842.6L1287.3 843.5L1287.7 844.3L1288 844.9L1288.4 845.5L1288.7 846L1289.1 846.5L1289.4 846.7L1289.8 846.8L1290.1 846.7L1290.5 846.2L1290.8 845.3L1291.2 843.9L1291.5 842.1L1291.9 839.9L1292.2 837.3L1292.6 834.3L1292.9 831.1L1293.3 828L1293.6 824.9L1294 822.2L1294.3 820.1L1294.7 818.7L1295 818.2L1295.4 818.7L1295.7 820.3L1296.1 823L1296.4 826.7L1296.8 831.2L1297.1 836.3L1297.5 841.8L1297.8 847.4L1298.2 852.7L1298.5 857.4L1298.9 861.1L1299.2 863.7L1299.6 864.9L1299.9 864.5L1300.3 862.6L1300.6 859.2L1301 854.5L1301.3 848.6L1301.7 842L1302 834.9L1302.4 827.8L1302.7 821.2L1303.1 815.4L1303.4 810.7L1303.8 807.5L1304.1 806L1304.5 806.3L1304.8 808.4L1305.2 812.1L1305.5 817.3L1305.9 823.6L1306.2 830.7L1306.6 838.2L1306.9 845.6L1307.3 852.4L1307.6 858.4L1308 863.1L1308.3 866.3L1308.7 867.9L1309 867.7L1309.4 865.9L1309.7 862.6L1310.1 858L1310.4 852.5L1310.8 846.3L1311.1 839.8L1311.5 833.5L1311.8 827.7L1312.2 822.7L1312.5 818.6L1312.9 815.8L1313.2 814.3L1313.6 814L1313.9 815L1314.3 817L1314.6 819.9L1315 823.5L1315.3 827.4L1315.7 831.6L1316 835.6L1316.4 839.4L1316.7 842.8L1317.1 845.7L1317.4 848L1317.8 849.7L1318.1 850.8L1318.5 851.4L1318.8 851.5L1319.2 851.3L1319.5 850.8L1319.9 850.1L1320.2 849.2L1320.6 848.1L1320.9 846.9L1321.3 845.5L1321.6 844L1322 842.2L1322.3 840.1L1322.7 837.7L1323 835.1L1323.4 832.2L1323.7 829.2L1324.1 826.2L1324.4 823.3L1324.8 820.7L1325.1 818.6L1325.5 817.2L1325.8 816.6L1326.2 817.1L1326.5 818.8L1326.9 821.5L1327.2 825.4L1327.6 830.3L1327.9 835.9L1328.3 842.1L1328.6 848.5L1329 854.8L1329.3 860.5L1329.7 865.2L1330 868.7L1330.4 870.7L1330.7 870.9L1331.1 869.2L1331.4 865.7L1331.8 860.5L1332.1 853.8L1332.5 846L1332.8 837.4L1333.2 828.6L1333.5 820.1L1333.9 812.4L1334.2 806L1334.6 801.3L1334.9 798.6L1335.3 798.1L1335.6 799.9L1336 803.8L1336.3 809.8L1336.7 817.4L1337 826.2L1337.4 835.7L1337.7 845.4L1338.1 854.6L1338.4 862.8L1338.8 869.6L1339.1 874.6L1339.5 877.5L1339.8 878.1L1340.2 876.6L1340.5 873L1340.9 867.6L1341.2 860.6L1341.6 852.5L1341.9 843.7L1342.3 834.9L1342.6 826.4L1343 818.8L1343.3 812.4L1343.7 807.6L1344 804.6L1344.4 803.5L1344.7 804.1L1345.1 806.5L1345.4 810.3L1345.8 815.3L1346.1 821.2L1346.5 827.5L1346.8 834L1347.2 840.2L1347.5 845.9L1347.9 851L1348.2 855.1L1348.6 858.2L1348.9 860.3L1349.3 861.5L1349.6 861.7L1350 861.2L1350.3 860L1350.7 858.3L1351 856.1L1351.4 853.7L1351.7 850.9L1352.1 848L1352.4 844.8L1352.8 841.5L1353.1 837.9L1353.5 834.2L1353.8 830.3L1354.2 826.3L1354.5 822.3L1354.9 818.5L1355.2 814.9L1355.6 811.9L1355.9 809.7L1356.3 808.4L1356.6 808.4L1357 809.7L1357.3 812.6L1357.7 817L1358 822.8L1358.4 830L1358.7 838.2L1359.1 847L1359.4 856.2L1359.8 865L1360.1 873.1L1360.5 879.8L1360.8 884.7L1361.2 887.3L1361.5 887.4L1361.9 884.8L1362.2 879.5L1362.6 871.6L1362.9 861.5L1363.3 849.7L1363.6 836.8L1364 823.5L1364.3 810.6L1364.7 798.8L1365 788.8L1365.4 781.4L1365.7 777L1366.1 776L1366.4 778.4L1366.8 784.3L1367.1 793.3L1367.5 805L1367.8 818.6L1368.2 833.6L1368.5 848.9L1368.9 863.7L1369.2 877.1L1369.6 888.5L1369.9 897.1L1370.3 902.4L1370.6 904.1L1371 902.3L1371.3 897L1371.7 888.6L1372 877.7L1372.4 864.8L1372.7 850.7L1373.1 836.3L1373.4 822.4L1373.8 809.7L1374.1 798.9L1374.5 790.5L1374.8 784.8L1375.2 782.1L1375.5 782.4L1375.9 785.5L1376.2 791L1376.6 798.7L1376.9 807.8L1377.3 818L1377.6 828.6L1378 839.1L1378.3 848.9L1378.7 857.7L1379 865.2L1379.4 871.1L1379.7 875.3L1380.1 877.9L1380.4 878.8L1380.8 878.3L1381.1 876.5L1381.5 873.6L1381.8 869.8L1382.2 865.2L1382.5 860L1382.9 854.4L1383.2 848.5L1383.6 842.3L1383.9 835.9L1384.3 829.4L1384.6 822.9L1385 816.6L1385.3 810.6L1385.7 805.1L1386 800.3L1386.4 796.6L1386.7 794.2L1387.1 793.4L1387.4 794.5L1387.8 797.5L1388.1 802.7L1388.5 809.9L1388.8 819.1L1389.2 830L1389.5 842L1389.9 854.8L1390.2 867.7L1390.6 880L1390.9 890.9L1391.3 899.8L1391.6 906L1392 909L1392.3 908.3L1392.7 904L1393 895.8L1393.4 884.3L1393.7 869.8L1394.1 853L1394.4 834.8L1394.8 816.2L1395.1 798.3L1395.5 782L1395.8 768.4L1396.2 758.4L1396.5 752.6L1396.9 751.4L1397.2 755.1L1397.6 763.4L1397.9 776L1398.3 792.3L1398.6 811.3L1399 832L1399.3 853.3L1399.7 873.8L1400 892.5L1400.4 908.1L1400.7 920L1401.1 927.3L1401.4 929.9L1401.8 927.5L1402.1 920.4L1402.5 909.1L1402.8 894.2L1403.2 876.7L1403.5 857.6L1403.9 837.9L1404.2 818.8L1404.6 801.3L1404.9 786.2L1405.3 774.2L1405.6 766L1406 761.6L1406.3 761.3L1406.7 764.8L1407 771.7L1407.4 781.6L1407.7 793.7L1408.1 807.4L1408.4 821.9L1408.8 836.5L1409.1 850.4L1409.5 863.2L1409.8 874.4L1410.2 883.5L1410.5 890.4L1410.9 894.9L1411.2 897.1L1411.6 897.1L1411.9 895.1L1412.3 891.2L1412.6 885.7L1413 878.8L1413.3 870.8L1413.7 862L1414 852.5L1414.4 842.6L1414.7 832.5L1415.1 822.5L1415.4 812.8L1415.8 803.6L1416.1 795.4L1416.5 788.3L1416.8 782.7L1417.2 778.9L1417.5 777.3L1417.9 778L1418.2 781.3L1418.6 787.3L1418.9 795.9L1419.3 806.9L1419.6 820L1420 834.9L1420.3 850.8L1420.7 867L1421 882.8L1421.4 897.3L1421.7 909.7L1422.1 919.2L1422.4 925.1L1422.8 926.9L1423.1 924.3L1423.5 917.3L1423.8 905.9L1424.2 890.6L1424.5 872.1L1424.9 851.3L1425.2 829.2L1425.6 807L1425.9 786L1426.3 767.2L1426.6 751.9L1427 740.8L1427.3 734.8L1427.7 734.3L1428 739.4L1428.4 749.8L1428.7 765.2L1429.1 784.6L1429.4 807.1L1429.8 831.5L1430.1 856.4L1430.5 880.5L1430.8 902.5L1431.2 921.1L1431.5 935.3L1431.9 944.5L1432.2 948.2L1432.6 946.2L1432.9 938.6L1433.3 926L1433.6 909.2L1434 889L1434.3 866.6L1434.7 843.2L1435 820.1L1435.4 798.5L1435.7 779.4L1436.1 763.7L1436.4 752.2L1436.8 745.2L1437.1 742.9L1437.5 745.4L1437.8 752.2L1438.2 762.9L1438.5 776.8L1438.9 793.1L1439.2 811L1439.6 829.5L1439.9 847.9L1440.3 865.2L1440.6 880.8L1441 894.2L1441.3 904.9L1441.7 912.6L1442 917.1L1442.4 918.5L1442.7 916.8L1443.1 912.2L1443.4 904.9L1443.8 895.5L1444.1 884.1L1444.5 871.2L1444.8 857.3L1445.2 842.7L1445.5 828L1445.9 813.7L1446.2 800.1L1446.6 787.7L1446.9 777.1L1447.3 768.5L1447.6 762.4L1448 759.2L1448.3 759L1448.7 762.1L1449 768.5L1449.4 778.2L1449.7 790.9L1450.1 806.2L1450.4 823.7L1450.8 842.7L1451.1 862.4L1451.5 882L1451.8 900.5L1452.2 916.9L1452.5 930.3L1452.9 939.8L1453.2 944.9L1453.6 945L1453.9 939.9L1454.3 929.7L1454.6 914.6L1455 895.3L1455.3 872.5L1455.7 847.5L1456 821.4L1456.4 795.5L1456.7 771.2L1457.1 749.9L1457.4 732.8L1457.8 720.8L1458.1 714.7L1458.5 714.9L1458.8 721.6L1459.2 734.5L1459.5 752.9L1459.9 776L1460.2 802.7L1460.6 831.4L1460.9 860.8L1461.3 889.3L1461.6 915.3L1462 937.6L1462.3 954.9L1462.7 966.4L1463 971.5L1463.4 969.9L1463.7 961.9L1464.1 947.7L1464.4 928.3L1464.8 904.7L1465.1 878.1L1465.5 849.9L1465.8 821.6L1466.2 794.5L1466.5 770L1466.9 749.2L1467.2 733.1L1467.6 722.3L1467.9 717.3L1468.3 718.1L1468.6 724.6L1469 736.3L1469.3 752.5L1469.7 772.3L1470 794.8L1470.4 818.9L1470.7 843.5L1471.1 867.4L1471.4 889.7L1471.8 909.5L1472.1 926L1472.5 938.6L1472.8 946.9L1473.2 950.7L1473.5 949.9L1473.9 944.6L1474.2 935L1474.6 921.8L1474.9 905.3L1475.3 886.2L1475.6 865.2L1476 843.3L1476.3 821.1L1476.7 799.5L1477 779.4L1477.4 761.5L1477.7 746.5L1478.1 735.2L1478.4 728L1478.8 725.4L1479.1 727.5L1479.5 734.4L1479.8 746L1480.2 761.9L1480.5 781.7L1480.9 804.5L1481.2 829.6L1481.6 855.8L1481.9 882.1L1482.3 907.1L1482.6 929.9L1483 949.1L1483.3 963.8L1483.7 973.2L1484 976.5L1484.4 973.5L1484.7 964.1L1485.1 948.6L1485.4 927.4L1485.8 901.6L1486.1 872.2L1486.5 840.7L1486.8 808.5L1487.2 777.2L1487.5 748.5L1487.9 723.7L1488.2 704.3L1488.6 691.3L1488.9 685.5L1489.3 687.3L1489.6 696.7L1490 713.3L1490.3 736.3L1490.7 764.7L1491 797.1L1491.4 831.9L1491.7 867.4L1492.1 901.7L1492.4 933.1L1492.8 960L1493.1 981.2L1493.5 995.4L1493.8 1002.1L1494.2 1000.8L1494.5 991.8L1494.9 975.3L1495.2 952.4L1495.6 924.2L1495.9 892.1L1496.3 857.7L1496.6 822.7L1497 788.8L1497.3 757.6L1497.7 730.6L1498 709L1498.4 693.8L1498.7 685.6L1499.1 684.6L1499.4 690.9L1499.8 703.9L1500.1 723.1L1500.5 747.4L1500.8 775.6L1501.2 806.5L1501.5 838.6L1501.9 870.4L1502.2 900.6L1502.6 927.9L1502.9 951.1L1503.3 969.3L1503.6 981.7L1504 988L1504.3 988L1504.7 981.6L1505 969.2L1505.4 951.4L1505.7 928.8L1506.1 902.6L1506.4 873.7L1506.8 843.4L1507.1 812.8L1507.5 783.3L1507.8 756.1L1508.2 732.2L1508.5 712.8L1508.9 698.6L1509.2 690.4L1509.6 688.6L1509.9 693.3L1510.3 704.4L1510.6 721.7L1511 744.5L1511.3 771.9L1511.7 802.8L1512 835.9L1512.4 869.8L1512.7 903.1L1513.1 934.2L1513.4 961.6L1513.8 984L1514.1 1000.3L1514.5 1009.5L1514.8 1011.2L1515.2 1004.9L1515.5 990.9L1515.9 969.5L1516.2 941.8L1516.6 908.8L1516.9 872.1L1517.3 833.2L1517.6 794.2L1518 756.7L1518.3 722.8L1518.7 694L1519 672L1519.4 657.7L1519.7 652.2L1520.1 655.6L1520.4 668.1L1520.8 689L1521.1 717.5L1521.5 752.1L1521.8 791.3L1522.2 833.2L1522.5 875.7L1522.9 916.7L1523.2 954.2L1523.6 986.4L1523.9 1011.6L1524.3 1028.7L1524.6 1036.8L1525 1035.5L1525.3 1024.9L1525.7 1005.4L1526 978.1L1526.4 944.2" stroke="#40e0d0" stroke-width="3.5"/><path d="M1108.5 834.5L1108.8 835.6L1109.2 837.2L1109.5 839.1L1109.9 841.3L1110.2 843.9L1110.6 846.6L1110.9 849.6L1111.3 853.2L1111.6 858.4L1112 864.7L1112.3 871.8L1112.7 879.3L1113 886.8L1113.4 893.9L1113.7 900.3L1114.1 905.5L1114.4 909.1L1114.8 910.9L1115.1 910.3L1115.5 907.4L1115.8 902.2L1116.2 895.2L1116.5 886.7L1116.9 876.8L1117.2 866L1117.6 854.5L1117.9 842.5L1118.3 830.5L1118.6 818.5L1119 807.1L1119.3 796.4L1119.7 786.7L1120 778.4L1120.4 771.6L1120.7 766.8L1121.1 764.1L1121.4 764.1L1121.8 767.4L1122.1 773.9L1122.5 782.8L1122.8 793.6L1123.2 805.6L1123.5 818.2L1123.9 830.9L1124.2 842.9L1124.6 853.7L1124.9 862.6L1125.3 869.1L1125.6 872.4L1126 872.6L1126.3 871.3L1126.7 868.7L1127 864.8L1127.4 859.7L1127.7 853.2L1128.1 845.5L1128.4 836.4L1128.8 835.7L1129.1 826.2L1129.5 817.3L1129.8 809.6L1130.2 803.8L1130.5 800.2L1130.9 799.2L1131.2 800.8L1131.6 804.9L1131.9 811.2L1132.3 819.4L1132.6 828.6L1133 838.4L1133.3 847.9L1133.7 856.5L1134 863.6L1134.4 868.5L1134.7 871L1135.1 870.8L1135.4 868L1135.8 862.8L1136.1 855.5L1136.5 846.8L1136.8 837.2L1137.2 827.5L1137.5 818.3L1137.9 810.4L1138.2 804.3L1138.6 800.4L1138.9 799.1L1139.3 800.5L1139.6 804.3L1140 810.4L1140.3 818.3L1140.7 827.3L1141 836.9L1141.4 846.2L1141.7 854.7L1142.1 861.6L1142.4 866.6L1142.8 869.1L1143.1 869.1L1143.5 866.6L1143.8 861.8L1144.2 855L1144.5 846.8L1144.9 837.7L1145.2 828.6L1145.6 820L1145.9 812.7L1146.3 807.1L1146.6 803.6L1147 802.6L1147.3 804L1147.7 807.8L1148 813.6L1148.4 821.1L1148.7 829.5L1149.1 838.3L1149.4 846.8L1149.8 854.4L1150.1 860.4L1150.5 864.4L1150.8 866.2L1151.2 865.5L1151.5 862.5L1151.9 857.4L1152.2 850.6L1152.6 842.6L1152.9 834L1153.3 825.5L1153.6 817.8L1154 811.4L1154.3 806.9L1154.7 804.6L1155 804.6L1155.4 807.1L1155.7 811.7L1156.1 818.2L1156.4 826.1L1156.8 834.7L1157.1 843.5L1157.5 851.6L1157.8 858.5L1158.2 863.7L1158.5 866.8L1158.9 867.4L1159.2 865.6L1159.6 861.4L1159.9 855.2L1160.3 847.4L1160.6 838.6L1161 829.5L1161.3 820.7L1161.7 812.9L1162 806.7L1162.4 802.6L1162.7 801L1163.1 801.9L1163.4 805.3L1163.8 811L1164.1 818.6L1164.5 827.5L1164.8 837L1165.2 846.6L1165.5 855.3L1165.9 862.7L1166.2 868.2L1166.6 871.2L1166.9 871.7L1167.3 869.5L1167.6 864.8L1168 857.9L1168.3 849.4L1168.7 839.8L1169 829.8L1169.4 820.2L1169.7 811.7L1170.1 804.9L1170.4 800.3L1170.8 798.2L1171.1 798.8L1171.5 802L1171.8 807.7L1172.2 815.4L1172.5 824.5L1172.9 834.4L1173.2 844.3L1173.6 853.6L1173.9 861.5L1174.3 867.5L1174.6 871.2L1175 872.3L1175.3 870.7L1175.7 866.6L1176 860.3L1176.4 852.2L1176.7 843L1177.1 833.3L1177.4 823.9L1177.8 815.4L1178.1 808.5L1178.5 803.6L1178.8 801.2L1179.2 801.3L1179.5 803.9L1179.9 808.8L1180.2 815.7L1180.6 823.9L1180.9 832.9L1181.3 842L1181.6 850.4L1182 857.7L1182.3 863.2L1182.7 866.6L1183 867.5L1183.4 866.1L1183.7 862.3L1184.1 856.6L1184.4 849.3L1184.8 841.1L1185.1 832.6L1185.5 824.4L1185.8 817.2L1186.2 811.5L1186.5 807.8L1186.9 806.2L1187.2 807.1L1187.6 810.1L1187.9 815.2L1188.3 821.9L1188.6 829.6L1189 837.8L1189.3 845.8L1189.7 853L1190 858.8L1190.4 862.8L1190.7 864.6L1191.1 864.2L1191.4 861.4L1191.8 856.6L1192.1 850.1L1192.5 842.4L1192.8 834.1L1193.2 825.8L1193.5 818.2L1193.9 812L1194.2 807.5L1194.6 805.2L1194.9 805.3L1195.3 807.8L1195.6 812.5L1196 819.1L1196.3 827.1L1196.7 835.9L1197 844.9L1197.4 853.3L1197.7 860.6L1198.1 866.1L1198.4 869.4L1198.8 870.2L1199.1 868.5L1199.5 864.3L1199.8 858L1200.2 849.8L1200.5 840.6L1200.9 830.8L1201.2 821.3L1201.6 812.7L1201.9 805.7L1202.3 800.8L1202.6 798.4L1203 798.6L1203.3 801.6L1203.7 807.1L1204 814.8L1204.4 824L1204.7 834.2L1205.1 844.5L1205.4 854.4L1205.8 862.9L1206.1 869.7L1206.5 874L1206.8 875.7L1207.2 874.5L1207.5 870.7L1207.9 864.4L1208.2 856L1208.6 846.3L1208.9 835.9L1209.3 825.5L1209.6 815.9L1210 807.8L1210.3 801.7L1210.7 798.1L1211 797.2L1211.4 799.1L1211.7 803.5L1212.1 810.3L1212.4 818.8L1212.8 828.4L1213.1 838.4L1213.5 848.2L1213.8 856.9L1214.2 864L1214.5 869L1214.9 871.5L1215.2 871.4L1215.6 868.8L1215.9 863.8L1216.3 856.9L1216.6 848.6L1217 839.6L1217.3 830.6L1217.7 822.2L1218 815L1218.4 809.6L1218.7 806.3L1219.1 805.4L1219.4 806.9L1219.8 810.6L1220.1 816.2L1220.5 823.2L1220.8 831.1L1221.2 839.3L1221.5 847L1221.9 853.7L1222.2 858.8L1222.6 862L1222.9 863.1L1223.3 861.9L1223.6 858.6L1224 853.5L1224.3 847L1224.7 839.7L1225 832.1L1225.4 824.9L1225.7 818.7L1226.1 813.9L1226.4 811.1L1226.8 810.4L1227.1 811.8L1227.5 815.4L1227.8 820.8L1228.2 827.6L1228.5 835.3L1228.9 843.2L1229.2 850.7L1229.6 857.2L1229.9 862.1L1230.3 865.1L1230.6 865.7L1231 864L1231.3 860L1231.7 854L1232 846.4L1232.4 837.8L1232.7 828.9L1233.1 820.3L1233.4 812.6L1233.8 806.6L1234.1 802.8L1234.5 801.3L1234.8 802.6L1235.2 806.4L1235.5 812.5L1235.9 820.6L1236.2 830.1L1236.6 840.3L1236.9 850.4L1237.3 859.8L1237.6 867.6L1238 873.4L1238.3 876.6L1238.7 877L1239 874.4L1239.4 869.2L1239.7 861.5L1240.1 852L1240.4 841.3L1240.8 830.1L1241.1 819.3L1241.5 809.6L1241.8 801.7L1242.2 796.2L1242.5 793.5L1242.9 793.8L1243.2 797L1243.6 803L1243.9 811.4L1244.3 821.4L1244.6 832.5L1245 843.8L1245.3 854.5L1245.7 863.9L1246 871.4L1246.4 876.3L1246.7 878.4L1247.1 877.7L1247.4 874L1247.8 867.9L1248.1 859.7L1248.5 850L1248.8 839.6L1249.2 829.3L1249.5 819.7L1249.9 811.6L1250.2 805.5L1250.6 801.7L1250.9 800.6L1251.3 802.1L1251.6 806.1L1252 812.1L1252.3 819.8L1252.7 828.3L1253 837.2L1253.4 845.7L1253.7 853.1L1254.1 859L1254.4 862.9L1254.8 864.5L1255.1 864L1255.5 861.2L1255.8 856.7L1256.2 850.7L1256.5 843.8L1256.9 836.6L1257.2 829.8L1257.6 823.8L1257.9 819.2L1258.3 816.4L1258.6 815.6L1259 816.7L1259.3 819.7L1259.7 824.3L1260 830.1L1260.4 836.5L1260.7 842.9L1261.1 848.8L1261.4 853.7L1261.8 857L1262.1 858.5L1262.5 858L1262.8 855.5L1263.2 851.1L1263.5 845.2L1263.9 838.2L1264.2 830.8L1264.6 823.5L1264.9 817L1265.3 811.9L1265.6 808.6L1266 807.5L1266.3 808.8L1266.7 812.4L1267 818.2L1267.4 825.8L1267.7 834.6L1268.1 844.1L1268.4 853.4L1268.8 861.9L1269.1 868.9L1269.5 873.8L1269.8 876.2L1270.2 875.8L1270.5 872.6L1270.9 866.6L1271.2 858.3L1271.6 848.3L1271.9 837.2L1272.3 825.7L1272.6 814.7L1273 805.1L1273.3 797.5L1273.7 792.4L1274 790.4L1274.4 791.6L1274.7 795.9L1275.1 803.1L1275.4 812.6L1275.8 824L1276.1 836.3L1276.5 848.8L1276.8 860.5L1277.2 870.7L1277.5 878.6L1277.9 883.7L1278.2 885.7L1278.6 884.3L1278.9 879.8L1279.3 872.5L1279.6 862.9L1280 851.6L1280.3 839.6L1280.7 827.6L1281 816.4L1281.4 806.8L1281.7 799.5L1282.1 794.9L1282.4 793.2L1282.8 794.6L1283.1 798.8L1283.5 805.5L1283.8 814.1L1284.2 823.9L1284.5 834.3L1284.9 844.5L1285.2 853.7L1285.6 861.3L1285.9 866.9L1286.3 870.1L1286.6 870.7L1287 868.9L1287.3 865L1287.7 859.3L1288 852.3L1288.4 844.7L1288.7 837.1L1289.1 830.1L1289.4 824.3L1289.8 820L1290.1 817.6L1290.5 817.1L1290.8 818.4L1291.2 821.4L1291.5 825.7L1291.9 830.8L1292.2 836.2L1292.6 841.4L1292.9 845.7L1293.3 848.9L1293.6 850.6L1294 850.6L1294.3 848.9L1294.7 845.7L1295 841.3L1295.4 836.1L1295.7 830.6L1296.1 825.4L1296.4 821L1296.8 817.9L1297.1 816.5L1297.5 817L1297.8 819.5L1298.2 824L1298.5 830.1L1298.9 837.5L1299.2 845.6L1299.6 853.7L1299.9 861.2L1300.3 867.4L1300.6 871.7L1301 873.7L1301.3 873.1L1301.7 869.8L1302 863.9L1302.4 855.7L1302.7 845.8L1303.1 834.8L1303.4 823.5L1303.8 812.5L1304.1 802.9L1304.5 795.3L1304.8 790.2L1305.2 788.2L1305.5 789.4L1305.9 793.9L1306.2 801.5L1306.6 811.6L1306.9 823.7L1307.3 836.9L1307.6 850.5L1308 863.4L1308.3 874.9L1308.7 884.1L1309 890.4L1309.4 893.4L1309.7 892.8L1310.1 888.8L1310.4 881.4L1310.8 871.3L1311.1 859.1L1311.5 845.5L1311.8 831.5L1312.2 818L1312.5 805.8L1312.9 795.8L1313.2 788.5L1313.6 784.3L1313.9 783.6L1314.3 786.2L1314.6 792L1315 800.5L1315.3 811.1L1315.7 823L1316 835.5L1316.4 847.8L1316.7 859L1317.1 868.5L1317.4 875.7L1317.8 880.3L1318.1 882.1L1318.5 881L1318.8 877.4L1319.2 871.4L1319.5 863.7L1319.9 854.9L1320.2 845.5L1320.6 836.3L1320.9 827.9L1321.3 820.7L1321.6 815.2L1322 811.6L1322.3 810L1322.7 810.4L1323 812.5L1323.4 816L1323.7 820.7L1324.1 825.8L1324.4 831.2L1324.8 836.2L1325.1 840.5L1325.5 843.8L1325.8 846L1326.2 846.9L1326.5 846.7L1326.9 845.5L1327.2 843.6L1327.6 841.3L1327.9 839L1328.3 836.9L1328.6 835.4L1329 834.8L1329.3 835.2L1329.7 836.6L1330 838.9L1330.4 842L1330.7 845.6L1331.1 849.3L1331.4 852.8L1331.8 855.6L1332.1 857.3L1332.5 857.7L1332.8 856.6L1333.2 853.8L1333.5 849.3L1333.9 843.5L1334.2 836.5L1334.6 828.9L1334.9 821.1L1335.3 813.6L1335.6 807.2L1336 802.2L1336.3 799.3L1336.7 798.6L1337 800.5L1337.4 805L1337.7 811.9L1338.1 820.8L1338.4 831.4L1338.8 843L1339.1 854.9L1339.5 866.3L1339.8 876.4L1340.2 884.7L1340.5 890.5L1340.9 893.2L1341.2 892.6L1341.6 888.6L1341.9 881.4L1342.3 871.2L1342.6 858.7L1343 844.5L1343.3 829.6L1343.7 814.8L1344 801.2L1344.4 789.4L1344.7 780.4L1345.1 774.7L1345.4 772.7L1345.8 774.5L1346.1 780.2L1346.5 789.3L1346.8 801.4L1347.2 815.8L1347.5 831.5L1347.9 847.6L1348.2 863.2L1348.6 877.3L1348.9 889.1L1349.3 897.8L1349.6 903.1L1350 904.6L1350.3 902.3L1350.7 896.3L1351 887.2L1351.4 875.4L1351.7 861.7L1352.1 847.1L1352.4 832.3L1352.8 818.2L1353.1 805.7L1353.5 795.4L1353.8 787.8L1354.2 783.2L1354.5 781.9L1354.9 783.6L1355.2 788.3L1355.6 795.4L1355.9 804.4L1356.3 814.7L1356.6 825.6L1357 836.5L1357.3 846.8L1357.7 855.9L1358 863.5L1358.4 869.3L1358.7 873L1359.1 874.9L1359.4 874.9L1359.8 873.2L1360.1 870.3L1360.5 866.4L1360.8 861.9L1361.2 857L1361.5 852.1L1361.9 847.4L1362.2 843.1L1362.6 839.2L1362.9 835.6L1363.3 832.4L1363.6 829.5L1364 826.7L1364.3 824L1364.7 821.2L1365 818.4L1365.4 815.6L1365.7 812.9L1366.1 810.6L1366.4 808.8L1366.8 807.8L1367.1 807.9L1367.5 809.3L1367.8 812.2L1368.2 816.8L1368.5 823.1L1368.9 830.9L1369.2 840.1L1369.6 850.1L1369.9 860.7L1370.3 871L1370.6 880.6L1371 888.7L1371.3 894.7L1371.7 898.1L1372 898.3L1372.4 895.3L1372.7 888.9L1373.1 879.2L1373.4 866.6L1373.8 851.7L1374.1 835.3L1374.5 818.2L1374.8 801.5L1375.2 786.2L1375.5 773.2L1375.9 763.5L1376.2 757.7L1376.6 756.3L1376.9 759.6L1377.3 767.5L1377.6 779.6L1378 795.4L1378.3 814L1378.7 834.4L1379 855.3L1379.4 875.6L1379.7 894L1380.1 909.5L1380.4 921.2L1380.8 928.2L1381.1 930.3L1381.5 927.2L1381.8 919.2L1382.2 906.8L1382.5 890.6L1382.9 871.8L1383.2 851.3L1383.6 830.4L1383.9 810.3L1384.3 792L1384.6 776.6L1385 764.9L1385.3 757.4L1385.7 754.4L1386 756L1386.4 761.8L1386.7 771.4L1387.1 784.1L1387.4 799.2L1387.8 815.7L1388.1 832.6L1388.5 849.1L1388.8 864.3L1389.2 877.5L1389.5 888.3L1389.9 896.2L1390.2 901.1L1390.6 903L1390.9 901.9L1391.3 898.3L1391.6 892.4L1392 884.8L1392.3 875.8L1392.7 866L1393 855.8L1393.4 845.5L1393.7 835.5L1394.1 826L1394.4 817.3L1394.8 809.5L1395.1 802.7L1395.5 797L1395.8 792.4L1396.2 789.2L1396.5 787.2L1396.9 786.8L1397.2 788L1397.6 790.8L1397.9 795.5L1398.3 801.9L1398.6 810.1L1399 820L1399.3 831.4L1399.7 843.9L1400 857L1400.4 870.4L1400.7 883.2L1401.1 895L1401.4 904.8L1401.8 912.2L1402.1 916.5L1402.5 917.3L1402.8 914.2L1403.2 907.1L1403.5 896.1L1403.9 881.7L1404.2 864.3L1404.6 844.8L1404.9 824.1L1405.3 803.3L1405.6 783.6L1406 766.1L1406.3 751.8L1406.7 741.6L1407 736.3L1407.4 736.4L1407.7 742L1408.1 752.9L1408.4 768.8L1408.8 788.8L1409.1 811.9L1409.5 836.9L1409.8 862.4L1410.2 887.1L1410.5 909.4L1410.9 928.2L1411.2 942.3L1411.6 951L1411.9 953.7L1412.3 950.2L1412.6 940.8L1413 926L1413.3 906.5L1413.7 883.6L1414 858.5L1414.4 832.6L1414.7 807.3L1415.1 784.1L1415.4 764.1L1415.8 748.3L1416.1 737.6L1416.5 732.4L1416.8 732.7L1417.2 738.6L1417.5 749.3L1417.9 764.3L1418.2 782.6L1418.6 803.1L1418.9 824.7L1419.3 846.3L1419.6 866.6L1420 884.9L1420.3 900.3L1420.7 912.2L1421 920.3L1421.4 924.4L1421.7 924.6L1422.1 921L1422.4 914.2L1422.8 904.6L1423.1 892.9L1423.5 879.5L1423.8 865.3L1424.2 850.6L1424.5 836.2L1424.9 822.4L1425.2 809.7L1425.6 798.3L1425.9 788.6L1426.3 780.6L1426.6 774.6L1427 770.7L1427.3 768.9L1427.7 769.4L1428 772.2L1428.4 777.3L1428.7 784.6L1429.1 794.2L1429.4 805.9L1429.8 819.4L1430.1 834.3L1430.5 850.3L1430.8 866.7L1431.2 883L1431.5 898.3L1431.9 912L1432.2 923.2L1432.6 931.2L1432.9 935.4L1433.3 935.3L1433.6 930.6L1434 921.1L1434.3 907.2L1434.7 889.2L1435 867.9L1435.4 844.1L1435.7 819L1436.1 794L1436.4 770.3L1436.8 749.4L1437.1 732.4L1437.5 720.5L1437.8 714.4L1438.2 714.9L1438.5 722L1438.9 735.5L1439.2 754.9L1439.6 779.3L1439.9 807.4L1440.3 837.7L1440.6 868.7L1441 898.6L1441.3 925.8L1441.7 948.7L1442 966L1442.4 976.7L1442.7 980L1443.1 975.9L1443.4 964.5L1443.8 946.4L1444.1 922.6L1444.5 894.5L1444.8 863.6L1445.2 831.6L1445.5 800.4L1445.9 771.5L1446.2 746.5L1446.6 726.8L1446.9 713.2L1447.3 706.5L1447.6 706.7L1448 713.7L1448.3 727L1448.7 745.6L1449 768.4L1449.4 794.2L1449.7 821.3L1450.1 848.5L1450.4 874.4L1450.8 897.6L1451.1 917.3L1451.5 932.5L1451.8 942.9L1452.2 948.1L1452.5 948.4L1452.9 943.8L1453.2 935L1453.6 922.6L1453.9 907.4L1454.3 890.1L1454.6 871.6L1455 852.7L1455.3 834L1455.7 816.3L1456 800L1456.4 785.5L1456.7 773.3L1457.1 763.5L1457.4 756.3L1457.8 751.8L1458.1 750.2L1458.5 751.5L1458.8 755.7L1459.2 762.8L1459.5 772.7L1459.9 785.2L1460.2 800.2L1460.6 817.4L1460.9 836.2L1461.3 856.2L1461.6 876.6L1462 896.7L1462.3 915.5L1462.7 932.1L1463 945.7L1463.4 955.3L1463.7 960.1L1464.1 959.6L1464.4 953.3L1464.8 941.3L1465.1 923.6L1465.5 900.9L1465.8 874.1L1466.2 844.3L1466.5 812.9L1466.9 781.5L1467.2 751.8L1467.6 725.5L1467.9 704.2L1468.3 689.2L1468.6 681.7L1469 682.3L1469.3 691.3L1469.7 708.5L1470 733.1L1470.4 764L1470.7 799.7L1471.1 838.2L1471.4 877.6L1471.8 915.6L1472.1 950.2L1472.5 979.2L1472.8 1001.1L1473.2 1014.6L1473.5 1018.8L1473.9 1013.5L1474.2 998.8L1474.6 975.7L1474.9 945.4L1475.3 909.5L1475.6 870.2L1476 829.4L1476.3 789.6L1476.7 752.8L1477 721.1L1477.4 696L1477.7 678.8L1478.1 670.3L1478.4 670.7L1478.8 679.8L1479.1 696.9L1479.5 720.9L1479.8 750.1L1480.2 783.1L1480.5 817.9L1480.9 852.6L1481.2 885.6L1481.6 915.2L1481.9 940.1L1482.3 959.4L1482.6 972.3L1483 978.7L1483.3 978.6L1483.7 972.3L1484 960.6L1484.4 944.3L1484.7 924.5L1485.1 902L1485.4 878.2L1485.8 853.9L1486.1 830.1L1486.5 807.7L1486.8 787.2L1487.2 769.3L1487.5 754.4L1487.9 742.6L1488.2 734.3L1488.6 729.6L1488.9 728.4L1489.3 730.9L1489.6 736.9L1490 746.4L1490.3 759.3L1490.7 775.3L1491 794.2L1491.4 815.6L1491.7 838.8L1492.1 863.2L1492.4 888L1492.8 912.3L1493.1 934.9L1493.5 954.8L1493.8 970.9L1494.2 982L1494.5 987.4L1494.9 986.3L1495.2 978.3L1495.6 963.2L1495.9 941.4L1496.3 913.5L1496.6 880.7L1497 844.2L1497.3 805.9L1497.7 767.6L1498 731.5L1498.4 699.5L1498.7 673.7L1499.1 655.6L1499.4 646.6L1499.8 647.5L1500.1 658.7L1500.5 679.8L1500.8 710L1501.2 748L1501.5 791.7L1501.9 838.9L1502.2 887.2L1502.6 933.7L1502.9 975.9L1503.3 1011.5L1503.6 1038.2L1504 1054.6L1504.3 1059.7L1504.7 1053.1L1505 1035L1505.4 1006.6L1505.7 969.3L1506.1 925.2L1506.4 876.9L1506.8 826.9L1507.1 778L1507.5 733L1507.8 694.1L1508.2 663.4L1508.5 642.4L1508.9 632L1509.2 632.7L1509.6 643.9L1509.9 665L1510.3 694.5L1510.6 730.6L1511 771.1L1511.3 813.9L1511.7 856.7L1512 897.3L1512.4 933.7L1512.7 964.3L1513.1 988L1513.4 1003.8L1513.8 1011.5L1514.1 1011.2L1514.5 1003.2L1514.8 988.6L1515.2 968.2L1515.5 943.3L1515.9 915.4L1516.2 885.6L1516.6 855.4L1516.9 825.9L1517.3 798.1L1517.6 772.9L1518 750.9L1518.3 732.8L1518.7 718.9L1519 709.3L1519.4 704.2L1519.7 703.7L1520.1 707.7L1520.4 716.1L1520.8 728.8L1521.1 745.4L1521.5 765.7L1521.8 789.3L1522.2 815.6L1522.5 843.9L1522.9 873.3L1523.2 902.8L1523.6 931.4L1523.9 957.7L1524.3 980.5L1524.6 998.6L1525 1010.7L1525.3 1015.9L1525.7 1013.4L1526 1002.6L1526.4 983.5" stroke="#ff0000" stroke-width="2.0"/><path d="M1108.5 834.5L1108.8 834.5L1109.2 834.6L1109.5 834.6L1109.9 835.3L1110.2 836.7L1110.6 838.6L1110.9 840.7L1111.3 842.7L1111.6 844.3L1112 845.3L1112.3 845.5L1112.7 845.3L1113 844.8L1113.4 844.2L1113.7 843.5L1114.1 842.6L1114.4 841.7L1114.8 840.6L1115.1 839.6L1115.5 838.6L1115.8 837.6L1116.2 836.6L1116.5 835.8L1116.9 835.1L1117.2 834.5L1117.6 834.2L1117.9 834L1118.3 834L1118.6 834L1119 834L1119.3 834L1119.7 834.1L1120 834.1L1120.4 834.1L1120.7 834.1L1121.1 834.2L1121.4 834.2L1121.8 834.2L1122.1 834.3L1122.5 834.3L1122.8 834.4L1123.2 834.4L1123.5 834.4L1123.9 834.5L1124.2 834.5L1124.6 834.6L1124.9 834.6L1125.3 834.7L1125.6 834.7L1126 834.8L1126.3 834.9L1126.7 834.9L1127 836.3L1127.4 834.8L1127.7 833.3L1128.1 831.9L1128.4 830.7L1128.8 829.7L1129.1 829L1129.5 828.6L1129.8 828.7L1130.2 829.1L1130.5 829.8L1130.9 830.8L1131.2 832.1L1131.6 833.5L1131.9 835L1132.3 836.5L1132.6 837.8L1133 839L1133.3 839.9L1133.7 840.4L1134 840.7L1134.4 840.6L1134.7 840.1L1135.1 839.3L1135.4 838.4L1135.8 837.2L1136.1 836L1136.5 834.7L1136.8 833.5L1137.2 832.5L1137.5 831.6L1137.9 831L1138.2 830.7L1138.6 830.6L1138.9 830.8L1139.3 831.2L1139.6 831.8L1140 832.6L1140.3 833.4L1140.7 834.3L1141 835.1L1141.4 835.8L1141.7 836.4L1142.1 836.9L1142.4 837.2L1142.8 837.3L1143.1 837.2L1143.5 837L1143.8 836.8L1144.2 836.4L1144.5 836.1L1144.9 835.8L1145.2 835.5L1145.6 835.3L1145.9 835.2L1146.3 835.2L1146.6 835.3L1147 835.4L1147.3 835.5L1147.7 835.7L1148 835.8L1148.4 835.8L1148.7 835.7L1149.1 835.5L1149.4 835.2L1149.8 834.8L1150.1 834.3L1150.5 833.8L1150.8 833.2L1151.2 832.7L1151.5 832.3L1151.9 832L1152.2 831.8L1152.6 831.9L1152.9 832.2L1153.3 832.8L1153.6 833.5L1154 834.5L1154.3 835.5L1154.7 836.7L1155 837.9L1155.4 838.9L1155.7 839.9L1156.1 840.6L1156.4 841L1156.8 841.1L1157.1 840.8L1157.5 840.1L1157.8 839.2L1158.2 837.9L1158.5 836.5L1158.9 834.9L1159.2 833.2L1159.6 831.6L1159.9 830.2L1160.3 829L1160.6 828.2L1161 827.8L1161.3 827.9L1161.7 828.3L1162 829.2L1162.4 830.5L1162.7 832.1L1163.1 834L1163.4 835.9L1163.8 837.8L1164.1 839.6L1164.5 841.2L1164.8 842.4L1165.2 843.2L1165.5 843.6L1165.9 843.4L1166.2 842.8L1166.6 841.8L1166.9 840.4L1167.3 838.7L1167.6 836.8L1168 834.9L1168.3 833L1168.7 831.3L1169 829.8L1169.4 828.7L1169.7 828.1L1170.1 827.8L1170.4 828L1170.8 828.7L1171.1 829.7L1171.5 831L1171.8 832.6L1172.2 834.2L1172.5 835.9L1172.9 837.4L1173.2 838.8L1173.6 840L1173.9 840.8L1174.3 841.3L1174.6 841.4L1175 841.1L1175.3 840.6L1175.7 839.8L1176 838.9L1176.4 837.8L1176.7 836.7L1177.1 835.6L1177.4 834.7L1177.8 833.8L1178.1 833.2L1178.5 832.8L1178.8 832.6L1179.2 832.6L1179.5 832.7L1179.9 833L1180.2 833.4L1180.6 833.8L1180.9 834.2L1181.3 834.5L1181.6 834.8L1182 835.1L1182.3 835.2L1182.7 835.3L1183 835.3L1183.4 835.3L1183.7 835.3L1184.1 835.3L1184.4 835.4L1184.8 835.6L1185.1 836L1185.5 836.4L1185.8 836.9L1186.2 837.5L1186.5 838.1L1186.9 838.7L1187.2 839.3L1187.6 839.7L1187.9 839.9L1188.3 839.9L1188.6 839.6L1189 839L1189.3 838.2L1189.7 837.1L1190 835.8L1190.4 834.4L1190.7 832.9L1191.1 831.5L1191.4 830.2L1191.8 829.2L1192.1 828.5L1192.5 828.1L1192.8 828.3L1193.2 828.9L1193.5 829.9L1193.9 831.4L1194.2 833.2L1194.6 835.2L1194.9 837.4L1195.3 839.6L1195.6 841.7L1196 843.5L1196.3 844.9L1196.7 845.8L1197 846.2L1197.4 846L1197.7 845.1L1198.1 843.7L1198.4 841.8L1198.8 839.5L1199.1 837L1199.5 834.3L1199.8 831.7L1200.2 829.3L1200.5 827.2L1200.9 825.7L1201.2 824.7L1201.6 824.4L1201.9 824.7L1202.3 825.7L1202.6 827.3L1203 829.4L1203.3 831.9L1203.7 834.6L1204 837.3L1204.4 840L1204.7 842.4L1205.1 844.4L1205.4 845.9L1205.8 846.8L1206.1 847.1L1206.5 846.7L1206.8 845.8L1207.2 844.3L1207.5 842.3L1207.9 840.1L1208.2 837.7L1208.6 835.3L1208.9 833.1L1209.3 831.1L1209.6 829.4L1210 828.2L1210.3 827.5L1210.7 827.3L1211 827.6L1211.4 828.4L1211.7 829.5L1212.1 830.9L1212.4 832.5L1212.8 834.2L1213.1 835.8L1213.5 837.3L1213.8 838.6L1214.2 839.6L1214.5 840.4L1214.9 840.8L1215.2 841L1215.6 840.9L1215.9 840.6L1216.3 840.2L1216.6 839.7L1217 839.1L1217.3 838.6L1217.7 838.1L1218 837.7L1218.4 837.3L1218.7 837L1219.1 836.8L1219.4 836.6L1219.8 836.4L1220.1 836.2L1220.5 835.8L1220.8 835.4L1221.2 834.8L1221.5 834.1L1221.9 833.4L1222.2 832.6L1222.6 831.9L1222.9 831.2L1223.3 830.7L1223.6 830.4L1224 830.4L1224.3 830.8L1224.7 831.5L1225 832.6L1225.4 834.1L1225.7 835.8L1226.1 837.8L1226.4 839.8L1226.8 841.8L1227.1 843.7L1227.5 845.3L1227.8 846.4L1228.2 847.1L1228.5 847.2L1228.9 846.6L1229.2 845.4L1229.6 843.6L1229.9 841.3L1230.3 838.5L1230.6 835.5L1231 832.4L1231.3 829.4L1231.7 826.7L1232 824.4L1232.4 822.8L1232.7 821.9L1233.1 821.8L1233.4 822.6L1233.8 824.2L1234.1 826.6L1234.5 829.6L1234.8 833.1L1235.2 836.9L1235.5 840.7L1235.9 844.3L1236.2 847.6L1236.6 850.2L1236.9 852L1237.3 853L1237.6 853L1238 852.1L1238.3 850.3L1238.7 847.6L1239 844.4L1239.4 840.7L1239.7 836.8L1240.1 832.9L1240.4 829.2L1240.8 826L1241.1 823.5L1241.5 821.7L1241.8 820.8L1242.2 820.8L1242.5 821.7L1242.9 823.4L1243.2 825.8L1243.6 828.7L1243.9 831.9L1244.3 835.3L1244.6 838.7L1245 841.8L1245.3 844.4L1245.7 846.5L1246 848L1246.4 848.8L1246.7 848.9L1247.1 848.4L1247.4 847.3L1247.8 845.7L1248.1 843.8L1248.5 841.7L1248.8 839.5L1249.2 837.4L1249.5 835.4L1249.9 833.8L1250.2 832.4L1250.6 831.3L1250.9 830.7L1251.3 830.3L1251.6 830.2L1252 830.3L1252.3 830.6L1252.7 831L1253 831.4L1253.4 831.9L1253.7 832.4L1254.1 832.8L1254.4 833.3L1254.8 833.8L1255.1 834.4L1255.5 835.1L1255.8 835.9L1256.2 837L1256.5 838.2L1256.9 839.5L1257.2 841L1257.6 842.5L1257.9 844L1258.3 845.4L1258.6 846.6L1259 847.4L1259.3 847.7L1259.7 847.5L1260 846.7L1260.4 845.3L1260.7 843.2L1261.1 840.7L1261.4 837.6L1261.8 834.3L1262.1 830.8L1262.5 827.5L1262.8 824.4L1263.2 821.9L1263.5 820L1263.9 819L1264.2 819L1264.6 820L1264.9 822L1265.3 825L1265.6 828.9L1266 833.3L1266.3 838.1L1266.7 843.1L1267 847.8L1267.4 852.1L1267.7 855.7L1268.1 858.2L1268.4 859.6L1268.8 859.8L1269.1 858.6L1269.5 856.1L1269.8 852.6L1270.2 848L1270.5 842.8L1270.9 837.2L1271.2 831.6L1271.6 826.2L1271.9 821.4L1272.3 817.5L1272.6 814.7L1273 813.2L1273.3 813L1273.7 814.2L1274 816.7L1274.4 820.3L1274.7 824.8L1275.1 830L1275.4 835.4L1275.8 840.8L1276.1 846L1276.5 850.4L1276.8 854.1L1277.2 856.7L1277.5 858.2L1277.9 858.4L1278.2 857.5L1278.6 855.5L1278.9 852.7L1279.3 849.1L1279.6 845L1280 840.8L1280.3 836.6L1280.7 832.7L1281 829.2L1281.4 826.3L1281.7 824.2L1282.1 822.9L1282.4 822.4L1282.8 822.6L1283.1 823.4L1283.5 824.8L1283.8 826.6L1284.2 828.7L1284.5 830.9L1284.9 833.2L1285.2 835.3L1285.6 837.2L1285.9 839L1286.3 840.5L1286.6 841.8L1287 842.9L1287.3 843.8L1287.7 844.6L1288 845.3L1288.4 846L1288.7 846.5L1289.1 846.9L1289.4 847.2L1289.8 847.3L1290.1 847.1L1290.5 846.6L1290.8 845.7L1291.2 844.3L1291.5 842.4L1291.9 840L1292.2 837.3L1292.6 834.1L1292.9 830.8L1293.3 827.5L1293.6 824.3L1294 821.4L1294.3 819.2L1294.7 817.7L1295 817.2L1295.4 817.8L1295.7 819.5L1296.1 822.3L1296.4 826.1L1296.8 830.9L1297.1 836.3L1297.5 842.1L1297.8 847.9L1298.2 853.5L1298.5 858.4L1298.9 862.4L1299.2 865.1L1299.6 866.3L1299.9 865.9L1300.3 863.9L1300.6 860.4L1301 855.4L1301.3 849.2L1301.7 842.2L1302 834.8L1302.4 827.3L1302.7 820.3L1303.1 814.2L1303.4 809.3L1303.8 806L1304.1 804.4L1304.5 804.7L1304.8 806.9L1305.2 810.8L1305.5 816.2L1305.9 822.9L1306.2 830.4L1306.6 838.2L1306.9 846L1307.3 853.2L1307.6 859.5L1308 864.4L1308.3 867.8L1308.7 869.5L1309 869.3L1309.4 867.4L1309.7 863.9L1310.1 859.1L1310.4 853.2L1310.8 846.7L1311.1 840L1311.5 833.3L1311.8 827.2L1312.2 821.9L1312.5 817.6L1312.9 814.7L1313.2 813L1313.6 812.8L1313.9 813.8L1314.3 815.9L1314.6 819L1315 822.7L1315.3 826.9L1315.7 831.2L1316 835.5L1316.4 839.5L1316.7 843.1L1317.1 846.1L1317.4 848.5L1317.8 850.3L1318.1 851.5L1318.5 852.1L1318.8 852.2L1319.2 852L1319.5 851.5L1319.9 850.7L1320.2 849.8L1320.6 848.7L1320.9 847.4L1321.3 845.9L1321.6 844.3L1322 842.4L1322.3 840.2L1322.7 837.7L1323 834.9L1323.4 831.9L1323.7 828.7L1324.1 825.5L1324.4 822.5L1324.8 819.7L1325.1 817.5L1325.5 816.1L1325.8 815.5L1326.2 816L1326.5 817.8L1326.9 820.7L1327.2 824.7L1327.6 829.9L1327.9 835.8L1328.3 842.4L1328.6 849.1L1329 855.6L1329.3 861.6L1329.7 866.7L1330 870.3L1330.4 872.4L1330.7 872.6L1331.1 870.9L1331.4 867.2L1331.8 861.7L1332.1 854.6L1332.5 846.4L1332.8 837.4L1333.2 828.1L1333.5 819.2L1333.9 811.1L1334.2 804.3L1334.6 799.4L1334.9 796.5L1335.3 796L1335.6 797.9L1336 802L1336.3 808.3L1336.7 816.3L1337 825.6L1337.4 835.6L1337.7 845.8L1338.1 855.5L1338.4 864.1L1338.8 871.3L1339.1 876.5L1339.5 879.6L1339.8 880.2L1340.2 878.6L1340.5 874.9L1340.9 869.1L1341.2 861.8L1341.6 853.2L1341.9 844L1342.3 834.7L1342.6 825.8L1343 817.8L1343.3 811.1L1343.7 806L1344 802.9L1344.4 801.6L1344.7 802.3L1345.1 804.8L1345.4 808.8L1345.8 814.1L1346.1 820.3L1346.5 826.9L1346.8 833.7L1347.2 840.3L1347.5 846.4L1347.9 851.6L1348.2 856L1348.6 859.3L1348.9 861.5L1349.3 862.7L1349.6 863L1350 862.4L1350.3 861.2L1350.7 859.3L1351 857.1L1351.4 854.5L1351.7 851.6L1352.1 848.5L1352.4 845.2L1352.8 841.6L1353.1 837.9L1353.5 834L1353.8 829.9L1354.2 825.7L1354.5 821.5L1354.9 817.4L1355.2 813.7L1355.6 810.5L1355.9 808.2L1356.3 806.9L1356.6 806.8L1357 808.2L1357.3 811.2L1357.7 815.8L1358 822L1358.4 829.5L1358.7 838.1L1359.1 847.5L1359.4 857.1L1359.8 866.4L1360.1 874.9L1360.5 882L1360.8 887.1L1361.2 889.9L1361.5 890L1361.9 887.2L1362.2 881.6L1362.6 873.4L1362.9 862.7L1363.3 850.3L1363.6 836.7L1364 822.7L1364.3 809.1L1364.7 796.7L1365 786.2L1365.4 778.4L1365.7 773.8L1366.1 772.7L1366.4 775.3L1366.8 781.5L1367.1 790.9L1367.5 803.2L1367.8 817.6L1368.2 833.3L1368.5 849.4L1368.9 865L1369.2 879.2L1369.6 891.1L1369.9 900.1L1370.3 905.7L1370.6 907.6L1371 905.7L1371.3 900.1L1371.7 891.3L1372 879.7L1372.4 866.2L1372.7 851.4L1373.1 836.2L1373.4 821.6L1373.8 808.2L1374.1 796.8L1374.5 788L1374.8 782L1375.2 779.2L1375.5 779.4L1375.9 782.7L1376.2 788.5L1376.6 796.6L1376.9 806.2L1377.3 816.9L1377.6 828.1L1378 839.1L1378.3 849.4L1378.7 858.7L1379 866.6L1379.4 872.8L1379.7 877.2L1380.1 879.9L1380.4 880.9L1380.8 880.4L1381.1 878.5L1381.5 875.4L1381.8 871.4L1382.2 866.6L1382.5 861.2L1382.9 855.3L1383.2 849L1383.6 842.5L1383.9 835.7L1384.3 828.9L1384.6 822.1L1385 815.4L1385.3 809.1L1385.7 803.3L1386 798.3L1386.4 794.4L1386.7 791.9L1387.1 791L1387.4 792.1L1387.8 795.3L1388.1 800.8L1388.5 808.4L1388.8 818.1L1389.2 829.5L1389.5 842.2L1389.9 855.7L1390.2 869.3L1390.6 882.2L1390.9 893.7L1391.3 903L1391.6 909.5L1392 912.6L1392.3 912L1392.7 907.4L1393 898.8L1393.4 886.7L1393.7 871.4L1394.1 853.7L1394.4 834.6L1394.8 815L1395.1 796.1L1395.5 779L1395.8 764.7L1396.2 754.2L1396.5 748L1396.9 746.8L1397.2 750.7L1397.6 759.4L1397.9 772.7L1398.3 789.9L1398.6 809.9L1399 831.7L1399.3 854L1399.7 875.6L1400 895.3L1400.4 911.8L1400.7 924.2L1401.1 932L1401.4 934.6L1401.8 932.1L1402.1 924.7L1402.5 912.7L1402.8 897.1L1403.2 878.7L1403.5 858.5L1403.9 837.9L1404.2 817.7L1404.6 799.3L1404.9 783.4L1405.3 770.8L1405.6 762.1L1406 757.5L1406.3 757.2L1406.7 760.9L1407 768.2L1407.4 778.5L1407.7 791.3L1408.1 805.7L1408.4 821L1408.8 836.3L1409.1 851L1409.5 864.5L1409.8 876.2L1410.2 885.8L1410.5 893L1410.9 897.8L1411.2 900.2L1411.6 900.2L1411.9 898L1412.3 893.9L1412.6 888.1L1413 880.9L1413.3 872.5L1413.7 863.2L1414 853.2L1414.4 842.8L1414.7 832.2L1415.1 821.6L1415.4 811.4L1415.8 801.8L1416.1 793L1416.5 785.6L1416.8 779.7L1417.2 775.7L1417.5 774L1417.9 774.8L1418.2 778.3L1418.6 784.5L1418.9 793.6L1419.3 805.2L1419.6 819L1420 834.6L1420.3 851.4L1420.7 868.5L1421 885.1L1421.4 900.4L1421.7 913.4L1422.1 923.4L1422.4 929.6L1422.8 931.5L1423.1 928.8L1423.5 921.3L1423.8 909.4L1424.2 893.3L1424.5 873.8L1424.9 851.9L1425.2 828.7L1425.6 805.3L1425.9 783.2L1426.3 763.4L1426.6 747.2L1427 735.6L1427.3 729.3L1427.7 728.8L1428 734.1L1428.4 745.1L1428.7 761.2L1429.1 781.7L1429.4 805.4L1429.8 831.1L1430.1 857.3L1430.5 882.7L1430.8 905.8L1431.2 925.4L1431.5 940.4L1431.9 950.1L1432.2 953.9L1432.6 951.8L1432.9 943.8L1433.3 930.6L1433.6 912.8L1434 891.6L1434.3 868L1434.7 843.4L1435 819.1L1435.4 796.3L1435.7 776.2L1436.1 759.7L1436.4 747.6L1436.8 740.2L1437.1 737.8L1437.5 740.4L1437.8 747.6L1438.2 758.9L1438.5 773.5L1438.9 790.7L1439.2 809.5L1439.6 829L1439.9 848.3L1440.3 866.5L1440.6 883L1441 897.1L1441.3 908.3L1441.7 916.4L1442 921.2L1442.4 922.6L1442.7 920.8L1443.1 916L1443.4 908.4L1443.8 898.4L1444.1 886.4L1444.5 872.8L1444.8 858.2L1445.2 842.9L1445.5 827.4L1445.9 812.3L1446.2 798L1446.6 785L1446.9 773.7L1447.3 764.7L1447.6 758.3L1448 754.9L1448.3 754.8L1448.7 758L1449 764.8L1449.4 775L1449.7 788.3L1450.1 804.4L1450.4 822.8L1450.8 842.9L1451.1 863.6L1451.5 884.2L1451.8 903.7L1452.2 920.9L1452.5 935L1452.9 945.1L1453.2 950.4L1453.6 950.5L1453.9 945.2L1454.3 934.4L1454.6 918.5L1455 898.2L1455.3 874.3L1455.7 847.9L1456 820.4L1456.4 793.1L1456.7 767.6L1457.1 745.2L1457.4 727.1L1457.8 714.5L1458.1 708.1L1458.5 708.3L1458.8 715.4L1459.2 728.9L1459.5 748.3L1459.9 772.7L1460.2 800.7L1460.6 831L1460.9 861.9L1461.3 891.9L1461.6 919.3L1462 942.7L1462.3 961L1462.7 973.1L1463 978.4L1463.4 976.8L1463.7 968.3L1464.1 953.4L1464.4 933L1464.8 908.1L1465.1 880.1L1465.5 850.4L1465.8 820.6L1466.2 792.1L1466.5 766.3L1466.9 744.4L1467.2 727.5L1467.6 716.1L1467.9 710.9L1468.3 711.7L1468.6 718.5L1469 730.8L1469.3 747.8L1469.7 768.7L1470 792.4L1470.4 817.8L1470.7 843.6L1471.1 868.8L1471.4 892.3L1471.8 913.2L1472.1 930.5L1472.5 943.8L1472.8 952.6L1473.2 956.5L1473.5 955.6L1473.9 950.1L1474.2 940L1474.6 926.1L1474.9 908.7L1475.3 888.6L1475.6 866.6L1476 843.4L1476.3 820.1L1476.7 797.3L1477 776.1L1477.4 757.3L1477.7 741.6L1478.1 729.7L1478.4 722.1L1478.8 719.3L1479.1 721.5L1479.5 728.8L1479.8 741L1480.2 757.8L1480.5 778.6L1480.9 802.7L1481.2 829L1481.6 856.6L1481.9 884.3L1482.3 910.7L1482.6 934.6L1483 954.8L1483.3 970.3L1483.7 980.2L1484 983.7L1484.4 980.5L1484.7 970.6L1485.1 954.2L1485.4 932L1485.8 904.8L1486.1 873.9L1486.5 840.7L1486.8 806.8L1487.2 773.9L1487.5 743.6L1487.9 717.6L1488.2 697.2L1488.6 683.5L1488.9 677.4L1489.3 679.2L1489.6 689.1L1490 706.6L1490.3 730.8L1490.7 760.7L1491 794.8L1491.4 831.5L1491.7 868.8L1492.1 904.9L1492.4 938L1492.8 966.3L1493.1 988.6L1493.5 1003.6L1493.8 1010.6L1494.2 1009.3L1494.5 999.7L1494.9 982.4L1495.2 958.3L1495.6 928.6L1495.9 894.8L1496.3 858.6L1496.6 821.8L1497 786.1L1497.3 753.2L1497.7 724.8L1498 702.1L1498.4 686.1L1498.7 677.4L1499.1 676.4L1499.4 683L1499.8 696.7L1500.1 716.9L1500.5 742.5L1500.8 772.2L1501.2 804.7L1501.5 838.5L1501.9 872L1502.2 903.7L1502.6 932.5L1502.9 956.9L1503.3 976L1503.6 989.2L1504 995.8L1504.3 995.7L1504.7 989L1505 975.9L1505.4 957.2L1505.7 933.5L1506.1 905.9L1506.4 875.5L1506.8 843.5L1507.1 811.4L1507.5 780.3L1507.8 751.6L1508.2 726.5L1508.5 706L1508.9 691.1L1509.2 682.5L1509.6 680.6L1509.9 685.5L1510.3 697.3L1510.6 715.5L1511 739.4L1511.3 768.2L1511.7 800.8L1512 835.6L1512.4 871.4L1512.7 906.4L1513.1 939.1L1513.4 967.9L1513.8 991.5L1514.1 1008.7L1514.5 1018.4L1514.8 1020.1L1515.2 1013.5L1515.5 998.8L1515.9 976.3L1516.2 947.1L1516.6 912.4L1516.9 873.7L1517.3 832.8L1517.6 791.7L1518 752.3L1518.3 716.6L1518.7 686.3L1519 663.1L1519.4 648.1L1519.7 642.2L1520.1 645.9L1520.4 659L1520.8 681L1521.1 711L1521.5 747.4L1521.8 788.7L1522.2 832.8L1522.5 877.5L1522.9 920.6L1523.2 960.1L1523.6 994L1523.9 1020.6L1524.3 1038.6L1524.6 1047.1L1525 1045.8L1525.3 1034.6L1525.7 1014.1L1526 985.4L1526.4 949.6" stroke="#0000ff" stroke-width="2.0"/><path d="M1110.5 830L1110.8 825.8L1111 821.7L1111.2 817.5L1111.5 813.3L1111.8 809.2L1112 805L1112.2 801.8L1112.5 798.7L1112.8 795.5L1113 792.3L1113.2 789.2L1113.5 786L1113.8 785.8L1114 785.6L1114.2 785.3L1114.5 785.1L1114.8 784.9L1115 784.7L1115.2 784.4L1115.5 784.2L1115.8 784L1116 783.8L1116.2 783.6L1116.5 783.3L1116.8 783.1L1117 782.9L1117.2 782.7L1117.5 782.4L1117.8 782.2L1118 782L1118.2 782.6L1118.5 783.2L1118.8 783.9L1119 784.5L1119.2 785.1L1119.5 785.8L1119.8 786.4L1120 787L1120.2 787.6L1120.5 788.2L1120.8 788.9L1121 789.5L1121.2 790.1L1121.5 790.8L1121.8 791.4L1122 792L1122.2 794.5L1122.5 797L1122.8 799.5L1123 802L1123.2 804.5L1123.5 807L1123.8 809.5L1124 812L1124.2 814L1124.5 816L1124.8 818L1125 820L1125.2 822L1125.5 824L1125.8 826L1126 828L1126.2 828.8L1126.5 829.5L1126.8 830.2L1127 831L1127.2 831.8L1127.5 832.5L1127.8 833.2L1127.8 835.6L1127.5 836.2L1127.2 836.9L1127 837.5L1126.8 838.1L1126.5 838.8L1126.2 839.4L1126 840L1125.8 841.2L1125.5 842.5L1125.2 843.8L1125 845L1124.8 846.2L1124.5 847.5L1124.2 848.8L1124 850L1123.8 852.2L1123.5 854.5L1123.2 856.8L1123 859L1122.8 861.2L1122.5 863.5L1122.2 865.8L1122 868L1121.8 869.1L1121.5 870.2L1121.2 871.4L1121 872.5L1120.8 873.6L1120.5 874.8L1120.2 875.9L1120 877L1119.8 878.1L1119.5 879.2L1119.2 880.4L1119 881.5L1118.8 882.6L1118.5 883.8L1118.2 884.9L1118 886L1117.8 885.9L1117.5 885.8L1117.2 885.7L1117 885.6L1116.8 885.4L1116.5 885.3L1116.2 885.2L1116 885.1L1115.8 885L1115.5 884.9L1115.2 884.8L1115 884.7L1114.8 884.6L1114.5 884.4L1114.2 884.3L1114 884.2L1113.8 884.1L1113.5 884L1113.2 881.3L1113 878.7L1112.8 876L1112.5 873.3L1112.2 870.7L1112 868L1111.8 863.7L1111.5 859.3L1111.2 855L1111 850.7L1110.8 846.3L1110.5 842Z" fill="#0000ff" stroke="none"/><path d="M1110.5 830.3L1110.7 847.4L1111 823.2L1111.2 855.3L1111.4 812.5L1111.6 860.9L1111.9 807.8L1112.1 867.7L1112.3 805.1L1112.5 873.6L1112.8 798.4L1113 875.5L1113.2 793.8L1113.5 879.1L1113.7 781.2L1113.9 883L1114.1 789.1L1114.4 885.7L1114.6 783.5L1114.8 886.8L1115 778.5L1115.3 879.5L1115.5 786.2L1115.7 881.7L1116 791.2L1116.2 880.3L1116.4 785L1116.6 883.8L1116.9 781.2L1117.1 884.9L1117.3 780.9L1117.5 881.5L1117.8 787.9L1118 883.3L1118.2 788.8L1118.5 881.9L1118.7 784.3L1118.9 885.1L1119.1 779.6L1119.4 873.5L1119.6 779.6L1119.8 880.8L1120 780.5L1120.3 870.7L1120.5 789.9L1120.7 873.8L1121 786.3L1121.2 869.4L1121.4 791.1L1121.6 867L1121.9 792.2L1122.1 867.3L1122.3 794.5L1122.5 865.1L1122.8 802.1L1123 860.1L1123.2 807.5L1123.5 855.7L1123.7 809.1L1123.9 848.6L1124.1 814.4L1124.4 846L1124.6 817.3L1124.8 845.5L1125 820.4L1125.3 842.3L1125.5 823.4L1125.7 840.9L1126 828L1126.2 840.2L1126.4 829.1L1126.6 838.6L1126.9 830.6L1127.1 837L1127.3 832.2L1127.5 836L1127.8 833.4" stroke="#0000ff" stroke-width="0.9"/><rect x="1114.6" y="594" width="6.0" height="447" fill="#40e0d0"/><rect x="1115.1" y="594" width="5.0" height="447" fill="#0000ff"/></g>
<path d="M66.7 495.3v-12.6M66.7 49.3v12.6M118.36 495.3v-6.3M118.36 49.3v6.3M170.01 495.3v-12.6M170.01 49.3v12.6M221.67 495.3v-6.3M221.67 49.3v6.3M273.33 495.3v-12.6M273.33 49.3v12.6M324.99 495.3v-6.3M324.99 49.3v6.3M376.64 495.3v-12.6M376.64 49.3v12.6M428.3 495.3v-6.3M428.3 49.3v6.3M479.96 495.3v-12.6M479.96 49.3v12.6M66.7 495.3h10.4M483.4 495.3h-10.4M66.7 482.56h5.2M483.4 482.56h-5.2M66.7 469.81h5.2M483.4 469.81h-5.2M66.7 457.07h5.2M483.4 457.07h-5.2M66.7 444.33h5.2M483.4 444.33h-5.2M66.7 431.59h10.4M483.4 431.59h-10.4M66.7 418.84h5.2M483.4 418.84h-5.2M66.7 406.1h5.2M483.4 406.1h-5.2M66.7 393.36h5.2M483.4 393.36h-5.2M66.7 380.61h5.2M483.4 380.61h-5.2M66.7 367.87h10.4M483.4 367.87h-10.4M66.7 355.13h5.2M483.4 355.13h-5.2M66.7 342.39h5.2M483.4 342.39h-5.2M66.7 329.64h5.2M483.4 329.64h-5.2M66.7 316.9h5.2M483.4 316.9h-5.2M66.7 304.16h10.4M483.4 304.16h-10.4M66.7 291.41h5.2M483.4 291.41h-5.2M66.7 278.67h5.2M483.4 278.67h-5.2M66.7 265.93h5.2M483.4 265.93h-5.2M66.7 253.19h5.2M483.4 253.19h-5.2M66.7 240.44h10.4M483.4 240.44h-10.4M66.7 227.7h5.2M483.4 227.7h-5.2M66.7 214.96h5.2M483.4 214.96h-5.2M66.7 202.21h5.2M483.4 202.21h-5.2M66.7 189.47h5.2M483.4 189.47h-5.2M66.7 176.73h10.4M483.4 176.73h-10.4M66.7 163.99h5.2M483.4 163.99h-5.2M66.7 151.24h5.2M483.4 151.24h-5.2M66.7 138.5h5.2M483.4 138.5h-5.2M66.7 125.76h5.2M483.4 125.76h-5.2M66.7 113.01h10.4M483.4 113.01h-10.4M66.7 100.27h5.2M483.4 100.27h-5.2M66.7 87.53h5.2M483.4 87.53h-5.2M66.7 74.79h5.2M483.4 74.79h-5.2M66.7 62.04h5.2M483.4 62.04h-5.2M66.7 49.3h10.4M483.4 49.3h-10.4" stroke="#333" stroke-width="1.4" fill="none"/>
<text transform="translate(61.7 504.1) scale(0.835 1)" font-size="25" text-anchor="end" font-family='"Liberation Sans", Arial, Helvetica, sans-serif'>-4.0</text>
<text transform="translate(61.7 440.39) scale(0.835 1)" font-size="25" text-anchor="end" font-family='"Liberation Sans", Arial, Helvetica, sans-serif'>-3.0</text>
<text transform="translate(61.7 376.67) scale(0.835 1)" font-size="25" text-anchor="end" font-family='"Liberation Sans", Arial, Helvetica, sans-serif'>-2.0</text>
<text transform="translate(61.7 312.96) scale(0.835 1)" font-size="25" text-anchor="end" font-family='"Liberation Sans", Arial, Helvetica, sans-serif'>-1.0</text>
<text transform="translate(61.7 249.24) scale(0.835 1)" font-size="25" text-anchor="end" font-family='"Liberation Sans", Arial, Helvetica, sans-serif'>0.0</text>
<text transform="translate(61.7 185.53) scale(0.835 1)" font-size="25" text-anchor="end" font-family='"Liberation Sans", Arial, Helvetica, sans-serif'>1.0</text>
<text transform="translate(61.7 121.81) scale(0.835 1)" font-size="25" text-anchor="end" font-family='"Liberation Sans", Arial, Helvetica, sans-serif'>2.0</text>
<text transform="translate(66.7 519.6) scale(0.835 1)" font-size="25" text-anchor="middle" font-family='"Liberation Sans", Arial, Helvetica, sans-serif'>0</text>
<text transform="translate(170.01 519.6) scale(0.835 1)" font-size="25" text-anchor="middle" font-family='"Liberation Sans", Arial, Helvetica, sans-serif'>3000</text>
<text transform="translate(273.33 519.6) scale(0.835 1)" font-size="25" text-anchor="middle" font-family='"Liberation Sans", Arial, Helvetica, sans-serif'>6000</text>
<text transform="translate(376.64 519.6) scale(0.835 1)" font-size="25" text-anchor="middle" font-family='"Liberation Sans", Arial, Helvetica, sans-serif'>9000</text>
<text transform="translate(479.96 519.6) scale(0.835 1)" font-size="25" text-anchor="middle" font-family='"Liberation Sans", Arial, Helvetica, sans-serif'>12000</text>
<text transform="translate(275.05 546.5) scale(0.848 1)" font-size="27" text-anchor="middle" font-family='"Liberation Sans", Arial, Helvetica, sans-serif'>Time (M)</text>
<text transform="translate(16.2 270.8) scale(0.82 1) rotate(-90)" font-size="27" text-anchor="middle" font-family='"Liberation Sans", Arial, sans-serif'>Error / Amp</text>
<text transform="translate(55.9 40.8) scale(0.82 1)" font-size="25" text-anchor="start" font-family='"Liberation Sans", Arial, Helvetica, sans-serif'>x10</text>
<text transform="translate(89.7 25.8) scale(0.82 1)" font-size="18" text-anchor="start" font-family='"Liberation Sans", Arial, Helvetica, sans-serif'>-2</text>
<path d="M587.7 495.3v-12.6M587.7 49.3v12.6M639.37 495.3v-6.3M639.37 49.3v6.3M691.04 495.3v-12.6M691.04 49.3v12.6M742.71 495.3v-6.3M742.71 49.3v6.3M794.38 495.3v-12.6M794.38 49.3v12.6M846.05 495.3v-6.3M846.05 49.3v6.3M897.72 495.3v-12.6M897.72 49.3v12.6M949.39 495.3v-6.3M949.39 49.3v6.3M1001.06 495.3v-12.6M1001.06 49.3v12.6M587.7 495.3h10.4M1004.5 495.3h-10.4M587.7 484.15h5.2M1004.5 484.15h-5.2M587.7 473h5.2M1004.5 473h-5.2M587.7 461.85h5.2M1004.5 461.85h-5.2M587.7 450.7h5.2M1004.5 450.7h-5.2M587.7 439.55h10.4M1004.5 439.55h-10.4M587.7 428.4h5.2M1004.5 428.4h-5.2M587.7 417.25h5.2M1004.5 417.25h-5.2M587.7 406.1h5.2M1004.5 406.1h-5.2M587.7 394.95h5.2M1004.5 394.95h-5.2M587.7 383.8h10.4M1004.5 383.8h-10.4M587.7 372.65h5.2M1004.5 372.65h-5.2M587.7 361.5h5.2M1004.5 361.5h-5.2M587.7 350.35h5.2M1004.5 350.35h-5.2M587.7 339.2h5.2M1004.5 339.2h-5.2M587.7 328.05h10.4M1004.5 328.05h-10.4M587.7 316.9h5.2M1004.5 316.9h-5.2M587.7 305.75h5.2M1004.5 305.75h-5.2M587.7 294.6h5.2M1004.5 294.6h-5.2M587.7 283.45h5.2M1004.5 283.45h-5.2M587.7 272.3h10.4M1004.5 272.3h-10.4M587.7 261.15h5.2M1004.5 261.15h-5.2M587.7 250h5.2M1004.5 250h-5.2M587.7 238.85h5.2M1004.5 238.85h-5.2M587.7 227.7h5.2M1004.5 227.7h-5.2M587.7 216.55h10.4M1004.5 216.55h-10.4M587.7 205.4h5.2M1004.5 205.4h-5.2M587.7 194.25h5.2M1004.5 194.25h-5.2M587.7 183.1h5.2M1004.5 183.1h-5.2M587.7 171.95h5.2M1004.5 171.95h-5.2M587.7 160.8h10.4M1004.5 160.8h-10.4M587.7 149.65h5.2M1004.5 149.65h-5.2M587.7 138.5h5.2M1004.5 138.5h-5.2M587.7 127.35h5.2M1004.5 127.35h-5.2M587.7 116.2h5.2M1004.5 116.2h-5.2M587.7 105.05h10.4M1004.5 105.05h-10.4M587.7 93.9h5.2M1004.5 93.9h-5.2M587.7 82.75h5.2M1004.5 82.75h-5.2M587.7 71.6h5.2M1004.5 71.6h-5.2M587.7 60.45h5.2M1004.5 60.45h-5.2M587.7 49.3h10.4M1004.5 49.3h-10.4" stroke="#333" stroke-width="1.4" fill="none"/>
<text transform="translate(582.7 504.1) scale(0.835 1)" font-size="25" text-anchor="end" font-family='"Liberation Sans", Arial, Helvetica, sans-serif'>-2.5</text>
<text transform="translate(582.7 448.35) scale(0.835 1)" font-size="25" text-anchor="end" font-family='"Liberation Sans", Arial, Helvetica, sans-serif'>-2.0</text>
<text transform="translate(582.7 392.6) scale(0.835 1)" font-size="25" text-anchor="end" font-family='"Liberation Sans", Arial, Helvetica, sans-serif'>-1.5</text>
<text transform="translate(582.7 336.85) scale(0.835 1)" font-size="25" text-anchor="end" font-family='"Liberation Sans", Arial, Helvetica, sans-serif'>-1.0</text>
<text transform="translate(582.7 281.1) scale(0.835 1)" font-size="25" text-anchor="end" font-family='"Liberation Sans", Arial, Helvetica, sans-serif'>-0.5</text>
<text transform="translate(582.7 225.35) scale(0.835 1)" font-size="25" text-anchor="end" font-family='"Liberation Sans", Arial, Helvetica, sans-serif'>0.0</text>
<text transform="translate(582.7 169.6) scale(0.835 1)" font-size="25" text-anchor="end" font-family='"Liberation Sans", Arial, Helvetica, sans-serif'>0.5</text>
<text transform="translate(582.7 113.85) scale(0.835 1)" font-size="25" text-anchor="end" font-family='"Liberation Sans", Arial, Helvetica, sans-serif'>1.0</text>
<text transform="translate(587.7 519.6) scale(0.835 1)" font-size="25" text-anchor="middle" font-family='"Liberation Sans", Arial, Helvetica, sans-serif'>0</text>
<text transform="translate(691.04 519.6) scale(0.835 1)" font-size="25" text-anchor="middle" font-family='"Liberation Sans", Arial, Helvetica, sans-serif'>3000</text>
<text transform="translate(794.38 519.6) scale(0.835 1)" font-size="25" text-anchor="middle" font-family='"Liberation Sans", Arial, Helvetica, sans-serif'>6000</text>
<text transform="translate(897.72 519.6) scale(0.835 1)" font-size="25" text-anchor="middle" font-family='"Liberation Sans", Arial, Helvetica, sans-serif'>9000</text>
<text transform="translate(1001.06 519.6) scale(0.835 1)" font-size="25" text-anchor="middle" font-family='"Liberation Sans", Arial, Helvetica, sans-serif'>12000</text>
<text transform="translate(796.1 546.5) scale(0.848 1)" font-size="27" text-anchor="middle" font-family='"Liberation Sans", Arial, Helvetica, sans-serif'>Time (M)</text>
<text transform="translate(537.2 270.8) scale(0.82 1) rotate(-90)" font-size="27" text-anchor="middle" font-family='"Liberation Sans", Arial, sans-serif'>Error / Amp</text>
<text transform="translate(576.9 40.8) scale(0.82 1)" font-size="25" text-anchor="start" font-family='"Liberation Sans", Arial, Helvetica, sans-serif'>x10</text>
<text transform="translate(610.7 25.8) scale(0.82 1)" font-size="18" text-anchor="start" font-family='"Liberation Sans", Arial, Helvetica, sans-serif'>-1</text>
<path d="M1108.5 495.3v-12.6M1108.5 49.3v12.6M1160.17 495.3v-6.3M1160.17 49.3v6.3M1211.84 495.3v-12.6M1211.84 49.3v12.6M1263.51 495.3v-6.3M1263.51 49.3v6.3M1315.18 495.3v-12.6M1315.18 49.3v12.6M1366.85 495.3v-6.3M1366.85 49.3v6.3M1418.52 495.3v-12.6M1418.52 49.3v12.6M1470.19 495.3v-6.3M1470.19 49.3v6.3M1521.86 495.3v-12.6M1521.86 49.3v12.6M1108.5 495.3h10.4M1525.3 495.3h-10.4M1108.5 484.15h5.2M1525.3 484.15h-5.2M1108.5 473h5.2M1525.3 473h-5.2M1108.5 461.85h5.2M1525.3 461.85h-5.2M1108.5 450.7h5.2M1525.3 450.7h-5.2M1108.5 439.55h10.4M1525.3 439.55h-10.4M1108.5 428.4h5.2M1525.3 428.4h-5.2M1108.5 417.25h5.2M1525.3 417.25h-5.2M1108.5 406.1h5.2M1525.3 406.1h-5.2M1108.5 394.95h5.2M1525.3 394.95h-5.2M1108.5 383.8h10.4M1525.3 383.8h-10.4M1108.5 372.65h5.2M1525.3 372.65h-5.2M1108.5 361.5h5.2M1525.3 361.5h-5.2M1108.5 350.35h5.2M1525.3 350.35h-5.2M1108.5 339.2h5.2M1525.3 339.2h-5.2M1108.5 328.05h10.4M1525.3 328.05h-10.4M1108.5 316.9h5.2M1525.3 316.9h-5.2M1108.5 305.75h5.2M1525.3 305.75h-5.2M1108.5 294.6h5.2M1525.3 294.6h-5.2M1108.5 283.45h5.2M1525.3 283.45h-5.2M1108.5 272.3h10.4M1525.3 272.3h-10.4M1108.5 261.15h5.2M1525.3 261.15h-5.2M1108.5 250h5.2M1525.3 250h-5.2M1108.5 238.85h5.2M1525.3 238.85h-5.2M1108.5 227.7h5.2M1525.3 227.7h-5.2M1108.5 216.55h10.4M1525.3 216.55h-10.4M1108.5 205.4h5.2M1525.3 205.4h-5.2M1108.5 194.25h5.2M1525.3 194.25h-5.2M1108.5 183.1h5.2M1525.3 183.1h-5.2M1108.5 171.95h5.2M1525.3 171.95h-5.2M1108.5 160.8h10.4M1525.3 160.8h-10.4M1108.5 149.65h5.2M1525.3 149.65h-5.2M1108.5 138.5h5.2M1525.3 138.5h-5.2M1108.5 127.35h5.2M1525.3 127.35h-5.2M1108.5 116.2h5.2M1525.3 116.2h-5.2M1108.5 105.05h10.4M1525.3 105.05h-10.4M1108.5 93.9h5.2M1525.3 93.9h-5.2M1108.5 82.75h5.2M1525.3 82.75h-5.2M1108.5 71.6h5.2M1525.3 71.6h-5.2M1108.5 60.45h5.2M1525.3 60.45h-5.2M1108.5 49.3h10.4M1525.3 49.3h-10.4" stroke="#333" stroke-width="1.4" fill="none"/>
<text transform="translate(1103.5 504.1) scale(0.835 1)" font-size="25" text-anchor="end" font-family='"Liberation Sans", Arial, Helvetica, sans-serif'>-1.5</text>
<text transform="translate(1103.5 448.35) scale(0.835 1)" font-size="25" text-anchor="end" font-family='"Liberation Sans", Arial, Helvetica, sans-serif'>-1.0</text>
<text transform="translate(1103.5 392.6) scale(0.835 1)" font-size="25" text-anchor="end" font-family='"Liberation Sans", Arial, Helvetica, sans-serif'>-0.5</text>
<text transform="translate(1103.5 336.85) scale(0.835 1)" font-size="25" text-anchor="end" font-family='"Liberation Sans", Arial, Helvetica, sans-serif'>0.0</text>
<text transform="translate(1103.5 281.1) scale(0.835 1)" font-size="25" text-anchor="end" font-family='"Liberation Sans", Arial, Helvetica, sans-serif'>0.5</text>
<text transform="translate(1103.5 225.35) scale(0.835 1)" font-size="25" text-anchor="end" font-family='"Liberation Sans", Arial, Helvetica, sans-serif'>1.0</text>
<text transform="translate(1103.5 169.6) scale(0.835 1)" font-size="25" text-anchor="end" font-family='"Liberation Sans", Arial, Helvetica, sans-serif'>1.5</text>
<text transform="translate(1103.5 113.85) scale(0.835 1)" font-size="25" text-anchor="end" font-family='"Liberation Sans", Arial, Helvetica, sans-serif'>2.0</text>
<text transform="translate(1108.5 519.6) scale(0.835 1)" font-size="25" text-anchor="middle" font-family='"Liberation Sans", Arial, Helvetica, sans-serif'>0</text>
<text transform="translate(1211.84 519.6) scale(0.835 1)" font-size="25" text-anchor="middle" font-family='"Liberation Sans", Arial, Helvetica, sans-serif'>3000</text>
<text transform="translate(1315.18 519.6) scale(0.835 1)" font-size="25" text-anchor="middle" font-family='"Liberation Sans", Arial, Helvetica, sans-serif'>6000</text>
<text transform="translate(1418.52 519.6) scale(0.835 1)" font-size="25" text-anchor="middle" font-family='"Liberation Sans", Arial, Helvetica, sans-serif'>9000</text>
<text transform="translate(1521.86 519.6) scale(0.835 1)" font-size="25" text-anchor="middle" font-family='"Liberation Sans", Arial, Helvetica, sans-serif'>12000</text>
<text transform="translate(1316.9 546.5) scale(0.848 1)" font-size="27" text-anchor="middle" font-family='"Liberation Sans", Arial, Helvetica, sans-serif'>Time (M)</text>
<text transform="translate(1058 270.8) scale(0.82 1) rotate(-90)" font-size="27" text-anchor="middle" font-family='"Liberation Sans", Arial, sans-serif'>Error / Amp</text>
<text transform="translate(1097.7 40.8) scale(0.82 1)" font-size="25" text-anchor="start" font-family='"Liberation Sans", Arial, Helvetica, sans-serif'>x10</text>
<text transform="translate(1131.5 25.8) scale(0.82 1)" font-size="18" text-anchor="start" font-family='"Liberation Sans", Arial, Helvetica, sans-serif'>-1</text>
<path d="M66.7 1040.3v-12.6M66.7 594.35v12.6M118.36 1040.3v-6.3M118.36 594.35v6.3M170.01 1040.3v-12.6M170.01 594.35v12.6M221.67 1040.3v-6.3M221.67 594.35v6.3M273.33 1040.3v-12.6M273.33 594.35v12.6M324.99 1040.3v-6.3M324.99 594.35v6.3M376.64 1040.3v-12.6M376.64 594.35v12.6M428.3 1040.3v-6.3M428.3 594.35v6.3M479.96 1040.3v-12.6M479.96 594.35v12.6M66.7 1040.3h10.4M483.4 1040.3h-10.4M66.7 1025.43h5.2M483.4 1025.43h-5.2M66.7 1010.57h5.2M483.4 1010.57h-5.2M66.7 995.7h5.2M483.4 995.7h-5.2M66.7 980.84h5.2M483.4 980.84h-5.2M66.7 965.97h10.4M483.4 965.97h-10.4M66.7 951.11h5.2M483.4 951.11h-5.2M66.7 936.25h5.2M483.4 936.25h-5.2M66.7 921.38h5.2M483.4 921.38h-5.2M66.7 906.51h5.2M483.4 906.51h-5.2M66.7 891.65h10.4M483.4 891.65h-10.4M66.7 876.78h5.2M483.4 876.78h-5.2M66.7 861.92h5.2M483.4 861.92h-5.2M66.7 847.05h5.2M483.4 847.05h-5.2M66.7 832.19h5.2M483.4 832.19h-5.2M66.7 817.32h10.4M483.4 817.32h-10.4M66.7 802.46h5.2M483.4 802.46h-5.2M66.7 787.59h5.2M483.4 787.59h-5.2M66.7 772.73h5.2M483.4 772.73h-5.2M66.7 757.87h5.2M483.4 757.87h-5.2M66.7 743h10.4M483.4 743h-10.4M66.7 728.13h5.2M483.4 728.13h-5.2M66.7 713.27h5.2M483.4 713.27h-5.2M66.7 698.4h5.2M483.4 698.4h-5.2M66.7 683.54h5.2M483.4 683.54h-5.2M66.7 668.67h10.4M483.4 668.67h-10.4M66.7 653.81h5.2M483.4 653.81h-5.2M66.7 638.94h5.2M483.4 638.94h-5.2M66.7 624.08h5.2M483.4 624.08h-5.2M66.7 609.21h5.2M483.4 609.21h-5.2M66.7 594.35h10.4M483.4 594.35h-10.4" stroke="#333" stroke-width="1.4" fill="none"/>
<text transform="translate(61.7 1049.1) scale(0.835 1)" font-size="25" text-anchor="end" font-family='"Liberation Sans", Arial, Helvetica, sans-serif'>-1.5</text>
<text transform="translate(61.7 974.77) scale(0.835 1)" font-size="25" text-anchor="end" font-family='"Liberation Sans", Arial, Helvetica, sans-serif'>-1.0</text>
<text transform="translate(61.7 900.45) scale(0.835 1)" font-size="25" text-anchor="end" font-family='"Liberation Sans", Arial, Helvetica, sans-serif'>-0.5</text>
<text transform="translate(61.7 826.12) scale(0.835 1)" font-size="25" text-anchor="end" font-family='"Liberation Sans", Arial, Helvetica, sans-serif'>0.0</text>
<text transform="translate(61.7 751.8) scale(0.835 1)" font-size="25" text-anchor="end" font-family='"Liberation Sans", Arial, Helvetica, sans-serif'>0.5</text>
<text transform="translate(61.7 677.47) scale(0.835 1)" font-size="25" text-anchor="end" font-family='"Liberation Sans", Arial, Helvetica, sans-serif'>1.0</text>
<text transform="translate(66.7 1064.6) scale(0.835 1)" font-size="25" text-anchor="middle" font-family='"Liberation Sans", Arial, Helvetica, sans-serif'>0</text>
<text transform="translate(170.01 1064.6) scale(0.835 1)" font-size="25" text-anchor="middle" font-family='"Liberation Sans", Arial, Helvetica, sans-serif'>3000</text>
<text transform="translate(273.33 1064.6) scale(0.835 1)" font-size="25" text-anchor="middle" font-family='"Liberation Sans", Arial, Helvetica, sans-serif'>6000</text>
<text transform="translate(376.64 1064.6) scale(0.835 1)" font-size="25" text-anchor="middle" font-family='"Liberation Sans", Arial, Helvetica, sans-serif'>9000</text>
<text transform="translate(479.96 1064.6) scale(0.835 1)" font-size="25" text-anchor="middle" font-family='"Liberation Sans", Arial, Helvetica, sans-serif'>12000</text>
<text transform="translate(275.05 1091.5) scale(0.848 1)" font-size="27" text-anchor="middle" font-family='"Liberation Sans", Arial, Helvetica, sans-serif'>Time (M)</text>
<text transform="translate(16.2 815.83) scale(0.82 1) rotate(-90)" font-size="27" text-anchor="middle" font-family='"Liberation Sans", Arial, sans-serif'>Error / Amp</text>
<text transform="translate(55.9 585.85) scale(0.82 1)" font-size="25" text-anchor="start" font-family='"Liberation Sans", Arial, Helvetica, sans-serif'>x10</text>
<text transform="translate(89.7 570.85) scale(0.82 1)" font-size="18" text-anchor="start" font-family='"Liberation Sans", Arial, Helvetica, sans-serif'>-1</text>
<path d="M587.7 1040.3v-12.6M587.7 594.35v12.6M639.37 1040.3v-6.3M639.37 594.35v6.3M691.04 1040.3v-12.6M691.04 594.35v12.6M742.71 1040.3v-6.3M742.71 594.35v6.3M794.38 1040.3v-12.6M794.38 594.35v12.6M846.05 1040.3v-6.3M846.05 594.35v6.3M897.72 1040.3v-12.6M897.72 594.35v12.6M949.39 1040.3v-6.3M949.39 594.35v6.3M1001.06 1040.3v-12.6M1001.06 594.35v12.6M587.7 1040.3h10.4M1004.5 1040.3h-10.4M587.7 1024.08h5.2M1004.5 1024.08h-5.2M587.7 1007.87h5.2M1004.5 1007.87h-5.2M587.7 991.65h5.2M1004.5 991.65h-5.2M587.7 975.43h5.2M1004.5 975.43h-5.2M587.7 959.22h10.4M1004.5 959.22h-10.4M587.7 943h5.2M1004.5 943h-5.2M587.7 926.79h5.2M1004.5 926.79h-5.2M587.7 910.57h5.2M1004.5 910.57h-5.2M587.7 894.35h5.2M1004.5 894.35h-5.2M587.7 878.14h10.4M1004.5 878.14h-10.4M587.7 861.92h5.2M1004.5 861.92h-5.2M587.7 845.7h5.2M1004.5 845.7h-5.2M587.7 829.49h5.2M1004.5 829.49h-5.2M587.7 813.27h5.2M1004.5 813.27h-5.2M587.7 797.05h10.4M1004.5 797.05h-10.4M587.7 780.84h5.2M1004.5 780.84h-5.2M587.7 764.62h5.2M1004.5 764.62h-5.2M587.7 748.41h5.2M1004.5 748.41h-5.2M587.7 732.19h5.2M1004.5 732.19h-5.2M587.7 715.97h10.4M1004.5 715.97h-10.4M587.7 699.76h5.2M1004.5 699.76h-5.2M587.7 683.54h5.2M1004.5 683.54h-5.2M587.7 667.32h5.2M1004.5 667.32h-5.2M587.7 651.11h5.2M1004.5 651.11h-5.2M587.7 634.89h10.4M1004.5 634.89h-10.4M587.7 618.67h5.2M1004.5 618.67h-5.2M587.7 602.46h5.2M1004.5 602.46h-5.2" stroke="#333" stroke-width="1.4" fill="none"/>
<text transform="translate(582.7 1049.1) scale(0.835 1)" font-size="25" text-anchor="end" font-family='"Liberation Sans", Arial, Helvetica, sans-serif'>-6.0</text>
<text transform="translate(582.7 968.02) scale(0.835 1)" font-size="25" text-anchor="end" font-family='"Liberation Sans", Arial, Helvetica, sans-serif'>-4.0</text>
<text transform="translate(582.7 886.94) scale(0.835 1)" font-size="25" text-anchor="end" font-family='"Liberation Sans", Arial, Helvetica, sans-serif'>-2.0</text>
<text transform="translate(582.7 805.85) scale(0.835 1)" font-size="25" text-anchor="end" font-family='"Liberation Sans", Arial, Helvetica, sans-serif'>0.0</text>
<text transform="translate(582.7 724.77) scale(0.835 1)" font-size="25" text-anchor="end" font-family='"Liberation Sans", Arial, Helvetica, sans-serif'>2.0</text>
<text transform="translate(582.7 643.69) scale(0.835 1)" font-size="25" text-anchor="end" font-family='"Liberation Sans", Arial, Helvetica, sans-serif'>4.0</text>
<text transform="translate(587.7 1064.6) scale(0.835 1)" font-size="25" text-anchor="middle" font-family='"Liberation Sans", Arial, Helvetica, sans-serif'>0</text>
<text transform="translate(691.04 1064.6) scale(0.835 1)" font-size="25" text-anchor="middle" font-family='"Liberation Sans", Arial, Helvetica, sans-serif'>3000</text>
<text transform="translate(794.38 1064.6) scale(0.835 1)" font-size="25" text-anchor="middle" font-family='"Liberation Sans", Arial, Helvetica, sans-serif'>6000</text>
<text transform="translate(897.72 1064.6) scale(0.835 1)" font-size="25" text-anchor="middle" font-family='"Liberation Sans", Arial, Helvetica, sans-serif'>9000</text>
<text transform="translate(1001.06 1064.6) scale(0.835 1)" font-size="25" text-anchor="middle" font-family='"Liberation Sans", Arial, Helvetica, sans-serif'>12000</text>
<text transform="translate(796.1 1091.5) scale(0.848 1)" font-size="27" text-anchor="middle" font-family='"Liberation Sans", Arial, Helvetica, sans-serif'>Time (M)</text>
<text transform="translate(537.2 815.83) scale(0.82 1) rotate(-90)" font-size="27" text-anchor="middle" font-family='"Liberation Sans", Arial, sans-serif'>Error / Amp</text>
<text transform="translate(576.9 585.85) scale(0.82 1)" font-size="25" text-anchor="start" font-family='"Liberation Sans", Arial, Helvetica, sans-serif'>x10</text>
<text transform="translate(610.7 570.85) scale(0.82 1)" font-size="18" text-anchor="start" font-family='"Liberation Sans", Arial, Helvetica, sans-serif'>-1</text>
<path d="M1108.5 1040.3v-12.6M1108.5 594.35v12.6M1160.17 1040.3v-6.3M1160.17 594.35v6.3M1211.84 1040.3v-12.6M1211.84 594.35v12.6M1263.51 1040.3v-6.3M1263.51 594.35v6.3M1315.18 1040.3v-12.6M1315.18 594.35v12.6M1366.85 1040.3v-6.3M1366.85 594.35v6.3M1418.52 1040.3v-12.6M1418.52 594.35v12.6M1470.19 1040.3v-6.3M1470.19 594.35v6.3M1521.86 1040.3v-12.6M1521.86 594.35v12.6M1108.5 1040.3h10.4M1525.3 1040.3h-10.4M1108.5 1026.58h5.2M1525.3 1026.58h-5.2M1108.5 1012.86h5.2M1525.3 1012.86h-5.2M1108.5 999.14h5.2M1525.3 999.14h-5.2M1108.5 985.41h5.2M1525.3 985.41h-5.2M1108.5 971.69h10.4M1525.3 971.69h-10.4M1108.5 957.97h5.2M1525.3 957.97h-5.2M1108.5 944.25h5.2M1525.3 944.25h-5.2M1108.5 930.53h5.2M1525.3 930.53h-5.2M1108.5 916.81h5.2M1525.3 916.81h-5.2M1108.5 903.08h10.4M1525.3 903.08h-10.4M1108.5 889.36h5.2M1525.3 889.36h-5.2M1108.5 875.64h5.2M1525.3 875.64h-5.2M1108.5 861.92h5.2M1525.3 861.92h-5.2M1108.5 848.2h5.2M1525.3 848.2h-5.2M1108.5 834.48h10.4M1525.3 834.48h-10.4M1108.5 820.76h5.2M1525.3 820.76h-5.2M1108.5 807.03h5.2M1525.3 807.03h-5.2M1108.5 793.31h5.2M1525.3 793.31h-5.2M1108.5 779.59h5.2M1525.3 779.59h-5.2M1108.5 765.87h10.4M1525.3 765.87h-10.4M1108.5 752.15h5.2M1525.3 752.15h-5.2M1108.5 738.43h5.2M1525.3 738.43h-5.2M1108.5 724.7h5.2M1525.3 724.7h-5.2M1108.5 710.98h5.2M1525.3 710.98h-5.2M1108.5 697.26h10.4M1525.3 697.26h-10.4M1108.5 683.54h5.2M1525.3 683.54h-5.2M1108.5 669.82h5.2M1525.3 669.82h-5.2M1108.5 656.1h5.2M1525.3 656.1h-5.2M1108.5 642.38h5.2M1525.3 642.38h-5.2M1108.5 628.65h10.4M1525.3 628.65h-10.4M1108.5 614.93h5.2M1525.3 614.93h-5.2M1108.5 601.21h5.2M1525.3 601.21h-5.2" stroke="#333" stroke-width="1.4" fill="none"/>
<text transform="translate(1103.5 1049.1) scale(0.835 1)" font-size="25" text-anchor="end" font-family='"Liberation Sans", Arial, Helvetica, sans-serif'>-1.5</text>
<text transform="translate(1103.5 980.49) scale(0.835 1)" font-size="25" text-anchor="end" font-family='"Liberation Sans", Arial, Helvetica, sans-serif'>-1.0</text>
<text transform="translate(1103.5 911.88) scale(0.835 1)" font-size="25" text-anchor="end" font-family='"Liberation Sans", Arial, Helvetica, sans-serif'>-0.5</text>
<text transform="translate(1103.5 843.28) scale(0.835 1)" font-size="25" text-anchor="end" font-family='"Liberation Sans", Arial, Helvetica, sans-serif'>0.0</text>
<text transform="translate(1103.5 774.67) scale(0.835 1)" font-size="25" text-anchor="end" font-family='"Liberation Sans", Arial, Helvetica, sans-serif'>0.5</text>
<text transform="translate(1103.5 706.06) scale(0.835 1)" font-size="25" text-anchor="end" font-family='"Liberation Sans", Arial, Helvetica, sans-serif'>1.0</text>
<text transform="translate(1103.5 637.45) scale(0.835 1)" font-size="25" text-anchor="end" font-family='"Liberation Sans", Arial, Helvetica, sans-serif'>1.5</text>
<text transform="translate(1108.5 1064.6) scale(0.835 1)" font-size="25" text-anchor="middle" font-family='"Liberation Sans", Arial, Helvetica, sans-serif'>0</text>
<text transform="translate(1211.84 1064.6) scale(0.835 1)" font-size="25" text-anchor="middle" font-family='"Liberation Sans", Arial, Helvetica, sans-serif'>3000</text>
<text transform="translate(1315.18 1064.6) scale(0.835 1)" font-size="25" text-anchor="middle" font-family='"Liberation Sans", Arial, Helvetica, sans-serif'>6000</text>
<text transform="translate(1418.52 1064.6) scale(0.835 1)" font-size="25" text-anchor="middle" font-family='"Liberation Sans", Arial, Helvetica, sans-serif'>9000</text>
<text transform="translate(1521.86 1064.6) scale(0.835 1)" font-size="25" text-anchor="middle" font-family='"Liberation Sans", Arial, Helvetica, sans-serif'>12000</text>
<text transform="translate(1316.9 1091.5) scale(0.848 1)" font-size="27" text-anchor="middle" font-family='"Liberation Sans", Arial, Helvetica, sans-serif'>Time (M)</text>
<text transform="translate(1058 815.83) scale(0.82 1) rotate(-90)" font-size="27" text-anchor="middle" font-family='"Liberation Sans", Arial, sans-serif'>Error / Amp</text>
<text transform="translate(1097.7 585.85) scale(0.82 1)" font-size="25" text-anchor="start" font-family='"Liberation Sans", Arial, Helvetica, sans-serif'>x10</text>
<text transform="translate(1131.5 570.85) scale(0.82 1)" font-size="18" text-anchor="start" font-family='"Liberation Sans", Arial, Helvetica, sans-serif'>-1</text>
<path d="M66.1 49.3H484M66.1 495.3H484" stroke="#111" stroke-width="1.3" fill="none"/><path d="M66.7 49.3V495.3M483.4 49.3V495.3" stroke="#222" stroke-width="1.4" fill="none"/>
<text transform="translate(110 86.9) scale(0.93 1)" font-family='"Liberation Serif", "Times New Roman", serif' font-size="28.5">Φ</text><text transform="translate(127.4 72.6) scale(0.82 1)" font-family='"Liberation Serif", "Times New Roman", serif' font-size="22">+</text><text transform="translate(137.3 86.9) scale(0.82 1)" font-family='"Liberation Serif", "Times New Roman", serif' font-size="28">(2,2)</text>
<rect x="238.8" y="398.6" width="177.8" height="82.5" fill="#fff"/>
<path d="M238.8 398.6h177.8M238.8 481.1h177.8" stroke="#555" stroke-width="1.3" stroke-dasharray="1.6 1.6" fill="none"/>
<path d="M238.8 398.6v82.5M416.6 398.6v82.5" stroke="#555" stroke-width="1.4" stroke-dasharray="1.9 1.9" fill="none"/>
<path d="M246.4 414.5h32.5" stroke="#40e0d0" stroke-width="3.5"/>
<path d="M246.4 438.1h32.5" stroke="#ff0000" stroke-width="2.0"/>
<path d="M246.4 463.2h32.5" stroke="#0000ff" stroke-width="2.0"/>
<text transform="translate(289.8 420) scale(0.82 1)" font-size="20.5" text-anchor="start" font-family='"Liberation Sans", Arial, Helvetica, sans-serif'>WeylHOBC, L=4</text>
<text transform="translate(289.8 445.6) scale(0.82 1)" font-size="20.5" text-anchor="start" font-family='"Liberation Sans", Arial, Helvetica, sans-serif'>L=1</text>
<text transform="translate(289.8 466.7) scale(0.82 1)" font-size="20.5" font-family='"Liberation Sans", Arial, Helvetica, sans-serif'>L=4 with w<tspan font-size="13" dy="7.7">k</tspan><tspan dy="-7.7"> init</tspan></text>
<path d="M587.1 49.3H1005.1M587.1 495.3H1005.1" stroke="#111" stroke-width="1.3" fill="none"/><path d="M587.7 49.3V495.3M1004.5 49.3V495.3" stroke="#222" stroke-width="1.4" fill="none"/>
<text transform="translate(636.6 100.8) scale(0.93 1)" font-family='"Liberation Serif", "Times New Roman", serif' font-size="28.5">Φ</text><text transform="translate(654 86.5) scale(0.82 1)" font-family='"Liberation Serif", "Times New Roman", serif' font-size="22">+</text><text transform="translate(663.9 100.8) scale(0.82 1)" font-family='"Liberation Serif", "Times New Roman", serif' font-size="28">(2,0)</text>
<rect x="733.3" y="256.1" width="177.8" height="82.5" fill="#fff"/>
<path d="M733.3 256.1h177.8M733.3 338.6h177.8" stroke="#555" stroke-width="1.3" stroke-dasharray="1.6 1.6" fill="none"/>
<path d="M733.3 256.1v82.5M911.1 256.1v82.5" stroke="#555" stroke-width="1.4" stroke-dasharray="1.9 1.9" fill="none"/>
<path d="M740.9 272h32.5" stroke="#40e0d0" stroke-width="3.5"/>
<path d="M740.9 295.6h32.5" stroke="#ff0000" stroke-width="2.0"/>
<path d="M740.9 320.7h32.5" stroke="#0000ff" stroke-width="2.0"/>
<text transform="translate(784.3 277.5) scale(0.82 1)" font-size="20.5" text-anchor="start" font-family='"Liberation Sans", Arial, Helvetica, sans-serif'>WeylHOBC, L=4</text>
<text transform="translate(784.3 303.1) scale(0.82 1)" font-size="20.5" text-anchor="start" font-family='"Liberation Sans", Arial, Helvetica, sans-serif'>L=1</text>
<text transform="translate(784.3 324.2) scale(0.82 1)" font-size="20.5" font-family='"Liberation Sans", Arial, Helvetica, sans-serif'>L=4 with w<tspan font-size="13" dy="7.7">k</tspan><tspan dy="-7.7"> init</tspan></text>
<path d="M1107.9 49.3H1525.9M1107.9 495.3H1525.9" stroke="#111" stroke-width="1.3" fill="none"/><path d="M1108.5 49.3V495.3M1525.3 49.3V495.3" stroke="#222" stroke-width="1.4" fill="none"/>
<text transform="translate(1141.4 94.5) scale(0.93 1)" font-family='"Liberation Serif", "Times New Roman", serif' font-size="28.5">Φ</text><text transform="translate(1158.8 80) scale(0.82 1)" font-family='"Liberation Serif", "Times New Roman", serif' font-size="22">−</text><text transform="translate(1168.7 94.5) scale(0.82 1)" font-family='"Liberation Serif", "Times New Roman", serif' font-size="28">(2,1)</text>
<rect x="1249" y="68.6" width="177.8" height="82.5" fill="#fff"/>
<path d="M1249 68.6h177.8M1249 151.1h177.8" stroke="#555" stroke-width="1.3" stroke-dasharray="1.6 1.6" fill="none"/>
<path d="M1249 68.6v82.5M1426.8 68.6v82.5" stroke="#555" stroke-width="1.4" stroke-dasharray="1.9 1.9" fill="none"/>
<path d="M1256.6 84.5h32.5" stroke="#40e0d0" stroke-width="3.5"/>
<path d="M1256.6 108.1h32.5" stroke="#ff0000" stroke-width="2.0"/>
<path d="M1256.6 133.2h32.5" stroke="#0000ff" stroke-width="2.0"/>
<text transform="translate(1300 90) scale(0.82 1)" font-size="20.5" text-anchor="start" font-family='"Liberation Sans", Arial, Helvetica, sans-serif'>WeylHOBC, L=4</text>
<text transform="translate(1300 115.6) scale(0.82 1)" font-size="20.5" text-anchor="start" font-family='"Liberation Sans", Arial, Helvetica, sans-serif'>L=1</text>
<text transform="translate(1300 136.7) scale(0.82 1)" font-size="20.5" font-family='"Liberation Sans", Arial, Helvetica, sans-serif'>L=4 with w<tspan font-size="13" dy="7.7">k</tspan><tspan dy="-7.7"> init</tspan></text>
<path d="M66.1 594.35H484M66.1 1040.3H484" stroke="#111" stroke-width="1.3" fill="none"/><path d="M66.7 594.35V1040.3M483.4 594.35V1040.3" stroke="#222" stroke-width="1.4" fill="none"/>
<text transform="translate(91.4 636.4) scale(0.93 1)" font-family='"Liberation Serif", "Times New Roman", serif' font-size="28.5">Φ</text><text transform="translate(108.8 622.1) scale(0.82 1)" font-family='"Liberation Serif", "Times New Roman", serif' font-size="22">+</text><text transform="translate(118.7 636.4) scale(0.82 1)" font-family='"Liberation Serif", "Times New Roman", serif' font-size="28">(3,3)</text>
<rect x="130.6" y="937.5" width="177.8" height="82.5" fill="#fff"/>
<path d="M130.6 937.5h177.8M130.6 1020h177.8" stroke="#555" stroke-width="1.3" stroke-dasharray="1.6 1.6" fill="none"/>
<path d="M130.6 937.5v82.5M308.4 937.5v82.5" stroke="#555" stroke-width="1.4" stroke-dasharray="1.9 1.9" fill="none"/>
<path d="M138.2 953.4h32.5" stroke="#40e0d0" stroke-width="3.5"/>
<path d="M138.2 977h32.5" stroke="#ff0000" stroke-width="2.0"/>
<path d="M138.2 1002.1h32.5" stroke="#0000ff" stroke-width="2.0"/>
<text transform="translate(181.6 958.9) scale(0.82 1)" font-size="20.5" text-anchor="start" font-family='"Liberation Sans", Arial, Helvetica, sans-serif'>WeylHOBC, L=4</text>
<text transform="translate(181.6 984.5) scale(0.82 1)" font-size="20.5" text-anchor="start" font-family='"Liberation Sans", Arial, Helvetica, sans-serif'>L=1</text>
<text transform="translate(181.6 1005.6) scale(0.82 1)" font-size="20.5" font-family='"Liberation Sans", Arial, Helvetica, sans-serif'>L=4 with w<tspan font-size="13" dy="7.7">k</tspan><tspan dy="-7.7"> init</tspan></text>
<path d="M587.1 594.35H1005.1M587.1 1040.3H1005.1" stroke="#111" stroke-width="1.3" fill="none"/><path d="M587.7 594.35V1040.3M1004.5 594.35V1040.3" stroke="#222" stroke-width="1.4" fill="none"/>
<text transform="translate(636.6 645.6) scale(0.93 1)" font-family='"Liberation Serif", "Times New Roman", serif' font-size="28.5">Φ</text><text transform="translate(654 631.3) scale(0.82 1)" font-family='"Liberation Serif", "Times New Roman", serif' font-size="22">+</text><text transform="translate(663.9 645.6) scale(0.82 1)" font-family='"Liberation Serif", "Times New Roman", serif' font-size="28">(3,1)</text>
<rect x="651.9" y="937.5" width="177.8" height="82.5" fill="#fff"/>
<path d="M651.9 937.5h177.8M651.9 1020h177.8" stroke="#555" stroke-width="1.3" stroke-dasharray="1.6 1.6" fill="none"/>
<path d="M651.9 937.5v82.5M829.7 937.5v82.5" stroke="#555" stroke-width="1.4" stroke-dasharray="1.9 1.9" fill="none"/>
<path d="M659.5 953.4h32.5" stroke="#40e0d0" stroke-width="3.5"/>
<path d="M659.5 977h32.5" stroke="#ff0000" stroke-width="2.0"/>
<path d="M659.5 1002.1h32.5" stroke="#0000ff" stroke-width="2.0"/>
<text transform="translate(702.9 958.9) scale(0.82 1)" font-size="20.5" text-anchor="start" font-family='"Liberation Sans", Arial, Helvetica, sans-serif'>WeylHOBC, L=4</text>
<text transform="translate(702.9 984.5) scale(0.82 1)" font-size="20.5" text-anchor="start" font-family='"Liberation Sans", Arial, Helvetica, sans-serif'>L=1</text>
<text transform="translate(702.9 1005.6) scale(0.82 1)" font-size="20.5" font-family='"Liberation Sans", Arial, Helvetica, sans-serif'>L=4 with w<tspan font-size="13" dy="7.7">k</tspan><tspan dy="-7.7"> init</tspan></text>
<path d="M1107.9 594.35H1525.9M1107.9 1040.3H1525.9" stroke="#111" stroke-width="1.3" fill="none"/><path d="M1108.5 594.35V1040.3M1525.3 594.35V1040.3" stroke="#222" stroke-width="1.4" fill="none"/>
<text transform="translate(1157.6 645.6) scale(0.93 1)" font-family='"Liberation Serif", "Times New Roman", serif' font-size="28.5">Φ</text><text transform="translate(1175 631.3) scale(0.82 1)" font-family='"Liberation Serif", "Times New Roman", serif' font-size="22">+</text><text transform="translate(1184.9 645.6) scale(0.82 1)" font-family='"Liberation Serif", "Times New Roman", serif' font-size="28">(4,4)</text>
<rect x="1173.3" y="937.5" width="177.8" height="82.5" fill="#fff"/>
<path d="M1173.3 937.5h177.8M1173.3 1020h177.8" stroke="#555" stroke-width="1.3" stroke-dasharray="1.6 1.6" fill="none"/>
<path d="M1173.3 937.5v82.5M1351.1 937.5v82.5" stroke="#555" stroke-width="1.4" stroke-dasharray="1.9 1.9" fill="none"/>
<path d="M1180.9 953.4h32.5" stroke="#40e0d0" stroke-width="3.5"/>
<path d="M1180.9 977h32.5" stroke="#ff0000" stroke-width="2.0"/>
<path d="M1180.9 1002.1h32.5" stroke="#0000ff" stroke-width="2.0"/>
<text transform="translate(1224.3 958.9) scale(0.82 1)" font-size="20.5" text-anchor="start" font-family='"Liberation Sans", Arial, Helvetica, sans-serif'>WeylHOBC, L=4</text>
<text transform="translate(1224.3 984.5) scale(0.82 1)" font-size="20.5" text-anchor="start" font-family='"Liberation Sans", Arial, Helvetica, sans-serif'>L=1</text>
<text transform="translate(1224.3 1005.6) scale(0.82 1)" font-size="20.5" font-family='"Liberation Sans", Arial, Helvetica, sans-serif'>L=4 with w<tspan font-size="13" dy="7.7">k</tspan><tspan dy="-7.7"> init</tspan></text>
</svg></body></html>
